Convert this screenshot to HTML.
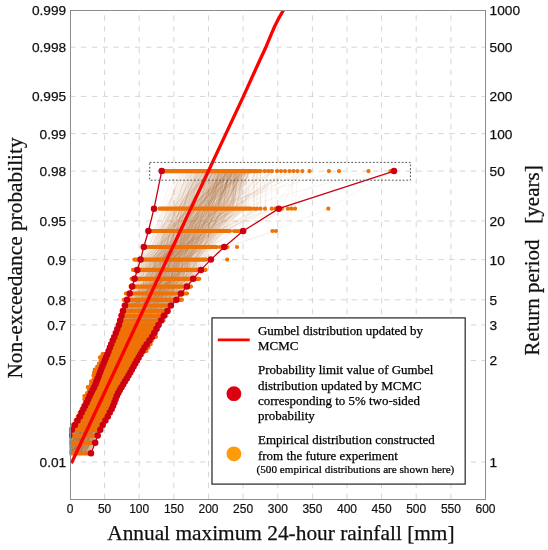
<!DOCTYPE html>
<html><head><meta charset="utf-8"><title>Gumbel plot</title>
<style>html,body{margin:0;padding:0;background:#fff;}svg{display:block;}</style>
</head><body>
<svg width="548" height="550" viewBox="0 0 548 550"><defs><clipPath id="c"><rect x="69.5" y="10.0" width="416.0" height="489.0"/></clipPath></defs><path d="M104.6 499V10M139.2 499V10M173.9 499V10M208.5 499V10M243.1 499V10M277.8 499V10M312.4 499V10M347 499V10M381.6 499V10M416.2 499V10M450.9 499V10" stroke="#d6d6d6" stroke-width="1" stroke-dasharray="5.45 5.42" fill="none"/><path d="M70 47.2H485.5M70 96.4H485.5M70 133.6H485.5M70 171.1H485.5M70 221H485.5M70 259.6H485.5M70 299.8H485.5M70 324.9H485.5M70 360.5H485.5M70 462H485.5" stroke="#d6d6d6" stroke-width="1" stroke-dasharray="5.5 5.33" fill="none"/><g clip-path="url(#c)"><path d="M75.8 453.3 84.1 442.8 84.1 435.6 84.1 429.8 84.6 424.9 88.6 420.4 95.3 416.4 95.7 412.6 97.5 409.1 103.5 405.7 106 402.4 108.7 399.2 113.4 396.1 116.4 393.1 117.2 390.1 118 387.2 118.8 384.2 122 381.3 123.2 378.4 123.2 375.5 124 372.5 124 369.6 124.2 366.6 128 363.6 132.6 360.5 133 357.4 134.8 354.2 142.2 351 144.1 347.6 144.2 344.2 145.9 340.6 148 336.9 153.4 333.1 155.8 329.1 156.8 324.9 159.8 320.5 161.2 315.8 162.1 310.9 164.8 305.5 167.1 299.8 169.9 293.5 172.4 286.6 177.8 278.8 182.5 269.9 193.4 259.6 208.4 247 222.9 231 239.7 208.7 309.5 171.1M74.1 453.3 84.2 442.8 91.3 435.6 91.9 429.8 93.3 424.9 96.1 420.4 98.2 416.4 99.5 412.6 101.4 409.1 102.9 405.7 103.5 402.4 103.9 399.2 103.9 396.1 103.9 393.1 103.9 390.1 103.9 387.2 103.9 384.2 103.9 381.3 106.7 378.4 106.7 375.5 106.7 372.5 106.7 369.6 109.3 366.6 109.3 363.6 109.3 360.5 109.3 357.4 109.3 354.2 113 351 125.3 347.6 126.4 344.2 130.1 340.6 132.5 336.9 132.5 333.1 132.5 329.1 137.8 324.9 138.9 320.5 140.4 315.8 148.2 310.9 160.4 305.5 161.5 299.8 162.7 293.5 163.5 286.6 165.6 278.8 169.9 269.9 174.4 259.6 181.6 247 188.2 231 203.1 208.7 214.1 171.1M78.1 453.3 88.9 442.8 91.5 435.6 91.6 429.8 92.5 424.9 95.1 420.4 95.8 416.4 104.3 412.6 105.6 409.1 105.6 405.7 105.6 402.4 110 399.2 110 396.1 111.8 393.1 111.8 390.1 111.8 387.2 113.4 384.2 113.4 381.3 116.6 378.4 116.6 375.5 116.6 372.5 116.6 369.6 116.6 366.6 119.5 363.6 119.5 360.5 123.4 357.4 133 354.2 139.2 351 144.6 347.6 147 344.2 147 340.6 149.7 336.9 149.7 333.1 149.7 329.1 149.7 324.9 149.7 320.5 152.1 315.8 152.6 310.9 152.6 305.5 156.6 299.8 166.1 293.5 169.5 286.6 170 278.8 174.8 269.9 174.9 259.6 182.5 247 194.5 231 199.1 208.7 238.8 171.1M62.5 453.3 73.8 442.8 76 435.6 77.5 429.8 80.7 424.9 82.5 420.4 87.9 416.4 92.5 412.6 92.5 409.1 95.1 405.7 96.8 402.4 97.4 399.2 97.4 396.1 98.1 393.1 98.2 390.1 98.2 387.2 98.2 384.2 99.6 381.3 102.5 378.4 102.5 375.5 102.8 372.5 104.3 369.6 106.8 366.6 113.9 363.6 114.1 360.5 117.3 357.4 120.3 354.2 125.1 351 128.7 347.6 128.7 344.2 128.7 340.6 129.6 336.9 129.6 333.1 131.9 329.1 131.9 324.9 140.6 320.5 141 315.8 141.2 310.9 147.2 305.5 151 299.8 151 293.5 158.8 286.6 160.3 278.8 164.9 269.9 179.1 259.6 185.8 247 196.7 231 206.1 208.7 230.2 171.1M82.6 453.3 84.5 442.8 85.6 435.6 88.8 429.8 91.7 424.9 96.3 420.4 101.9 416.4 105.7 412.6 108.9 409.1 110.6 405.7 111.5 402.4 114.9 399.2 115.7 396.1 118 393.1 118.5 390.1 120.9 387.2 122.2 384.2 123.4 381.3 124.8 378.4 127 375.5 127.8 372.5 128.1 369.6 132.1 366.6 133 363.6 133.8 360.5 133.8 357.4 134.9 354.2 139.9 351 140.4 347.6 142.3 344.2 149.3 340.6 151.7 336.9 151.7 333.1 151.7 329.1 152.2 324.9 156.7 320.5 157.6 315.8 157.6 310.9 157.9 305.5 158.7 299.8 159.9 293.5 163.4 286.6 167.2 278.8 169 269.9 175.3 259.6 183.7 247 192.5 231 198.5 208.7 228 171.1M69.4 453.3 72.3 442.8 77.5 435.6 78.4 429.8 81.3 424.9 82.7 420.4 82.9 416.4 84.1 412.6 88.5 409.1 90.8 405.7 91.3 402.4 91.3 399.2 91.3 396.1 91.3 393.1 91.3 390.1 91.3 387.2 94.6 384.2 94.6 381.3 96.7 378.4 96.7 375.5 96.7 372.5 99.9 369.6 108.1 366.6 108.6 363.6 108.6 360.5 108.6 357.4 108.6 354.2 112.7 351 112.7 347.6 113.9 344.2 115.5 340.6 115.8 336.9 118 333.1 120 329.1 124.4 324.9 125.4 320.5 126.7 315.8 128.6 310.9 128.9 305.5 135.6 299.8 138.5 293.5 147.3 286.6 148.3 278.8 150 269.9 150 259.6 158.6 247 166.2 231 182 208.7 201.6 171.1M70.7 453.3 83.8 442.8 89.3 435.6 91.5 429.8 94.1 424.9 95.6 420.4 97.1 416.4 101.4 412.6 102.4 409.1 105.8 405.7 106 402.4 108.3 399.2 108.3 396.1 110.1 393.1 114.2 390.1 117.3 387.2 119 384.2 121 381.3 126.2 378.4 127.1 375.5 129 372.5 129.4 369.6 130.8 366.6 131.6 363.6 133.1 360.5 133.1 357.4 134 354.2 141.8 351 142.9 347.6 144.4 344.2 144.7 340.6 146.9 336.9 146.9 333.1 149.9 329.1 149.9 324.9 150.2 320.5 152.3 315.8 152.3 310.9 153.7 305.5 155.1 299.8 158.8 293.5 163.8 286.6 172.5 278.8 172.5 269.9 178.4 259.6 184.6 247 199.4 231 213.9 208.7 218.5 171.1M71.3 453.3 77.8 442.8 83.2 435.6 83.2 429.8 86.1 424.9 86.3 420.4 86.5 416.4 87.8 412.6 88.3 409.1 89.3 405.7 93.8 402.4 94.8 399.2 94.8 396.1 97.9 393.1 98.7 390.1 106.5 387.2 113.5 384.2 116.6 381.3 118.9 378.4 119.3 375.5 119.7 372.5 119.7 369.6 122.8 366.6 130.2 363.6 130.8 360.5 130.8 357.4 130.8 354.2 145.1 351 146.6 347.6 148.2 344.2 149.3 340.6 151.9 336.9 151.9 333.1 151.9 329.1 151.9 324.9 152.5 320.5 154.6 315.8 157.9 310.9 164.2 305.5 164.2 299.8 166.6 293.5 176 286.6 185.2 278.8 188.7 269.9 191.3 259.6 204.9 247 212.9 231 221.6 208.7 239 171.1M66.4 453.3 75.5 442.8 76.4 435.6 79.1 429.8 80.6 424.9 82.2 420.4 82.8 416.4 84.6 412.6 86.1 409.1 87.2 405.7 89.3 402.4 89.3 399.2 89.3 396.1 89.4 393.1 90.5 390.1 90.5 387.2 92.3 384.2 92.3 381.3 95.1 378.4 95.1 375.5 95.1 372.5 95.3 369.6 97.8 366.6 99.5 363.6 100.7 360.5 100.7 357.4 102.6 354.2 109.4 351 110.5 347.6 112.3 344.2 113.6 340.6 114 336.9 116.5 333.1 119.7 329.1 122.6 324.9 125.1 320.5 142.8 315.8 142.8 310.9 142.8 305.5 144.6 299.8 155.4 293.5 161.5 286.6 166.9 278.8 169.3 269.9 169.3 259.6 177.5 247 187.6 231 194.5 208.7 234.1 171.1M76.9 453.3 84.6 442.8 87.1 435.6 90.8 429.8 92.8 424.9 94.4 420.4 96.2 416.4 97.9 412.6 97.9 409.1 99.6 405.7 99.6 402.4 99.6 399.2 107.1 396.1 112.5 393.1 112.5 390.1 112.5 387.2 112.5 384.2 112.8 381.3 114.8 378.4 114.8 375.5 115.4 372.5 115.4 369.6 115.4 366.6 115.4 363.6 115.4 360.5 115.4 357.4 116.9 354.2 121.6 351 123.3 347.6 124.9 344.2 124.9 340.6 129.8 336.9 129.8 333.1 129.8 329.1 129.8 324.9 129.8 320.5 129.8 315.8 130.3 310.9 130.3 305.5 137.4 299.8 142.2 293.5 144.5 286.6 147.5 278.8 163.5 269.9 163.5 259.6 176.8 247 196 231 211.7 208.7 247 171.1M72.6 453.3 80.6 442.8 80.6 435.6 82 429.8 82.7 424.9 93 420.4 93.5 416.4 93.5 412.6 93.5 409.1 93.8 405.7 97.6 402.4 106.7 399.2 106.7 396.1 109.5 393.1 109.6 390.1 109.6 387.2 109.6 384.2 110.2 381.3 118.6 378.4 118.6 375.5 118.6 372.5 119.1 369.6 126.5 366.6 126.9 363.6 129 360.5 129 357.4 129 354.2 132.1 351 132.1 347.6 132.1 344.2 132.1 340.6 132.1 336.9 138.8 333.1 141 329.1 143.9 324.9 153.2 320.5 153.5 315.8 156.8 310.9 160.2 305.5 166 299.8 168.1 293.5 171.2 286.6 175.8 278.8 178.4 269.9 180.6 259.6 187.8 247 194.9 231 224.9 208.7 272 171.1M83 453.3 86.4 442.8 90.7 435.6 91.1 429.8 91.7 424.9 97.3 420.4 98 416.4 100.6 412.6 103.9 409.1 106.5 405.7 109.5 402.4 112.8 399.2 112.8 396.1 113.3 393.1 113.3 390.1 113.3 387.2 113.9 384.2 114.3 381.3 119.7 378.4 119.7 375.5 120.1 372.5 121.2 369.6 122.2 366.6 122.2 363.6 124.6 360.5 124.6 357.4 125 354.2 127.6 351 127.6 347.6 127.6 344.2 129.2 340.6 129.2 336.9 129.2 333.1 129.2 329.1 129.2 324.9 131.5 320.5 136.3 315.8 136.3 310.9 139.2 305.5 145.3 299.8 147.3 293.5 148.9 286.6 150 278.8 150 269.9 159.7 259.6 167.2 247 169 231 177.6 208.7 202.4 171.1M68.2 453.3 73.7 442.8 74.7 435.6 93 429.8 95.1 424.9 95.4 420.4 96.3 416.4 97.5 412.6 97.7 409.1 97.7 405.7 98.1 402.4 98.1 399.2 98.1 396.1 99.6 393.1 99.6 390.1 100.1 387.2 101.9 384.2 102.7 381.3 104.2 378.4 109.6 375.5 109.6 372.5 110.8 369.6 112 366.6 112 363.6 113.7 360.5 113.7 357.4 113.7 354.2 120.4 351 126.7 347.6 126.8 344.2 126.8 340.6 126.8 336.9 126.8 333.1 126.8 329.1 126.8 324.9 126.8 320.5 127.7 315.8 128.9 310.9 129.1 305.5 138.6 299.8 140.4 293.5 154 286.6 154.4 278.8 169.6 269.9 169.6 259.6 174.3 247 179.6 231 207.5 208.7 220.8 171.1M72.2 453.3 72.8 442.8 74 435.6 82.2 429.8 85 424.9 85.7 420.4 86 416.4 87.2 412.6 87.5 409.1 88.3 405.7 89.2 402.4 89.2 399.2 89.2 396.1 89.2 393.1 90.8 390.1 90.8 387.2 93.4 384.2 94.4 381.3 96.5 378.4 97.3 375.5 97.3 372.5 98.3 369.6 104.2 366.6 105.4 363.6 109.3 360.5 113.7 357.4 119.4 354.2 123.7 351 124.1 347.6 125.8 344.2 143.4 340.6 144.4 336.9 144.9 333.1 150.9 329.1 151.3 324.9 153.9 320.5 154.7 315.8 154.7 310.9 155.9 305.5 158.2 299.8 160.5 293.5 168.4 286.6 176.5 278.8 183 269.9 187.6 259.6 197.4 247 213.6 231 222.6 208.7 227.1 171.1M83.9 453.3 87.9 442.8 90 435.6 93.6 429.8 96.7 424.9 97.7 420.4 99.3 416.4 100.2 412.6 101.2 409.1 101.2 405.7 101.3 402.4 108.2 399.2 108.5 396.1 112.2 393.1 114.1 390.1 115.1 387.2 116.6 384.2 117.7 381.3 119.3 378.4 119.3 375.5 120.4 372.5 120.4 369.6 120.4 366.6 120.6 363.6 122 360.5 122 357.4 122 354.2 123.2 351 123.2 347.6 123.2 344.2 123.2 340.6 123.2 336.9 123.2 333.1 123.2 329.1 124 324.9 126 320.5 127.3 315.8 130.6 310.9 130.6 305.5 137.5 299.8 139.2 293.5 145.2 286.6 148.1 278.8 148.5 269.9 148.5 259.6 163.8 247 176.7 231 209.2 208.7 217 171.1M73.1 453.3 81.9 442.8 83.9 435.6 89.4 429.8 92.6 424.9 94.6 420.4 95.9 416.4 96.6 412.6 96.7 409.1 96.7 405.7 96.7 402.4 96.7 399.2 96.7 396.1 96.7 393.1 96.9 390.1 97.7 387.2 98.9 384.2 99.1 381.3 102.5 378.4 103 375.5 103 372.5 103 369.6 103 366.6 103.7 363.6 104.9 360.5 105.4 357.4 107.2 354.2 112.3 351 112.4 347.6 114.5 344.2 115.6 340.6 115.6 336.9 118.8 333.1 119.9 329.1 120.9 324.9 121.4 320.5 123.5 315.8 125.1 310.9 125.1 305.5 131.3 299.8 139.8 293.5 142.5 286.6 144 278.8 145.3 269.9 145.9 259.6 157 247 161.4 231 170.4 208.7 183.8 171.1M87.6 453.3 92.1 442.8 93.9 435.6 97.4 429.8 99.9 424.9 103.6 420.4 105.7 416.4 107.9 412.6 109.4 409.1 110.2 405.7 111 402.4 115.1 399.2 115.3 396.1 117.6 393.1 117.6 390.1 118.9 387.2 119.3 384.2 119.4 381.3 120.4 378.4 122.2 375.5 122.2 372.5 122.2 369.6 123 366.6 126.1 363.6 131.7 360.5 131.7 357.4 131.7 354.2 135.5 351 135.6 347.6 138 344.2 140.4 340.6 144.1 336.9 144.1 333.1 144.1 329.1 145.3 324.9 145.3 320.5 145.3 315.8 145.3 310.9 145.3 305.5 150.6 299.8 152.9 293.5 156.2 286.6 158.9 278.8 161.3 269.9 165.7 259.6 172.4 247 181.6 231 189.2 208.7 210 171.1M78.7 453.3 78.7 442.8 82.1 435.6 86.7 429.8 89.3 424.9 89.9 420.4 90.4 416.4 97.3 412.6 99.4 409.1 99.4 405.7 100 402.4 100.7 399.2 100.7 396.1 100.7 393.1 105.3 390.1 105.3 387.2 105.3 384.2 105.3 381.3 105.3 378.4 105.3 375.5 105.3 372.5 105.3 369.6 105.3 366.6 105.3 363.6 107.6 360.5 107.6 357.4 114.4 354.2 119.6 351 122.2 347.6 123.8 344.2 130.5 340.6 134.1 336.9 135.7 333.1 136.6 329.1 136.6 324.9 136.6 320.5 136.6 315.8 137.1 310.9 137.1 305.5 145.7 299.8 154.2 293.5 158.2 286.6 162.4 278.8 164.4 269.9 164.4 259.6 169.6 247 195 231 201.9 208.7 216.7 171.1M81.9 453.3 82.5 442.8 90.1 435.6 91.7 429.8 92.8 424.9 101.4 420.4 103 416.4 103.7 412.6 104 409.1 105.5 405.7 105.7 402.4 107.1 399.2 107.1 396.1 110.5 393.1 110.5 390.1 110.6 387.2 113 384.2 113 381.3 118.2 378.4 118.8 375.5 118.8 372.5 121.1 369.6 122.6 366.6 125.4 363.6 125.4 360.5 126.2 357.4 126.3 354.2 129.4 351 129.4 347.6 136.9 344.2 137.4 340.6 137.4 336.9 139.3 333.1 142.9 329.1 149.9 324.9 152.4 320.5 158.1 315.8 158.1 310.9 160.7 305.5 165.3 299.8 168.7 293.5 171.1 286.6 174.7 278.8 174.7 269.9 174.7 259.6 184.4 247 185.6 231 208.7 208.7 214.8 171.1M80.9 453.3 81.1 442.8 89 435.6 95.4 429.8 96.9 424.9 98.7 420.4 99.3 416.4 100.1 412.6 101.1 409.1 102.9 405.7 102.9 402.4 105.5 399.2 105.5 396.1 107.2 393.1 108 390.1 108 387.2 108.4 384.2 114.2 381.3 114.4 378.4 114.5 375.5 114.8 372.5 114.8 369.6 115.6 366.6 121.2 363.6 129.8 360.5 129.8 357.4 129.8 354.2 131.5 351 131.5 347.6 135.9 344.2 135.9 340.6 135.9 336.9 135.9 333.1 137.4 329.1 139.1 324.9 139.1 320.5 139.1 315.8 139.1 310.9 139.1 305.5 152.5 299.8 157.2 293.5 169.8 286.6 174.6 278.8 178.2 269.9 178.2 259.6 186.5 247 193.4 231 204.3 208.7 215.7 171.1M76.4 453.3 92.3 442.8 96.1 435.6 98.2 429.8 101.5 424.9 104.1 420.4 106.2 416.4 108.6 412.6 110 409.1 111.2 405.7 112.1 402.4 115.7 399.2 116.5 396.1 119.1 393.1 119.3 390.1 121.1 387.2 122.9 384.2 124.1 381.3 126 378.4 127.2 375.5 129.9 372.5 131 369.6 133 366.6 134.3 363.6 135.3 360.5 135.3 357.4 137.4 354.2 141.5 351 141.5 347.6 145 344.2 145.8 340.6 147.2 336.9 148.7 333.1 149.3 329.1 154.2 324.9 157.2 320.5 162.3 315.8 164 310.9 164.9 305.5 167.2 299.8 170.4 293.5 171.8 286.6 175.7 278.8 178.3 269.9 178.9 259.6 188.8 247 194.1 231 210.1 208.7 242.5 171.1M63.1 453.3 65.9 442.8 68.8 435.6 70.9 429.8 76.2 424.9 78.1 420.4 81.7 416.4 83.3 412.6 85.5 409.1 87 405.7 92.7 402.4 92.7 399.2 92.7 396.1 94.2 393.1 96 390.1 97.2 387.2 101.5 384.2 101.5 381.3 103.4 378.4 104.3 375.5 104.3 372.5 109.6 369.6 120.1 366.6 122.4 363.6 122.4 360.5 124.1 357.4 124.1 354.2 136.1 351 136.1 347.6 141.9 344.2 144.8 340.6 145.6 336.9 147 333.1 148.3 329.1 149 324.9 151.7 320.5 154.5 315.8 161.3 310.9 164.1 305.5 166.3 299.8 169.5 293.5 175.7 286.6 179.7 278.8 182.7 269.9 182.7 259.6 186.9 247 188.4 231 197.8 208.7 221.1 171.1M78.1 453.3 83 442.8 83.3 435.6 83.9 429.8 86.8 424.9 88.3 420.4 88.9 416.4 89.1 412.6 91 409.1 92.9 405.7 93.2 402.4 93.2 399.2 93.2 396.1 94.8 393.1 102.4 390.1 104.7 387.2 109 384.2 110.9 381.3 111.1 378.4 111.1 375.5 112.8 372.5 113.8 369.6 121.7 366.6 121.7 363.6 121.7 360.5 121.7 357.4 121.7 354.2 123.5 351 123.9 347.6 123.9 344.2 125.4 340.6 125.6 336.9 125.7 333.1 128.2 329.1 128.6 324.9 128.6 320.5 128.6 315.8 129.4 310.9 129.4 305.5 136.7 299.8 137.2 293.5 140.7 286.6 150.8 278.8 151.2 269.9 167.5 259.6 184.1 247 207.3 231 215.5 208.7 231.5 171.1M59 453.3 66.3 442.8 73.9 435.6 74.5 429.8 76.5 424.9 80.1 420.4 83.5 416.4 84.2 412.6 89.8 409.1 98.4 405.7 100.2 402.4 101.2 399.2 101.2 396.1 102.2 393.1 107.7 390.1 109.8 387.2 112.4 384.2 112.4 381.3 113.8 378.4 114.8 375.5 115.4 372.5 118 369.6 120.5 366.6 120.5 363.6 121 360.5 121 357.4 121 354.2 122.7 351 123.2 347.6 129.5 344.2 133.7 340.6 134.3 336.9 134.7 333.1 135.9 329.1 135.9 324.9 143.8 320.5 143.8 315.8 145.1 310.9 149 305.5 153.8 299.8 154.5 293.5 156.4 286.6 156.7 278.8 157.9 269.9 159.4 259.6 171.7 247 182 231 190.5 208.7 213.9 171.1M65.5 453.3 76.5 442.8 79.7 435.6 82.4 429.8 83.4 424.9 86.2 420.4 91.1 416.4 91.3 412.6 100.7 409.1 103.2 405.7 103.2 402.4 104.3 399.2 104.5 396.1 104.8 393.1 104.8 390.1 104.8 387.2 104.8 384.2 104.8 381.3 104.8 378.4 110.4 375.5 110.4 372.5 110.4 369.6 119.5 366.6 124.5 363.6 126.2 360.5 127.1 357.4 133.3 354.2 136.8 351 137 347.6 137 344.2 137.7 340.6 140 336.9 140.9 333.1 141.5 329.1 149.1 324.9 150.8 320.5 150.8 315.8 150.8 310.9 161.5 305.5 164.1 299.8 170.6 293.5 174.5 286.6 181 278.8 186.6 269.9 186.6 259.6 190.6 247 200.6 231 214.3 208.7 226.6 171.1M88.7 453.3 93.3 442.8 95.2 435.6 98.8 429.8 101.1 424.9 103.3 420.4 106.4 416.4 108.2 412.6 109.8 409.1 110.9 405.7 111.8 402.4 114.8 399.2 114.8 396.1 117 393.1 117 390.1 117.7 387.2 120.3 384.2 120.7 381.3 122.5 378.4 125.3 375.5 126.9 372.5 127.9 369.6 129 366.6 129.8 363.6 131.1 360.5 131.1 357.4 131.1 354.2 133.5 351 134.6 347.6 135 344.2 139.1 340.6 144.2 336.9 144.8 333.1 145.1 329.1 150.9 324.9 153.4 320.5 153.9 315.8 153.9 310.9 157.6 305.5 158.8 299.8 162.2 293.5 165.8 286.6 167.7 278.8 169.3 269.9 169.3 259.6 175.4 247 177.2 231 184.7 208.7 237.3 171.1M72.5 453.3 73 442.8 74.2 435.6 74.5 429.8 76.3 424.9 77.7 420.4 79.6 416.4 83 412.6 83.9 409.1 86.4 405.7 88.4 402.4 88.4 399.2 88.4 396.1 91.1 393.1 92.6 390.1 92.6 387.2 94.5 384.2 94.5 381.3 98 378.4 98 375.5 98 372.5 98 369.6 98.8 366.6 100.2 363.6 101.5 360.5 101.5 357.4 103.3 354.2 110.8 351 111.1 347.6 112.6 344.2 114.5 340.6 115.2 336.9 118.4 333.1 120.9 329.1 123.5 324.9 125.3 320.5 126.3 315.8 129 310.9 129 305.5 135.5 299.8 136.6 293.5 143.5 286.6 145.8 278.8 146.4 269.9 146.5 259.6 158.9 247 164.6 231 176.5 208.7 189.4 171.1M83.2 453.3 91.3 442.8 95.8 435.6 98.5 429.8 100.1 424.9 101.4 420.4 103.1 416.4 104.5 412.6 105.6 409.1 106.7 405.7 107.3 402.4 111 399.2 111 396.1 113.8 393.1 113.8 390.1 116.7 387.2 117.6 384.2 117.6 381.3 122 378.4 122 375.5 122.5 372.5 122.5 369.6 122.5 366.6 123.6 363.6 124.7 360.5 124.7 357.4 129.8 354.2 133 351 133 347.6 133 344.2 135 340.6 135 336.9 142.2 333.1 142.2 329.1 145 324.9 147.9 320.5 150.7 315.8 150.7 310.9 150.7 305.5 152.2 299.8 153.5 293.5 157.9 286.6 159.8 278.8 161.4 269.9 161.4 259.6 180 247 182.6 231 190.7 208.7 197.1 171.1M85.6 453.3 86.9 442.8 87.6 435.6 88 429.8 93.1 424.9 93.5 420.4 97.5 416.4 98.4 412.6 100.2 409.1 104.7 405.7 105.4 402.4 107.3 399.2 107.5 396.1 111.3 393.1 111.9 390.1 114.6 387.2 115 384.2 117.2 381.3 118.1 378.4 118.1 375.5 121.8 372.5 123.6 369.6 128.4 366.6 128.6 363.6 128.9 360.5 128.9 357.4 131.2 354.2 135.6 351 140.2 347.6 141.3 344.2 141.3 340.6 146.6 336.9 146.6 333.1 154.5 329.1 155.8 324.9 159.5 320.5 160.7 315.8 161.8 310.9 163.2 305.5 170.5 299.8 178 293.5 182.7 286.6 187.4 278.8 192.4 269.9 194.1 259.6 201.9 247 218.1 231 235.7 208.7 244 171.1M81.1 453.3 86.6 442.8 92.8 435.6 94.7 429.8 98.2 424.9 99.8 420.4 101.2 416.4 102.2 412.6 102.5 409.1 103.8 405.7 104.4 402.4 105.9 399.2 105.9 396.1 107.5 393.1 107.5 390.1 111.5 387.2 111.5 384.2 111.7 381.3 113.5 378.4 113.5 375.5 118.2 372.5 120.1 369.6 127.9 366.6 129.3 363.6 129.3 360.5 129.3 357.4 129.3 354.2 134.8 351 135.5 347.6 138.6 344.2 138.6 340.6 138.6 336.9 138.6 333.1 138.6 329.1 138.6 324.9 138.6 320.5 138.6 315.8 148.6 310.9 151.8 305.5 153.4 299.8 156.4 293.5 162.1 286.6 163.3 278.8 168.4 269.9 168.4 259.6 175 247 178.6 231 185.3 208.7 206.7 171.1M63.7 453.3 66.9 442.8 72.4 435.6 77 429.8 78.4 424.9 83.3 420.4 84 416.4 84.7 412.6 85.3 409.1 88.2 405.7 91.6 402.4 96.7 399.2 96.7 396.1 98.4 393.1 98.4 390.1 98.4 387.2 101 384.2 101 381.3 107 378.4 107 375.5 107.3 372.5 113.9 369.6 113.9 366.6 113.9 363.6 113.9 360.5 113.9 357.4 116.3 354.2 122.4 351 122.8 347.6 130.5 344.2 130.5 340.6 130.5 336.9 132.6 333.1 133.5 329.1 142.4 324.9 142.4 320.5 151.5 315.8 156.6 310.9 156.6 305.5 159.8 299.8 162.2 293.5 163.3 286.6 172 278.8 176.4 269.9 176.4 259.6 194.6 247 197.8 231 206 208.7 224.5 171.1M81.4 453.3 84.5 442.8 84.7 435.6 87.2 429.8 88.9 424.9 93.7 420.4 94.5 416.4 96.8 412.6 101 409.1 101.4 405.7 101.8 402.4 104.5 399.2 104.5 396.1 104.5 393.1 104.5 390.1 104.5 387.2 112.3 384.2 112.3 381.3 113 378.4 113.5 375.5 113.5 372.5 113.5 369.6 113.5 366.6 117.2 363.6 117.2 360.5 117.2 357.4 126.2 354.2 137.7 351 140.5 347.6 148.1 344.2 148.1 340.6 151.4 336.9 151.4 333.1 151.4 329.1 152.1 324.9 156.3 320.5 158.3 315.8 159.2 310.9 168.1 305.5 173.2 299.8 175.2 293.5 178.2 286.6 185.8 278.8 194.5 269.9 194.5 259.6 201.1 247 212.3 231 232.5 208.7 234.9 171.1M78.4 453.3 86.5 442.8 87.2 435.6 88.3 429.8 89.8 424.9 92 420.4 93.1 416.4 94.3 412.6 95.1 409.1 95.1 405.7 96.3 402.4 96.3 399.2 96.3 396.1 96.3 393.1 96.3 390.1 96.3 387.2 97.8 384.2 97.8 381.3 101 378.4 101 375.5 101 372.5 101 369.6 101 366.6 101.7 363.6 102.9 360.5 102.9 357.4 105 354.2 110.1 351 110.6 347.6 111.9 344.2 114 340.6 114.2 336.9 116.9 333.1 117.6 329.1 118.8 324.9 119.3 320.5 121.9 315.8 124.1 310.9 124.8 305.5 129.2 299.8 131 293.5 137.7 286.6 139.4 278.8 140.8 269.9 141.1 259.6 152.7 247 157.6 231 169.2 208.7 181.3 171.1M65 453.3 76.7 442.8 77.3 435.6 80.7 429.8 82.3 424.9 86.1 420.4 89.1 416.4 91.6 412.6 97 409.1 102.8 405.7 103 402.4 105.3 399.2 108.5 396.1 111.7 393.1 111.7 390.1 112.6 387.2 116.6 384.2 119.3 381.3 121.8 378.4 125.8 375.5 127 372.5 127.8 369.6 129.1 366.6 132.8 363.6 134.1 360.5 136.1 357.4 137.7 354.2 141.9 351 142.1 347.6 142.1 344.2 142.7 340.6 145.5 336.9 147.9 333.1 147.9 329.1 148.1 324.9 155.4 320.5 158.2 315.8 158.2 310.9 164.5 305.5 164.9 299.8 167.6 293.5 175.2 286.6 180.8 278.8 191.2 269.9 191.4 259.6 199.7 247 206.6 231 224.5 208.7 241.1 171.1M75.4 453.3 79 442.8 83.8 435.6 83.8 429.8 83.8 424.9 85.8 420.4 90.3 416.4 90.3 412.6 90.6 409.1 90.9 405.7 91.4 402.4 96.6 399.2 98.5 396.1 101.7 393.1 112 390.1 115.7 387.2 115.7 384.2 123 381.3 125.2 378.4 125.5 375.5 127.5 372.5 129 369.6 131.8 366.6 132.7 363.6 135.9 360.5 136.5 357.4 138 354.2 143 351 144.7 347.6 147.2 344.2 149.2 340.6 153.2 336.9 153.2 333.1 153.5 329.1 157 324.9 160.7 320.5 163.4 315.8 165.3 310.9 167.9 305.5 172.5 299.8 175.3 293.5 179 286.6 187.7 278.8 190.4 269.9 190.4 259.6 202.8 247 209.7 231 222.1 208.7 244.2 171.1M74.3 453.3 76.1 442.8 84.1 435.6 84.1 429.8 84.7 424.9 87.2 420.4 87.2 416.4 87.9 412.6 90 409.1 90.6 405.7 90.7 402.4 90.7 399.2 90.7 396.1 90.7 393.1 90.7 390.1 90.7 387.2 93.2 384.2 93.2 381.3 95.6 378.4 95.6 375.5 95.6 372.5 95.6 369.6 97.9 366.6 99.7 363.6 101 360.5 101 357.4 102.8 354.2 108.8 351 109.6 347.6 111.4 344.2 112.8 340.6 113.3 336.9 116.1 333.1 117.9 329.1 119.2 324.9 120.7 320.5 122.5 315.8 124.6 310.9 125.4 305.5 130.9 299.8 133.2 293.5 145.8 286.6 145.8 278.8 152 269.9 153.8 259.6 175.3 247 183.3 231 202.7 208.7 247.8 171.1M70.2 453.3 71.5 442.8 76.5 435.6 76.7 429.8 83.1 424.9 84 420.4 84.2 416.4 86 412.6 86.3 409.1 88.9 405.7 91.4 402.4 91.4 399.2 91.4 396.1 94.4 393.1 96.9 390.1 96.9 387.2 99.2 384.2 101.5 381.3 106.6 378.4 107.9 375.5 107.9 372.5 108 369.6 122.4 366.6 123.1 363.6 126 360.5 126 357.4 128.2 354.2 133 351 140.1 347.6 143.3 344.2 144.8 340.6 149.8 336.9 152.8 333.1 154.2 329.1 157.5 324.9 160.9 320.5 162.5 315.8 162.5 310.9 169.4 305.5 174.3 299.8 177.5 293.5 179.2 286.6 186.4 278.8 192.8 269.9 192.8 259.6 205.3 247 216.4 231 240.5 208.7 248.3 171.1M81.4 453.3 81.4 442.8 81.4 435.6 81.4 429.8 81.4 424.9 87 420.4 89.5 416.4 89.9 412.6 91.7 409.1 92.3 405.7 94.7 402.4 94.7 399.2 94.7 396.1 98.5 393.1 98.5 390.1 98.5 387.2 98.7 384.2 98.7 381.3 98.7 378.4 98.7 375.5 98.7 372.5 98.7 369.6 99.9 366.6 101 363.6 102.3 360.5 102.3 357.4 103.6 354.2 109.5 351 110 347.6 111.5 344.2 112.9 340.6 113.5 336.9 116.1 333.1 117.7 329.1 118.9 324.9 119.4 320.5 121.6 315.8 123.4 310.9 124 305.5 127.4 299.8 130.2 293.5 134.8 286.6 134.8 278.8 138.1 269.9 138.2 259.6 149.5 247 154.4 231 163.9 208.7 194.2 171.1M71.1 453.3 73.6 442.8 79.1 435.6 80 429.8 82.6 424.9 84.4 420.4 92 416.4 94.6 412.6 96.2 409.1 98.9 405.7 99.4 402.4 99.4 399.2 99.4 396.1 99.4 393.1 99.4 390.1 99.4 387.2 101.7 384.2 101.7 381.3 104.5 378.4 113.7 375.5 114 372.5 114 369.6 114 366.6 114 363.6 114 360.5 114 357.4 114 354.2 119.1 351 119.8 347.6 119.8 344.2 131.9 340.6 131.9 336.9 131.9 333.1 132.2 329.1 132.2 324.9 132.2 320.5 133.4 315.8 135.5 310.9 137.5 305.5 155.3 299.8 161 293.5 168.2 286.6 172.3 278.8 174.2 269.9 178.6 259.6 188 247 192.4 231 208.9 208.7 220.5 171.1M89.8 453.3 93.9 442.8 96.5 435.6 98.1 429.8 99.8 424.9 101.7 420.4 104.5 416.4 107.6 412.6 108.3 409.1 109.1 405.7 109.8 402.4 114.2 399.2 114.2 396.1 117.9 393.1 117.9 390.1 119.5 387.2 121.1 384.2 121.6 381.3 123 378.4 123.5 375.5 123.7 372.5 125.2 369.6 125.3 366.6 125.3 363.6 128.6 360.5 128.6 357.4 131.1 354.2 138.1 351 138.9 347.6 139.5 344.2 141.8 340.6 148.3 336.9 148.8 333.1 149.2 329.1 149.2 324.9 153.6 320.5 155.7 315.8 155.7 310.9 156.1 305.5 158 299.8 158.9 293.5 160.4 286.6 162.2 278.8 166.4 269.9 167.3 259.6 177.4 247 189.4 231 197.7 208.7 212.7 171.1M80.7 453.3 85.7 442.8 86.7 435.6 90.6 429.8 94.6 424.9 95.8 420.4 99.5 416.4 99.8 412.6 102.8 409.1 103.5 405.7 110.1 402.4 113.2 399.2 113.2 396.1 115.4 393.1 115.4 390.1 120.4 387.2 121.5 384.2 122.1 381.3 123.6 378.4 125.7 375.5 129.1 372.5 130.4 369.6 132 366.6 134.6 363.6 136.9 360.5 137.9 357.4 139.7 354.2 144.9 351 146.4 347.6 147.4 344.2 147.5 340.6 150 336.9 153.3 333.1 155.7 329.1 155.7 324.9 160.4 320.5 161.5 315.8 165.6 310.9 167.4 305.5 170.4 299.8 172.9 293.5 174 286.6 189.9 278.8 193.5 269.9 193.5 259.6 206.5 247 217 231 232.9 208.7 233.7 171.1M74.5 453.3 80.5 442.8 80.5 435.6 83.6 429.8 84.3 424.9 85.8 420.4 85.8 416.4 87.3 412.6 88 409.1 88.4 405.7 89 402.4 89 399.2 89 396.1 89 393.1 90.2 390.1 90.2 387.2 91.9 384.2 93 381.3 96 378.4 96 375.5 96 372.5 96.2 369.6 98.4 366.6 99.9 363.6 101.3 360.5 101.3 357.4 103.4 354.2 109.2 351 110 347.6 111.5 344.2 112.8 340.6 113.4 336.9 116 333.1 117.4 329.1 118.6 324.9 119.3 320.5 121.4 315.8 123.3 310.9 123.9 305.5 126.9 299.8 129.8 293.5 134.3 286.6 136.3 278.8 136.3 269.9 139.4 259.6 151.5 247 156.6 231 164.9 208.7 175.6 171.1M85.9 453.3 89.7 442.8 93.4 435.6 96.8 429.8 98.6 424.9 101 420.4 102.3 416.4 103.5 412.6 103.8 409.1 104.9 405.7 105.9 402.4 107.8 399.2 107.8 396.1 107.8 393.1 107.8 390.1 107.8 387.2 107.8 384.2 107.8 381.3 107.8 378.4 107.8 375.5 107.9 372.5 108.3 369.6 109.9 366.6 109.9 363.6 115 360.5 115 357.4 115 354.2 117.3 351 117.8 347.6 119.2 344.2 120 340.6 120 336.9 120.2 333.1 121.5 329.1 121.7 324.9 122.8 320.5 124.4 315.8 125.7 310.9 125.7 305.5 134.1 299.8 136.1 293.5 140.1 286.6 141.2 278.8 143 269.9 158.3 259.6 167.1 247 173.1 231 183.5 208.7 192.2 171.1M74.2 453.3 81.3 442.8 86.1 435.6 87.8 429.8 95.9 424.9 98.5 420.4 99.2 416.4 99.2 412.6 101 409.1 103.1 405.7 103.1 402.4 106.6 399.2 109.5 396.1 111.1 393.1 111.1 390.1 111.1 387.2 121.3 384.2 122.9 381.3 124.6 378.4 127.4 375.5 127.8 372.5 128.7 369.6 130 366.6 131.3 363.6 133.9 360.5 133.9 357.4 134.3 354.2 137.6 351 140.7 347.6 140.7 344.2 141.9 340.6 145.1 336.9 145.1 333.1 145.1 329.1 145.1 324.9 146.3 320.5 153.8 315.8 154.3 310.9 154.6 305.5 161.7 299.8 163.5 293.5 165.2 286.6 171.6 278.8 171.6 269.9 171.6 259.6 186.2 247 201.7 231 215.7 208.7 225.6 171.1M71 453.3 73.5 442.8 74.4 435.6 81.7 429.8 84.8 424.9 85.6 420.4 90 416.4 90.7 412.6 95.1 409.1 97.2 405.7 97.6 402.4 97.6 399.2 97.6 396.1 107.2 393.1 114.4 390.1 116.8 387.2 120.4 384.2 121.1 381.3 126.3 378.4 129 375.5 130.8 372.5 132.1 369.6 134.2 366.6 136 363.6 137.9 360.5 138.6 357.4 140.8 354.2 146.3 351 147.9 347.6 150.2 344.2 151.7 340.6 155.7 336.9 155.7 333.1 157.8 329.1 159.3 324.9 163.4 320.5 166.1 315.8 168.2 310.9 171.1 305.5 178.2 299.8 181.9 293.5 187.7 286.6 194.4 278.8 200 269.9 201.9 259.6 210.7 247 221.1 231 271.7 208.7 271.7 171.1M79.1 453.3 79.7 442.8 81.9 435.6 84.8 429.8 91.5 424.9 95.8 420.4 99.7 416.4 102.8 412.6 103 409.1 104.4 405.7 108.6 402.4 111.8 399.2 111.8 396.1 114.5 393.1 116 390.1 119.6 387.2 121.4 384.2 122.3 381.3 123.7 378.4 124.7 375.5 125.7 372.5 125.7 369.6 126.2 366.6 126.2 363.6 126.2 360.5 126.2 357.4 126.2 354.2 126.2 351 129.3 347.6 129.3 344.2 129.3 340.6 129.3 336.9 129.3 333.1 131.3 329.1 131.3 324.9 133.5 320.5 143.1 315.8 153.5 310.9 153.5 305.5 153.6 299.8 155.8 293.5 161.5 286.6 164.9 278.8 168 269.9 168 259.6 176.5 247 184.8 231 192.4 208.7 208 171.1M66.4 453.3 67.9 442.8 73.3 435.6 75.1 429.8 81.2 424.9 82.9 420.4 83.4 416.4 84.1 412.6 86.6 409.1 88.5 405.7 91 402.4 91 399.2 91 396.1 91.2 393.1 91.7 390.1 91.7 387.2 95.4 384.2 95.7 381.3 99.5 378.4 99.5 375.5 99.5 372.5 99.5 369.6 106 366.6 106.5 363.6 106.5 360.5 109.4 357.4 119.2 354.2 122.8 351 125.7 347.6 125.9 344.2 132 340.6 135.5 336.9 135.5 333.1 140.4 329.1 140.5 324.9 148.7 320.5 148.7 315.8 148.7 310.9 151.2 305.5 154.9 299.8 160.4 293.5 164.8 286.6 167.5 278.8 168.4 269.9 168.4 259.6 176.4 247 201.4 231 207.6 208.7 226.5 171.1M71.8 453.3 78.9 442.8 82.3 435.6 84 429.8 85.4 424.9 85.9 420.4 91.2 416.4 96.8 412.6 97.1 409.1 100.5 405.7 102.7 402.4 104.7 399.2 104.7 396.1 105.6 393.1 107.1 390.1 107.1 387.2 107.1 384.2 107.1 381.3 107.1 378.4 109.1 375.5 109.1 372.5 112.5 369.6 112.8 366.6 112.8 363.6 115.1 360.5 115.1 357.4 115.1 354.2 120.1 351 122.8 347.6 127.7 344.2 127.7 340.6 127.9 336.9 128.2 333.1 128.3 329.1 129.3 324.9 133 320.5 133.8 315.8 145.5 310.9 145.5 305.5 148.8 299.8 153.1 293.5 164.7 286.6 170.9 278.8 175 269.9 177.9 259.6 185.1 247 206.5 231 214.4 208.7 236.7 171.1M75.7 453.3 83.5 442.8 83.5 435.6 83.5 429.8 83.5 424.9 88.1 420.4 88.1 416.4 90.1 412.6 90.4 409.1 95.9 405.7 95.9 402.4 102.5 399.2 102.5 396.1 107.4 393.1 107.4 390.1 107.4 387.2 107.4 384.2 107.4 381.3 109 378.4 109 375.5 109 372.5 109 369.6 109 366.6 111.1 363.6 116.3 360.5 116.3 357.4 116.3 354.2 126.6 351 129.4 347.6 131.5 344.2 139.5 340.6 141.7 336.9 141.7 333.1 141.7 329.1 141.7 324.9 141.7 320.5 141.7 315.8 143.7 310.9 143.7 305.5 148.9 299.8 151.5 293.5 155.1 286.6 155.1 278.8 160.3 269.9 168.3 259.6 174.6 247 210.9 231 219.4 208.7 224.1 171.1M68.1 453.3 70.8 442.8 73.5 435.6 77.8 429.8 83.1 424.9 84.9 420.4 88.2 416.4 88.9 412.6 91.6 409.1 92.1 405.7 94.3 402.4 94.3 399.2 96.7 396.1 103.6 393.1 104.4 390.1 107.8 387.2 109.5 384.2 113.7 381.3 114.8 378.4 114.8 375.5 114.8 372.5 114.8 369.6 117.9 366.6 119.3 363.6 122.5 360.5 122.5 357.4 122.5 354.2 124.1 351 125.2 347.6 125.3 344.2 125.6 340.6 129.5 336.9 136.1 333.1 137.9 329.1 140.1 324.9 140.1 320.5 141.2 315.8 143.2 310.9 155.4 305.5 158.5 299.8 162.1 293.5 164.2 286.6 175.9 278.8 176.1 269.9 176.1 259.6 182.2 247 188.9 231 209.8 208.7 229.8 171.1M63 453.3 69.1 442.8 73.6 435.6 79.3 429.8 80.8 424.9 81.7 420.4 83.6 416.4 86.5 412.6 87.4 409.1 91.6 405.7 92.2 402.4 92.2 399.2 92.2 396.1 93 393.1 93.1 390.1 93.1 387.2 93.8 384.2 93.8 381.3 95.4 378.4 95.4 375.5 96.4 372.5 97.4 369.6 99.3 366.6 100.8 363.6 102 360.5 102 357.4 103.7 354.2 109.8 351 110.3 347.6 111.7 344.2 113.2 340.6 113.8 336.9 117.4 333.1 119.2 329.1 120.2 324.9 124.3 320.5 126.9 315.8 128.3 310.9 134.2 305.5 139.8 299.8 142 293.5 145.9 286.6 145.9 278.8 147.8 269.9 149.5 259.6 159.9 247 165.8 231 176.7 208.7 192.9 171.1M86.8 453.3 87.6 442.8 91.8 435.6 92.4 429.8 96.2 424.9 100.6 420.4 102.6 416.4 105.9 412.6 107.8 409.1 108.5 405.7 108.5 402.4 111.4 399.2 111.4 396.1 112.8 393.1 114.1 390.1 114.1 387.2 117.1 384.2 117.1 381.3 118.8 378.4 118.8 375.5 120.2 372.5 122.9 369.6 123.4 366.6 125.3 363.6 125.9 360.5 125.9 357.4 125.9 354.2 129.8 351 129.8 347.6 129.8 344.2 132.8 340.6 135.1 336.9 135.1 333.1 136.2 329.1 136.7 324.9 144.9 320.5 149.7 315.8 149.7 310.9 149.7 305.5 151.7 299.8 154.4 293.5 156.7 286.6 159.6 278.8 164.7 269.9 164.7 259.6 168 247 176.8 231 181.8 208.7 208.6 171.1M70.3 453.3 81 442.8 84.2 435.6 84.2 429.8 88.1 424.9 94.8 420.4 95.6 416.4 101.9 412.6 103.2 409.1 105.1 405.7 108.2 402.4 111.3 399.2 111.3 396.1 112.6 393.1 112.6 390.1 113.4 387.2 117.3 384.2 119.2 381.3 120.8 378.4 121.3 375.5 123.9 372.5 123.9 369.6 124.1 366.6 124.8 363.6 124.8 360.5 124.8 357.4 126 354.2 132.8 351 134.1 347.6 134.1 344.2 136 340.6 142 336.9 142 333.1 142.1 329.1 147.1 324.9 154.1 320.5 160.6 315.8 161 310.9 162.8 305.5 164.2 299.8 165.9 293.5 170.3 286.6 179 278.8 181.8 269.9 181.8 259.6 183.1 247 192.1 231 214.6 208.7 238.5 171.1M62.4 453.3 75.8 442.8 77 435.6 81.9 429.8 85 424.9 86.4 420.4 89.1 416.4 90 412.6 94.3 409.1 95.9 405.7 96.9 402.4 96.9 399.2 107.7 396.1 109.8 393.1 109.8 390.1 111.4 387.2 114.1 384.2 114.1 381.3 121.4 378.4 121.6 375.5 121.6 372.5 124.2 369.6 125.3 366.6 129.6 363.6 129.6 360.5 131.3 357.4 132.4 354.2 136.5 351 139.3 347.6 140.7 344.2 143.6 340.6 144.9 336.9 144.9 333.1 144.9 329.1 144.9 324.9 154.4 320.5 154.4 315.8 154.8 310.9 157.1 305.5 160.1 299.8 162.5 293.5 168.5 286.6 171.4 278.8 172 269.9 172 259.6 180.2 247 182.5 231 208.1 208.7 240 171.1M83.1 453.3 88 442.8 88.7 435.6 90.4 429.8 94.2 424.9 95.7 420.4 97 416.4 97.5 412.6 97.8 409.1 99.7 405.7 101 402.4 101 399.2 101 396.1 103.4 393.1 103.9 390.1 103.9 387.2 103.9 384.2 103.9 381.3 108.4 378.4 108.4 375.5 108.4 372.5 108.4 369.6 108.4 366.6 108.4 363.6 108.4 360.5 108.4 357.4 108.4 354.2 114.9 351 114.9 347.6 115.9 344.2 117.5 340.6 117.5 336.9 119.3 333.1 119.7 329.1 120.5 324.9 120.9 320.5 123.2 315.8 125.3 310.9 126 305.5 131.9 299.8 134.1 293.5 137.3 286.6 138.8 278.8 141.4 269.9 141.4 259.6 153.1 247 158.5 231 168.2 208.7 177.5 171.1M58.1 453.3 69.4 442.8 70.9 435.6 72.1 429.8 74.5 424.9 78.8 420.4 82.2 416.4 83.3 412.6 84.6 409.1 85.4 405.7 86.6 402.4 86.6 399.2 86.6 396.1 87.7 393.1 89.2 390.1 89.2 387.2 92.6 384.2 92.6 381.3 96.1 378.4 96.1 375.5 96.1 372.5 96.2 369.6 98.2 366.6 100.5 363.6 102.1 360.5 102.9 357.4 119.5 354.2 126 351 126 347.6 134 344.2 134 340.6 134.5 336.9 142.7 333.1 146.5 329.1 148.4 324.9 152.2 320.5 155.7 315.8 160.9 310.9 161.2 305.5 162.2 299.8 174.1 293.5 176.5 286.6 179.8 278.8 187.4 269.9 187.4 259.6 193 247 198.4 231 215.6 208.7 234.2 171.1M69.8 453.3 72.1 442.8 75.1 435.6 78.8 429.8 85.7 424.9 92.6 420.4 96.1 416.4 98 412.6 98.5 409.1 98.7 405.7 99.7 402.4 99.7 399.2 99.7 396.1 101.5 393.1 101.7 390.1 105.1 387.2 106.2 384.2 108.9 381.3 115.1 378.4 117.1 375.5 117.1 372.5 117.1 369.6 118.4 366.6 127.1 363.6 135.5 360.5 135.5 357.4 135.7 354.2 140.3 351 141.9 347.6 145.4 344.2 146.1 340.6 149.8 336.9 150.9 333.1 153 329.1 153 324.9 157.5 320.5 160.2 315.8 161.6 310.9 164 305.5 165 299.8 172 293.5 177.3 286.6 188.5 278.8 197.5 269.9 200.5 259.6 220 247 241.5 231 287.8 208.7 328.9 171.1M81 453.3 82.9 442.8 93.1 435.6 95.2 429.8 96.3 424.9 99.7 420.4 100.9 416.4 102.4 412.6 104.6 409.1 106.3 405.7 108.7 402.4 112.9 399.2 112.9 396.1 114.6 393.1 115 390.1 115.7 387.2 116.8 384.2 116.9 381.3 118.2 378.4 118.2 375.5 120.6 372.5 120.9 369.6 123.9 366.6 124.5 363.6 124.5 360.5 124.5 357.4 124.5 354.2 126.1 351 128.6 347.6 130.8 344.2 131.7 340.6 132.4 336.9 132.4 333.1 132.4 329.1 139.2 324.9 139.8 320.5 142.5 315.8 142.5 310.9 142.5 305.5 152.4 299.8 152.8 293.5 167.3 286.6 168.5 278.8 178.5 269.9 189.7 259.6 197.1 247 202.5 231 218.1 208.7 235.4 171.1M57.9 453.3 67.4 442.8 73.5 435.6 74.7 429.8 77.6 424.9 81.2 420.4 82.4 416.4 86.8 412.6 89.6 409.1 98.6 405.7 103.3 402.4 105.9 399.2 105.9 396.1 106.8 393.1 109.2 390.1 111.3 387.2 111.3 384.2 111.8 381.3 112.3 378.4 113.9 375.5 118.4 372.5 121.6 369.6 121.9 366.6 121.9 363.6 128.7 360.5 129.3 357.4 130.5 354.2 137.3 351 141.6 347.6 142.4 344.2 142.4 340.6 143.6 336.9 143.6 333.1 144.7 329.1 148.3 324.9 149.2 320.5 149.5 315.8 152.7 310.9 154 305.5 164.8 299.8 167.2 293.5 170.7 286.6 172.6 278.8 172.6 269.9 180.9 259.6 191.1 247 193.9 231 204.8 208.7 220.2 171.1M67.1 453.3 69.1 442.8 70.8 435.6 72.3 429.8 77.1 424.9 79 420.4 80.8 416.4 82 412.6 83.5 409.1 84.6 405.7 85.9 402.4 85.9 399.2 85.9 396.1 87.5 393.1 90.3 390.1 90.3 387.2 93.1 384.2 95.1 381.3 97.8 378.4 102.4 375.5 103.3 372.5 103.3 369.6 105 366.6 105.3 363.6 109 360.5 109 357.4 109.4 354.2 113.8 351 113.8 347.6 115.6 344.2 117 340.6 120.1 336.9 120.7 333.1 120.8 329.1 122.3 324.9 122.7 320.5 124 315.8 125.5 310.9 126.1 305.5 133.1 299.8 138.4 293.5 142.1 286.6 165.9 278.8 167.2 269.9 168 259.6 180.1 247 194.3 231 198.8 208.7 229.9 171.1M75.1 453.3 81.8 442.8 84.8 435.6 88.2 429.8 89.9 424.9 90.6 420.4 91.8 416.4 92.1 412.6 93.2 409.1 95.8 405.7 95.8 402.4 95.8 399.2 95.8 396.1 95.8 393.1 105.7 390.1 105.7 387.2 107.8 384.2 107.8 381.3 109.8 378.4 109.8 375.5 109.8 372.5 114.5 369.6 115 366.6 115 363.6 115.3 360.5 133.7 357.4 137.4 354.2 141.4 351 141.7 347.6 142.7 344.2 142.7 340.6 142.7 336.9 143 333.1 143.5 329.1 147.4 324.9 148.3 320.5 149.1 315.8 149.1 310.9 149.1 305.5 149.6 299.8 149.6 293.5 152.4 286.6 155.3 278.8 155.3 269.9 155.3 259.6 166.5 247 175.9 231 181.7 208.7 207.7 171.1M75.9 453.3 76.3 442.8 76.3 435.6 77.3 429.8 78.7 424.9 82.3 420.4 83.9 416.4 86.1 412.6 90.3 409.1 91.3 405.7 92.3 402.4 92.3 399.2 92.3 396.1 92.3 393.1 108.2 390.1 110.2 387.2 112.7 384.2 112.7 381.3 117.1 378.4 117.1 375.5 119.4 372.5 119.4 369.6 119.8 366.6 120.7 363.6 123.6 360.5 123.6 357.4 124 354.2 127.8 351 127.8 347.6 127.8 344.2 127.8 340.6 127.8 336.9 127.8 333.1 129.6 329.1 130.8 324.9 144.2 320.5 147.2 315.8 159.1 310.9 161.3 305.5 163.6 299.8 168.6 293.5 171 286.6 175.1 278.8 177.4 269.9 180.4 259.6 186.8 247 189.7 231 201.5 208.7 227.5 171.1M87.7 453.3 89.3 442.8 89.4 435.6 89.9 429.8 100.6 424.9 102.4 420.4 105.3 416.4 106.7 412.6 107.1 409.1 108 405.7 108 402.4 110.3 399.2 110.3 396.1 114.4 393.1 115.2 390.1 119.3 387.2 120.5 384.2 122.6 381.3 125.4 378.4 125.6 375.5 128.9 372.5 129.3 369.6 130.5 366.6 131.7 363.6 132.3 360.5 136.8 357.4 138.4 354.2 144.4 351 145.8 347.6 148.5 344.2 150.3 340.6 154.3 336.9 154.3 333.1 155.6 329.1 156 324.9 158.5 320.5 159.8 315.8 160.8 310.9 162.4 305.5 162.4 299.8 164.8 293.5 165.5 286.6 173.1 278.8 179.4 269.9 189.5 259.6 198.9 247 211 231 222.4 208.7 243.2 171.1M66.1 453.3 72.4 442.8 77.2 435.6 85.3 429.8 87 424.9 87.8 420.4 87.8 416.4 88.4 412.6 89.9 409.1 91.5 405.7 92.1 402.4 92.9 399.2 94.5 396.1 95.6 393.1 98.6 390.1 98.6 387.2 99.3 384.2 99.3 381.3 101.3 378.4 101.4 375.5 107.1 372.5 107.1 369.6 107.3 366.6 107.3 363.6 107.3 360.5 107.3 357.4 107.3 354.2 111.4 351 112.2 347.6 115.5 344.2 116.2 340.6 116.8 336.9 118.9 333.1 119.8 329.1 121 324.9 122.2 320.5 128.2 315.8 128.5 310.9 133.4 305.5 138.5 299.8 139.9 293.5 144.4 286.6 149.5 278.8 149.5 269.9 149.5 259.6 164.7 247 170.8 231 178 208.7 200.9 171.1M59.6 453.3 64.3 442.8 68.6 435.6 73.1 429.8 75.9 424.9 77.5 420.4 79.5 416.4 80.8 412.6 82.4 409.1 83.9 405.7 86 402.4 86 399.2 86.2 396.1 88.5 393.1 89.8 390.1 92.7 387.2 95.6 384.2 95.6 381.3 97.3 378.4 97.3 375.5 99.3 372.5 99.3 369.6 100 366.6 102.2 363.6 104.7 360.5 106.9 357.4 124.1 354.2 131.1 351 131.5 347.6 138.2 344.2 144.1 340.6 146.4 336.9 147.2 333.1 151.4 329.1 151.4 324.9 152 320.5 155.8 315.8 155.8 310.9 165 305.5 168 299.8 171.6 293.5 173.8 286.6 182.4 278.8 187.1 269.9 188 259.6 195.8 247 212.1 231 240.1 208.7 241.8 171.1M65.6 453.3 76.1 442.8 76.1 435.6 77.2 429.8 78.9 424.9 81.8 420.4 83.7 416.4 88.6 412.6 91.8 409.1 92.4 405.7 94.2 402.4 94.2 399.2 94.2 396.1 94.8 393.1 98.9 390.1 98.9 387.2 99.1 384.2 102.3 381.3 112.9 378.4 112.9 375.5 113.1 372.5 116.3 369.6 117.5 366.6 117.7 363.6 120.2 360.5 120.2 357.4 120.2 354.2 123.8 351 124.6 347.6 124.7 344.2 124.9 340.6 137 336.9 137.6 333.1 140.9 329.1 145.4 324.9 145.7 320.5 146.6 315.8 147.1 310.9 152.4 305.5 153.3 299.8 160 293.5 162.7 286.6 165.2 278.8 167.7 269.9 170.9 259.6 177.3 247 217.9 231 235.5 208.7 236.3 171.1M77.1 453.3 81.4 442.8 82.5 435.6 85.9 429.8 94.4 424.9 99.9 420.4 106.1 416.4 108.3 412.6 109.5 409.1 111.3 405.7 113.1 402.4 116.2 399.2 116.5 396.1 119.4 393.1 119.9 390.1 122.3 387.2 123.8 384.2 125.2 381.3 127.6 378.4 128.5 375.5 130.6 372.5 131.6 369.6 133.4 366.6 135 363.6 136.7 360.5 136.7 357.4 137.9 354.2 142.9 351 142.9 347.6 142.9 344.2 142.9 340.6 145.9 336.9 145.9 333.1 149.2 329.1 149.2 324.9 153.4 320.5 155 315.8 156.9 310.9 163.6 305.5 164.8 299.8 175.5 293.5 180 286.6 185.5 278.8 189.3 269.9 189.3 259.6 196.7 247 213.7 231 237.4 208.7 272 171.1M90 453.3 94.1 442.8 96.6 435.6 99.3 429.8 101.8 424.9 104.4 420.4 106.8 416.4 108.7 412.6 110.5 409.1 112 405.7 113.3 402.4 116 399.2 116.1 396.1 118.8 393.1 119.1 390.1 120.7 387.2 122.3 384.2 123.6 381.3 125.7 378.4 126.3 375.5 126.9 372.5 126.9 369.6 128.1 366.6 128.8 363.6 129.5 360.5 132.4 357.4 133.4 354.2 137.1 351 137.9 347.6 139.2 344.2 139.2 340.6 139.2 336.9 139.2 333.1 139.3 329.1 139.3 324.9 139.4 320.5 139.4 315.8 141.8 310.9 141.8 305.5 146.5 299.8 148.2 293.5 150.4 286.6 154.1 278.8 155 269.9 156.8 259.6 172.5 247 174.3 231 214.2 208.7 223.2 171.1M67.5 453.3 80.4 442.8 92.1 435.6 93.6 429.8 94.8 424.9 95.5 420.4 96.4 416.4 96.9 412.6 97.6 409.1 97.6 405.7 97.6 402.4 97.6 399.2 97.6 396.1 97.6 393.1 97.6 390.1 97.6 387.2 99.9 384.2 99.9 381.3 100.1 378.4 100.1 375.5 100.1 372.5 100.1 369.6 101.4 366.6 103.2 363.6 104.2 360.5 104.2 357.4 106.8 354.2 112.2 351 113.6 347.6 117.5 344.2 121.5 340.6 122.2 336.9 123.1 333.1 123.1 329.1 124.9 324.9 125.2 320.5 126.1 315.8 126.9 310.9 126.9 305.5 134.7 299.8 135.9 293.5 139.2 286.6 155.4 278.8 156.1 269.9 156.1 259.6 164.3 247 165.2 231 197.9 208.7 211.6 171.1M61.6 453.3 79.7 442.8 81.2 435.6 82.7 429.8 84.7 424.9 85.5 420.4 87.7 416.4 89.3 412.6 91.4 409.1 92.7 405.7 99.8 402.4 99.8 399.2 99.8 396.1 101.3 393.1 104.5 390.1 104.5 387.2 107.2 384.2 109.4 381.3 109.5 378.4 110.9 375.5 112.4 372.5 116.4 369.6 120.7 366.6 120.7 363.6 120.7 360.5 120.7 357.4 124.9 354.2 129.5 351 129.5 347.6 130 344.2 130 340.6 144 336.9 144 333.1 145.4 329.1 147.5 324.9 149.9 320.5 150.2 315.8 152.5 310.9 158.2 305.5 163.7 299.8 170 293.5 175.3 286.6 178.7 278.8 181.6 269.9 181.6 259.6 185 247 191.5 231 206.8 208.7 221.6 171.1M78.2 453.3 87.5 442.8 88.5 435.6 90.5 429.8 92.2 424.9 93.4 420.4 98.1 416.4 101.2 412.6 101.3 409.1 101.6 405.7 101.8 402.4 101.8 399.2 101.8 396.1 102.3 393.1 102.3 390.1 102.3 387.2 109.2 384.2 111 381.3 112 378.4 112.4 375.5 112.7 372.5 114 369.6 120.2 366.6 120.2 363.6 120.8 360.5 120.8 357.4 120.8 354.2 122.5 351 122.5 347.6 122.8 344.2 122.8 340.6 122.8 336.9 127.9 333.1 128.5 329.1 128.5 324.9 128.5 320.5 129 315.8 131.1 310.9 131.2 305.5 145.9 299.8 148.7 293.5 150.9 286.6 157 278.8 161.8 269.9 162.7 259.6 181.4 247 190.2 231 195.3 208.7 216.9 171.1M72.1 453.3 74.4 442.8 77.7 435.6 84.5 429.8 85.5 424.9 86 420.4 88.8 416.4 92.7 412.6 94.7 409.1 96.3 405.7 97.1 402.4 97.1 399.2 97.1 396.1 97.1 393.1 97.1 390.1 97.1 387.2 98.3 384.2 100.6 381.3 101.9 378.4 101.9 375.5 101.9 372.5 101.9 369.6 104.2 366.6 106.9 363.6 108 360.5 108.2 357.4 108.7 354.2 113.9 351 113.9 347.6 118.3 344.2 118.5 340.6 123.4 336.9 124.7 333.1 125.5 329.1 132.1 324.9 132.1 320.5 133.9 315.8 140.9 310.9 140.9 305.5 147.8 299.8 153.3 293.5 155.6 286.6 164.4 278.8 178 269.9 178 259.6 180.7 247 183.1 231 194.8 208.7 217.8 171.1M77.5 453.3 82.2 442.8 84.3 435.6 84.6 429.8 88 424.9 89.6 420.4 92.4 416.4 92.9 412.6 93.9 409.1 95.4 405.7 95.4 402.4 95.4 399.2 103.6 396.1 105 393.1 105.8 390.1 105.8 387.2 105.8 384.2 105.8 381.3 105.8 378.4 105.8 375.5 112.6 372.5 112.8 369.6 113.7 366.6 113.7 363.6 117.6 360.5 117.6 357.4 118.1 354.2 124.3 351 127.3 347.6 135.2 344.2 135.2 340.6 136.2 336.9 136.2 333.1 136.2 329.1 136.2 324.9 140.9 320.5 142.4 315.8 142.4 310.9 144.4 305.5 148.6 299.8 151.3 293.5 157.7 286.6 164.5 278.8 165 269.9 169.2 259.6 178.6 247 189.8 231 198.7 208.7 218.7 171.1M78.8 453.3 78.8 442.8 78.8 435.6 79 429.8 81.7 424.9 84.8 420.4 85.5 416.4 86.3 412.6 88.7 409.1 90.5 405.7 93.1 402.4 93.1 399.2 93.1 396.1 94.2 393.1 94.7 390.1 94.7 387.2 95.1 384.2 96 381.3 97.4 378.4 97.4 375.5 97.4 372.5 98.3 369.6 100.3 366.6 101.9 363.6 105.4 360.5 105.8 357.4 107 354.2 112.4 351 113.3 347.6 114.6 344.2 116.8 340.6 117.4 336.9 119.7 333.1 125.8 329.1 125.8 324.9 125.9 320.5 126.8 315.8 127.9 310.9 127.9 305.5 136.6 299.8 143.1 293.5 145 286.6 148.9 278.8 148.9 269.9 161.7 259.6 168.3 247 180.9 231 187.2 208.7 277 171.1M80.6 453.3 83.3 442.8 84.6 435.6 90.9 429.8 94.7 424.9 97.4 420.4 98.4 416.4 103.7 412.6 104.1 409.1 105.8 405.7 106.9 402.4 109.3 399.2 109.3 396.1 110.6 393.1 110.6 390.1 110.6 387.2 110.6 384.2 110.6 381.3 114.3 378.4 115.3 375.5 115.3 372.5 115.3 369.6 115.5 366.6 115.5 363.6 115.5 360.5 115.5 357.4 115.5 354.2 116.2 351 116.6 347.6 118.6 344.2 120.5 340.6 121 336.9 123.7 333.1 129.7 329.1 129.7 324.9 129.7 320.5 129.7 315.8 129.7 310.9 129.7 305.5 135.1 299.8 136.2 293.5 147.6 286.6 148.6 278.8 153.3 269.9 162.3 259.6 183.8 247 185.2 231 207.1 208.7 216.5 171.1M61.8 453.3 67.5 442.8 74 435.6 74.7 429.8 83.3 424.9 85.1 420.4 95.2 416.4 98.3 412.6 100.2 409.1 101.3 405.7 101.4 402.4 101.4 399.2 102.9 396.1 104.4 393.1 104.4 390.1 104.4 387.2 108.8 384.2 108.8 381.3 114.3 378.4 116.3 375.5 116.3 372.5 116.3 369.6 116.3 366.6 119 363.6 120.7 360.5 123.9 357.4 133.9 354.2 137.1 351 139.4 347.6 139.4 344.2 140.5 340.6 143 336.9 146 333.1 152.7 329.1 154.2 324.9 158.4 320.5 161 315.8 162.9 310.9 167.8 305.5 170 299.8 173 293.5 174.3 286.6 180.3 278.8 186.8 269.9 186.8 259.6 199.6 247 212.7 231 238.3 208.7 368.5 171.1M77.9 453.3 83.6 442.8 86.5 435.6 86.8 429.8 87.6 424.9 94.3 420.4 95.9 416.4 96.4 412.6 98.9 409.1 102.8 405.7 104.3 402.4 106.1 399.2 106.1 396.1 110.7 393.1 112.9 390.1 115.8 387.2 116.9 384.2 120.3 381.3 121.6 378.4 121.6 375.5 121.6 372.5 121.6 369.6 121.6 366.6 121.6 363.6 121.6 360.5 122 357.4 123 354.2 125.9 351 125.9 347.6 125.9 344.2 127.9 340.6 128.6 336.9 128.6 333.1 129.5 329.1 135 324.9 135 320.5 136.1 315.8 136.6 310.9 136.6 305.5 142 299.8 142.9 293.5 148.1 286.6 150.1 278.8 153.5 269.9 155 259.6 167.4 247 178 231 191.6 208.7 198.6 171.1M83.6 453.3 84.6 442.8 86.6 435.6 88.6 429.8 89.8 424.9 90.8 420.4 90.9 416.4 99 412.6 107.6 409.1 108.2 405.7 108.2 402.4 110.5 399.2 111.7 396.1 114.1 393.1 114.4 390.1 115.9 387.2 117.2 384.2 117.2 381.3 118.6 378.4 124.2 375.5 126.4 372.5 126.4 369.6 127.3 366.6 127.9 363.6 128 360.5 128 357.4 128 354.2 138.3 351 138.3 347.6 138.3 344.2 138.3 340.6 138.3 336.9 139.9 333.1 143 329.1 143 324.9 143 320.5 143 315.8 143.3 310.9 144.6 305.5 147.9 299.8 150.8 293.5 154.3 286.6 160.8 278.8 164.8 269.9 164.8 259.6 174.2 247 176.5 231 182.7 208.7 197.6 171.1M70.6 453.3 74.8 442.8 75.8 435.6 77.7 429.8 81.7 424.9 88 420.4 88.4 416.4 91.7 412.6 92 409.1 95 405.7 95 402.4 95 399.2 95 396.1 95.2 393.1 95.2 390.1 95.2 387.2 95.7 384.2 95.7 381.3 96.9 378.4 96.9 375.5 103.6 372.5 103.6 369.6 106.2 366.6 109.2 363.6 112.7 360.5 112.7 357.4 112.7 354.2 118.5 351 119.5 347.6 126.1 344.2 128.3 340.6 128.3 336.9 137.4 333.1 139.8 329.1 139.8 324.9 142.3 320.5 142.3 315.8 144.6 310.9 144.6 305.5 147.1 299.8 147.1 293.5 149.3 286.6 149.3 278.8 154.8 269.9 154.8 259.6 173.8 247 178.1 231 198.4 208.7 208.1 171.1M76.3 453.3 76.3 442.8 80.8 435.6 85.4 429.8 86 424.9 86.5 420.4 86.9 416.4 87.6 412.6 88.3 409.1 88.8 405.7 89.7 402.4 89.7 399.2 92 396.1 94.6 393.1 95.6 390.1 97.4 387.2 103.8 384.2 103.8 381.3 103.8 378.4 106.3 375.5 110.2 372.5 115.8 369.6 117.6 366.6 121.8 363.6 127.3 360.5 127.3 357.4 127.3 354.2 131.6 351 131.9 347.6 140.8 344.2 140.8 340.6 141.9 336.9 141.9 333.1 141.9 329.1 141.9 324.9 141.9 320.5 141.9 315.8 147.2 310.9 147.2 305.5 150.5 299.8 155.1 293.5 166.6 286.6 168.9 278.8 175.5 269.9 175.5 259.6 180.9 247 185 231 206.7 208.7 243.7 171.1M78 453.3 78.3 442.8 80.2 435.6 80.7 429.8 86.7 424.9 87.1 420.4 90.1 416.4 90.9 412.6 94.4 409.1 94.9 405.7 96.4 402.4 96.4 399.2 96.4 396.1 96.4 393.1 96.8 390.1 96.8 387.2 96.9 384.2 96.9 381.3 100.1 378.4 100.1 375.5 100.1 372.5 100.1 369.6 100.9 366.6 102.1 363.6 103.2 360.5 103.2 357.4 104.3 354.2 110.4 351 111 347.6 112.5 344.2 113.8 340.6 114.1 336.9 117.3 333.1 118.7 329.1 119.7 324.9 119.8 320.5 122.1 315.8 123.5 310.9 124.1 305.5 129.5 299.8 131.9 293.5 135.2 286.6 137.9 278.8 144.3 269.9 146.9 259.6 157.6 247 172.5 231 186.9 208.7 201.2 171.1M62.6 453.3 66.1 442.8 69.4 435.6 73 429.8 76.6 424.9 79.5 420.4 81 416.4 83.5 412.6 84.5 409.1 85.6 405.7 87.1 402.4 87.1 399.2 87.6 396.1 89.6 393.1 90.6 390.1 91.3 387.2 93.6 384.2 93.7 381.3 95.8 378.4 97.4 375.5 99 372.5 99 369.6 100.8 366.6 102.2 363.6 105.2 360.5 105.2 357.4 106.5 354.2 111.5 351 112.2 347.6 113.3 344.2 114.4 340.6 114.8 336.9 119.1 333.1 120.4 329.1 123 324.9 123.6 320.5 128.4 315.8 133.3 310.9 133.3 305.5 138.2 299.8 139.7 293.5 141.5 286.6 141.6 278.8 144.5 269.9 146.3 259.6 159.1 247 170 231 181.5 208.7 198.1 171.1M81.6 453.3 81.6 442.8 81.6 435.6 87.1 429.8 90.6 424.9 91.9 420.4 94.9 416.4 96.3 412.6 98.5 409.1 98.7 405.7 101.1 402.4 101.1 399.2 101.1 396.1 102.8 393.1 108.4 390.1 108.5 387.2 109.7 384.2 109.7 381.3 109.7 378.4 109.7 375.5 110.9 372.5 110.9 369.6 119.2 366.6 119.2 363.6 119.2 360.5 119.2 357.4 119.2 354.2 121.1 351 121.1 347.6 126.9 344.2 126.9 340.6 128.3 336.9 132.2 333.1 132.2 329.1 134.1 324.9 142.3 320.5 142.9 315.8 144.4 310.9 145.3 305.5 149.4 299.8 166 293.5 168.1 286.6 172.9 278.8 173 269.9 173.7 259.6 180.3 247 182.1 231 188.5 208.7 213.8 171.1M74.7 453.3 76.4 442.8 77.5 435.6 78.3 429.8 80.4 424.9 85.4 420.4 87.8 416.4 98 412.6 99.8 409.1 100.4 405.7 104.1 402.4 106.4 399.2 106.4 396.1 106.9 393.1 106.9 390.1 106.9 387.2 106.9 384.2 106.9 381.3 113.5 378.4 113.5 375.5 113.5 372.5 118.2 369.6 118.2 366.6 120.5 363.6 131.5 360.5 131.5 357.4 134.5 354.2 138.8 351 139 347.6 140.6 344.2 141.1 340.6 142.1 336.9 142.1 333.1 145.3 329.1 145.3 324.9 149.6 320.5 149.6 315.8 165.9 310.9 168.2 305.5 171.5 299.8 174.6 293.5 180.9 286.6 188.1 278.8 192.6 269.9 192.6 259.6 200.4 247 205 231 214.8 208.7 222.2 171.1M61.4 453.3 67.1 442.8 72.6 435.6 73.4 429.8 76.2 424.9 79.1 420.4 82.2 416.4 89.7 412.6 89.7 409.1 90 405.7 90.9 402.4 90.9 399.2 99.7 396.1 102.7 393.1 102.7 390.1 102.7 387.2 109.9 384.2 109.9 381.3 109.9 378.4 109.9 375.5 109.9 372.5 114.6 369.6 114.7 366.6 114.7 363.6 121.5 360.5 132.1 357.4 133 354.2 137.4 351 139.8 347.6 139.8 344.2 139.8 340.6 139.8 336.9 139.8 333.1 139.8 329.1 144 324.9 146.5 320.5 150.6 315.8 154.7 310.9 164.3 305.5 165.6 299.8 173.1 293.5 175.5 286.6 182.8 278.8 195.6 269.9 195.6 259.6 205.9 247 215.4 231 227 208.7 239.4 171.1M79.3 453.3 84 442.8 90.2 435.6 94.2 429.8 95.3 424.9 99 420.4 99.7 416.4 100.2 412.6 100.9 409.1 101.4 405.7 105.6 402.4 107.6 399.2 107.6 396.1 107.6 393.1 107.6 390.1 107.6 387.2 108.6 384.2 109 381.3 109.9 378.4 109.9 375.5 109.9 372.5 109.9 369.6 109.9 366.6 109.9 363.6 111.3 360.5 114.4 357.4 115.8 354.2 119.3 351 120.3 347.6 124.2 344.2 136.1 340.6 138 336.9 138 333.1 138 329.1 138 324.9 141.5 320.5 141.5 315.8 143.4 310.9 148.6 305.5 151.3 299.8 152.2 293.5 157.6 286.6 160.1 278.8 160.1 269.9 161.1 259.6 175.5 247 178.4 231 191.2 208.7 209.7 171.1M69.7 453.3 78.2 442.8 84 435.6 87.7 429.8 89.2 424.9 90.6 420.4 92.7 416.4 94.2 412.6 95.9 409.1 100 405.7 100.3 402.4 102.1 399.2 102.1 396.1 102.6 393.1 102.9 390.1 110.5 387.2 110.5 384.2 111.1 381.3 111.3 378.4 124.6 375.5 125.5 372.5 125.7 369.6 127 366.6 130 363.6 131.4 360.5 131.4 357.4 131.4 354.2 134.2 351 136.6 347.6 136.8 344.2 140.3 340.6 141.6 336.9 141.6 333.1 142.5 329.1 143.6 324.9 147.1 320.5 151.7 315.8 153 310.9 154.8 305.5 158.6 299.8 160.4 293.5 161.8 286.6 166.3 278.8 167.6 269.9 167.6 259.6 173.4 247 192.6 231 198.1 208.7 223 171.1M77.2 453.3 80.1 442.8 86.2 435.6 95.7 429.8 99.5 424.9 103.2 420.4 105.2 416.4 106.8 412.6 109.3 409.1 110.5 405.7 112.4 402.4 115.5 399.2 116 396.1 118.7 393.1 118.8 390.1 120.5 387.2 121.7 384.2 123.1 381.3 125.5 378.4 126 375.5 127.9 372.5 130.3 369.6 131.9 366.6 133.8 363.6 134.6 360.5 134.6 357.4 135.4 354.2 140.3 351 145.9 347.6 149 344.2 149.7 340.6 154.1 336.9 154.1 333.1 155.2 329.1 156.5 324.9 160.2 320.5 162.2 315.8 163.4 310.9 163.7 305.5 163.7 299.8 164.6 293.5 167.1 286.6 168.6 278.8 169.7 269.9 170.1 259.6 185.4 247 191.3 231 197.5 208.7 227.3 171.1M73.5 453.3 85.5 442.8 86.3 435.6 90.6 429.8 91.9 424.9 94.8 420.4 97.7 416.4 98.9 412.6 99.8 409.1 99.8 405.7 103.3 402.4 106.2 399.2 106.2 396.1 107 393.1 108.3 390.1 108.3 387.2 115.9 384.2 116 381.3 123.4 378.4 126.7 375.5 129.7 372.5 130.9 369.6 132.2 366.6 134.5 363.6 136.2 360.5 136.2 357.4 138.4 354.2 142.8 351 143.1 347.6 144.6 344.2 144.6 340.6 144.6 336.9 146.7 333.1 146.7 329.1 147.6 324.9 151.6 320.5 155.6 315.8 157 310.9 157.2 305.5 158.4 299.8 164.7 293.5 168 286.6 177.2 278.8 179.3 269.9 179.7 259.6 192.2 247 209.1 231 237.1 208.7 248.8 171.1M66.8 453.3 87.5 442.8 90.1 435.6 90.2 429.8 91.1 424.9 91.6 420.4 92.5 416.4 94.1 412.6 95.8 409.1 98.3 405.7 99.8 402.4 100 399.2 100 396.1 100 393.1 100 390.1 104 387.2 110.1 384.2 110.1 381.3 110.1 378.4 110.1 375.5 114.6 372.5 114.6 369.6 114.6 366.6 114.6 363.6 114.7 360.5 114.7 357.4 114.9 354.2 120.5 351 121.5 347.6 129.2 344.2 130.7 340.6 133.3 336.9 139.1 333.1 139.1 329.1 139.1 324.9 140.8 320.5 144.2 315.8 147.8 310.9 159.4 305.5 162.7 299.8 165.8 293.5 176.3 286.6 180.2 278.8 183.8 269.9 187.1 259.6 201.8 247 220.8 231 234.5 208.7 249.4 171.1M71.1 453.3 78.8 442.8 79.1 435.6 79.4 429.8 84.4 424.9 85 420.4 87.3 416.4 90.6 412.6 94.2 409.1 94.2 405.7 95.8 402.4 95.8 399.2 95.8 396.1 95.8 393.1 95.9 390.1 95.9 387.2 97 384.2 97 381.3 97.5 378.4 97.5 375.5 97.5 372.5 97.5 369.6 98.7 366.6 100.7 363.6 102.6 360.5 102.6 357.4 104.1 354.2 112.1 351 113 347.6 114.6 344.2 115.4 340.6 115.9 336.9 118.1 333.1 120.1 329.1 121.2 324.9 121.8 320.5 123.9 315.8 126.8 310.9 128.1 305.5 134.6 299.8 139.3 293.5 145.5 286.6 149 278.8 149.8 269.9 152.7 259.6 165.9 247 168.3 231 174.5 208.7 198.9 171.1M78.5 453.3 78.9 442.8 80.1 435.6 81.6 429.8 85.1 424.9 88.1 420.4 88.1 416.4 89.2 412.6 90.1 409.1 95.7 405.7 95.8 402.4 95.8 399.2 97.8 396.1 100.7 393.1 105.2 390.1 105.2 387.2 105.2 384.2 105.2 381.3 105.2 378.4 105.2 375.5 105.2 372.5 105.2 369.6 105.4 366.6 105.4 363.6 107.3 360.5 107.3 357.4 108.3 354.2 113.2 351 113.4 347.6 114.7 344.2 123.8 340.6 127.1 336.9 131.6 333.1 134.9 329.1 144.5 324.9 145.1 320.5 151.9 315.8 152.4 310.9 154.2 305.5 155.4 299.8 157.2 293.5 158.3 286.6 173.4 278.8 177 269.9 177 259.6 182.9 247 191.8 231 205.5 208.7 241.2 171.1M69.9 453.3 80 442.8 82.6 435.6 83.1 429.8 87.2 424.9 88.3 420.4 93.8 416.4 95.5 412.6 98.2 409.1 100.8 405.7 100.8 402.4 101.3 399.2 107 396.1 110.8 393.1 110.8 390.1 110.8 387.2 112.2 384.2 112.2 381.3 112.2 378.4 112.2 375.5 112.2 372.5 112.2 369.6 114.8 366.6 114.8 363.6 115 360.5 115.4 357.4 115.4 354.2 136.4 351 136.4 347.6 141.1 344.2 141.1 340.6 146.5 336.9 146.5 333.1 147 329.1 147.8 324.9 148.5 320.5 156.5 315.8 156.5 310.9 167.2 305.5 168.9 299.8 172.7 293.5 174.8 286.6 178.8 278.8 180.4 269.9 186.7 259.6 195.6 247 204.4 231 244.7 208.7 247.6 171.1M59.2 453.3 64.6 442.8 68 435.6 70.4 429.8 75.6 424.9 78.4 420.4 80.6 416.4 81.8 412.6 83.4 409.1 87.7 405.7 94 402.4 94 399.2 94 396.1 94 393.1 97.4 390.1 101.5 387.2 104.6 384.2 104.8 381.3 107.2 378.4 111.3 375.5 113.6 372.5 117.6 369.6 122.5 366.6 125.6 363.6 134.4 360.5 135 357.4 136.9 354.2 140.6 351 142.6 347.6 147.4 344.2 148.6 340.6 152.2 336.9 152.2 333.1 152.5 329.1 157.1 324.9 161.9 320.5 163.8 315.8 164.7 310.9 165.8 305.5 169 299.8 170.1 293.5 173.2 286.6 181.5 278.8 183.4 269.9 191.7 259.6 200.6 247 220.2 231 236 208.7 240.3 171.1M81.5 453.3 85.5 442.8 87.4 435.6 88.9 429.8 90.5 424.9 94 420.4 96.5 416.4 100.7 412.6 101.2 409.1 101.2 405.7 101.9 402.4 103.2 399.2 103.2 396.1 104.5 393.1 109 390.1 110.5 387.2 110.8 384.2 110.8 381.3 116 378.4 116 375.5 116 372.5 121.8 369.6 126.2 366.6 128.1 363.6 128.1 360.5 128.1 357.4 128.1 354.2 131.3 351 131.3 347.6 131.3 344.2 131.3 340.6 131.3 336.9 134.2 333.1 136 329.1 142.8 324.9 143.2 320.5 145.5 315.8 146.6 310.9 146.6 305.5 153.2 299.8 157.3 293.5 160.6 286.6 171.3 278.8 171.3 269.9 171.3 259.6 173.5 247 190.5 231 211.3 208.7 225 171.1M68.4 453.3 79.2 442.8 84.3 435.6 87.3 429.8 88.4 424.9 92.4 420.4 95.3 416.4 97.8 412.6 100.6 409.1 101.8 405.7 104.8 402.4 108.9 399.2 108.9 396.1 108.9 393.1 108.9 390.1 109.4 387.2 109.4 384.2 109.4 381.3 111.1 378.4 111.1 375.5 111.1 372.5 111.1 369.6 112.6 366.6 128.7 363.6 132 360.5 132 357.4 132 354.2 138 351 138 347.6 138 344.2 142.4 340.6 150.1 336.9 150.1 333.1 151.2 329.1 151.2 324.9 152.7 320.5 157.3 315.8 165 310.9 169.5 305.5 171.9 299.8 177.7 293.5 181.4 286.6 186.1 278.8 192.9 269.9 194.7 259.6 203.3 247 215.8 231 230.3 208.7 234 171.1M72.7 453.3 74.7 442.8 78.8 435.6 81.3 429.8 84.5 424.9 89.7 420.4 92.9 416.4 98.4 412.6 99 409.1 107.5 405.7 111.3 402.4 114.1 399.2 114.3 396.1 117.3 393.1 117.3 390.1 119.2 387.2 120 384.2 122 381.3 127.4 378.4 128.6 375.5 130.4 372.5 131.7 369.6 133.6 366.6 135.1 363.6 136.8 360.5 136.9 357.4 138.5 354.2 143.1 351 146.2 347.6 147.6 344.2 148.6 340.6 153.1 336.9 153.1 333.1 155 329.1 155.6 324.9 160.2 320.5 162.4 315.8 162.7 310.9 166.2 305.5 169.9 299.8 171.1 293.5 172.8 286.6 180.1 278.8 182.9 269.9 182.9 259.6 189 247 195.6 231 204.5 208.7 246.5 171.1M82.6 453.3 84.2 442.8 84.4 435.6 85.3 429.8 86.1 424.9 88.2 420.4 91.5 416.4 95.2 412.6 96 409.1 96.4 405.7 96.4 402.4 96.4 399.2 96.4 396.1 97.4 393.1 97.4 390.1 97.4 387.2 97.6 384.2 97.6 381.3 99.2 378.4 99.2 375.5 99.2 372.5 99.2 369.6 101.6 366.6 102.5 363.6 103.8 360.5 103.8 357.4 104.5 354.2 110 351 112.1 347.6 113.5 344.2 114.6 340.6 114.6 336.9 117.6 333.1 118.6 329.1 120.1 324.9 120.6 320.5 122.4 315.8 124.9 310.9 125.5 305.5 131.5 299.8 133.4 293.5 138.2 286.6 140.3 278.8 145.5 269.9 148.8 259.6 157.8 247 173.4 231 179.2 208.7 191.8 171.1M69.1 453.3 73.7 442.8 75.9 435.6 78.9 429.8 79.8 424.9 84.2 420.4 85 416.4 85.6 412.6 86 409.1 87.1 405.7 87.9 402.4 87.9 399.2 87.9 396.1 87.9 393.1 89.4 390.1 89.4 387.2 91.2 384.2 91.5 381.3 94.1 378.4 94.1 375.5 94.3 372.5 94.8 369.6 97.5 366.6 100.1 363.6 103.3 360.5 103.3 357.4 103.9 354.2 109.6 351 110.2 347.6 111.9 344.2 113.5 340.6 114.9 336.9 117.2 333.1 118.5 329.1 119.7 324.9 120 320.5 121.9 315.8 123.9 310.9 124.5 305.5 128.9 299.8 131.6 293.5 135.9 286.6 135.9 278.8 139.8 269.9 150.1 259.6 163.4 247 169.2 231 175.3 208.7 187 171.1M83.6 453.3 83.9 442.8 83.9 435.6 87.6 429.8 91.2 424.9 94.7 420.4 97.2 416.4 97.6 412.6 100.6 409.1 100.9 405.7 107.6 402.4 110.1 399.2 110.1 396.1 110.1 393.1 111.3 390.1 112.5 387.2 112.9 384.2 114.7 381.3 114.7 378.4 115 375.5 116.6 372.5 116.6 369.6 116.6 366.6 116.6 363.6 116.6 360.5 116.6 357.4 116.6 354.2 119.2 351 119.2 347.6 119.2 344.2 123 340.6 123 336.9 124.1 333.1 124.3 329.1 124.3 324.9 124.5 320.5 130.2 315.8 130.2 310.9 130.2 305.5 136.8 299.8 141 293.5 143.1 286.6 143.3 278.8 143.4 269.9 143.7 259.6 155.2 247 167.3 231 178.2 208.7 189.8 171.1M73.9 453.3 82.1 442.8 82.1 435.6 83.4 429.8 84.1 424.9 84.9 420.4 89.5 416.4 91 412.6 93 409.1 93 405.7 95 402.4 96.4 399.2 98.6 396.1 100.1 393.1 100.7 390.1 100.7 387.2 101.2 384.2 101.2 381.3 103.8 378.4 104.9 375.5 106.1 372.5 106.1 369.6 109.4 366.6 109.4 363.6 109.4 360.5 109.4 357.4 109.4 354.2 113.5 351 115.1 347.6 116.6 344.2 116.6 340.6 122.3 336.9 123.3 333.1 123.7 329.1 126.8 324.9 137.7 320.5 142.2 315.8 142.9 310.9 145 305.5 149.7 299.8 166.2 293.5 171.3 286.6 174.8 278.8 181 269.9 185.3 259.6 191.8 247 200.4 231 216.4 208.7 227.7 171.1M58.6 453.3 71.2 442.8 75.1 435.6 79.1 429.8 81.2 424.9 82.6 420.4 94.8 416.4 97.4 412.6 98.3 409.1 100.7 405.7 102.8 402.4 110.7 399.2 110.7 396.1 112.4 393.1 115.7 390.1 116.4 387.2 117.4 384.2 118.3 381.3 119.7 378.4 122.2 375.5 123.1 372.5 128.7 369.6 131.2 366.6 133.9 363.6 136.5 360.5 138.2 357.4 140.1 354.2 145.7 351 147.4 347.6 150.5 344.2 151.8 340.6 156 336.9 156 333.1 157.6 329.1 159 324.9 162.7 320.5 165.4 315.8 167.5 310.9 169.6 305.5 173 299.8 176.7 293.5 183.5 286.6 188.7 278.8 193.3 269.9 193.3 259.6 201.6 247 213.1 231 231.1 208.7 246.3 171.1M84.8 453.3 85.9 442.8 90.5 435.6 93.1 429.8 96.4 424.9 98.1 420.4 102.4 416.4 104.8 412.6 105.4 409.1 106.6 405.7 107.6 402.4 109.8 399.2 109.8 396.1 112.9 393.1 114.9 390.1 119.1 387.2 120.4 384.2 122.9 381.3 124.4 378.4 125.4 375.5 126.7 372.5 126.7 369.6 127.1 366.6 129.2 363.6 131.2 360.5 133.4 357.4 134 354.2 138.2 351 140.7 347.6 140.7 344.2 140.9 340.6 141.5 336.9 141.5 333.1 141.5 329.1 141.5 324.9 141.5 320.5 141.5 315.8 141.5 310.9 141.5 305.5 148.3 299.8 152 293.5 154.1 286.6 161.3 278.8 162.2 269.9 162.2 259.6 167 247 175.4 231 194.9 208.7 235.9 171.1M66 453.3 68.6 442.8 71.2 435.6 72.6 429.8 77.5 424.9 80.3 420.4 83 416.4 85 412.6 87.4 409.1 88.3 405.7 88.8 402.4 88.8 399.2 88.8 396.1 88.9 393.1 90.9 390.1 90.9 387.2 93.8 384.2 95.5 381.3 99.7 378.4 99.7 375.5 100.2 372.5 101.8 369.6 103 366.6 105.1 363.6 106.7 360.5 106.7 357.4 107.8 354.2 114.1 351 114.1 347.6 116 344.2 117.6 340.6 118.8 336.9 123.2 333.1 125.4 329.1 125.4 324.9 125.4 320.5 128.9 315.8 132 310.9 132 305.5 139.1 299.8 141.4 293.5 144.2 286.6 144.2 278.8 146.7 269.9 146.7 259.6 164.2 247 172.9 231 191.1 208.7 227.8 171.1M76.2 453.3 77.3 442.8 79 435.6 81.7 429.8 83.6 424.9 84.6 420.4 89 416.4 89.5 412.6 90.2 409.1 90.9 405.7 92.5 402.4 92.7 399.2 92.9 396.1 97.6 393.1 98.6 390.1 99.2 387.2 100.5 384.2 103.4 381.3 106.2 378.4 106.2 375.5 107.4 372.5 107.4 369.6 110 366.6 110 363.6 110 360.5 110 357.4 110.2 354.2 114.7 351 114.7 347.6 115.8 344.2 116.9 340.6 117.5 336.9 119.2 333.1 122.6 329.1 122.6 324.9 125.6 320.5 127.6 315.8 133 310.9 133 305.5 146.8 299.8 147 293.5 149.8 286.6 150.5 278.8 151 269.9 162.9 259.6 173.6 247 183 231 189.3 208.7 207.3 171.1M90.2 453.3 94.2 442.8 96.8 435.6 99.1 429.8 101.6 424.9 104.3 420.4 106.7 416.4 108.9 412.6 110.7 409.1 112.2 405.7 113.4 402.4 116.2 399.2 116.4 396.1 119 393.1 119.4 390.1 121.4 387.2 122.8 384.2 124.6 381.3 126.8 378.4 127.7 375.5 130.1 372.5 131.1 369.6 133.7 366.6 135.3 363.6 137.1 360.5 137.1 357.4 138.3 354.2 142.5 351 144.5 347.6 146.5 344.2 148.1 340.6 151.7 336.9 151.7 333.1 155.4 329.1 155.4 324.9 158 320.5 158.9 315.8 159.3 310.9 161.4 305.5 163.4 299.8 166.4 293.5 168.8 286.6 170.5 278.8 172.5 269.9 172.5 259.6 175.7 247 177.4 231 187.5 208.7 195.1 171.1M89.2 453.3 92.6 442.8 94.5 435.6 95.3 429.8 98.7 424.9 102.2 420.4 103.6 416.4 104.7 412.6 104.9 409.1 104.9 405.7 104.9 402.4 106.8 399.2 106.8 396.1 109.6 393.1 109.6 390.1 109.6 387.2 113.2 384.2 114.2 381.3 118 378.4 118 375.5 118 372.5 118 369.6 118 366.6 118.3 363.6 122.4 360.5 122.4 357.4 122.4 354.2 128.4 351 133.7 347.6 134.3 344.2 135.4 340.6 138.5 336.9 138.5 333.1 138.5 329.1 138.5 324.9 138.5 320.5 138.5 315.8 138.8 310.9 138.8 305.5 143.1 299.8 145.6 293.5 152.2 286.6 152.2 278.8 155.3 269.9 160.2 259.6 172.1 247 179.4 231 185.9 208.7 223.5 171.1M62 453.3 68.9 442.8 85.5 435.6 86.1 429.8 89.2 424.9 94.2 420.4 101.5 416.4 101.7 412.6 102.6 409.1 106.2 405.7 109.2 402.4 112.3 399.2 112.4 396.1 115.7 393.1 115.9 390.1 120.2 387.2 122.1 384.2 123.3 381.3 125.6 378.4 126.3 375.5 128.1 372.5 128.6 369.6 132.8 366.6 134.2 363.6 135.6 360.5 135.6 357.4 136 354.2 140.7 351 141 347.6 144.5 344.2 144.5 340.6 151 336.9 151.4 333.1 152.1 329.1 153.7 324.9 161.7 320.5 165.1 315.8 167.4 310.9 169.9 305.5 172.7 299.8 174.5 293.5 176.6 286.6 181.7 278.8 184.1 269.9 194.3 259.6 202.1 247 216 231 229.6 208.7 237 171.1M81.2 453.3 83.7 442.8 87 435.6 91.6 429.8 98.3 424.9 100.3 420.4 102.4 416.4 103.6 412.6 104.2 409.1 104.5 405.7 107 402.4 111.2 399.2 111.2 396.1 113.9 393.1 114 390.1 117.4 387.2 118.3 384.2 118.8 381.3 122.9 378.4 122.9 375.5 123.4 372.5 126.1 369.6 126.1 366.6 129.1 363.6 130.4 360.5 133.6 357.4 137.1 354.2 141.6 351 142.7 347.6 142.7 344.2 145.3 340.6 150.4 336.9 150.4 333.1 151.9 329.1 151.9 324.9 152.3 320.5 154.3 315.8 155.3 310.9 155.3 305.5 155.3 299.8 156.3 293.5 158.4 286.6 160.8 278.8 168.6 269.9 168.6 259.6 190 247 211.2 231 233.8 208.7 237.6 171.1M76.6 453.3 79.8 442.8 82.8 435.6 83.3 429.8 88.3 424.9 91.1 420.4 93.3 416.4 93.9 412.6 93.9 409.1 95.8 405.7 97.1 402.4 99.1 399.2 99.6 396.1 100.8 393.1 100.8 390.1 100.8 387.2 105.5 384.2 105.5 381.3 105.5 378.4 105.5 375.5 105.5 372.5 105.5 369.6 105.5 366.6 106.4 363.6 107.4 360.5 107.4 357.4 107.4 354.2 112.9 351 112.9 347.6 113.8 344.2 114.8 340.6 115.3 336.9 117.5 333.1 118.8 329.1 120.6 324.9 121.1 320.5 122.7 315.8 124.8 310.9 125 305.5 130.2 299.8 133 293.5 140.2 286.6 141.4 278.8 142.7 269.9 142.7 259.6 154.1 247 159.2 231 173.7 208.7 188 171.1M65.1 453.3 70.5 442.8 71.5 435.6 78.5 429.8 84.2 424.9 85.2 420.4 86.3 416.4 89.7 412.6 91 409.1 94.5 405.7 94.5 402.4 97.7 399.2 97.7 396.1 97.7 393.1 99.1 390.1 102.4 387.2 102.6 384.2 103.1 381.3 106.5 378.4 108.1 375.5 111.2 372.5 111.6 369.6 111.7 366.6 112.7 363.6 112.7 360.5 120.8 357.4 125.7 354.2 132.6 351 132.6 347.6 132.7 344.2 134.9 340.6 136.8 336.9 136.8 333.1 154.4 329.1 154.4 324.9 155.9 320.5 156.6 315.8 158 310.9 158 305.5 158 299.8 158.8 293.5 160 286.6 172.7 278.8 175.9 269.9 175.9 259.6 181.9 247 189.9 231 230.1 208.7 243.4 171.1M87.3 453.3 88.8 442.8 91 435.6 91.4 429.8 94.9 424.9 97.8 420.4 100.2 416.4 103.1 412.6 105.7 409.1 106 405.7 106.8 402.4 109.8 399.2 109.8 396.1 112.6 393.1 113.3 390.1 114.5 387.2 115.8 384.2 116.7 381.3 120.8 378.4 120.8 375.5 121.2 372.5 121.2 369.6 122.1 366.6 122.1 363.6 122.1 360.5 122.1 357.4 122.1 354.2 123.8 351 127.1 347.6 129.1 344.2 132.1 340.6 133.1 336.9 133.1 333.1 133.1 329.1 134.4 324.9 136.7 320.5 139.3 315.8 142.6 310.9 142.6 305.5 148.4 299.8 150.5 293.5 152.8 286.6 153.4 278.8 168.1 269.9 168.1 259.6 172.2 247 178.3 231 193.6 208.7 228.6 171.1M68.8 453.3 76.2 442.8 77.1 435.6 81.8 429.8 89.7 424.9 90.8 420.4 95 416.4 95.5 412.6 97.4 409.1 97.4 405.7 97.9 402.4 97.9 399.2 101.5 396.1 101.9 393.1 101.9 390.1 101.9 387.2 102.5 384.2 102.5 381.3 107 378.4 116 375.5 117.6 372.5 117.6 369.6 118.7 366.6 118.7 363.6 120.3 360.5 120.4 357.4 123.7 354.2 130.3 351 136.7 347.6 138.5 344.2 138.5 340.6 138.9 336.9 138.9 333.1 138.9 329.1 138.9 324.9 154.5 320.5 154.5 315.8 155.9 310.9 156.5 305.5 158.2 299.8 160.3 293.5 161.6 286.6 164.8 278.8 187.5 269.9 187.5 259.6 196.4 247 200.3 231 210.8 208.7 225.5 171.1M74.8 453.3 77 442.8 81.6 435.6 85.8 429.8 88.9 424.9 91.5 420.4 92.4 416.4 92.6 412.6 96 409.1 96.2 405.7 97.5 402.4 103.2 399.2 103.2 396.1 108.3 393.1 108.3 390.1 109.8 387.2 114.4 384.2 119.6 381.3 126.4 378.4 126.9 375.5 128.7 372.5 131.5 369.6 133.1 366.6 134.7 363.6 136.8 360.5 137.5 357.4 139.1 354.2 144.7 351 147.2 347.6 148.9 344.2 149.9 340.6 152.7 336.9 152.7 333.1 152.7 329.1 152.7 324.9 159.4 320.5 162 315.8 162.8 310.9 170.5 305.5 175.4 299.8 181.6 293.5 185 286.6 190.6 278.8 195.4 269.9 195.4 259.6 204.3 247 210.7 231 227.3 208.7 232.9 171.1M71.9 453.3 79.6 442.8 83.7 435.6 87.6 429.8 90.9 424.9 98.2 420.4 98.7 416.4 102 412.6 105.1 409.1 106.6 405.7 107 402.4 110.1 399.2 110.1 396.1 110.5 393.1 111.8 390.1 113.6 387.2 118.6 384.2 118.6 381.3 124.3 378.4 124.5 375.5 125.3 372.5 125.3 369.6 126.4 366.6 130.8 363.6 131.9 360.5 131.9 357.4 132 354.2 137.2 351 137.4 347.6 137.4 344.2 137.4 340.6 137.4 336.9 138.2 333.1 139 329.1 140.7 324.9 140.7 320.5 141.2 315.8 141.2 310.9 141.2 305.5 145.8 299.8 145.8 293.5 147.4 286.6 152.2 278.8 152.7 269.9 156.9 259.6 175.8 247 184.1 231 194.6 208.7 204.5 171.1M86.7 453.3 88.1 442.8 88.5 435.6 94.7 429.8 97.5 424.9 100.5 420.4 102.9 416.4 103.4 412.6 107.5 409.1 108.3 405.7 109.9 402.4 113.5 399.2 113.7 396.1 115 393.1 116.7 390.1 118 387.2 119 384.2 120.9 381.3 124.4 378.4 125.2 375.5 127.4 372.5 127.5 369.6 129.1 366.6 130 363.6 130.5 360.5 130.5 357.4 130.5 354.2 134 351 134 347.6 134 344.2 134.6 340.6 136.7 336.9 139.2 333.1 139.7 329.1 139.8 324.9 142.6 320.5 143.3 315.8 150.1 310.9 152.5 305.5 155.4 299.8 158.6 293.5 161 286.6 163.7 278.8 164.3 269.9 164.3 259.6 171.4 247 173.9 231 180 208.7 193.9 171.1M68.9 453.3 71.9 442.8 74.6 435.6 74.9 429.8 76.9 424.9 81.8 420.4 84.1 416.4 85 412.6 87.2 409.1 87.9 405.7 89 402.4 89 399.2 89 396.1 90.1 393.1 92 390.1 92 387.2 93 384.2 93 381.3 95.5 378.4 95.5 375.5 95.9 372.5 96.9 369.6 99 366.6 100.3 363.6 102 360.5 102 357.4 106.3 354.2 112.6 351 115.8 347.6 118.4 344.2 118.8 340.6 123.9 336.9 124.8 333.1 126.8 329.1 136.4 324.9 143.9 320.5 155.5 315.8 162.2 310.9 163.3 305.5 168.3 299.8 170.5 293.5 179.7 286.6 183.7 278.8 185.9 269.9 187.3 259.6 196.2 247 202.4 231 225.8 208.7 228.9 171.1M77.7 453.3 89.3 442.8 89.7 435.6 90.1 429.8 91.3 424.9 93.3 420.4 94.6 416.4 94.6 412.6 98.4 409.1 100.6 405.7 100.6 402.4 100.6 399.2 100.6 396.1 100.6 393.1 100.6 390.1 100.6 387.2 100.6 384.2 100.6 381.3 102.7 378.4 103.3 375.5 103.3 372.5 103.5 369.6 103.7 366.6 108 363.6 108 360.5 113.3 357.4 113.3 354.2 116.3 351 116.3 347.6 119.2 344.2 119.2 340.6 120.3 336.9 121 333.1 123.3 329.1 124.5 324.9 124.7 320.5 126 315.8 127.3 310.9 127.3 305.5 135.9 299.8 136.9 293.5 141.6 286.6 145.5 278.8 146.9 269.9 153.6 259.6 169.4 247 173.8 231 180.2 208.7 240.1 171.1M63.4 453.3 71.8 442.8 73.3 435.6 74.2 429.8 79.4 424.9 80.2 420.4 87.2 416.4 88.5 412.6 96.9 409.1 97.9 405.7 98.6 402.4 98.7 399.2 98.7 396.1 99.7 393.1 99.7 390.1 99.7 387.2 102.7 384.2 103 381.3 112.8 378.4 112.8 375.5 112.8 372.5 112.8 369.6 112.8 366.6 112.8 363.6 112.8 360.5 112.8 357.4 127 354.2 129.9 351 129.9 347.6 133.7 344.2 134.5 340.6 134.5 336.9 134.5 333.1 140.2 329.1 151.4 324.9 153.1 320.5 153.1 315.8 164.1 310.9 165.3 305.5 166.9 299.8 168.9 293.5 171.4 286.6 176.8 278.8 183.9 269.9 183.9 259.6 190.3 247 201.8 231 208.4 208.7 223.1 171.1M87.2 453.3 91.9 442.8 94 435.6 95.6 429.8 97.5 424.9 99.3 420.4 100.5 416.4 101.7 412.6 102.6 409.1 103 405.7 104.7 402.4 108.1 399.2 108.3 396.1 109.4 393.1 110.8 390.1 110.8 387.2 112.1 384.2 112.6 381.3 115.3 378.4 115.3 375.5 115.3 372.5 118.5 369.6 118.6 366.6 118.6 363.6 121.1 360.5 121.1 357.4 121.1 354.2 127.9 351 127.9 347.6 127.9 344.2 127.9 340.6 132.2 336.9 134.6 333.1 134.6 329.1 134.7 324.9 134.7 320.5 134.7 315.8 135.2 310.9 135.4 305.5 141.9 299.8 151.1 293.5 157.5 286.6 159.2 278.8 162.2 269.9 162.2 259.6 166.1 247 186.8 231 193.1 208.7 204.7 171.1M68.6 453.3 70.4 442.8 75.7 435.6 84.2 429.8 88.2 424.9 90.3 420.4 91.2 416.4 95 412.6 95.5 409.1 95.5 405.7 95.5 402.4 95.5 399.2 95.5 396.1 95.5 393.1 95.5 390.1 95.5 387.2 96 384.2 101.7 381.3 104.9 378.4 113.5 375.5 113.5 372.5 113.5 369.6 114.9 366.6 116.2 363.6 116.6 360.5 116.9 357.4 116.9 354.2 120 351 120 347.6 120 344.2 120.1 340.6 120.6 336.9 121.3 333.1 121.3 329.1 128.1 324.9 128.1 320.5 128.6 315.8 135.8 310.9 135.8 305.5 145 299.8 146 293.5 155.4 286.6 157.7 278.8 160.1 269.9 184.8 259.6 192.4 247 198.8 231 203.7 208.7 235 171.1M80.1 453.3 86 442.8 92.4 435.6 92.7 429.8 95.2 424.9 100 420.4 102.2 416.4 104 412.6 107.4 409.1 108.6 405.7 109 402.4 113.8 399.2 114.8 396.1 118.3 393.1 118.4 390.1 120.5 387.2 121.6 384.2 122.5 381.3 124.7 378.4 125 375.5 128.6 372.5 129.4 369.6 133.1 366.6 134.9 363.6 136.6 360.5 137.7 357.4 140.3 354.2 145.9 351 147.7 347.6 150.4 344.2 151.2 340.6 155.1 336.9 155.1 333.1 156.8 329.1 158.3 324.9 162.1 320.5 164.2 315.8 166.6 310.9 168.5 305.5 171 299.8 173.2 293.5 174.7 286.6 177.7 278.8 178.7 269.9 178.7 259.6 181.7 247 207.7 231 220.5 208.7 229.5 171.1M72.5 453.3 78.7 442.8 91 435.6 94 429.8 97.2 424.9 98.9 420.4 100.8 416.4 102.9 412.6 104.5 409.1 105.5 405.7 107.3 402.4 111.6 399.2 111.6 396.1 115.5 393.1 116.5 390.1 118.3 387.2 120 384.2 120.3 381.3 122.1 378.4 126 375.5 128.5 372.5 129.5 369.6 131.4 366.6 133.4 363.6 134.8 360.5 137 357.4 139.6 354.2 144.8 351 146.9 347.6 148.5 344.2 149.5 340.6 152.8 336.9 152.8 333.1 152.8 329.1 154.6 324.9 157.3 320.5 157.4 315.8 157.4 310.9 163 305.5 167.4 299.8 169.1 293.5 172.3 286.6 177.6 278.8 179.9 269.9 179.9 259.6 198.8 247 203.4 231 213.6 208.7 242.9 171.1M79.2 453.3 82.1 442.8 84 435.6 89.2 429.8 92.7 424.9 98 420.4 99.9 416.4 102.6 412.6 104.8 409.1 106.1 405.7 110.5 402.4 114.6 399.2 115.1 396.1 117.4 393.1 117.5 390.1 119.1 387.2 120.2 384.2 120.5 381.3 121.9 378.4 124.5 375.5 125.1 372.5 125.1 369.6 125.1 366.6 125.1 363.6 125.1 360.5 125.1 357.4 125.3 354.2 142.3 351 142.6 347.6 142.6 344.2 142.6 340.6 142.8 336.9 142.8 333.1 142.8 329.1 145.1 324.9 145.1 320.5 145.3 315.8 145.3 310.9 153.8 305.5 155.1 299.8 156.9 293.5 161.1 286.6 162.9 278.8 173.5 269.9 173.5 259.6 179.1 247 189.5 231 194.4 208.7 202.8 171.1M71.7 453.3 74 442.8 86 435.6 89.3 429.8 91 424.9 93.3 420.4 96 416.4 96.7 412.6 96.7 409.1 97.1 405.7 98.1 402.4 98.1 399.2 98.1 396.1 101.2 393.1 101.2 390.1 101.2 387.2 101.7 384.2 102.5 381.3 105.5 378.4 106.9 375.5 110.3 372.5 110.4 369.6 112.2 366.6 113.7 363.6 114.4 360.5 114.4 357.4 114.4 354.2 122.8 351 122.8 347.6 122.8 344.2 138.1 340.6 138.6 336.9 138.6 333.1 138.6 329.1 138.9 324.9 145.3 320.5 148 315.8 150.7 310.9 152.1 305.5 154.9 299.8 157.1 293.5 166.5 286.6 169.3 278.8 174.7 269.9 176.3 259.6 183.6 247 205.1 231 224.2 208.7 255.5 171.1M88.2 453.3 89.8 442.8 91.4 435.6 92.2 429.8 92.9 424.9 93.7 420.4 94.4 416.4 94.4 412.6 94.8 409.1 96.8 405.7 97.7 402.4 99.8 399.2 101.2 396.1 102.1 393.1 102.1 390.1 102.1 387.2 104.6 384.2 105.5 381.3 105.5 378.4 105.5 375.5 105.5 372.5 105.5 369.6 105.5 366.6 106.7 363.6 106.7 360.5 107.3 357.4 107.9 354.2 113.7 351 114.7 347.6 115.4 344.2 117.7 340.6 119 336.9 120.8 333.1 122.4 329.1 122.4 324.9 123.4 320.5 125.1 315.8 126.2 310.9 126.7 305.5 133.8 299.8 135.1 293.5 138.6 286.6 140.1 278.8 142.5 269.9 144.9 259.6 155.7 247 160.2 231 174.2 208.7 211.3 171.1M83.4 453.3 90.5 442.8 91.4 435.6 92.8 429.8 94.3 424.9 96.9 420.4 97.8 416.4 98.2 412.6 98.6 409.1 98.6 405.7 100 402.4 105 399.2 105 396.1 107.3 393.1 107.3 390.1 107.3 387.2 107.3 384.2 107.3 381.3 107.3 378.4 107.3 375.5 107.3 372.5 109.3 369.6 111.4 366.6 111.4 363.6 118.6 360.5 121 357.4 123.3 354.2 129 351 129 347.6 132.3 344.2 135.1 340.6 135.1 336.9 135.1 333.1 148.2 329.1 148.5 324.9 149.1 320.5 149.1 315.8 151 310.9 152.7 305.5 156.7 299.8 163.4 293.5 165.2 286.6 166.6 278.8 172.6 269.9 174.6 259.6 183.2 247 200.7 231 215 208.7 221.4 171.1M66.7 453.3 71.7 442.8 72.5 435.6 73.3 429.8 78.2 424.9 81 420.4 85.3 416.4 86.4 412.6 86.8 409.1 87.3 405.7 91.2 402.4 91.2 399.2 91.2 396.1 92 393.1 97.8 390.1 97.8 387.2 97.8 384.2 97.8 381.3 103.7 378.4 103.7 375.5 103.7 372.5 103.7 369.6 103.7 366.6 103.7 363.6 104.6 360.5 104.6 357.4 108.1 354.2 117.1 351 117.1 347.6 117.1 344.2 120.2 340.6 120.2 336.9 121.8 333.1 122.5 329.1 123.8 324.9 124.2 320.5 126.4 315.8 128 310.9 130.5 305.5 141.2 299.8 143.8 293.5 146.5 286.6 151.8 278.8 160.7 269.9 186.2 259.6 195 247 204.5 231 211.9 208.7 234.6 171.1M68.1 453.3 79.2 442.8 80.4 435.6 80.5 429.8 84.1 424.9 87.7 420.4 90.8 416.4 92.5 412.6 92.6 409.1 93.6 405.7 99 402.4 101.2 399.2 101.2 396.1 105.2 393.1 105.2 390.1 106.9 387.2 109.8 384.2 109.8 381.3 109.8 378.4 109.8 375.5 112.2 372.5 112.6 369.6 112.6 366.6 115.8 363.6 115.8 360.5 115.8 357.4 117.6 354.2 124 351 129.9 347.6 135.1 344.2 135.1 340.6 140.7 336.9 141.6 333.1 142.5 329.1 151.3 324.9 153.8 320.5 153.8 315.8 155.7 310.9 159.8 305.5 160.9 299.8 168.8 293.5 177.6 286.6 184.8 278.8 187.2 269.9 187.2 259.6 194 247 197.4 231 202 208.7 243 171.1M86.2 453.3 90.6 442.8 91.7 435.6 91.7 429.8 94 424.9 94.5 420.4 95.6 416.4 96.1 412.6 96.5 409.1 99.3 405.7 99.3 402.4 107.4 399.2 107.4 396.1 111.8 393.1 111.8 390.1 111.8 387.2 112 384.2 112 381.3 112 378.4 114.3 375.5 114.3 372.5 115.5 369.6 118.8 366.6 118.8 363.6 120.5 360.5 120.5 357.4 120.5 354.2 121.5 351 133.4 347.6 133.4 344.2 133.4 340.6 133.4 336.9 133.5 333.1 133.5 329.1 134.3 324.9 137.2 320.5 137.2 315.8 137.2 310.9 137.2 305.5 142.3 299.8 144.8 293.5 150.7 286.6 151.4 278.8 151.4 269.9 158.2 259.6 174.7 247 177.3 231 203.5 208.7 217.9 171.1M65.2 453.3 67.9 442.8 71.3 435.6 73.2 429.8 77.6 424.9 84.3 420.4 88.3 416.4 90.5 412.6 96.2 409.1 100.5 405.7 102.8 402.4 105.8 399.2 112 396.1 114.8 393.1 115.1 390.1 117.8 387.2 119.4 384.2 119.6 381.3 122.5 378.4 122.5 375.5 122.5 372.5 127.4 369.6 129.3 366.6 130.3 363.6 132.9 360.5 133.5 357.4 138.7 354.2 143.4 351 144.4 347.6 147.8 344.2 148.9 340.6 154.5 336.9 154.5 333.1 156.1 329.1 157.6 324.9 160.3 320.5 163.1 315.8 164.9 310.9 165.6 305.5 167.8 299.8 173.9 293.5 175.9 286.6 188.9 278.8 190.8 269.9 193.5 259.6 205.1 247 216.8 231 228.8 208.7 243.1 171.1M79.6 453.3 81.2 442.8 87.5 435.6 94.1 429.8 95.4 424.9 99.4 420.4 104.2 416.4 106.3 412.6 106.3 409.1 106.5 405.7 106.5 402.4 108.5 399.2 108.5 396.1 108.5 393.1 112.2 390.1 112.3 387.2 114 384.2 114 381.3 115.8 378.4 115.8 375.5 115.8 372.5 115.8 369.6 115.8 366.6 118.5 363.6 118.5 360.5 118.5 357.4 119.3 354.2 125.4 351 125.4 347.6 126.9 344.2 129.5 340.6 133 336.9 135 333.1 135 329.1 135.2 324.9 136.2 320.5 136.2 315.8 138.4 310.9 142.7 305.5 150.3 299.8 151.6 293.5 153.5 286.6 154.8 278.8 159.4 269.9 159.4 259.6 170.2 247 173.3 231 208.2 208.7 222.1 171.1M69.5 453.3 72.3 442.8 75.2 435.6 76.6 429.8 77.8 424.9 81.5 420.4 82.5 416.4 85.1 412.6 89.4 409.1 90 405.7 91.3 402.4 91.3 399.2 91.3 396.1 91.3 393.1 91.6 390.1 91.6 387.2 94.3 384.2 94.3 381.3 96.6 378.4 96.6 375.5 98.1 372.5 98.1 369.6 99.3 366.6 100.9 363.6 102.4 360.5 102.5 357.4 104.4 354.2 111 351 111.1 347.6 113 344.2 113.9 340.6 114.5 336.9 117.1 333.1 118.2 329.1 119.3 324.9 119.6 320.5 121.8 315.8 123.7 310.9 124.3 305.5 128.2 299.8 131.3 293.5 136.8 286.6 138.2 278.8 139.4 269.9 140.7 259.6 152.4 247 157.1 231 168.7 208.7 179 171.1M58.9 453.3 65.1 442.8 73.4 435.6 81.4 429.8 88.3 424.9 91 420.4 94.6 416.4 95.1 412.6 95.5 409.1 97.5 405.7 100.6 402.4 100.6 399.2 100.6 396.1 103.3 393.1 104.3 390.1 104.6 387.2 111.4 384.2 118.7 381.3 121 378.4 121 375.5 126.2 372.5 129.9 369.6 132.3 366.6 133.2 363.6 134.7 360.5 137.3 357.4 139 354.2 144.3 351 147.1 347.6 148.7 344.2 150.8 340.6 154.6 336.9 154.6 333.1 157.4 329.1 159.2 324.9 163.2 320.5 165.8 315.8 167.9 310.9 170.8 305.5 176.1 299.8 179.9 293.5 184 286.6 192.2 278.8 196.6 269.9 196.6 259.6 202.7 247 213.9 231 227.8 208.7 230.9 171.1M59.9 453.3 64.2 442.8 67.8 435.6 70.2 429.8 74.6 424.9 76.8 420.4 78.9 416.4 80.6 412.6 83.2 409.1 84.5 405.7 86.2 402.4 86.2 399.2 86.2 396.1 87.6 393.1 89.5 390.1 89.5 387.2 92.1 384.2 93.8 381.3 99.9 378.4 99.9 375.5 100.9 372.5 104.2 369.6 112.9 366.6 119.6 363.6 127.2 360.5 132.2 357.4 134.1 354.2 139.5 351 139.6 347.6 144.3 344.2 145.1 340.6 149.2 336.9 149.2 333.1 149.2 329.1 149.2 324.9 149.2 320.5 153.8 315.8 160.5 310.9 162.2 305.5 162.2 299.8 162.6 293.5 172.9 286.6 180.4 278.8 195.9 269.9 197.8 259.6 207.7 247 217.4 231 239.3 208.7 239.3 171.1M60.3 453.3 72.5 442.8 73.7 435.6 75.4 429.8 78.1 424.9 79.9 420.4 81.8 416.4 83.2 412.6 84.5 409.1 86.4 405.7 88.9 402.4 88.9 399.2 88.9 396.1 90.1 393.1 91.8 390.1 91.8 387.2 98.7 384.2 98.7 381.3 99.1 378.4 99.1 375.5 100.3 372.5 100.7 369.6 102.2 366.6 103.9 363.6 106 360.5 106 357.4 106 354.2 111.2 351 111.8 347.6 114 344.2 115.7 340.6 117 336.9 125.6 333.1 126.6 329.1 126.8 324.9 128 320.5 129.7 315.8 129.9 310.9 130 305.5 138.4 299.8 139.4 293.5 147.7 286.6 151.6 278.8 155.2 269.9 155.2 259.6 184.7 247 194.8 231 200.6 208.7 209.4 171.1M65.4 453.3 78.3 442.8 82.2 435.6 86.2 429.8 87.4 424.9 91.7 420.4 92.2 416.4 93.8 412.6 93.8 409.1 93.8 405.7 94.3 402.4 94.3 399.2 94.5 396.1 96 393.1 96.4 390.1 96.4 387.2 97.3 384.2 97.4 381.3 98.2 378.4 102.2 375.5 102.2 372.5 102.2 369.6 107.2 366.6 107.2 363.6 109.3 360.5 109.3 357.4 117.3 354.2 119.7 351 119.7 347.6 123 344.2 123.6 340.6 124.2 336.9 125.6 333.1 126.5 329.1 126.5 324.9 129.7 320.5 131 315.8 133.9 310.9 138.6 305.5 147.4 299.8 150 293.5 151.5 286.6 155.9 278.8 158.9 269.9 158.9 259.6 165.2 247 177.5 231 189.7 208.7 203.6 171.1M74.6 453.3 74.9 442.8 76.8 435.6 77.3 429.8 81.5 424.9 87.6 420.4 87.6 416.4 89.6 412.6 90.8 409.1 100.5 405.7 100.5 402.4 100.5 399.2 100.5 396.1 100.5 393.1 100.5 390.1 106.4 387.2 106.4 384.2 106.4 381.3 109.7 378.4 109.8 375.5 109.8 372.5 109.8 369.6 109.8 366.6 110.9 363.6 112.2 360.5 112.2 357.4 112.9 354.2 118 351 119.1 347.6 119.9 344.2 121.8 340.6 122.5 336.9 123.3 333.1 128 329.1 132.7 324.9 138.5 320.5 138.5 315.8 138.5 310.9 140.2 305.5 148 299.8 153.2 293.5 158.6 286.6 161.5 278.8 162.1 269.9 162.1 259.6 181.8 247 185.1 231 212.1 208.7 226.3 171.1M85.1 453.3 85.4 442.8 87.7 435.6 88.3 429.8 93.6 424.9 96.4 420.4 97.4 416.4 98.5 412.6 103.2 409.1 105.1 405.7 106.4 402.4 112.4 399.2 112.4 396.1 115.9 393.1 115.9 390.1 116.5 387.2 119.6 384.2 123.1 381.3 125.3 378.4 127.5 375.5 128.9 372.5 129.1 369.6 130.2 366.6 132.6 363.6 135.6 360.5 135.8 357.4 137.2 354.2 141.3 351 142.9 347.6 145.8 344.2 146.3 340.6 150.2 336.9 151.3 333.1 154.6 329.1 156.6 324.9 160.6 320.5 163.9 315.8 164.8 310.9 167 305.5 167.7 299.8 170.9 293.5 176.2 286.6 180.7 278.8 184.9 269.9 184.9 259.6 187.4 247 206 231 224 208.7 242.4 171.1M80.7 453.3 82.5 442.8 82.6 435.6 85.6 429.8 87.3 424.9 92.3 420.4 93.2 416.4 94.8 412.6 97.2 409.1 97.2 405.7 97.7 402.4 98.4 399.2 98.4 396.1 100.3 393.1 100.3 390.1 100.3 387.2 101.9 384.2 102.1 381.3 103.5 378.4 111.1 375.5 115.1 372.5 115.1 369.6 120.4 366.6 120.4 363.6 120.4 360.5 120.4 357.4 120.4 354.2 123.6 351 126.2 347.6 126.5 344.2 127.9 340.6 139.1 336.9 139.1 333.1 139.1 329.1 143.2 324.9 146.6 320.5 148 315.8 148 310.9 148 305.5 148.6 299.8 148.6 293.5 149.5 286.6 157.2 278.8 157.2 269.9 157.2 259.6 176 247 178.5 231 189.9 208.7 211.5 171.1M58.5 453.3 68.2 442.8 74.4 435.6 75 429.8 79.2 424.9 80.5 420.4 81.3 416.4 83.9 412.6 85.3 409.1 86.6 405.7 87.5 402.4 87.5 399.2 88 396.1 97 393.1 100.6 390.1 104.2 387.2 104.2 384.2 104.3 381.3 105.4 378.4 106.3 375.5 118.1 372.5 118.1 369.6 118.1 366.6 118.1 363.6 119.3 360.5 120.9 357.4 125.8 354.2 131.1 351 131.1 347.6 133.9 344.2 133.9 340.6 133.9 336.9 133.9 333.1 133.9 329.1 133.9 324.9 135.5 320.5 136 315.8 137.8 310.9 143 305.5 148.2 299.8 149.1 293.5 152.7 286.6 155.2 278.8 157.1 269.9 157.1 259.6 194.5 247 199.5 231 207.3 208.7 229.2 171.1M74.5 453.3 85.6 442.8 90 435.6 90 429.8 92.6 424.9 93.4 420.4 94.5 416.4 94.6 412.6 94.6 409.1 94.6 405.7 95.9 402.4 95.9 399.2 95.9 396.1 95.9 393.1 95.9 390.1 95.9 387.2 96.4 384.2 96.4 381.3 101.1 378.4 104 375.5 104 372.5 104 369.6 104 366.6 104.8 363.6 107.7 360.5 107.7 357.4 108.9 354.2 115.2 351 115.2 347.6 119.3 344.2 119.3 340.6 121.4 336.9 123.4 333.1 123.4 329.1 128.7 324.9 135.3 320.5 137.8 315.8 145.4 310.9 155.6 305.5 157.5 299.8 159.3 293.5 161.2 286.6 165.8 278.8 170.2 269.9 170.2 259.6 176.3 247 186 231 210.7 208.7 219.9 171.1M82.9 453.3 86.3 442.8 88.7 435.6 92.2 429.8 93.1 424.9 97.3 420.4 97.6 416.4 100 412.6 101.9 409.1 102.2 405.7 103.4 402.4 103.6 399.2 103.6 396.1 104.8 393.1 107.8 390.1 107.8 387.2 117 384.2 118.1 381.3 124.9 378.4 124.9 375.5 126.1 372.5 126.1 369.6 126.6 366.6 131.5 363.6 132.8 360.5 134.5 357.4 139.9 354.2 145.3 351 146.8 347.6 148.3 344.2 148.3 340.6 152.9 336.9 152.9 333.1 154.1 329.1 154.3 324.9 158.9 320.5 160.5 315.8 160.5 310.9 161.7 305.5 163.9 299.8 165.3 293.5 168.1 286.6 168.1 278.8 182.8 269.9 183.3 259.6 190.5 247 195.7 231 205.4 208.7 234.8 171.1M77.3 453.3 83.4 442.8 84.5 435.6 84.9 429.8 88.6 424.9 91.8 420.4 92.3 416.4 95.1 412.6 97.1 409.1 99.9 405.7 103.5 402.4 103.7 399.2 103.7 396.1 103.9 393.1 103.9 390.1 103.9 387.2 103.9 384.2 103.9 381.3 103.9 378.4 103.9 375.5 105.9 372.5 105.9 369.6 107.4 366.6 108.6 363.6 108.9 360.5 112.8 357.4 123.1 354.2 128.7 351 128.7 347.6 128.9 344.2 131.4 340.6 141.2 336.9 141.2 333.1 141.2 329.1 141.2 324.9 142.1 320.5 147 315.8 158.6 310.9 158.6 305.5 160.2 299.8 161.1 293.5 167.7 286.6 168.7 278.8 174.9 269.9 174.9 259.6 188.5 247 200.2 231 213.4 208.7 233 171.1M67.9 453.3 75.3 442.8 78.3 435.6 79.9 429.8 81.6 424.9 82.6 420.4 84 416.4 85.9 412.6 88.1 409.1 88.6 405.7 90.2 402.4 90.2 399.2 90.2 396.1 90.7 393.1 92.8 390.1 93.5 387.2 95.3 384.2 96.1 381.3 97.7 378.4 97.7 375.5 98.8 372.5 100.8 369.6 102 366.6 102.5 363.6 103.2 360.5 103.2 357.4 105.3 354.2 110.9 351 111.4 347.6 113.1 344.2 115.1 340.6 122.1 336.9 123.5 333.1 123.7 329.1 128.9 324.9 129.4 320.5 130.5 315.8 132.6 310.9 132.6 305.5 141.7 299.8 144.3 293.5 151.1 286.6 151.1 278.8 151.1 269.9 162.6 259.6 172.9 247 177.7 231 186 208.7 217.2 171.1M65.7 453.3 68.2 442.8 71.5 435.6 75.4 429.8 78.6 424.9 82.2 420.4 82.8 416.4 84 412.6 85.8 409.1 86.7 405.7 89.9 402.4 89.9 399.2 89.9 396.1 92.1 393.1 94.8 390.1 94.8 387.2 98.5 384.2 100.9 381.3 102.1 378.4 103.6 375.5 109.8 372.5 124.7 369.6 129.6 366.6 131.1 363.6 132.2 360.5 134.6 357.4 136.4 354.2 142.6 351 143 347.6 146.2 344.2 146.2 340.6 148.8 336.9 150.2 333.1 155.8 329.1 157.7 324.9 160.8 320.5 161.7 315.8 163 310.9 168 305.5 169.4 299.8 172.8 293.5 173.8 286.6 181.6 278.8 189.7 269.9 189.7 259.6 200.2 247 210 231 241.8 208.7 241.8 171.1M65.5 453.3 66.9 442.8 69.7 435.6 73.5 429.8 75.4 424.9 79 420.4 80.1 416.4 82.4 412.6 83.6 409.1 86.6 405.7 87.4 402.4 87.4 399.2 87.4 396.1 88.7 393.1 90 390.1 90 387.2 91.6 384.2 91.8 381.3 94.5 378.4 94.5 375.5 94.7 372.5 95.2 369.6 98.5 366.6 100 363.6 101.2 360.5 101.2 357.4 102.9 354.2 108.7 351 109.3 347.6 111.1 344.2 112.6 340.6 113.1 336.9 116.3 333.1 118.1 329.1 119.9 324.9 121.1 320.5 122.9 315.8 124.2 310.9 126.3 305.5 132.2 299.8 143.7 293.5 150 286.6 154.6 278.8 157.5 269.9 162.2 259.6 170.9 247 179.5 231 197.2 208.7 238.9 171.1M79.5 453.3 80.9 442.8 86.9 435.6 92.8 429.8 96.6 424.9 99.6 420.4 102 416.4 104.1 412.6 108.2 409.1 110.4 405.7 112 402.4 115.6 399.2 116.3 396.1 118.9 393.1 119.2 390.1 120.8 387.2 122.5 384.2 123.8 381.3 125.7 378.4 126.4 375.5 127.1 372.5 127.5 369.6 129.6 366.6 131 363.6 133.5 360.5 133.5 357.4 133.8 354.2 139.7 351 140 347.6 142.2 344.2 142.2 340.6 142.6 336.9 142.6 333.1 151.7 329.1 153.2 324.9 156.5 320.5 157.8 315.8 158.2 310.9 158.6 305.5 166.4 299.8 171.2 293.5 173.5 286.6 182.6 278.8 184 269.9 184 259.6 188.5 247 194.7 231 215.1 208.7 230.6 171.1M68.5 453.3 69.5 442.8 71.3 435.6 72.9 429.8 76.8 424.9 78.7 420.4 81 416.4 82.2 412.6 84.2 409.1 85.1 405.7 86.4 402.4 86.4 399.2 86.4 396.1 87.4 393.1 89.2 390.1 89.2 387.2 91.3 384.2 91.4 381.3 94.3 378.4 94.3 375.5 95.1 372.5 95.7 369.6 98.1 366.6 99.6 363.6 101.4 360.5 101.4 357.4 103 354.2 108.9 351 109.7 347.6 111.6 344.2 113.2 340.6 115.1 336.9 117.7 333.1 118.8 329.1 119.6 324.9 120.2 320.5 122.3 315.8 126 310.9 128.6 305.5 138.1 299.8 140.2 293.5 144.6 286.6 146.9 278.8 149.6 269.9 149.6 259.6 158.2 247 162.9 231 172.5 208.7 189 171.1M63.8 453.3 67.5 442.8 80.3 435.6 84.5 429.8 85.6 424.9 86.6 420.4 94.3 416.4 97.7 412.6 97.8 409.1 100.3 405.7 102.2 402.4 103.4 399.2 103.4 396.1 104.3 393.1 105 390.1 110.4 387.2 110.4 384.2 110.4 381.3 114.6 378.4 123.2 375.5 125.9 372.5 126.5 369.6 127.2 366.6 127.2 363.6 133.8 360.5 134.3 357.4 136.4 354.2 144.1 351 145.9 347.6 146.9 344.2 150 340.6 154.4 336.9 154.7 333.1 157.7 329.1 159.4 324.9 163.6 320.5 166.3 315.8 168.4 310.9 171.3 305.5 179.4 299.8 183.7 293.5 187.2 286.6 195.5 278.8 201.7 269.9 203.4 259.6 212.2 247 223.9 231 281.9 208.7 297.5 171.1M69.1 453.3 79 442.8 79.8 435.6 81.2 429.8 82 424.9 86.7 420.4 87 416.4 88.1 412.6 93.7 409.1 94.7 405.7 94.7 402.4 94.7 399.2 94.7 396.1 95 393.1 95.3 390.1 95.3 387.2 98.1 384.2 101.4 381.3 103.1 378.4 103.7 375.5 104.9 372.5 106.1 369.6 106.4 366.6 110.2 363.6 110.2 360.5 127.8 357.4 136.3 354.2 140.9 351 144.4 347.6 145.2 344.2 145.2 340.6 146.7 336.9 149.6 333.1 153.6 329.1 156.9 324.9 159.9 320.5 161.3 315.8 163.8 310.9 166.8 305.5 167.9 299.8 171 293.5 175.8 286.6 183.1 278.8 188.4 269.9 189.3 259.6 195.9 247 201.1 231 217.9 208.7 222.9 171.1M72.9 453.3 75.6 442.8 78.1 435.6 80.3 429.8 81.9 424.9 83.8 420.4 86.5 416.4 87.7 412.6 87.8 409.1 92.1 405.7 94.4 402.4 94.4 399.2 94.4 396.1 94.4 393.1 98.9 390.1 98.9 387.2 99 384.2 102.6 381.3 106.8 378.4 110.2 375.5 110.4 372.5 111.6 369.6 113.2 366.6 114.1 363.6 118.9 360.5 120.2 357.4 130.7 354.2 133.6 351 134.8 347.6 134.8 344.2 134.8 340.6 139.2 336.9 139.2 333.1 139.2 329.1 139.2 324.9 140.6 320.5 140.6 315.8 140.6 310.9 142.6 305.5 147 299.8 156.9 293.5 162.3 286.6 167.6 278.8 168.7 269.9 170.4 259.6 176.9 247 178.9 231 220.9 208.7 247.2 171.1M63.6 453.3 67.7 442.8 71.1 435.6 78.7 429.8 81.1 424.9 82.8 420.4 84.6 416.4 87.3 412.6 88.1 409.1 89.8 405.7 90.5 402.4 90.5 399.2 90.5 396.1 90.5 393.1 92.1 390.1 92.1 387.2 93.5 384.2 93.5 381.3 96.8 378.4 96.8 375.5 96.8 372.5 96.8 369.6 100.2 366.6 102 363.6 105.3 360.5 105.3 357.4 106.3 354.2 111.7 351 117.7 347.6 119.8 344.2 119.8 340.6 120.5 336.9 122.6 333.1 132.7 329.1 132.7 324.9 145.7 320.5 149.9 315.8 149.9 310.9 151.4 305.5 167 299.8 176.2 293.5 178.8 286.6 182.3 278.8 191.1 269.9 191.1 259.6 199.3 247 208.9 231 218.4 208.7 222.7 171.1M80.8 453.3 83.7 442.8 90.4 435.6 91.8 429.8 94.2 424.9 95.6 420.4 96.5 416.4 98.7 412.6 99.4 409.1 100 405.7 102.1 402.4 102.1 399.2 102.5 396.1 104.6 393.1 106.3 390.1 106.3 387.2 106.3 384.2 108.8 381.3 110.5 378.4 110.5 375.5 110.5 372.5 110.5 369.6 110.5 366.6 111 363.6 111 360.5 111 357.4 111 354.2 140 351 140.9 347.6 143 344.2 146 340.6 146.3 336.9 146.3 333.1 146.3 329.1 146.3 324.9 146.3 320.5 146.3 315.8 146.3 310.9 148 305.5 155.5 299.8 159.1 293.5 162.4 286.6 173.6 278.8 174.3 269.9 174.3 259.6 180.9 247 186.6 231 198.3 208.7 207.5 171.1M84.2 453.3 86.8 442.8 90.6 435.6 90.6 429.8 91.6 424.9 93.6 420.4 95.8 416.4 99.3 412.6 101.7 409.1 107.6 405.7 107.7 402.4 109.7 399.2 109.7 396.1 112.9 393.1 112.9 390.1 112.9 387.2 114.8 384.2 117 381.3 118 378.4 118.7 375.5 118.8 372.5 118.8 369.6 126 366.6 126 363.6 127.5 360.5 127.5 357.4 127.5 354.2 130.7 351 130.7 347.6 132.7 344.2 132.7 340.6 139.9 336.9 139.9 333.1 139.9 329.1 139.9 324.9 151.8 320.5 152.4 315.8 154.2 310.9 154.7 305.5 155.6 299.8 156 293.5 166.8 286.6 171.8 278.8 176.4 269.9 176.5 259.6 191.6 247 197.2 231 217.1 208.7 225.7 171.1M73.1 453.3 77.6 442.8 78.7 435.6 80.8 429.8 82.5 424.9 85.4 420.4 86.2 416.4 86.5 412.6 87.1 409.1 90.2 405.7 92.4 402.4 92.4 399.2 94.3 396.1 95.7 393.1 95.7 390.1 95.7 387.2 96.5 384.2 97 381.3 98.7 378.4 102.5 375.5 102.5 372.5 103.1 369.6 103.4 366.6 108.3 363.6 108.8 360.5 108.8 357.4 108.9 354.2 121.9 351 122.4 347.6 124.3 344.2 125.5 340.6 125.5 336.9 125.5 333.1 125.7 329.1 129.1 324.9 129.2 320.5 131.4 315.8 132.1 310.9 133.6 305.5 138.9 299.8 151.5 293.5 161.3 286.6 165.6 278.8 168.8 269.9 168.8 259.6 191.3 247 204.1 231 212.2 208.7 220 171.1M79.7 453.3 91.3 442.8 93.2 435.6 94.3 429.8 96 424.9 96.9 420.4 99.9 416.4 101 412.6 104.1 409.1 105.9 405.7 107.8 402.4 109.3 399.2 109.3 396.1 109.6 393.1 113.1 390.1 115 387.2 115.8 384.2 115.8 381.3 116.3 378.4 116.3 375.5 119.5 372.5 120.6 369.6 126.5 366.6 127.4 363.6 129.6 360.5 129.6 357.4 129.6 354.2 133.3 351 133.3 347.6 133.3 344.2 134.8 340.6 134.8 336.9 134.8 333.1 134.8 329.1 134.8 324.9 134.8 320.5 135.2 315.8 135.7 310.9 136.7 305.5 149.7 299.8 151.2 293.5 156.8 286.6 164.3 278.8 167.8 269.9 168.4 259.6 179.2 247 187.3 231 196.1 208.7 207.2 171.1M78.3 453.3 81.3 442.8 84.9 435.6 85.2 429.8 86.3 424.9 91.3 420.4 91.8 416.4 92.3 412.6 92.4 409.1 93.3 405.7 98.3 402.4 98.3 399.2 98.3 396.1 100.2 393.1 101.9 390.1 101.9 387.2 101.9 384.2 101.9 381.3 111.5 378.4 111.5 375.5 122 372.5 122 369.6 123.6 366.6 125.7 363.6 125.7 360.5 125.7 357.4 126.7 354.2 132.9 351 134.5 347.6 137.1 344.2 137.3 340.6 139.5 336.9 141.1 333.1 141.7 329.1 141.7 324.9 143 320.5 143.8 315.8 144.3 310.9 144.3 305.5 146 299.8 147.9 293.5 149.7 286.6 153.7 278.8 156.9 269.9 157.4 259.6 164 247 181.9 231 194.3 208.7 207 171.1M69.9 453.3 71.7 442.8 88 435.6 88.9 429.8 89.9 424.9 90.1 420.4 90.9 416.4 91.8 412.6 94.7 409.1 95.6 405.7 95.6 402.4 98.9 399.2 99 396.1 101.5 393.1 101.5 390.1 101.5 387.2 101.5 384.2 101.5 381.3 104 378.4 104 375.5 109.6 372.5 109.6 369.6 113.3 366.6 122 363.6 125.5 360.5 126 357.4 129.7 354.2 134.2 351 138.8 347.6 139.9 344.2 139.9 340.6 143.9 336.9 143.9 333.1 143.9 329.1 145.2 324.9 145.2 320.5 146 315.8 146.2 310.9 156 305.5 157 299.8 171.3 293.5 172.6 286.6 177.3 278.8 179.1 269.9 182.9 259.6 192.7 247 201.5 231 217.2 208.7 239.9 171.1M70.3 453.3 75.6 442.8 79.3 435.6 93.9 429.8 98.9 424.9 102 420.4 104.9 416.4 106.4 412.6 106.4 409.1 107.2 405.7 107.2 402.4 111.2 399.2 111.4 396.1 114.2 393.1 116.7 390.1 118.6 387.2 118.9 384.2 119.5 381.3 123.5 378.4 123.5 375.5 123.8 372.5 125.4 369.6 125.9 366.6 125.9 363.6 127 360.5 128.6 357.4 130 354.2 137.5 351 138.2 347.6 138.2 344.2 138.9 340.6 140.8 336.9 140.8 333.1 140.8 329.1 140.8 324.9 140.8 320.5 142.1 315.8 142.1 310.9 155.1 305.5 156.1 299.8 158.5 293.5 178 286.6 183.6 278.8 185.4 269.9 195.7 259.6 205.7 247 216.2 231 231.9 208.7 239.6 171.1M70.4 453.3 85.3 442.8 85.3 435.6 87.1 429.8 88.5 424.9 91.4 420.4 92.5 416.4 95.8 412.6 102 409.1 102 405.7 102 402.4 104.4 399.2 105.6 396.1 111.4 393.1 111.4 390.1 111.4 387.2 111.4 384.2 115.5 381.3 116.5 378.4 117.9 375.5 120.9 372.5 120.9 369.6 123.3 366.6 123.3 363.6 123.3 360.5 123.3 357.4 123.3 354.2 126.4 351 126.4 347.6 126.4 344.2 126.4 340.6 131.7 336.9 131.7 333.1 131.7 329.1 131.7 324.9 131.8 320.5 140.7 315.8 143.8 310.9 145.5 305.5 155.8 299.8 156.1 293.5 163.3 286.6 165.3 278.8 166.8 269.9 166.8 259.6 173.2 247 178.2 231 197.1 208.7 209.1 171.1M70 453.3 75.4 442.8 76 435.6 76.3 429.8 78.7 424.9 82.4 420.4 85.2 416.4 88.3 412.6 88.9 409.1 93.1 405.7 96.2 402.4 96.2 399.2 96.6 396.1 105.4 393.1 105.4 390.1 105.4 387.2 106.6 384.2 106.6 381.3 106.6 378.4 106.6 375.5 106.6 372.5 106.6 369.6 107 366.6 107.3 363.6 109.2 360.5 109.2 357.4 110 354.2 115 351 116.7 347.6 118.7 344.2 118.7 340.6 118.9 336.9 120.5 333.1 123.2 329.1 123.3 324.9 127.4 320.5 129.1 315.8 129.7 310.9 131.4 305.5 137.3 299.8 140 293.5 143.4 286.6 144.3 278.8 146.2 269.9 146.7 259.6 162.6 247 172.8 231 179.6 208.7 214.2 171.1M79.2 453.3 87.7 442.8 89.4 435.6 91.8 429.8 95.2 424.9 97.7 420.4 103.1 416.4 104.4 412.6 104.4 409.1 107.7 405.7 109.6 402.4 111.9 399.2 111.9 396.1 113.1 393.1 114.6 390.1 119.9 387.2 121.9 384.2 122.7 381.3 125.9 378.4 127.9 375.5 128.8 372.5 129.7 369.6 131.6 366.6 133.3 363.6 134.1 360.5 134.3 357.4 135.4 354.2 139.8 351 146.2 347.6 149.2 344.2 149.8 340.6 152.9 336.9 152.9 333.1 152.9 329.1 152.9 324.9 155.5 320.5 161.4 315.8 161.4 310.9 163.8 305.5 164.6 299.8 167.8 293.5 172.2 286.6 177 278.8 187.6 269.9 187.6 259.6 194.3 247 202.8 231 218.6 208.7 242.3 171.1M67.2 453.3 70.9 442.8 75 435.6 76.1 429.8 80.5 424.9 84.7 420.4 85.3 416.4 86.4 412.6 90.2 409.1 91.5 405.7 92.7 402.4 92.7 399.2 92.7 396.1 92.7 393.1 92.7 390.1 92.7 387.2 95.8 384.2 97.3 381.3 98.6 378.4 98.9 375.5 102.5 372.5 108 369.6 115.3 366.6 121.1 363.6 124.7 360.5 124.7 357.4 126.4 354.2 144.1 351 145.3 347.6 145.8 344.2 145.8 340.6 147.4 336.9 150.7 333.1 152.3 329.1 157.2 324.9 161.8 320.5 163.5 315.8 167 310.9 169.5 305.5 174.7 299.8 178.8 293.5 181.3 286.6 187.6 278.8 193.1 269.9 196.6 259.6 207.9 247 225.7 231 265 208.7 265 171.1M70.1 453.3 82.7 442.8 83.3 435.6 84.8 429.8 85.3 424.9 86.8 420.4 86.8 416.4 90.1 412.6 93.8 409.1 94.7 405.7 98 402.4 98 399.2 98 396.1 98.6 393.1 98.8 390.1 98.8 387.2 103.4 384.2 103.4 381.3 107.7 378.4 107.7 375.5 108 372.5 108.9 369.6 109.6 366.6 109.6 363.6 109.6 360.5 109.6 357.4 113 354.2 121.4 351 121.4 347.6 121.6 344.2 121.6 340.6 121.6 336.9 121.6 333.1 125.2 329.1 126.1 324.9 126.1 320.5 130.8 315.8 130.8 310.9 135.3 305.5 140.9 299.8 144.8 293.5 146.7 286.6 147.1 278.8 147.1 269.9 147.8 259.6 159.8 247 164.4 231 177.8 208.7 206.8 171.1M81.7 453.3 85.2 442.8 85.4 435.6 88.1 429.8 90.6 424.9 92.6 420.4 93.7 416.4 95.5 412.6 97.3 409.1 99.8 405.7 99.8 402.4 106.8 399.2 106.8 396.1 107.7 393.1 108.5 390.1 108.5 387.2 108.5 384.2 109.2 381.3 113.3 378.4 113.3 375.5 113.8 372.5 113.8 369.6 117.5 366.6 118.7 363.6 124.5 360.5 125.1 357.4 125.2 354.2 130.7 351 133.8 347.6 134.2 344.2 134.2 340.6 134.9 336.9 134.9 333.1 137.2 329.1 139.7 324.9 139.7 320.5 141.4 315.8 141.4 310.9 141.4 305.5 145.1 299.8 145.9 293.5 153.9 286.6 159.6 278.8 165.5 269.9 165.5 259.6 176.7 247 197.1 231 216.2 208.7 231.6 171.1M80.4 453.3 83 442.8 85.3 435.6 85.3 429.8 93.4 424.9 99.4 420.4 100.5 416.4 101.8 412.6 107.9 409.1 108.9 405.7 108.9 402.4 110.9 399.2 110.9 396.1 116.5 393.1 117.4 390.1 118.2 387.2 120.2 384.2 122.8 381.3 126.9 378.4 128.3 375.5 129.3 372.5 130 369.6 131.7 366.6 134.1 363.6 136.5 360.5 136.7 357.4 139.1 354.2 145 351 147 347.6 149.1 344.2 149.6 340.6 152.3 336.9 153.6 333.1 156 329.1 156 324.9 159 320.5 163.3 315.8 165.9 310.9 169 305.5 174.9 299.8 179.5 293.5 184.5 286.6 191.6 278.8 197.8 269.9 197.8 259.6 206.1 247 214.3 231 228.7 208.7 239.7 171.1M86.3 453.3 87.1 442.8 87.1 435.6 96.2 429.8 98.5 424.9 102.6 420.4 104.8 416.4 106.2 412.6 106.9 409.1 107.1 405.7 108.1 402.4 111.5 399.2 113.8 396.1 116.2 393.1 116.2 390.1 116.6 387.2 118.6 384.2 118.7 381.3 119.8 378.4 119.8 375.5 122.3 372.5 124.5 369.6 125.4 366.6 125.4 363.6 126.8 360.5 128.3 357.4 129.4 354.2 133.4 351 133.4 347.6 133.5 344.2 133.5 340.6 133.5 336.9 135.8 333.1 138.5 329.1 140.2 324.9 146.8 320.5 154 315.8 155.2 310.9 155.6 305.5 157.3 299.8 159.2 293.5 163 286.6 169.1 278.8 171 269.9 171 259.6 189.8 247 195.1 231 218.8 208.7 229.6 171.1M66 453.3 68.8 442.8 71 435.6 72.7 429.8 77.3 424.9 82.4 420.4 83.3 416.4 86.6 412.6 87.7 409.1 88.2 405.7 89.2 402.4 89.2 399.2 89.2 396.1 91.4 393.1 92.2 390.1 92.2 387.2 93.9 384.2 96.4 381.3 99.7 378.4 99.7 375.5 99.7 372.5 99.7 369.6 106.8 366.6 112.5 363.6 121.3 360.5 121.3 357.4 122 354.2 125.8 351 127.9 347.6 133.8 344.2 134.7 340.6 141.1 336.9 143.6 333.1 148.4 329.1 151.9 324.9 155.1 320.5 162.5 315.8 163.7 310.9 166.1 305.5 169.7 299.8 177 293.5 178.5 286.6 183.4 278.8 185 269.9 185 259.6 191.7 247 203.5 231 234.3 208.7 236.5 171.1M72.4 453.3 78 442.8 78.2 435.6 84.4 429.8 89.1 424.9 91.4 420.4 95 416.4 100.7 412.6 103.3 409.1 103.3 405.7 104.3 402.4 105.4 399.2 109.6 396.1 111.2 393.1 112.8 390.1 114 387.2 120.1 384.2 120.1 381.3 125 378.4 127.3 375.5 128.2 372.5 130.2 369.6 132.4 366.6 134 363.6 135 360.5 136.3 357.4 136.8 354.2 143.8 351 145.1 347.6 146.7 344.2 150.7 340.6 154.2 336.9 154.2 333.1 156.7 329.1 157.9 324.9 162 320.5 164.5 315.8 166.1 310.9 169.7 305.5 174.1 299.8 180.2 293.5 182.9 286.6 189.5 278.8 191.6 269.9 196.3 259.6 207.2 247 215.6 231 239 208.7 264.5 171.1M68.8 453.3 79.8 442.8 85.5 435.6 90.1 429.8 92 424.9 92.8 420.4 93.6 416.4 94.4 412.6 96.3 409.1 96.5 405.7 98.8 402.4 103.7 399.2 103.7 396.1 105.2 393.1 105.2 390.1 106.2 387.2 106.7 384.2 108.2 381.3 115.6 378.4 115.6 375.5 116.3 372.5 116.3 369.6 117 366.6 123.7 363.6 124.1 360.5 124.1 357.4 124.1 354.2 131.8 351 135 347.6 137.5 344.2 137.5 340.6 139.6 336.9 139.6 333.1 139.6 329.1 139.6 324.9 139.6 320.5 144.1 315.8 144.2 310.9 144.2 305.5 154.1 299.8 156.3 293.5 162.7 286.6 163.8 278.8 165.3 269.9 174 259.6 185.5 247 198 231 211.8 208.7 237.1 171.1M85.4 453.3 85.9 442.8 92.2 435.6 95 429.8 96.6 424.9 97.8 420.4 98.2 416.4 99 412.6 100.8 409.1 102.7 405.7 102.7 402.4 104.3 399.2 104.4 396.1 105.5 393.1 105.5 390.1 105.5 387.2 109.9 384.2 109.9 381.3 109.9 378.4 109.9 375.5 109.9 372.5 109.9 369.6 114.1 366.6 118 363.6 121.8 360.5 124.9 357.4 124.9 354.2 130.1 351 130.1 347.6 130.1 344.2 130.1 340.6 130.1 336.9 130.1 333.1 132.2 329.1 132.2 324.9 134.6 320.5 136.5 315.8 137.6 310.9 137.6 305.5 141.5 299.8 142.1 293.5 145.6 286.6 151.2 278.8 151.5 269.9 155.1 259.6 163.5 247 166.4 231 191.9 208.7 205.8 171.1M74.9 453.3 80 442.8 84.8 435.6 85.7 429.8 87.1 424.9 88.4 420.4 89.9 416.4 93.6 412.6 93.6 409.1 95.4 405.7 96.4 402.4 96.4 399.2 96.4 396.1 97.4 393.1 97.7 390.1 97.7 387.2 97.7 384.2 97.7 381.3 98.3 378.4 99.1 375.5 99.1 372.5 104.3 369.6 104.3 366.6 117.6 363.6 117.6 360.5 117.6 357.4 117.6 354.2 125 351 125.4 347.6 127.2 344.2 127.2 340.6 129.9 336.9 129.9 333.1 130.7 329.1 130.7 324.9 130.7 320.5 132.5 315.8 136.7 310.9 141.8 305.5 146.8 299.8 146.9 293.5 149.1 286.6 168.8 278.8 171.1 269.9 171.1 259.6 177.6 247 183.8 231 221 208.7 230.5 171.1M59.8 453.3 66 442.8 68.4 435.6 70.8 429.8 73.3 424.9 75.7 420.4 78.4 416.4 80.4 412.6 82.1 409.1 83.8 405.7 85.2 402.4 85.2 399.2 85.2 396.1 87.4 393.1 89.1 390.1 89.1 387.2 91.3 384.2 91.9 381.3 94.7 378.4 94.7 375.5 94.7 372.5 95.8 369.6 98.6 366.6 100.6 363.6 102.2 360.5 102.8 357.4 104.7 354.2 112 351 113.5 347.6 114.2 344.2 115.3 340.6 116.4 336.9 121.4 333.1 127.4 329.1 129.8 324.9 134.1 320.5 135.8 315.8 135.9 310.9 135.9 305.5 142.5 299.8 142.6 293.5 154.5 286.6 155.1 278.8 158.1 269.9 163.8 259.6 186.7 247 189.6 231 204.6 208.7 220.9 171.1M67.5 453.3 80.7 442.8 80.7 435.6 82.1 429.8 92.1 424.9 93.1 420.4 93.4 416.4 93.4 412.6 95.2 409.1 98.2 405.7 102.3 402.4 103.9 399.2 106.5 396.1 110.9 393.1 110.9 390.1 110.9 387.2 111.6 384.2 114.6 381.3 115 378.4 115 375.5 124.3 372.5 128.9 369.6 130.7 366.6 132.3 363.6 136.4 360.5 137.4 357.4 139.2 354.2 144.5 351 145.6 347.6 146.3 344.2 146.9 340.6 149.5 336.9 149.5 333.1 152 329.1 155.9 324.9 159.3 320.5 163.4 315.8 163.4 310.9 163.9 305.5 165.9 299.8 170.7 293.5 172 286.6 174.1 278.8 176.8 269.9 176.8 259.6 186 247 199.1 231 213 208.7 243.6 171.1M78.4 453.3 78.5 442.8 85.9 435.6 86.4 429.8 89 424.9 92.9 420.4 95.7 416.4 102.3 412.6 102.3 409.1 102.3 405.7 103 402.4 107.1 399.2 107.1 396.1 107.9 393.1 107.9 390.1 107.9 387.2 109.5 384.2 109.5 381.3 109.5 378.4 109.5 375.5 109.5 372.5 109.5 369.6 110.3 366.6 112.4 363.6 112.6 360.5 112.6 357.4 112.6 354.2 119 351 119 347.6 121.3 344.2 121.3 340.6 123.3 336.9 125 333.1 125 329.1 135.4 324.9 135.4 320.5 139.3 315.8 139.8 310.9 155.8 305.5 157.1 299.8 160.2 293.5 162.2 286.6 163.6 278.8 164.5 269.9 164.5 259.6 184 247 202.2 231 226.6 208.7 236 171.1M60 453.3 66.4 442.8 81 435.6 82.7 429.8 83.7 424.9 90.4 420.4 101.8 416.4 102.2 412.6 103.4 409.1 105.6 405.7 108.3 402.4 114.4 399.2 114.4 396.1 116.7 393.1 119.3 390.1 121.2 387.2 122.4 384.2 123.5 381.3 125.8 378.4 126.5 375.5 127.6 372.5 128.4 369.6 131.1 366.6 132.3 363.6 136.1 360.5 137.2 357.4 139.5 354.2 144.6 351 146 347.6 149.3 344.2 150.6 340.6 154.2 336.9 154.2 333.1 155.9 329.1 157.5 324.9 161 320.5 165 315.8 167.2 310.9 170.1 305.5 175.9 299.8 179.2 293.5 181.9 286.6 187.1 278.8 190.3 269.9 199.7 259.6 211.2 247 221.4 231 275.4 208.7 277 171.1M57.3 453.3 63.3 442.8 68.1 435.6 70.5 429.8 73.1 424.9 75.9 420.4 78 416.4 79.9 412.6 81.7 409.1 83.3 405.7 85 402.4 85 399.2 85 396.1 87.2 393.1 88.9 390.1 88.9 387.2 91 384.2 91.2 381.3 93.9 378.4 93.9 375.5 94.1 372.5 94.9 369.6 97.4 366.6 99.3 363.6 100.6 360.5 100.6 357.4 102.9 354.2 111.1 351 115.6 347.6 116.5 344.2 118.3 340.6 120 336.9 123.8 333.1 123.8 329.1 126.3 324.9 137.5 320.5 137.5 315.8 137.5 310.9 137.5 305.5 149.2 299.8 157.8 293.5 165.7 286.6 169.9 278.8 172.1 269.9 173 259.6 183.4 247 205.5 231 216.9 208.7 230.8 171.1M68.4 453.3 74 442.8 76.7 435.6 83.2 429.8 83.6 424.9 85.2 420.4 86.9 416.4 87.1 412.6 87.8 409.1 90.1 405.7 93.9 402.4 93.9 399.2 93.9 396.1 93.9 393.1 93.9 390.1 93.9 387.2 93.9 384.2 93.9 381.3 103.2 378.4 103.2 375.5 103.2 372.5 103.4 369.6 106.1 366.6 106.1 363.6 106.1 360.5 106.1 357.4 108.3 354.2 113.4 351 116.6 347.6 117.9 344.2 118.8 340.6 119.4 336.9 124.5 333.1 125.3 329.1 128.3 324.9 128.4 320.5 132.7 315.8 132.7 310.9 135.1 305.5 142.7 299.8 147.1 293.5 149 286.6 150.3 278.8 150.6 269.9 152.1 259.6 161.6 247 164 231 173.1 208.7 198.4 171.1M61.5 453.3 65 442.8 70.6 435.6 72 429.8 75 424.9 78 420.4 80.3 416.4 82.5 412.6 85 409.1 86.9 405.7 88.1 402.4 88.1 399.2 90.9 396.1 92.7 393.1 93.4 390.1 93.4 387.2 94 384.2 94 381.3 96.2 378.4 96.2 375.5 96.2 372.5 97.1 369.6 99.2 366.6 109.5 363.6 110.5 360.5 112.9 357.4 114.8 354.2 119.4 351 131.6 347.6 131.6 344.2 131.6 340.6 140.4 336.9 140.4 333.1 144.4 329.1 144.8 324.9 146.7 320.5 150.8 315.8 150.8 310.9 150.8 305.5 159.5 299.8 164.4 293.5 165.8 286.6 178 278.8 179.2 269.9 179.8 259.6 187.9 247 195.2 231 236.3 208.7 246 171.1M70.8 453.3 71.3 442.8 72 435.6 82.1 429.8 85.8 424.9 90.9 420.4 91.5 416.4 93.7 412.6 93.7 409.1 93.7 405.7 93.9 402.4 97.2 399.2 101.8 396.1 108.2 393.1 108.8 390.1 113.2 387.2 114.5 384.2 115.6 381.3 116.4 378.4 117.8 375.5 118 372.5 118 369.6 118 366.6 118 363.6 118.7 360.5 122 357.4 125.5 354.2 132.7 351 133.3 347.6 133.3 344.2 133.3 340.6 140.2 336.9 142.4 333.1 149.6 329.1 153 324.9 157.4 320.5 160.5 315.8 160.8 310.9 163.5 305.5 165.8 299.8 168.1 293.5 169.6 286.6 172.5 278.8 180 269.9 184.3 259.6 195.1 247 208.6 231 229.4 208.7 240.4 171.1M87.8 453.3 89.5 442.8 92.3 435.6 95.9 429.8 97.9 424.9 99.9 420.4 101.4 416.4 102 412.6 102.8 409.1 102.8 405.7 107.2 402.4 110.5 399.2 111.8 396.1 113.7 393.1 113.7 390.1 113.7 387.2 118.5 384.2 119 381.3 121.2 378.4 121.2 375.5 121.2 372.5 121.2 369.6 125.1 366.6 127.5 363.6 127.5 360.5 127.5 357.4 129 354.2 134.7 351 134.7 347.6 137.2 344.2 137.3 340.6 138.2 336.9 148.2 333.1 150.6 329.1 150.6 324.9 152.5 320.5 152.7 315.8 156.7 310.9 157.8 305.5 161.2 299.8 164.9 293.5 171.6 286.6 176.9 278.8 176.9 269.9 176.9 259.6 190.8 247 193 231 207.4 208.7 215.5 171.1M72.7 453.3 77.4 442.8 77.4 435.6 78.9 429.8 81.8 424.9 90.7 420.4 92.1 416.4 93.4 412.6 95.7 409.1 96.1 405.7 96.1 402.4 96.1 399.2 97.1 396.1 98.3 393.1 98.3 390.1 99 387.2 100.1 384.2 102.8 381.3 103.9 378.4 103.9 375.5 103.9 372.5 103.9 369.6 109.7 366.6 110 363.6 110 360.5 110 357.4 113.4 354.2 118.4 351 118.4 347.6 122.3 344.2 135.5 340.6 143.3 336.9 143.3 333.1 146 329.1 150.5 324.9 154 320.5 154 315.8 154 310.9 154 305.5 154.5 299.8 156.5 293.5 165.9 286.6 169 278.8 170.3 269.9 172.5 259.6 200 247 209.5 231 223.1 208.7 241.4 171.1M61.8 453.3 77.5 442.8 80.9 435.6 83.6 429.8 84.6 424.9 88.5 420.4 90.5 416.4 90.6 412.6 90.9 409.1 95.3 405.7 97.5 402.4 97.5 399.2 97.5 396.1 97.5 393.1 100 390.1 101.7 387.2 115 384.2 115.2 381.3 119 378.4 119 375.5 121.1 372.5 122.2 369.6 130.8 366.6 132.4 363.6 134.3 360.5 136.2 357.4 138.6 354.2 143.9 351 145.1 347.6 148.9 344.2 150.2 340.6 153.8 336.9 153.8 333.1 154.9 329.1 156.5 324.9 160 320.5 160.8 315.8 164.6 310.9 166.7 305.5 167.6 299.8 177.3 293.5 181.1 286.6 190.4 278.8 196.1 269.9 196.1 259.6 203.2 247 212 231 220 208.7 235.6 171.1M75.7 453.3 75.9 442.8 76.7 435.6 76.9 429.8 82.7 424.9 84.7 420.4 88.5 416.4 89.9 412.6 91.5 409.1 91.7 405.7 92.6 402.4 92.6 399.2 92.6 396.1 92.6 393.1 93.6 390.1 93.6 387.2 99.4 384.2 99.4 381.3 100.6 378.4 101.5 375.5 101.7 372.5 102.2 369.6 102.8 366.6 103.8 363.6 106.2 360.5 106.2 357.4 114.2 354.2 125.5 351 141.2 347.6 145.7 344.2 148.2 340.6 153.6 336.9 153.6 333.1 153.8 329.1 154.5 324.9 157.1 320.5 157.7 315.8 157.7 310.9 160.5 305.5 160.5 299.8 176.8 293.5 181.6 286.6 185.9 278.8 192.2 269.9 192.2 259.6 199.1 247 207 231 220.1 208.7 244.6 171.1M76 453.3 76.2 442.8 81.4 435.6 81.4 429.8 86.4 424.9 86.7 420.4 87.1 416.4 87.4 412.6 91.1 409.1 91.1 405.7 91.9 402.4 91.9 399.2 91.9 396.1 91.9 393.1 91.9 390.1 91.9 387.2 93.2 384.2 93.2 381.3 95.6 378.4 95.6 375.5 95.6 372.5 96 369.6 98.2 366.6 100.5 363.6 101.7 360.5 101.7 357.4 103.5 354.2 109 351 109.5 347.6 111.1 344.2 112.7 340.6 113.2 336.9 115.9 333.1 117.1 329.1 118.3 324.9 118.9 320.5 121 315.8 123.1 310.9 123.6 305.5 130.4 299.8 132.2 293.5 136.2 286.6 137.5 278.8 138.6 269.9 139.9 259.6 153.8 247 177.6 231 196.5 208.7 219.7 171.1M70.6 453.3 73 442.8 75.6 435.6 83.8 429.8 85.5 424.9 89 420.4 91.6 416.4 97.2 412.6 97.5 409.1 98.4 405.7 100.7 402.4 100.7 399.2 103.1 396.1 104.2 393.1 105.2 390.1 116.2 387.2 116.7 384.2 117.3 381.3 118.8 378.4 119.8 375.5 122.1 372.5 124.1 369.6 129.9 366.6 130.3 363.6 130.7 360.5 130.7 357.4 130.7 354.2 137.8 351 137.8 347.6 138.4 344.2 142.9 340.6 144.2 336.9 144.2 333.1 144.2 329.1 144.2 324.9 144.5 320.5 144.5 315.8 144.5 310.9 144.5 305.5 146.2 299.8 147.4 293.5 149.4 286.6 156.2 278.8 158.8 269.9 172.3 259.6 192.9 247 199.6 231 208.6 208.7 223.9 171.1M79 453.3 79 442.8 81.1 435.6 82.7 429.8 84.5 424.9 87.2 420.4 90.4 416.4 96.3 412.6 98.2 409.1 101.3 405.7 101.3 402.4 101.3 399.2 101.3 396.1 103.3 393.1 103.5 390.1 106 387.2 109.1 384.2 109.1 381.3 114 378.4 114 375.5 116.7 372.5 116.7 369.6 116.7 366.6 116.9 363.6 116.9 360.5 117.4 357.4 122.5 354.2 131.7 351 131.7 347.6 131.7 344.2 133.6 340.6 133.9 336.9 133.9 333.1 138.8 329.1 138.8 324.9 140.3 320.5 143.5 315.8 144.1 310.9 144.1 305.5 147.4 299.8 150.6 293.5 154.2 286.6 155 278.8 158.6 269.9 164.3 259.6 170.6 247 176.1 231 196 208.7 205.3 171.1M69.6 453.3 77.9 442.8 77.9 435.6 79.8 429.8 80.9 424.9 89.4 420.4 89.8 416.4 93.2 412.6 94.3 409.1 94.9 405.7 94.9 402.4 95.3 399.2 96.4 396.1 100.9 393.1 103.5 390.1 103.5 387.2 114.7 384.2 114.7 381.3 115.8 378.4 115.8 375.5 115.9 372.5 115.9 369.6 116.8 366.6 117 363.6 122.9 360.5 128.4 357.4 128.4 354.2 131.2 351 131.2 347.6 131.2 344.2 131.2 340.6 131.2 336.9 131.2 333.1 131.2 329.1 131.2 324.9 131.2 320.5 131.2 315.8 131.7 310.9 131.7 305.5 140.7 299.8 142.4 293.5 153.3 286.6 155.8 278.8 158 269.9 158 259.6 187.5 247 191.7 231 199.9 208.7 215.9 171.1M72.6 453.3 79.9 442.8 83.1 435.6 84.3 429.8 87.3 424.9 95.1 420.4 99.6 416.4 100 412.6 101.1 409.1 101.7 405.7 102.5 402.4 104.1 399.2 104.1 396.1 104.1 393.1 104.1 390.1 104.1 387.2 104.4 384.2 112.3 381.3 112.3 378.4 112.3 375.5 112.3 372.5 112.3 369.6 112.3 366.6 112.3 363.6 112.9 360.5 112.9 357.4 112.9 354.2 118.2 351 118.2 347.6 121.5 344.2 124.6 340.6 124.6 336.9 125.8 333.1 129.2 329.1 131.1 324.9 131.1 320.5 131.2 315.8 133.3 310.9 133.3 305.5 140.5 299.8 143.2 293.5 150.6 286.6 157.8 278.8 158.5 269.9 159.5 259.6 166.2 247 181.8 231 205.7 208.7 213.5 171.1M87.4 453.3 89.1 442.8 94.8 435.6 96.3 429.8 97.6 424.9 101.7 420.4 102.9 416.4 103.8 412.6 107.3 409.1 108.5 405.7 108.5 402.4 110.8 399.2 110.8 396.1 111.9 393.1 111.9 390.1 114.4 387.2 115.2 384.2 115.2 381.3 117.9 378.4 117.9 375.5 118.6 372.5 118.6 369.6 118.6 366.6 118.6 363.6 118.6 360.5 118.6 357.4 118.6 354.2 120.9 351 132.1 347.6 132.1 344.2 132.1 340.6 132.1 336.9 132.1 333.1 132.1 329.1 132.1 324.9 132.1 320.5 132.1 315.8 132.9 310.9 133.7 305.5 139.9 299.8 142.8 293.5 153 286.6 156.9 278.8 156.9 269.9 156.9 259.6 173 247 190.7 231 210 208.7 219.4 171.1M65.8 453.3 68.6 442.8 72.9 435.6 75.9 429.8 79.5 424.9 80.3 420.4 86.4 416.4 88.8 412.6 88.8 409.1 89.2 405.7 90.3 402.4 90.3 399.2 90.3 396.1 90.3 393.1 91 390.1 91 387.2 92.4 384.2 92.4 381.3 94.8 378.4 97.2 375.5 104.1 372.5 107.8 369.6 116.7 366.6 125.1 363.6 125.1 360.5 128 357.4 129 354.2 135.8 351 135.8 347.6 135.8 344.2 138.8 340.6 143.4 336.9 145.6 333.1 149.1 329.1 158.4 324.9 162.6 320.5 165.2 315.8 167.1 310.9 168.9 305.5 171.3 299.8 175 293.5 177.9 286.6 181.2 278.8 183.1 269.9 183.1 259.6 188.7 247 202.7 231 211.5 208.7 233.2 171.1M73.6 453.3 78.6 442.8 79.7 435.6 81.3 429.8 82.1 424.9 83.2 420.4 84.7 416.4 85.3 412.6 86.8 409.1 89.7 405.7 90.1 402.4 90.1 399.2 90.1 396.1 90.1 393.1 90.1 390.1 90.1 387.2 92.8 384.2 92.8 381.3 95 378.4 95 375.5 95 372.5 95.9 369.6 98 366.6 100.4 363.6 101.6 360.5 102.5 357.4 105.7 354.2 113 351 113.2 347.6 115 344.2 116.2 340.6 116.2 336.9 118.7 333.1 119.1 329.1 120.2 324.9 121.6 320.5 123.3 315.8 125.2 310.9 125.3 305.5 131.7 299.8 133.9 293.5 138.4 286.6 139.9 278.8 142.2 269.9 142.2 259.6 155.4 247 162.2 231 170.8 208.7 212.3 171.1M70.4 453.3 79.3 442.8 79.3 435.6 79.3 429.8 82.1 424.9 83.6 420.4 86.2 416.4 91.2 412.6 95.4 409.1 95.4 405.7 95.9 402.4 95.9 399.2 95.9 396.1 102.6 393.1 102.6 390.1 102.6 387.2 104.3 384.2 104.3 381.3 109.3 378.4 109.3 375.5 115 372.5 115 369.6 115 366.6 115 363.6 115 360.5 115 357.4 115.6 354.2 120.3 351 120.3 347.6 122.6 344.2 124 340.6 126 336.9 127.3 333.1 127.5 329.1 128.2 324.9 128.2 320.5 133.7 315.8 138.3 310.9 138.3 305.5 142.2 299.8 147.2 293.5 148.4 286.6 149.3 278.8 156.6 269.9 158.6 259.6 165.5 247 171.4 231 179.4 208.7 190.7 171.1M70.5 453.3 77.5 442.8 80.7 435.6 82.6 429.8 88 424.9 88.7 420.4 89.3 416.4 90.8 412.6 90.8 409.1 92 405.7 93.5 402.4 93.8 399.2 95.1 396.1 106.3 393.1 106.3 390.1 110.1 387.2 114.3 384.2 115.7 381.3 116.9 378.4 116.9 375.5 116.9 372.5 116.9 369.6 116.9 366.6 116.9 363.6 119.6 360.5 119.6 357.4 119.9 354.2 127.6 351 127.6 347.6 131.9 344.2 131.9 340.6 131.9 336.9 131.9 333.1 133.1 329.1 133.2 324.9 133.3 320.5 134.1 315.8 134.5 310.9 134.5 305.5 141 299.8 143.4 293.5 145.4 286.6 145.4 278.8 152.9 269.9 154.1 259.6 161.9 247 169.7 231 177.4 208.7 211.2 171.1M73.7 453.3 76.8 442.8 87.8 435.6 91.1 429.8 93 424.9 94 420.4 97.8 416.4 99.8 412.6 100.7 409.1 102.4 405.7 102.4 402.4 102.4 399.2 103.3 396.1 104.7 393.1 104.7 390.1 107.4 387.2 107.4 384.2 107.4 381.3 109.2 378.4 109.2 375.5 109.7 372.5 109.7 369.6 109.7 366.6 110.9 363.6 111.1 360.5 111.1 357.4 123.5 354.2 131.4 351 132.7 347.6 132.7 344.2 133.1 340.6 133.1 336.9 133.7 333.1 137.1 329.1 137.1 324.9 139.2 320.5 139.4 315.8 140.7 310.9 141.2 305.5 145.5 299.8 148.4 293.5 152 286.6 152 278.8 152 269.9 155.8 259.6 164.5 247 166.9 231 175.5 208.7 233.8 171.1M67.3 453.3 73.2 442.8 74.9 435.6 77 429.8 79.8 424.9 90.3 420.4 90.6 416.4 92 412.6 95.6 409.1 99.3 405.7 102.5 402.4 104.4 399.2 109.2 396.1 110.4 393.1 110.4 390.1 110.4 387.2 110.4 384.2 110.4 381.3 110.8 378.4 113.2 375.5 113.2 372.5 122.1 369.6 122.3 366.6 126.5 363.6 127.7 360.5 127.7 357.4 130.9 354.2 141 351 141 347.6 143.9 344.2 144.2 340.6 147.6 336.9 148.1 333.1 150 329.1 150 324.9 151.7 320.5 153.4 315.8 153.4 310.9 153.4 305.5 154.1 299.8 161.6 293.5 167.4 286.6 174.4 278.8 175.1 269.9 177.7 259.6 185.9 247 209.2 231 228.1 208.7 236.4 171.1M85.7 453.3 89.7 442.8 92 435.6 95.8 429.8 97 424.9 100.7 420.4 102.1 416.4 102.5 412.6 103.6 409.1 104.3 405.7 104.5 402.4 107.6 399.2 107.6 396.1 107.6 393.1 110.9 390.1 110.9 387.2 111.1 384.2 112.2 381.3 122.6 378.4 124 375.5 125.2 372.5 126.6 369.6 127.3 366.6 127.3 363.6 128.2 360.5 132.9 357.4 134.6 354.2 138.4 351 138.5 347.6 143.8 344.2 145.9 340.6 146.2 336.9 149.9 333.1 154.7 329.1 157.3 324.9 160.5 320.5 162.6 315.8 164.3 310.9 165.5 305.5 166.7 299.8 168.4 293.5 174.6 286.6 179.9 278.8 181.3 269.9 181.3 259.6 187 247 193.1 231 209.3 208.7 217.7 171.1M75.6 453.3 75.7 442.8 77.3 435.6 81.4 429.8 91.4 424.9 92.2 420.4 94.1 416.4 95.4 412.6 96.1 409.1 96.6 405.7 97 402.4 97 399.2 97 396.1 97 393.1 98.4 390.1 99.7 387.2 103.6 384.2 105.6 381.3 111.7 378.4 111.9 375.5 111.9 372.5 111.9 369.6 111.9 366.6 111.9 363.6 116.8 360.5 116.8 357.4 118 354.2 122.6 351 122.6 347.6 123.1 344.2 123.5 340.6 124.8 336.9 135.3 333.1 135.3 329.1 139 324.9 142.9 320.5 143.6 315.8 143.6 310.9 144.3 305.5 157.7 299.8 164.5 293.5 170.2 286.6 174.2 278.8 174.2 269.9 174.2 259.6 177.3 247 181.7 231 193.4 208.7 206.3 171.1M80.9 453.3 85.2 442.8 86.9 435.6 89.3 429.8 91.1 424.9 93.2 420.4 94.2 416.4 97.1 412.6 97.5 409.1 100.7 405.7 100.7 402.4 100.7 399.2 101.6 396.1 108.5 393.1 108.5 390.1 108.5 387.2 109 384.2 109 381.3 109 378.4 109 375.5 109 372.5 109 369.6 109 366.6 109 363.6 109 360.5 109 357.4 109 354.2 113.6 351 113.6 347.6 114.9 344.2 115.9 340.6 116.1 336.9 118.3 333.1 120.3 329.1 121.1 324.9 121.9 320.5 123.6 315.8 125 310.9 127.4 305.5 135.2 299.8 138.3 293.5 141 286.6 147 278.8 155.4 269.9 155.4 259.6 159.3 247 175 231 186.3 208.7 220.6 171.1M85.5 453.3 88.2 442.8 88.2 435.6 92.6 429.8 93.4 424.9 96.5 420.4 97.9 416.4 98.6 412.6 99.2 409.1 100.3 405.7 100.5 402.4 104.1 399.2 104.1 396.1 104.1 393.1 104.7 390.1 104.7 387.2 104.7 384.2 113.5 381.3 115.7 378.4 125.1 375.5 126.5 372.5 128.3 369.6 129.7 366.6 132.9 363.6 135.2 360.5 136.1 357.4 136.6 354.2 140.4 351 142.2 347.6 143.4 344.2 143.8 340.6 148 336.9 148 333.1 148 329.1 150 324.9 153.5 320.5 157.6 315.8 159.9 310.9 160.9 305.5 167.5 299.8 175.6 293.5 178.4 286.6 182.7 278.8 185.7 269.9 185.7 259.6 195.4 247 198.6 231 217.4 208.7 230 171.1M66.9 453.3 67.7 442.8 72.7 435.6 74.9 429.8 76.7 424.9 80.7 420.4 81.5 416.4 88.9 412.6 90.5 409.1 91 405.7 91.5 402.4 91.5 399.2 91.5 396.1 92.2 393.1 94.3 390.1 94.3 387.2 95.9 384.2 97.8 381.3 104.8 378.4 112.9 375.5 112.9 372.5 112.9 369.6 114.3 366.6 122.1 363.6 122.9 360.5 122.9 357.4 122.9 354.2 127.5 351 130.4 347.6 136.3 344.2 136.3 340.6 136.3 336.9 141.8 333.1 141.8 329.1 141.8 324.9 144.1 320.5 148.3 315.8 148.3 310.9 151.9 305.5 156.7 299.8 161.4 293.5 164.5 286.6 167.3 278.8 184.2 269.9 184.2 259.6 187.3 247 190.9 231 210.5 208.7 226.1 171.1M76.4 453.3 80.2 442.8 87.6 435.6 91.3 429.8 93.9 424.9 95.9 420.4 97.4 416.4 98.1 412.6 99.7 409.1 102.6 405.7 105.1 402.4 107.5 399.2 109.4 396.1 110.4 393.1 110.9 390.1 112.5 387.2 114.5 384.2 114.5 381.3 116.7 378.4 117.4 375.5 117.8 372.5 118.3 369.6 118.3 366.6 118.3 363.6 121.4 360.5 127.3 357.4 130.4 354.2 133.7 351 133.7 347.6 136.6 344.2 136.9 340.6 137.9 336.9 137.9 333.1 143.4 329.1 143.4 324.9 143.4 320.5 143.4 315.8 147.9 310.9 147.9 305.5 149.1 299.8 149.4 293.5 167.9 286.6 171 278.8 172.8 269.9 172.8 259.6 178.1 247 194.2 231 220.2 208.7 240.2 171.1M70.9 453.3 78.4 442.8 80.5 435.6 85.7 429.8 88.2 424.9 89.8 420.4 90.6 416.4 91.4 412.6 94.5 409.1 94.5 405.7 96.1 402.4 96.1 399.2 96.1 396.1 96.1 393.1 96.1 390.1 96.1 387.2 96.1 384.2 96.1 381.3 96.3 378.4 96.3 375.5 96.3 372.5 96.3 369.6 98.3 366.6 99.8 363.6 101.8 360.5 101.8 357.4 108.5 354.2 115.6 351 119.5 347.6 120.1 344.2 126.1 340.6 126.3 336.9 129.7 333.1 130 329.1 130 324.9 134.7 320.5 134.7 315.8 134.7 310.9 136.8 305.5 141.8 299.8 145.8 293.5 153.6 286.6 168.4 278.8 171.7 269.9 173.3 259.6 179.6 247 198.3 231 233.1 208.7 289.5 171.1M83.3 453.3 87 442.8 88.6 435.6 92.7 429.8 94.4 424.9 99.1 420.4 101.7 416.4 104.2 412.6 105.1 409.1 105.2 405.7 109.1 402.4 112.1 399.2 112.9 396.1 116.3 393.1 116.3 390.1 118.2 387.2 121.7 384.2 123.3 381.3 125.1 378.4 126.8 375.5 127.2 372.5 128 369.6 130.6 366.6 133.5 363.6 134.7 360.5 135.7 357.4 138.1 354.2 142 351 142 347.6 142.9 344.2 142.9 340.6 144.6 336.9 145.3 333.1 146.8 329.1 146.8 324.9 147.4 320.5 147.4 315.8 147.4 310.9 147.7 305.5 151.5 299.8 151.5 293.5 153.7 286.6 153.7 278.8 153.7 269.9 156.7 259.6 171 247 173.5 231 205.2 208.7 212.6 171.1M84.9 453.3 90.1 442.8 91.1 435.6 91.3 429.8 98.1 424.9 100.1 420.4 101.9 416.4 107.2 412.6 108.5 409.1 111.7 405.7 112.8 402.4 115.9 399.2 116.2 396.1 119.1 393.1 119.7 390.1 122 387.2 123.3 384.2 124.6 381.3 127.2 378.4 128.2 375.5 129.8 372.5 130.5 369.6 132.5 366.6 132.6 363.6 133.6 360.5 133.6 357.4 135.6 354.2 139.6 351 140.8 347.6 141.4 344.2 143.1 340.6 144.5 336.9 144.5 333.1 144.5 329.1 144.5 324.9 144.5 320.5 147.6 315.8 147.6 310.9 149.1 305.5 152 299.8 158 293.5 160.2 286.6 161 278.8 163.1 269.9 163.1 259.6 166.4 247 190.3 231 205.9 208.7 224 171.1M71.2 453.3 76.9 442.8 79.4 435.6 79.8 429.8 83.2 424.9 87.5 420.4 88.7 416.4 95.4 412.6 99.2 409.1 99.2 405.7 105.5 402.4 108.7 399.2 108.7 396.1 111.6 393.1 111.6 390.1 111.6 387.2 111.7 384.2 118.3 381.3 119.4 378.4 119.4 375.5 119.4 372.5 119.4 369.6 119.4 366.6 121.7 363.6 123.5 360.5 123.5 357.4 123.5 354.2 127.2 351 127.2 347.6 127.2 344.2 130.9 340.6 146.1 336.9 146.1 333.1 148.7 329.1 153.5 324.9 156.1 320.5 156.2 315.8 156.3 310.9 156.3 305.5 157.3 299.8 160.8 293.5 162 286.6 164.6 278.8 171.9 269.9 173.8 259.6 183.3 247 184.4 231 202.4 208.7 228.2 171.1M84.3 453.3 88.3 442.8 88.4 435.6 92.3 429.8 93.5 424.9 94.5 420.4 95.4 416.4 99.6 412.6 100.8 409.1 102.5 405.7 102.5 402.4 102.8 399.2 102.8 396.1 102.8 393.1 102.8 390.1 102.8 387.2 102.8 384.2 102.8 381.3 102.8 378.4 102.8 375.5 102.8 372.5 102.8 369.6 107.4 366.6 107.4 363.6 107.4 360.5 108 357.4 108 354.2 113.9 351 115.4 347.6 117.7 344.2 118.1 340.6 118.4 336.9 119.9 333.1 121.1 329.1 122.2 324.9 123.1 320.5 127.4 315.8 128.1 310.9 130.3 305.5 142.6 299.8 142.7 293.5 145.7 286.6 146.5 278.8 148 269.9 148 259.6 159.4 247 162.4 231 174.8 208.7 191.5 171.1M79.9 453.3 80.3 442.8 82.9 435.6 86 429.8 86.6 424.9 89.5 420.4 89.5 416.4 90.2 412.6 91.2 409.1 91.9 405.7 98.2 402.4 99.3 399.2 100.8 396.1 108.7 393.1 109.1 390.1 117.3 387.2 119.4 384.2 121.4 381.3 123.4 378.4 124.4 375.5 125.5 372.5 126 369.6 128.3 366.6 132.1 363.6 133.4 360.5 133.9 357.4 135 354.2 141.1 351 145.5 347.6 147 344.2 148.9 340.6 152 336.9 152 333.1 152 329.1 152.4 324.9 155 320.5 156.9 315.8 158.3 310.9 163.1 305.5 165.5 299.8 178.4 293.5 182.1 286.6 191.9 278.8 196.9 269.9 196.9 259.6 206.7 247 220.5 231 242.3 208.7 255.5 171.1M83.7 453.3 90.8 442.8 94.3 435.6 97.9 429.8 101 424.9 102.8 420.4 104.4 416.4 105.5 412.6 106.8 409.1 109 405.7 109.7 402.4 114.6 399.2 115.4 396.1 117.4 393.1 118.1 390.1 119.8 387.2 120.9 384.2 120.9 381.3 124 378.4 124.9 375.5 128.1 372.5 130.7 369.6 132.2 366.6 133.5 363.6 134.2 360.5 136 357.4 137.3 354.2 143.3 351 143.5 347.6 144.1 344.2 148.5 340.6 152.3 336.9 152.3 333.1 152.3 329.1 152.3 324.9 152.8 320.5 153.7 315.8 153.7 310.9 153.7 305.5 154.6 299.8 161.7 293.5 163.9 286.6 166.4 278.8 167.6 269.9 168.8 259.6 188.3 247 213.4 231 225.5 208.7 289.5 171.1M80 453.3 81.4 442.8 81.4 435.6 81.4 429.8 81.4 424.9 83 420.4 91.4 416.4 92.9 412.6 93.7 409.1 95.1 405.7 95.1 402.4 95.1 399.2 95.6 396.1 96.4 393.1 98.4 390.1 100.6 387.2 103.3 384.2 103.3 381.3 108.5 378.4 108.5 375.5 108.5 372.5 108.5 369.6 108.5 366.6 109.9 363.6 110.8 360.5 110.8 357.4 110.8 354.2 115.5 351 118.9 347.6 120.4 344.2 121.1 340.6 123.7 336.9 124.2 333.1 125 329.1 132.9 324.9 134.4 320.5 145.9 315.8 151.5 310.9 151.5 305.5 155.9 299.8 158.4 293.5 162.8 286.6 164.7 278.8 165.8 269.9 168.5 259.6 175.1 247 180 231 185.4 208.7 246.7 171.1M62.9 453.3 67 442.8 69.7 435.6 71.2 429.8 77.2 424.9 81 420.4 84.1 416.4 86.7 412.6 93.9 409.1 97.2 405.7 97.2 402.4 98.8 399.2 98.8 396.1 99.5 393.1 100.1 390.1 103.8 387.2 112.9 384.2 116.1 381.3 121.2 378.4 123.4 375.5 126.1 372.5 127.8 369.6 129.9 366.6 131.5 363.6 134 360.5 134 357.4 135 354.2 144 351 146.6 347.6 148.8 344.2 149.1 340.6 151.8 336.9 152 333.1 154.3 329.1 155.3 324.9 159.4 320.5 160.4 315.8 161.9 310.9 166.3 305.5 166.8 299.8 172.3 293.5 174.2 286.6 178.3 278.8 182.4 269.9 182.4 259.6 187.5 247 193.2 231 200.1 208.7 221.3 171.1M82.5 453.3 87.2 442.8 89.1 435.6 94.8 429.8 97.4 424.9 100 420.4 101.4 416.4 101.6 412.6 105.9 409.1 109.4 405.7 109.7 402.4 112.5 399.2 114.5 396.1 116.9 393.1 116.9 390.1 117.6 387.2 118.7 384.2 119 381.3 121.1 378.4 123 375.5 123.8 372.5 127.2 369.6 128.6 366.6 129.5 363.6 131.3 360.5 131.3 357.4 131.3 354.2 136.8 351 138.9 347.6 140.4 344.2 140.4 340.6 141.8 336.9 141.8 333.1 144.7 329.1 144.7 324.9 144.7 320.5 150 315.8 150 310.9 150 305.5 158.5 299.8 160.6 293.5 163.9 286.6 172.2 278.8 173.1 269.9 182.1 259.6 189.7 247 217.2 231 233.3 208.7 234.7 171.1M71.4 453.3 73.4 442.8 74.5 435.6 80.3 429.8 82.9 424.9 83.7 420.4 84.2 416.4 85.4 412.6 85.9 409.1 90.3 405.7 91.2 402.4 91.6 399.2 91.6 396.1 96.5 393.1 99.1 390.1 101.5 387.2 110.3 384.2 110.3 381.3 112 378.4 112 375.5 112 372.5 112 369.6 112 366.6 112 363.6 112 360.5 112 357.4 112 354.2 117.4 351 125 347.6 125.2 344.2 127.5 340.6 127.5 336.9 127.5 333.1 127.5 329.1 127.5 324.9 127.5 320.5 127.5 315.8 128.8 310.9 134.3 305.5 140.1 299.8 145.2 293.5 146.9 286.6 148.8 278.8 150.5 269.9 150.5 259.6 161.8 247 164.8 231 178.4 208.7 199.6 171.1M80.4 453.3 81.8 442.8 81.8 435.6 81.8 429.8 87.4 424.9 90.1 420.4 93.7 416.4 95.7 412.6 100 409.1 100.1 405.7 100.1 402.4 100.4 399.2 100.4 396.1 101.1 393.1 101.2 390.1 101.2 387.2 101.2 384.2 102.9 381.3 106.8 378.4 107 375.5 110.8 372.5 112.2 369.6 117.4 366.6 118.4 363.6 118.4 360.5 118.4 357.4 118.4 354.2 130.9 351 130.9 347.6 130.9 344.2 130.9 340.6 135.6 336.9 138.4 333.1 142.3 329.1 142.3 324.9 142.3 320.5 142.3 315.8 142.3 310.9 142.3 305.5 148.7 299.8 150.4 293.5 154.7 286.6 156.4 278.8 164.2 269.9 164.2 259.6 171.6 247 186.2 231 206.6 208.7 218.9 171.1M80.2 453.3 87.2 442.8 87.2 435.6 87.4 429.8 90.2 424.9 91.9 420.4 93 416.4 93.6 412.6 94.1 409.1 94.6 405.7 95.5 402.4 95.5 399.2 95.5 396.1 96.1 393.1 100.5 390.1 100.5 387.2 103 384.2 114.4 381.3 114.9 378.4 114.9 375.5 117.2 372.5 117.2 369.6 117.2 366.6 117.2 363.6 118.2 360.5 118.2 357.4 118.2 354.2 123.1 351 131.9 347.6 131.9 344.2 131.9 340.6 131.9 336.9 134.3 333.1 134.3 329.1 134.3 324.9 134.3 320.5 135.1 315.8 136.1 310.9 142.1 305.5 147.6 299.8 152.5 293.5 158.9 286.6 159.1 278.8 160.2 269.9 160.2 259.6 168.4 247 185.7 231 192.6 208.7 200.3 171.1M70.7 453.3 73.1 442.8 78.5 435.6 78.7 429.8 80 424.9 81.1 420.4 86 416.4 87.5 412.6 89.8 409.1 92 405.7 92.8 402.4 92.8 399.2 92.8 396.1 96.6 393.1 96.6 390.1 96.6 387.2 100.7 384.2 100.7 381.3 105.1 378.4 105.1 375.5 105.1 372.5 105.1 369.6 105.1 366.6 109.6 363.6 110.9 360.5 110.9 357.4 111.2 354.2 116.1 351 121 347.6 135.8 344.2 136.5 340.6 136.5 336.9 138.5 333.1 138.7 329.1 138.7 324.9 138.7 320.5 140.2 315.8 140.2 310.9 140.2 305.5 145.2 299.8 149.6 293.5 153.1 286.6 169.8 278.8 170.9 269.9 170.9 259.6 174.1 247 177.1 231 182.2 208.7 216.2 171.1M71.6 453.3 72.2 442.8 75.4 435.6 75.9 429.8 77.8 424.9 80.9 420.4 82.3 416.4 83.8 412.6 85.7 409.1 87.8 405.7 88.3 402.4 88.3 399.2 95.5 396.1 97.8 393.1 99.9 390.1 107 387.2 114.7 384.2 123.5 381.3 127.5 378.4 128.7 375.5 131 372.5 131.9 369.6 134 366.6 135.7 363.6 137.8 360.5 138.5 357.4 140.5 354.2 146 351 148.3 347.6 150 344.2 151.2 340.6 155 336.9 155 333.1 156.3 329.1 158 324.9 162.3 320.5 164.8 315.8 166.9 310.9 169.2 305.5 171.6 299.8 173.7 293.5 177 286.6 184.5 278.8 188 269.9 188 259.6 200.9 247 207.9 231 218.3 208.7 231.2 171.1M77.4 453.3 79.6 442.8 84.4 435.6 93.1 429.8 93.9 424.9 95.9 420.4 99.1 416.4 99.4 412.6 101.6 409.1 103.1 405.7 103.7 402.4 103.7 399.2 104.5 396.1 105.8 393.1 105.9 390.1 106.3 387.2 106.3 384.2 108.7 381.3 108.7 378.4 108.7 375.5 108.7 372.5 108.7 369.6 108.7 366.6 108.7 363.6 108.7 360.5 108.7 357.4 112.8 354.2 117.1 351 117.1 347.6 125.6 344.2 126.9 340.6 126.9 336.9 127.5 333.1 130.9 329.1 130.9 324.9 132.3 320.5 132.4 315.8 133.5 310.9 141.6 305.5 148 299.8 150.3 293.5 152.5 286.6 152.7 278.8 162 269.9 166.1 259.6 177.8 247 186.7 231 193 208.7 226 171.1M62.6 453.3 66.8 442.8 69.3 435.6 73.5 429.8 76.4 424.9 81.4 420.4 84.3 416.4 84.8 412.6 87 409.1 87.5 405.7 88.8 402.4 88.8 399.2 88.8 396.1 91 393.1 91.5 390.1 92.3 387.2 96.4 384.2 96.4 381.3 100.9 378.4 100.9 375.5 100.9 372.5 100.9 369.6 100.9 366.6 109.8 363.6 111.4 360.5 111.4 357.4 118.7 354.2 132.4 351 132.4 347.6 134.7 344.2 134.7 340.6 141.4 336.9 143.3 333.1 143.7 329.1 143.7 324.9 152.6 320.5 158.8 315.8 160.3 310.9 161.6 305.5 170.8 299.8 180.7 293.5 183.3 286.6 187.9 278.8 199.6 269.9 199.6 259.6 227.5 247 276 231 295.1 208.7 297.5 171.1M74.4 453.3 86.7 442.8 89.2 435.6 90.8 429.8 92.1 424.9 93.4 420.4 97.3 416.4 102.7 412.6 103.3 409.1 103.6 405.7 104.6 402.4 106.6 399.2 106.6 396.1 106.6 393.1 107 390.1 107 387.2 107 384.2 108.6 381.3 113.7 378.4 113.7 375.5 113.7 372.5 114.9 369.6 119.9 366.6 119.9 363.6 119.9 360.5 119.9 357.4 119.9 354.2 130.6 351 130.6 347.6 130.6 344.2 130.6 340.6 130.6 336.9 131.5 333.1 138 329.1 138 324.9 138 320.5 142.7 315.8 142.7 310.9 147.6 305.5 154.6 299.8 161.3 293.5 164 286.6 169.3 278.8 175 269.9 175.1 259.6 182.4 247 190.6 231 199.5 208.7 214.3 171.1M71.6 453.3 77.8 442.8 79.9 435.6 80 429.8 84.3 424.9 89.8 420.4 91.1 416.4 94.7 412.6 99.9 409.1 103 405.7 105.2 402.4 107.9 399.2 107.9 396.1 108.6 393.1 108.6 390.1 108.6 387.2 108.6 384.2 108.6 381.3 108.6 378.4 108.6 375.5 108.6 372.5 108.6 369.6 110.5 366.6 110.5 363.6 113.9 360.5 113.9 357.4 113.9 354.2 122.2 351 122.2 347.6 122.3 344.2 122.3 340.6 123.1 336.9 126.3 333.1 126.3 329.1 130.6 324.9 130.6 320.5 138.3 315.8 138.3 310.9 138.3 305.5 143.4 299.8 144.7 293.5 150.1 286.6 151.7 278.8 153.8 269.9 154 259.6 161.5 247 191.1 231 197.4 208.7 206.5 171.1M64.7 453.3 66.7 442.8 69.9 435.6 71.4 429.8 74.9 424.9 76.7 420.4 79.3 416.4 81.4 412.6 82.6 409.1 84.4 405.7 85.6 402.4 85.6 399.2 85.6 396.1 88.1 393.1 89.7 390.1 89.7 387.2 91.5 384.2 91.6 381.3 94.4 378.4 94.6 375.5 95.2 372.5 95.6 369.6 97.9 366.6 99.6 363.6 101.9 360.5 101.9 357.4 105.2 354.2 110.5 351 111.5 347.6 115.1 344.2 116.4 340.6 117.7 336.9 122.9 333.1 122.9 329.1 123.9 324.9 123.9 320.5 125.8 315.8 127 310.9 128 305.5 135 299.8 137.4 293.5 139.6 286.6 144.8 278.8 152.1 269.9 152.1 259.6 169.7 247 171.7 231 188.6 208.7 231.3 171.1M65.8 453.3 67.6 442.8 82.8 435.6 82.9 429.8 86.7 424.9 88.8 420.4 88.8 416.4 95.3 412.6 95.4 409.1 95.4 405.7 99.9 402.4 99.9 399.2 99.9 396.1 99.9 393.1 103.7 390.1 103.7 387.2 112.3 384.2 112.3 381.3 115.6 378.4 115.6 375.5 115.6 372.5 115.6 369.6 115.6 366.6 115.6 363.6 115.6 360.5 119.4 357.4 119.4 354.2 127 351 127 347.6 147.3 344.2 150.4 340.6 153.4 336.9 153.4 333.1 154.8 329.1 154.8 324.9 157.8 320.5 160 315.8 161.5 310.9 162.5 305.5 162.9 299.8 165.6 293.5 167.6 286.6 170.6 278.8 178.8 269.9 178.8 259.6 185.7 247 188.8 231 231.3 208.7 285 171.1M63.6 453.3 74.6 442.8 84.2 435.6 84.2 429.8 86.9 424.9 94.6 420.4 98.4 416.4 98.8 412.6 102.7 409.1 106.9 405.7 107.9 402.4 113 399.2 113 396.1 115.6 393.1 116.4 390.1 117.5 387.2 119.2 384.2 119.4 381.3 120.7 378.4 120.7 375.5 120.7 372.5 120.7 369.6 120.7 366.6 123.2 363.6 123.2 360.5 134 357.4 136 354.2 140.5 351 142.2 347.6 144.9 344.2 145.6 340.6 146.8 336.9 146.8 333.1 147.1 329.1 149.4 324.9 152.1 320.5 159.9 315.8 162.5 310.9 163.4 305.5 166.2 299.8 174.9 293.5 180.3 286.6 192.5 278.8 198.1 269.9 198.1 259.6 207.4 247 218.6 231 260.5 208.7 260.5 171.1M82.1 453.3 90.7 442.8 92.5 435.6 93.2 429.8 96.1 424.9 97.5 420.4 102.5 416.4 103.3 412.6 104.6 409.1 105 405.7 105 402.4 106.4 399.2 106.4 396.1 107.9 393.1 108.6 390.1 109.6 387.2 109.6 384.2 109.6 381.3 109.6 378.4 109.6 375.5 109.6 372.5 109.6 369.6 109.6 366.6 109.6 363.6 117.2 360.5 117.2 357.4 119.3 354.2 123.5 351 133.9 347.6 133.9 344.2 133.9 340.6 133.9 336.9 133.9 333.1 133.9 329.1 133.9 324.9 133.9 320.5 133.9 315.8 133.9 310.9 137.8 305.5 143 299.8 148.8 293.5 152.5 286.6 164.6 278.8 166.5 269.9 166.5 259.6 178.8 247 183.4 231 199.8 208.7 218.3 171.1M73.3 453.3 85.4 442.8 91.1 435.6 93.9 429.8 96.5 424.9 99.6 420.4 101.2 416.4 103 412.6 103.5 409.1 103.6 405.7 104.2 402.4 104.8 399.2 107.2 396.1 109.1 393.1 109.1 390.1 109.1 387.2 109.1 384.2 109.1 381.3 113.1 378.4 114.1 375.5 114.1 372.5 114.1 369.6 116.1 366.6 116.4 363.6 120.4 360.5 120.4 357.4 120.4 354.2 123.3 351 130 347.6 130.4 344.2 130.4 340.6 135 336.9 135 333.1 137 329.1 137 324.9 138.6 320.5 138.6 315.8 140.4 310.9 140.4 305.5 145.6 299.8 148.6 293.5 152 286.6 153.9 278.8 154.7 269.9 155.3 259.6 162.3 247 168.7 231 188.2 208.7 202 171.1M87 453.3 91.8 442.8 94.6 435.6 95.8 429.8 97 424.9 99.3 420.4 101.8 416.4 102.7 412.6 103 409.1 103 405.7 103.1 402.4 104.8 399.2 109 396.1 110.3 393.1 110.3 390.1 113.3 387.2 113.6 384.2 114 381.3 114 378.4 114 375.5 114.6 372.5 114.6 369.6 114.6 366.6 114.6 363.6 114.6 360.5 114.6 357.4 114.6 354.2 115.8 351 120.8 347.6 120.8 344.2 120.8 340.6 125 336.9 125 333.1 128.2 329.1 131.5 324.9 131.5 320.5 131.5 315.8 131.8 310.9 131.8 305.5 139.7 299.8 144.5 293.5 147.1 286.6 148.5 278.8 154.3 269.9 157.2 259.6 163.9 247 167.6 231 176.2 208.7 193.6 171.1M85.8 453.3 90.3 442.8 93.8 435.6 96.1 429.8 97.7 424.9 101.9 420.4 103.4 416.4 107.1 412.6 108.5 409.1 109.2 405.7 109.5 402.4 111.6 399.2 111.6 396.1 112.4 393.1 113.6 390.1 113.6 387.2 116.4 384.2 116.4 381.3 117.4 378.4 120.4 375.5 120.4 372.5 121.9 369.6 122.9 366.6 122.9 363.6 123.1 360.5 124.7 357.4 127.5 354.2 130.8 351 130.8 347.6 131.7 344.2 131.7 340.6 131.7 336.9 131.7 333.1 132 329.1 132 324.9 133.1 320.5 133.6 315.8 136.4 310.9 136.4 305.5 143.5 299.8 145 293.5 146.8 286.6 153.3 278.8 153.3 269.9 153.3 259.6 158.8 247 161.9 231 171.5 208.7 186.4 171.1M82.3 453.3 82.3 442.8 83.4 435.6 87.9 429.8 94.1 424.9 94.9 420.4 98 416.4 100.4 412.6 102.9 409.1 104.2 405.7 104.6 402.4 106.5 399.2 106.5 396.1 110.2 393.1 111.4 390.1 111.9 387.2 112.1 384.2 112.1 381.3 112.1 378.4 112.1 375.5 112.1 372.5 112.1 369.6 112.1 366.6 112.1 363.6 112.1 360.5 112.1 357.4 112.1 354.2 114.2 351 114.7 347.6 117.1 344.2 118.9 340.6 118.9 336.9 120.6 333.1 122.2 329.1 122.5 324.9 123.9 320.5 124.8 315.8 138 310.9 139.4 305.5 145.8 299.8 152.2 293.5 156.1 286.6 156.5 278.8 156.8 269.9 163.3 259.6 170.8 247 184.5 231 195.7 208.7 231 171.1M83.4 453.3 88.1 442.8 88.2 435.6 89.2 429.8 90.1 424.9 94.9 420.4 96.9 416.4 103.2 412.6 107.3 409.1 108.8 405.7 109.4 402.4 111.4 399.2 112.7 396.1 114.2 393.1 114.2 390.1 114.8 387.2 117.2 384.2 117.2 381.3 117.8 378.4 117.8 375.5 117.8 372.5 117.8 369.6 120.4 366.6 120.4 363.6 120.4 360.5 120.4 357.4 120.7 354.2 128.5 351 128.5 347.6 128.5 344.2 128.5 340.6 130.5 336.9 130.5 333.1 134.7 329.1 137.3 324.9 137.3 320.5 137.3 315.8 144 310.9 148.4 305.5 151.8 299.8 155.9 293.5 165.4 286.6 168.1 278.8 170.6 269.9 177.1 259.6 183.9 247 185.8 231 194.1 208.7 213.3 171.1M77.1 453.3 81.6 442.8 81.8 435.6 82 429.8 83.2 424.9 85.9 420.4 92 416.4 93.2 412.6 94.8 409.1 94.8 405.7 97.4 402.4 97.4 399.2 100.3 396.1 103.9 393.1 104.1 390.1 104.1 387.2 107 384.2 107 381.3 114.1 378.4 119.1 375.5 120 372.5 122.7 369.6 123.6 366.6 125.7 363.6 125.7 360.5 125.7 357.4 127.6 354.2 132.2 351 132.2 347.6 132.2 344.2 138.8 340.6 138.8 336.9 138.8 333.1 139.3 329.1 141.5 324.9 144.4 320.5 156.3 315.8 158.1 310.9 160 305.5 162 299.8 164 293.5 164.3 286.6 169.9 278.8 173.7 269.9 173.7 259.6 178.9 247 184 231 202.1 208.7 214.6 171.1M84.7 453.3 86.1 442.8 86.2 435.6 86.6 429.8 89.4 424.9 90.5 420.4 93 416.4 93.7 412.6 95 409.1 95 405.7 96.3 402.4 96.6 399.2 96.6 396.1 98.1 393.1 99.4 390.1 99.4 387.2 102.3 384.2 102.3 381.3 103.6 378.4 103.6 375.5 103.6 372.5 103.7 369.6 104.8 366.6 114.3 363.6 115.3 360.5 116.4 357.4 116.6 354.2 123.9 351 126.3 347.6 130.2 344.2 130.8 340.6 132.1 336.9 133.4 333.1 138.4 329.1 138.4 324.9 138.4 320.5 138.7 315.8 141.3 310.9 142.3 305.5 146.2 299.8 148.1 293.5 153.4 286.6 158.1 278.8 164.7 269.9 164.7 259.6 172.7 247 180.4 231 188.4 208.7 199.1 171.1M86.9 453.3 91.5 442.8 93.6 435.6 97.7 429.8 100.3 424.9 102.5 420.4 104.3 416.4 105.9 412.6 106.6 409.1 107 405.7 109.1 402.4 111.7 399.2 114.2 396.1 116.1 393.1 116.1 390.1 116.3 387.2 117.4 384.2 117.4 381.3 120.3 378.4 120.3 375.5 120.3 372.5 120.3 369.6 120.3 366.6 120.8 363.6 120.8 360.5 121.9 357.4 122.1 354.2 126 351 128.7 347.6 129.6 344.2 129.6 340.6 139.7 336.9 139.7 333.1 140.7 329.1 141.1 324.9 141.1 320.5 141.1 315.8 141.1 310.9 143.6 305.5 153.9 299.8 155.4 293.5 157.3 286.6 158.5 278.8 166 269.9 166.7 259.6 182 247 184.7 231 207 208.7 218.1 171.1M59.4 453.3 63.9 442.8 67.6 435.6 71.3 429.8 73.8 424.9 76.4 420.4 78.5 416.4 80.1 412.6 82.5 409.1 84 405.7 86.3 402.4 86.3 399.2 86.3 396.1 87.8 393.1 89.5 390.1 89.5 387.2 91.4 384.2 92.3 381.3 95.4 378.4 96.2 375.5 98.9 372.5 104.4 369.6 106.6 366.6 106.6 363.6 107.7 360.5 113.2 357.4 117.9 354.2 135.5 351 136.2 347.6 137.6 344.2 138.4 340.6 143.5 336.9 143.8 333.1 147.7 329.1 150.8 324.9 154.2 320.5 155.2 315.8 158.4 310.9 158.4 305.5 159.1 299.8 164.2 293.5 164.9 286.6 166.7 278.8 177.2 269.9 181.7 259.6 188.1 247 191.4 231 229.7 208.7 302.4 171.1M78.3 453.3 80.8 442.8 83.4 435.6 90.7 429.8 95.3 424.9 96.2 420.4 98.3 416.4 99.1 412.6 100.1 409.1 100.2 405.7 101.3 402.4 101.6 399.2 101.6 396.1 101.6 393.1 101.6 390.1 101.6 387.2 101.6 384.2 101.6 381.3 102.9 378.4 103.4 375.5 103.4 372.5 104.9 369.6 105.5 366.6 106 363.6 109.1 360.5 109.1 357.4 109.3 354.2 115.3 351 115.5 347.6 116.7 344.2 116.9 340.6 118.1 336.9 119.5 333.1 120.2 329.1 120.7 324.9 121.7 320.5 124.2 315.8 125.2 310.9 127.6 305.5 133.7 299.8 136.4 293.5 144 286.6 147.4 278.8 150.9 269.9 153.3 259.6 164.4 247 171.1 231 185.1 208.7 216 171.1M84.2 453.3 90.4 442.8 91.9 435.6 94.5 429.8 97.3 424.9 99.1 420.4 103.6 416.4 105.4 412.6 105.4 409.1 107 405.7 108.1 402.4 113 399.2 113.9 396.1 117.2 393.1 117.2 390.1 118.7 387.2 119.7 384.2 119.9 381.3 121.3 378.4 121.5 375.5 124.3 372.5 124.3 369.6 124.3 366.6 124.3 363.6 124.3 360.5 126.4 357.4 126.5 354.2 131.7 351 137.1 347.6 137.1 344.2 137.1 340.6 137.1 336.9 137.8 333.1 138.6 329.1 138.6 324.9 138.6 320.5 139.7 315.8 141.4 310.9 141.4 305.5 147.7 299.8 152.7 293.5 156.3 286.6 158.6 278.8 161.5 269.9 161.5 259.6 170.5 247 176.2 231 184 208.7 215.6 171.1M64.2 453.3 67.2 442.8 70.2 435.6 73.8 429.8 76.1 424.9 77.8 420.4 79.7 416.4 81.5 412.6 83.3 409.1 85.7 405.7 88.1 402.4 88.1 399.2 90.2 396.1 92.9 393.1 93 390.1 95.2 387.2 97.4 384.2 98.9 381.3 101.5 378.4 101.5 375.5 109.3 372.5 109.3 369.6 112.7 366.6 121.9 363.6 126.2 360.5 126.2 357.4 126.2 354.2 130.4 351 130.4 347.6 130.8 344.2 133.9 340.6 133.9 336.9 133.9 333.1 141.3 329.1 142.5 324.9 147.2 320.5 152.8 315.8 152.8 310.9 155.3 305.5 162.6 299.8 167.1 293.5 170.6 286.6 173.7 278.8 183.6 269.9 183.6 259.6 197.8 247 208.1 231 225.7 208.7 239.3 171.1M66.5 453.3 70.1 442.8 71.6 435.6 74.8 429.8 77 424.9 78.5 420.4 80 416.4 81.6 412.6 84.1 409.1 85.5 405.7 89.6 402.4 89.8 399.2 89.8 396.1 91.3 393.1 93.8 390.1 97.6 387.2 98.9 384.2 98.9 381.3 99.3 378.4 99.3 375.5 101.9 372.5 103 369.6 105.7 366.6 110.4 363.6 112 360.5 112 357.4 112 354.2 117.4 351 121.8 347.6 123.5 344.2 124.5 340.6 125.3 336.9 140.5 333.1 145.5 329.1 146.1 324.9 147.3 320.5 147.3 315.8 147.3 310.9 147.3 305.5 149.5 299.8 157.5 293.5 158.5 286.6 180.6 278.8 184.7 269.9 184.7 259.6 204 247 209.9 231 226 208.7 236.6 171.1M80.1 453.3 82 442.8 87.5 435.6 87.5 429.8 88.7 424.9 92.1 420.4 92.9 416.4 95.6 412.6 99.5 409.1 99.5 405.7 101.7 402.4 101.7 399.2 102.1 396.1 102.9 393.1 102.9 390.1 102.9 387.2 104.1 384.2 104.4 381.3 110.5 378.4 110.5 375.5 110.5 372.5 110.9 369.6 113.9 366.6 113.9 363.6 115.2 360.5 115.2 357.4 115.2 354.2 120.8 351 123.1 347.6 130 344.2 134.1 340.6 134.7 336.9 134.7 333.1 134.9 329.1 134.9 324.9 138 320.5 138 315.8 139 310.9 139 305.5 152.3 299.8 153.8 293.5 156.7 286.6 161.8 278.8 175.2 269.9 175.2 259.6 181 247 186.9 231 196.3 208.7 229.7 171.1M82.9 453.3 87.3 442.8 89.6 435.6 92.1 429.8 94 424.9 96.4 420.4 97.2 416.4 97.7 412.6 99.1 409.1 99.1 405.7 99.3 402.4 100.2 399.2 100.2 396.1 100.6 393.1 101.6 390.1 101.6 387.2 103.1 384.2 105.4 381.3 105.4 378.4 105.4 375.5 105.4 372.5 105.4 369.6 105.6 366.6 107 363.6 107.2 360.5 109.1 357.4 110.9 354.2 115.5 351 116 347.6 116.8 344.2 116.8 340.6 119.4 336.9 122.5 333.1 122.5 329.1 122.7 324.9 122.8 320.5 129.5 315.8 129.6 310.9 129.6 305.5 135.4 299.8 137 293.5 140.6 286.6 143.8 278.8 149.3 269.9 152.3 259.6 160.7 247 164.2 231 192.9 208.7 202.6 171.1M81.1 453.3 83.6 442.8 83.6 435.6 85.2 429.8 91.8 424.9 92.3 420.4 96.4 416.4 96.6 412.6 97 409.1 99.2 405.7 99.6 402.4 101.1 399.2 106.2 396.1 108.1 393.1 108.1 390.1 109.4 387.2 112.5 384.2 112.5 381.3 112.8 378.4 112.8 375.5 115.1 372.5 115.6 369.6 120.7 366.6 120.7 363.6 124 360.5 124 357.4 124 354.2 127.7 351 127.7 347.6 133.6 344.2 134.2 340.6 134.2 336.9 134.2 333.1 134.2 329.1 138.6 324.9 138.6 320.5 140.5 315.8 140.5 310.9 144.5 305.5 153.1 299.8 155.7 293.5 157.3 286.6 161.6 278.8 165.2 269.9 168.2 259.6 180.4 247 185.4 231 192.1 208.7 233.5 171.1M66.9 453.3 71.4 442.8 73.2 435.6 86.5 429.8 87.5 424.9 88.8 420.4 92.2 416.4 93.9 412.6 95.8 409.1 99.4 405.7 99.4 402.4 108.6 399.2 109.7 396.1 114.1 393.1 114.1 390.1 114.1 387.2 114.2 384.2 115.3 381.3 117 378.4 120.5 375.5 121.9 372.5 121.9 369.6 121.9 366.6 121.9 363.6 121.9 360.5 121.9 357.4 121.9 354.2 129.7 351 129.7 347.6 135.4 344.2 137.5 340.6 143.7 336.9 143.7 333.1 143.7 329.1 143.7 324.9 143.7 320.5 144.8 315.8 145.3 310.9 145.3 305.5 150.2 299.8 153.9 293.5 160.8 286.6 163.2 278.8 168.3 269.9 186.6 259.6 193.4 247 203.6 231 219.8 208.7 238.2 171.1M76.2 453.3 78.4 442.8 78.7 435.6 79.6 429.8 82.5 424.9 87.1 420.4 88 416.4 93.5 412.6 94.4 409.1 94.5 405.7 96.8 402.4 96.8 399.2 96.8 396.1 97.5 393.1 98.1 390.1 98.1 387.2 99.7 384.2 110.1 381.3 110.3 378.4 110.3 375.5 110.3 372.5 110.3 369.6 110.3 366.6 110.3 363.6 111.7 360.5 111.7 357.4 112.3 354.2 117.7 351 124.6 347.6 124.6 344.2 124.7 340.6 124.7 336.9 126.1 333.1 127.9 329.1 127.9 324.9 127.9 320.5 128.3 315.8 132.2 310.9 132.3 305.5 140.3 299.8 142.5 293.5 144.7 286.6 155.5 278.8 157.2 269.9 162.9 259.6 174.8 247 176.4 231 200.4 208.7 219.6 171.1M75.6 453.3 75.6 442.8 79.1 435.6 79.5 429.8 83.7 424.9 87.4 420.4 88.4 416.4 90.7 412.6 92.1 409.1 93.2 405.7 93.4 402.4 93.4 399.2 93.4 396.1 93.4 393.1 93.4 390.1 93.4 387.2 94.4 384.2 96.2 381.3 97.9 378.4 97.9 375.5 101.2 372.5 101.2 369.6 102.4 366.6 103.4 363.6 104.1 360.5 104.1 357.4 104.9 354.2 110.1 351 110.8 347.6 112.4 344.2 117.1 340.6 117.9 336.9 120.7 333.1 123.9 329.1 125.5 324.9 127.7 320.5 132.8 315.8 134.3 310.9 148.8 305.5 156.8 299.8 157.5 293.5 162.9 286.6 171.7 278.8 171.7 269.9 171.7 259.6 174.9 247 185.5 231 222.9 208.7 293.5 171.1M79.8 453.3 89.4 442.8 94.3 435.6 97.3 429.8 99.2 424.9 103.1 420.4 105.1 416.4 107 412.6 107.2 409.1 107.3 405.7 107.3 402.4 113.9 399.2 115.2 396.1 117.2 393.1 117.2 390.1 118.9 387.2 120.7 384.2 120.7 381.3 125.5 378.4 126.2 375.5 127.2 372.5 129 369.6 130.5 366.6 131.9 363.6 132.7 360.5 134.1 357.4 135.8 354.2 140.6 351 142.3 347.6 142.3 344.2 142.3 340.6 145.8 336.9 145.8 333.1 151.1 329.1 151.1 324.9 153 320.5 155.9 315.8 157.4 310.9 157.4 305.5 160.7 299.8 167.9 293.5 170.6 286.6 171.8 278.8 172.4 269.9 172.4 259.6 182.2 247 191 231 197.3 208.7 230.7 171.1M61 453.3 66.6 442.8 70.4 435.6 73.9 429.8 76 424.9 78.9 420.4 80.5 416.4 81.7 412.6 84.4 409.1 86.3 405.7 88.5 402.4 88.5 399.2 88.5 396.1 89.5 393.1 91.3 390.1 93.8 387.2 95.2 384.2 98.1 381.3 100.7 378.4 100.7 375.5 101.4 372.5 104.5 369.6 104.6 366.6 111.5 363.6 114 360.5 114.3 357.4 115.2 354.2 118.7 351 121.3 347.6 126.2 344.2 127.8 340.6 127.8 336.9 127.8 333.1 127.8 329.1 127.8 324.9 132.1 320.5 141.7 315.8 142.4 310.9 142.4 305.5 156 299.8 167.5 293.5 169.4 286.6 169.7 278.8 175.6 269.9 181.3 259.6 189.3 247 210.6 231 221.9 208.7 249.8 171.1M69.3 453.3 72.4 442.8 76.3 435.6 76.7 429.8 80.3 424.9 83.1 420.4 83.9 416.4 86.1 412.6 88.2 409.1 89.2 405.7 89.5 402.4 89.5 399.2 89.5 396.1 89.5 393.1 90.2 390.1 90.2 387.2 94.2 384.2 94.9 381.3 96.7 378.4 96.7 375.5 96.7 372.5 97.8 369.6 100.1 366.6 101.9 363.6 103.5 360.5 104.6 357.4 105.9 354.2 112 351 112.9 347.6 116.9 344.2 119.6 340.6 120.4 336.9 121.4 333.1 123.4 329.1 124.1 324.9 124.1 320.5 125.4 315.8 128.4 310.9 129.7 305.5 136 299.8 138.7 293.5 149.9 286.6 150.4 278.8 153 269.9 153 259.6 165.3 247 175.8 231 182.5 208.7 196.6 171.1M72 453.3 76.7 442.8 84.1 435.6 84.1 429.8 84.4 424.9 87.6 420.4 88.1 416.4 89 412.6 94.5 409.1 94.8 405.7 97 402.4 97 399.2 97 396.1 97.2 393.1 97.2 390.1 97.2 387.2 98.1 384.2 98.1 381.3 98.9 378.4 98.9 375.5 98.9 372.5 98.9 369.6 99.1 366.6 101.3 363.6 102.6 360.5 102.6 357.4 105.6 354.2 112.5 351 112.5 347.6 114.8 344.2 117.3 340.6 128.2 336.9 131.1 333.1 133 329.1 133.9 324.9 133.9 320.5 133.9 315.8 133.9 310.9 140.6 305.5 149.1 299.8 154.9 293.5 157 286.6 157.9 278.8 162.4 269.9 163.4 259.6 171.2 247 174.4 231 186.5 208.7 214.7 171.1M81.5 453.3 87.4 442.8 88.9 435.6 89 429.8 91.6 424.9 92.5 420.4 92.5 416.4 92.5 412.6 92.7 409.1 96.3 405.7 96.6 402.4 100.3 399.2 100.3 396.1 100.3 393.1 100.3 390.1 101.6 387.2 101.8 384.2 104.6 381.3 106.1 378.4 106.1 375.5 106.1 372.5 106.1 369.6 106.1 366.6 106.1 363.6 106.1 360.5 110 357.4 112.3 354.2 118.8 351 118.8 347.6 119.6 344.2 119.6 340.6 120.6 336.9 124.3 333.1 124.3 329.1 126.2 324.9 126.4 320.5 127.2 315.8 130.9 310.9 131 305.5 145.5 299.8 152.4 293.5 154.9 286.6 158.3 278.8 162.9 269.9 162.9 259.6 169.8 247 173 231 185.7 208.7 251.6 171.1M61.9 453.3 65.6 442.8 69.5 435.6 76.8 429.8 79.1 424.9 79.8 420.4 84.4 416.4 86.6 412.6 91.7 409.1 91.7 405.7 92.9 402.4 97 399.2 97 396.1 97.3 393.1 97.3 390.1 98.1 387.2 102.1 384.2 110 381.3 113 378.4 113 375.5 122.2 372.5 128.2 369.6 131.5 366.6 134.4 363.6 135.3 360.5 135.5 357.4 136.2 354.2 143.1 351 145.4 347.6 146.6 344.2 146.7 340.6 155.2 336.9 155.2 333.1 156.4 329.1 157.9 324.9 161.5 320.5 164.6 315.8 166 310.9 168.3 305.5 173.9 299.8 176.5 293.5 182.3 286.6 191.1 278.8 197.2 269.9 197.2 259.6 206.3 247 219.1 231 257 208.7 268.5 171.1M63.3 453.3 71.3 442.8 71.9 435.6 75.8 429.8 78.5 424.9 79.7 420.4 82 416.4 84.3 412.6 85.8 409.1 88.6 405.7 92.3 402.4 92.3 399.2 92.3 396.1 92.3 393.1 93.2 390.1 93.2 387.2 96.6 384.2 98 381.3 98.8 378.4 98.8 375.5 98.8 372.5 103.8 369.6 104.8 366.6 115.5 363.6 115.5 360.5 120 357.4 121.2 354.2 126.9 351 126.9 347.6 126.9 344.2 126.9 340.6 127.4 336.9 127.7 333.1 130 329.1 130.2 324.9 130.2 320.5 131.7 315.8 134.9 310.9 134.9 305.5 145.1 299.8 150.4 293.5 154.4 286.6 154.4 278.8 161.9 269.9 174.3 259.6 192 247 195.4 231 211.2 208.7 216.4 171.1M62.2 453.3 66.5 442.8 86 435.6 86.1 429.8 90 424.9 90.7 420.4 94.2 416.4 96.5 412.6 97.4 409.1 98.1 405.7 100.7 402.4 103.5 399.2 103.9 396.1 104.6 393.1 106.5 390.1 110 387.2 112.8 384.2 112.8 381.3 112.8 378.4 118.6 375.5 119.8 372.5 119.8 369.6 119.8 366.6 119.8 363.6 120.9 360.5 120.9 357.4 123.8 354.2 128.8 351 131.1 347.6 131.1 344.2 132.3 340.6 136.8 336.9 136.8 333.1 137.6 329.1 141.9 324.9 141.9 320.5 141.9 315.8 155.4 310.9 159.6 305.5 162.2 299.8 175.9 293.5 178.1 286.6 186.7 278.8 195.2 269.9 195.2 259.6 201.3 247 210.5 231 221.3 208.7 244.9 171.1M88.5 453.3 94.5 442.8 97 435.6 99.6 429.8 102 424.9 104.7 420.4 107.1 416.4 109.1 412.6 110.9 409.1 112.4 405.7 113.7 402.4 116.3 399.2 116.8 396.1 119.6 393.1 120 390.1 122.4 387.2 123.9 384.2 125.3 381.3 127.9 378.4 129.2 375.5 131 372.5 132 369.6 134 366.6 135.6 363.6 137.5 360.5 138.4 357.4 140.1 354.2 145.5 351 147.7 347.6 149.8 344.2 151.1 340.6 154.7 336.9 154.7 333.1 156.7 329.1 158.2 324.9 162.2 320.5 164.4 315.8 166.4 310.9 168.6 305.5 174.5 299.8 178.2 293.5 181.8 286.6 186.3 278.8 189.4 269.9 193.2 259.6 204.2 247 214.8 231 227.5 208.7 250.5 171.1M59.5 453.3 67.3 442.8 72.6 435.6 76.9 429.8 79.9 424.9 80.8 420.4 82 416.4 86.9 412.6 87.9 409.1 90.4 405.7 90.6 402.4 90.6 399.2 91.5 396.1 93.5 393.1 93.9 390.1 93.9 387.2 95 384.2 95 381.3 95.7 378.4 95.7 375.5 95.7 372.5 96.4 369.6 100.5 366.6 101.6 363.6 104.1 360.5 104.1 357.4 109.7 354.2 114.3 351 114.4 347.6 115.2 344.2 128.5 340.6 130.1 336.9 131.9 333.1 131.9 329.1 134.8 324.9 137.9 320.5 148.1 315.8 149.3 310.9 153.9 305.5 160.5 299.8 162.9 293.5 164.2 286.6 172.1 278.8 176 269.9 176 259.6 187.2 247 190 231 202.6 208.7 231.1 171.1M86.3 453.3 91 442.8 92.2 435.6 94.9 429.8 99.3 424.9 101.2 420.4 103.5 416.4 103.9 412.6 106.7 409.1 107.5 405.7 107.8 402.4 110.2 399.2 111.2 396.1 113.3 393.1 113.4 390.1 113.4 387.2 116.1 384.2 116.1 381.3 117.7 378.4 117.7 375.5 117.7 372.5 117.7 369.6 117.7 366.6 117.7 363.6 117.7 360.5 117.7 357.4 117.7 354.2 117.9 351 119 347.6 120.8 344.2 120.8 340.6 120.8 336.9 124.4 333.1 126.2 329.1 126.2 324.9 129.9 320.5 133.3 315.8 135 310.9 135.5 305.5 143.8 299.8 144.1 293.5 148.5 286.6 152.4 278.8 152.4 269.9 157.8 259.6 165.7 247 171.9 231 184.3 208.7 214.5 171.1M75.4 453.3 75.4 442.8 78.1 435.6 83 429.8 86.2 424.9 89.1 420.4 90.2 416.4 94.1 412.6 94.1 409.1 96 405.7 96.5 402.4 96.5 399.2 96.5 396.1 96.9 393.1 98.5 390.1 98.5 387.2 99.1 384.2 99.1 381.3 101.4 378.4 102.8 375.5 103.1 372.5 103.1 369.6 103.3 366.6 104.1 363.6 106.5 360.5 106.5 357.4 109 354.2 115.2 351 118.8 347.6 119.5 344.2 122.8 340.6 126.7 336.9 126.7 333.1 126.8 329.1 126.8 324.9 128.9 320.5 138.8 315.8 149 310.9 157.9 305.5 160.4 299.8 160.9 293.5 165.6 286.6 171.9 278.8 178.6 269.9 179.2 259.6 184.9 247 197 231 206.3 208.7 234.3 171.1M85.1 453.3 91.8 442.8 92.8 435.6 93.8 429.8 95 424.9 96 420.4 100.3 416.4 103 412.6 103.7 409.1 103.9 405.7 104 402.4 106.2 399.2 106.2 396.1 108 393.1 108.1 390.1 108.8 387.2 108.9 384.2 109.6 381.3 113.9 378.4 113.9 375.5 114.4 372.5 114.4 369.6 115.5 366.6 115.5 363.6 116.2 360.5 116.2 357.4 116.7 354.2 119.5 351 120 347.6 121.7 344.2 121.7 340.6 122.9 336.9 122.9 333.1 122.9 329.1 124 324.9 128.1 320.5 131.8 315.8 135.3 310.9 139 305.5 146.9 299.8 148 293.5 150.5 286.6 154.9 278.8 156.5 269.9 156.5 259.6 162.5 247 166 231 172.8 208.7 188.5 171.1M66.6 453.3 83.5 442.8 84.9 435.6 85.1 429.8 86.9 424.9 89.5 420.4 90.3 416.4 91.2 412.6 93.1 409.1 93.1 405.7 93.6 402.4 93.6 399.2 93.6 396.1 94 393.1 97.2 390.1 97.2 387.2 97.4 384.2 97.4 381.3 97.4 378.4 97.8 375.5 97.9 372.5 97.9 369.6 99 366.6 101.1 363.6 102.8 360.5 103 357.4 104.8 354.2 110.7 351 111.3 347.6 112.7 344.2 113.9 340.6 114.3 336.9 116.6 333.1 117.5 329.1 118.8 324.9 119.7 320.5 121.7 315.8 123.6 310.9 124.2 305.5 132.4 299.8 134.7 293.5 138.8 286.6 139.6 278.8 142 269.9 144 259.6 154.4 247 159.6 231 176.9 208.7 224.7 171.1M65.4 453.3 71.9 442.8 78.3 435.6 80.4 429.8 86.2 424.9 86.9 420.4 88.3 416.4 90.8 412.6 95.6 409.1 95.6 405.7 96.6 402.4 96.6 399.2 96.6 396.1 96.6 393.1 96.6 390.1 96.6 387.2 98.3 384.2 98.3 381.3 99.1 378.4 99.3 375.5 99.4 372.5 99.4 369.6 101.9 366.6 103.3 363.6 104.5 360.5 104.5 357.4 105.5 354.2 110.6 351 112.5 347.6 114.1 344.2 115.4 340.6 116.3 336.9 118.4 333.1 119.4 329.1 120.7 324.9 121.3 320.5 125.3 315.8 127.6 310.9 127.6 305.5 137 299.8 137.7 293.5 143 286.6 148 278.8 157.6 269.9 160.6 259.6 173.1 247 187.9 231 204 208.7 212.2 171.1M76.7 453.3 89.1 442.8 94.7 435.6 95.4 429.8 96.8 424.9 99.2 420.4 100.7 416.4 105.1 412.6 106.5 409.1 106.5 405.7 108.4 402.4 113.1 399.2 113.1 396.1 114 393.1 114 390.1 114.3 387.2 117.8 384.2 119.1 381.3 120.1 378.4 120.1 375.5 120.1 372.5 120.1 369.6 121 366.6 124.2 363.6 124.2 360.5 124.2 357.4 124.8 354.2 130.5 351 135.6 347.6 140.8 344.2 140.8 340.6 140.8 336.9 143.4 333.1 144.9 329.1 145.9 324.9 145.9 320.5 147.7 315.8 153.3 310.9 159.7 305.5 160.1 299.8 165.7 293.5 166.3 286.6 179.5 278.8 188.1 269.9 188.1 259.6 196.3 247 202.1 231 212 208.7 222.3 171.1M64 453.3 67.8 442.8 76.3 435.6 79.4 429.8 80.2 424.9 81.5 420.4 82.6 416.4 84.3 412.6 85.4 409.1 87.8 405.7 88.6 402.4 88.6 399.2 88.6 396.1 91.1 393.1 95.6 390.1 104.3 387.2 108.6 384.2 108.6 381.3 110.2 378.4 110.2 375.5 110.2 372.5 115.8 369.6 124 366.6 124 363.6 124 360.5 124 357.4 124.3 354.2 126.8 351 126.8 347.6 126.8 344.2 126.8 340.6 126.8 336.9 126.9 333.1 127.6 329.1 132.5 324.9 138.4 320.5 138.4 315.8 138.4 310.9 143.4 305.5 151.5 299.8 159 293.5 174.1 286.6 177.4 278.8 177.7 269.9 177.7 259.6 186.6 247 188.7 231 213.3 208.7 218.4 171.1M73 453.3 87.6 442.8 88.4 435.6 89.9 429.8 93.8 424.9 94.7 420.4 95.7 416.4 96.2 412.6 102.4 409.1 102.4 405.7 105.8 402.4 113.3 399.2 113.7 396.1 117.5 393.1 117.9 390.1 120.9 387.2 122.3 384.2 123.8 381.3 126.1 378.4 127.6 375.5 129.8 372.5 130.6 369.6 131.9 366.6 132.5 363.6 135.1 360.5 135.1 357.4 138.1 354.2 142.2 351 144.8 347.6 145.1 344.2 145.6 340.6 147.3 336.9 150.1 333.1 155.1 329.1 155.1 324.9 159.1 320.5 163 315.8 163.2 310.9 164.6 305.5 164.6 299.8 166.7 293.5 168.3 286.6 173.3 278.8 180.7 269.9 180.7 259.6 185.2 247 187.2 231 195.5 208.7 206.1 171.1M80.3 453.3 81.6 442.8 82.7 435.6 85.5 429.8 86.5 424.9 87.5 420.4 91.7 416.4 92.7 412.6 93.5 409.1 97.3 405.7 97.3 402.4 98.6 399.2 98.6 396.1 100.4 393.1 100.8 390.1 104.9 387.2 105.2 384.2 105.2 381.3 108.3 378.4 110.8 375.5 116.3 372.5 116.3 369.6 116.3 366.6 116.3 363.6 116.3 360.5 116.7 357.4 116.7 354.2 118.9 351 119.1 347.6 120.9 344.2 120.9 340.6 121.8 336.9 122.7 333.1 123.8 329.1 132.2 324.9 132.2 320.5 132.2 315.8 134.8 310.9 137.2 305.5 144.3 299.8 154.1 293.5 156.3 286.6 158.9 278.8 163.4 269.9 163.4 259.6 167.9 247 175.6 231 183.7 208.7 193.2 171.1M76.8 453.3 86.4 442.8 90.9 435.6 95.1 429.8 97.1 424.9 98.7 420.4 101.3 416.4 105.4 412.6 105.4 409.1 105.4 405.7 105.4 402.4 109.2 399.2 109.2 396.1 109.2 393.1 110.8 390.1 112.1 387.2 115.4 384.2 118.4 381.3 120.6 378.4 121.2 375.5 121.2 372.5 121.2 369.6 121.2 366.6 122.9 363.6 122.9 360.5 122.9 357.4 122.9 354.2 124.6 351 124.6 347.6 124.6 344.2 124.6 340.6 124.6 336.9 126.5 333.1 126.5 329.1 126.5 324.9 126.5 320.5 128.6 315.8 131.2 310.9 131.2 305.5 140.8 299.8 142.3 293.5 149.3 286.6 149.9 278.8 151.9 269.9 151.9 259.6 160.9 247 163.4 231 172.2 208.7 211.9 171.1M68 453.3 87 442.8 95.1 435.6 97.5 429.8 99.1 424.9 101 420.4 102.8 416.4 105.8 412.6 109 409.1 111.8 405.7 113 402.4 116 399.2 116.6 396.1 119.4 393.1 119.8 390.1 122 387.2 123.2 384.2 124.2 381.3 126.8 378.4 128.1 375.5 129.5 372.5 130.1 369.6 132.5 366.6 133.2 363.6 135.7 360.5 135.9 357.4 137 354.2 143.7 351 145 347.6 147.8 344.2 149.7 340.6 152.4 336.9 152.4 333.1 152.4 329.1 153.1 324.9 158.2 320.5 159.5 315.8 162.6 310.9 164.8 305.5 165.2 299.8 169.4 293.5 172.2 286.6 176.7 278.8 180.3 269.9 180.3 259.6 186.4 247 188.1 231 196.6 208.7 230.3 171.1M71.9 453.3 74.2 442.8 78.4 435.6 79.5 429.8 82.8 424.9 83.9 420.4 84.9 416.4 87 412.6 88.4 409.1 88.9 405.7 89.7 402.4 92 399.2 92 396.1 92.2 393.1 93.7 390.1 93.7 387.2 95.4 384.2 99.1 381.3 100.8 378.4 101.2 375.5 102.2 372.5 102.2 369.6 104.4 366.6 104.7 363.6 105.8 360.5 108.2 357.4 109.1 354.2 114.5 351 115.3 347.6 121.1 344.2 121.1 340.6 121.2 336.9 122 333.1 123.6 329.1 123.6 324.9 123.6 320.5 124.6 315.8 127.2 310.9 127.9 305.5 137.7 299.8 139 293.5 140.9 286.6 143.1 278.8 143.7 269.9 145.5 259.6 156.8 247 161.1 231 167.7 208.7 201.4 171.1M62.7 453.3 71.4 442.8 72.4 435.6 74.3 429.8 75.9 424.9 79.4 420.4 81.9 416.4 83.6 412.6 84.8 409.1 88.1 405.7 89.1 402.4 89.1 399.2 89.1 396.1 90.9 393.1 91.7 390.1 92.2 387.2 96.8 384.2 97.7 381.3 98.4 378.4 99.6 375.5 99.6 372.5 100.7 369.6 101.5 366.6 106 363.6 115.6 360.5 123.4 357.4 128 354.2 135.1 351 137.4 347.6 144.7 344.2 144.7 340.6 150.7 336.9 152.9 333.1 155.5 329.1 158.9 324.9 162.8 320.5 165.3 315.8 167.8 310.9 170.7 305.5 177.4 299.8 182.7 293.5 186 286.6 194 278.8 201 269.9 204.6 259.6 213.6 247 227.9 231 257 208.7 257 171.1M67.6 453.3 83.2 442.8 87.4 435.6 88 429.8 89.5 424.9 90 420.4 90.7 416.4 91.1 412.6 91.2 409.1 94.1 405.7 102 402.4 104.6 399.2 104.6 396.1 106.6 393.1 106.6 390.1 108.1 387.2 108.2 384.2 108.2 381.3 108.2 378.4 108.2 375.5 108.2 372.5 108.2 369.6 108.2 366.6 108.2 363.6 108.2 360.5 108.2 357.4 108.2 354.2 112.7 351 115.7 347.6 117.6 344.2 118.4 340.6 118.4 336.9 119.8 333.1 120.6 329.1 121.2 324.9 122.6 320.5 124.7 315.8 126.7 310.9 127.8 305.5 138 299.8 140.6 293.5 143.8 286.6 143.8 278.8 144.1 269.9 144.7 259.6 155.9 247 161.6 231 170 208.7 184.5 171.1M86 453.3 87.9 442.8 89.5 435.6 90 429.8 93.8 424.9 97.2 420.4 100.4 416.4 100.9 412.6 101.5 409.1 102.3 405.7 102.6 402.4 102.6 399.2 102.6 396.1 103.1 393.1 103.1 390.1 103.1 387.2 103.1 384.2 103.1 381.3 103.1 378.4 103.1 375.5 103.1 372.5 103.1 369.6 103.1 366.6 104 363.6 105.7 360.5 105.7 357.4 108.6 354.2 115.4 351 116.2 347.6 118.1 344.2 118.1 340.6 118.5 336.9 119.5 333.1 121.4 329.1 122.1 324.9 122.4 320.5 123.8 315.8 126.1 310.9 126.1 305.5 132.1 299.8 133.7 293.5 137.5 286.6 139.1 278.8 140.5 269.9 143 259.6 154.9 247 159.9 231 167.1 208.7 182.2 171.1M74.2 453.3 75.9 442.8 78.4 435.6 84 429.8 87.5 424.9 97.1 420.4 100.3 416.4 100.8 412.6 103.9 409.1 104.5 405.7 105.8 402.4 110.4 399.2 114 396.1 115.7 393.1 115.7 390.1 117 387.2 118.2 384.2 118.2 381.3 120.2 378.4 120.2 375.5 120.2 372.5 120.2 369.6 121.8 366.6 128.5 363.6 129.3 360.5 129.3 357.4 132.7 354.2 135.8 351 136.9 347.6 137.9 344.2 138.4 340.6 142.2 336.9 142.2 333.1 142.2 329.1 142.2 324.9 142.2 320.5 147.5 315.8 150.3 310.9 161.9 305.5 161.9 299.8 163 293.5 167.3 286.6 172.8 278.8 182.2 269.9 182.2 259.6 197.6 247 204.9 231 217.7 208.7 229.4 171.1M61.1 453.3 67.2 442.8 70.3 435.6 72.8 429.8 74.7 424.9 77.3 420.4 81.5 416.4 83.5 412.6 85.1 409.1 86.2 405.7 87.2 402.4 87.2 399.2 87.2 396.1 92.6 393.1 95.4 390.1 102 387.2 107.8 384.2 117.4 381.3 118.3 378.4 118.3 375.5 118.3 372.5 127.6 369.6 129.5 366.6 130.4 363.6 131.6 360.5 131.6 357.4 132.8 354.2 136 351 138.3 347.6 147.5 344.2 147.7 340.6 150.5 336.9 150.5 333.1 153.9 329.1 154.7 324.9 158.8 320.5 160.1 315.8 161.1 310.9 162.6 305.5 162.7 299.8 168.2 293.5 170.4 286.6 185.6 278.8 190 269.9 190 259.6 194.2 247 203.7 231 236.8 208.7 242.1 171.1M75.5 453.3 79.1 442.8 79.1 435.6 81.6 429.8 81.9 424.9 86 420.4 87.4 416.4 89.5 412.6 89.5 409.1 93.7 405.7 95.3 402.4 95.3 399.2 95.3 396.1 95.9 393.1 97.6 390.1 97.6 387.2 98 384.2 102.2 381.3 103.3 378.4 103.3 375.5 103.3 372.5 103.3 369.6 103.3 366.6 103.3 363.6 109.7 360.5 109.7 357.4 110.6 354.2 120.9 351 120.9 347.6 121.4 344.2 128.7 340.6 130.9 336.9 132.8 333.1 143.1 329.1 146.2 324.9 149.8 320.5 151.1 315.8 152.3 310.9 152.3 305.5 154.2 299.8 157.9 293.5 161.8 286.6 166.1 278.8 166.9 269.9 166.9 259.6 171.3 247 182.7 231 190.4 208.7 227.6 171.1M72.3 453.3 75.7 442.8 76.2 435.6 83.1 429.8 90.7 424.9 91.7 420.4 97.9 416.4 98.3 412.6 99.1 409.1 101.7 405.7 103.4 402.4 105.1 399.2 105.1 396.1 105.7 393.1 105.7 390.1 105.7 387.2 105.7 384.2 105.7 381.3 112.4 378.4 112.4 375.5 112.4 372.5 112.4 369.6 112.4 366.6 112.4 363.6 118 360.5 123.8 357.4 125.9 354.2 129.2 351 129.2 347.6 129.2 344.2 129.2 340.6 129.2 336.9 132.7 333.1 132.7 329.1 136.3 324.9 136.3 320.5 136.3 315.8 141.1 310.9 143.8 305.5 147.7 299.8 155.1 293.5 157.4 286.6 158.7 278.8 159.2 269.9 167.9 259.6 178.4 247 180.2 231 191.3 208.7 208.3 171.1M68.2 453.3 76.6 442.8 85.4 435.6 91 429.8 92 424.9 95.4 420.4 97 416.4 102.6 412.6 105.5 409.1 105.7 405.7 106.3 402.4 109.6 399.2 113.5 396.1 117.8 393.1 117.8 390.1 119.8 387.2 123.3 384.2 124.7 381.3 127 378.4 128.8 375.5 130.4 372.5 131.8 369.6 133.7 366.6 135.8 363.6 137.7 360.5 138.6 357.4 140.6 354.2 146 351 148.1 347.6 150.1 344.2 151.3 340.6 155.3 336.9 155.3 333.1 156.6 329.1 158.1 324.9 161.9 320.5 163.6 315.8 166.5 310.9 168.4 305.5 171.8 299.8 177.8 293.5 180.8 286.6 189.1 278.8 194.7 269.9 194.9 259.6 203.8 247 212.4 231 230.7 208.7 251.1 171.1M64.4 453.3 73.6 442.8 77.8 435.6 80.5 429.8 82.9 424.9 88.1 420.4 93.9 416.4 97.9 412.6 98.8 409.1 101 405.7 101.6 402.4 105.7 399.2 105.7 396.1 110.7 393.1 110.7 390.1 111.2 387.2 111.5 384.2 112.4 381.3 117.6 378.4 117.6 375.5 117.6 372.5 117.6 369.6 117.6 366.6 122.5 363.6 123.7 360.5 124 357.4 126.1 354.2 130 351 130 347.6 131.4 344.2 131.4 340.6 133 336.9 133 333.1 133.3 329.1 133.3 324.9 134.7 320.5 141.3 315.8 142.5 310.9 150.9 305.5 162.4 299.8 167.7 293.5 170 286.6 173.4 278.8 187 269.9 187 259.6 200.1 247 205.6 231 224.6 208.7 228.4 171.1M58.4 453.3 65.5 442.8 71.7 435.6 76.2 429.8 77.7 424.9 79.4 420.4 81.1 416.4 82.6 412.6 86.9 409.1 89.4 405.7 89.8 402.4 89.8 399.2 89.8 396.1 89.8 393.1 90.7 390.1 90.7 387.2 92.2 384.2 92.5 381.3 95 378.4 96.4 375.5 97.2 372.5 98 369.6 101.3 366.6 102.3 363.6 103.4 360.5 105 357.4 112.2 354.2 124.7 351 133.8 347.6 136.5 344.2 136.5 340.6 139.9 336.9 139.9 333.1 140.2 329.1 144.3 324.9 149 320.5 149 315.8 149 310.9 149 305.5 160.6 299.8 164.2 293.5 165 286.6 173.5 278.8 182.1 269.9 182.1 259.6 187.1 247 195.5 231 223.4 208.7 227.2 171.1M75.5 453.3 75.5 442.8 84.7 435.6 85.9 429.8 88.8 424.9 89.2 420.4 89.7 416.4 92.1 412.6 92.9 409.1 93.7 405.7 94 402.4 94 399.2 94.1 396.1 95.5 393.1 95.8 390.1 95.8 387.2 97.9 384.2 97.9 381.3 99.8 378.4 99.8 375.5 99.8 372.5 99.8 369.6 102.5 366.6 105.2 363.6 108.2 360.5 108.2 357.4 109.3 354.2 116.6 351 120.2 347.6 120.5 344.2 125.2 340.6 125.2 336.9 125.2 333.1 125.6 329.1 125.6 324.9 125.6 320.5 126.6 315.8 131 310.9 140.5 305.5 144.7 299.8 151.7 293.5 154.2 286.6 157.6 278.8 160.4 269.9 160.4 259.6 174.6 247 197.7 231 203 208.7 245.4 171.1M71.5 453.3 86.2 442.8 88.3 435.6 89.1 429.8 92.2 424.9 98.3 420.4 101.5 416.4 103.3 412.6 104.4 409.1 105.6 405.7 105.6 402.4 106.9 399.2 106.9 396.1 106.9 393.1 106.9 390.1 109.3 387.2 112.6 384.2 113.9 381.3 116.1 378.4 116.1 375.5 116.1 372.5 116.1 369.6 116.1 366.6 116.1 363.6 121.6 360.5 122.1 357.4 122.1 354.2 126.7 351 134.3 347.6 134.6 344.2 135.6 340.6 135.6 336.9 135.6 333.1 140 329.1 140 324.9 154.6 320.5 154.6 315.8 155.1 310.9 155.1 305.5 161.6 299.8 162.9 293.5 168.5 286.6 171.1 278.8 176.6 269.9 179.4 259.6 193.8 247 201.9 231 222 208.7 232.2 171.1M69.8 453.3 81.9 442.8 81.9 435.6 81.9 429.8 83 424.9 89.7 420.4 90.7 416.4 91.5 412.6 94 409.1 98 405.7 99.5 402.4 102.8 399.2 102.8 396.1 102.8 393.1 103.8 390.1 103.8 387.2 103.8 384.2 106.3 381.3 111.4 378.4 111.4 375.5 111.4 372.5 111.4 369.6 111.4 366.6 113.8 363.6 114.2 360.5 114.5 357.4 126.6 354.2 135 351 135 347.6 135.3 344.2 136.8 340.6 141.3 336.9 143.9 333.1 147.5 329.1 147.5 324.9 148.2 320.5 148.2 315.8 153.7 310.9 156.9 305.5 158.3 299.8 159.4 293.5 162.4 286.6 165 278.8 170.1 269.9 170.1 259.6 173.3 247 176 231 192 208.7 229.3 171.1M81.2 453.3 81.2 442.8 81.2 435.6 87.8 429.8 92.7 424.9 95.2 420.4 96.7 416.4 97 412.6 98.4 409.1 98.4 405.7 99.9 402.4 99.9 399.2 99.9 396.1 99.9 393.1 99.9 390.1 99.9 387.2 100.4 384.2 101.9 381.3 109 378.4 109 375.5 109 372.5 111 369.6 111.8 366.6 112.1 363.6 112.1 360.5 112.1 357.4 112.1 354.2 116.8 351 116.8 347.6 118.1 344.2 118.1 340.6 118.1 336.9 121.9 333.1 121.9 329.1 123.1 324.9 123.2 320.5 124.5 315.8 125.6 310.9 127.7 305.5 132.8 299.8 135.4 293.5 139.9 286.6 142.8 278.8 154.5 269.9 154.9 259.6 169.1 247 174.7 231 192.8 208.7 209.2 171.1M84 453.3 92.5 442.8 93.7 435.6 96.7 429.8 99.4 424.9 102.4 420.4 104.1 416.4 105.2 412.6 105.8 409.1 107.6 405.7 107.6 402.4 111.7 399.2 112.8 396.1 115.3 393.1 116.2 390.1 118.4 387.2 119.6 384.2 121.6 381.3 124.9 378.4 126.5 375.5 129.4 372.5 129.8 369.6 131.3 366.6 132 363.6 134.9 360.5 135.3 357.4 136.7 354.2 141.5 351 144.8 347.6 145.5 344.2 145.5 340.6 147.3 336.9 147.3 333.1 147.3 329.1 147.3 324.9 149.5 320.5 150.1 315.8 150.1 310.9 150.1 305.5 150.7 299.8 153.7 293.5 159.7 286.6 159.7 278.8 159.8 269.9 159.8 259.6 165.4 247 170.3 231 203.9 208.7 212 171.1M88.3 453.3 92.4 442.8 96.2 435.6 97.7 429.8 99.6 424.9 100.7 420.4 103.3 416.4 103.8 412.6 108.8 409.1 109.8 405.7 111.2 402.4 114.7 399.2 115.8 396.1 119.2 393.1 119.5 390.1 121.6 387.2 123.5 384.2 124.5 381.3 126.6 378.4 128 375.5 129.2 372.5 129.6 369.6 131.1 366.6 132 363.6 136.3 360.5 137.2 357.4 139.4 354.2 144.7 351 145.7 347.6 146.8 344.2 147.1 340.6 149.1 336.9 149.1 333.1 149.1 329.1 152 324.9 155.7 320.5 157 315.8 158.9 310.9 158.9 305.5 159.4 299.8 163.6 293.5 170 286.6 178.6 278.8 186.1 269.9 187.7 259.6 194.1 247 206.3 231 217.6 208.7 246.9 171.1M67.2 453.3 74.3 442.8 77.9 435.6 83.9 429.8 91.3 424.9 92.1 420.4 93.8 416.4 94.8 412.6 95.4 409.1 98 405.7 98.4 402.4 98.4 399.2 99.3 396.1 103.1 393.1 109.9 390.1 110.7 387.2 111.2 384.2 115.7 381.3 117.2 378.4 122.9 375.5 124.8 372.5 124.8 369.6 124.8 366.6 133.8 363.6 134.4 360.5 135.1 357.4 136.1 354.2 142.1 351 146.3 347.6 148.6 344.2 150.1 340.6 153.5 336.9 153.5 333.1 155.4 329.1 155.5 324.9 158.7 320.5 161.1 315.8 164.5 310.9 165.4 305.5 166.5 299.8 168.5 293.5 170.9 286.6 175.8 278.8 181.5 269.9 183.7 259.6 193.2 247 211.6 231 221.7 208.7 249 171.1M67.4 453.3 68.7 442.8 73.6 435.6 78.3 429.8 80.3 424.9 82.7 420.4 87.2 416.4 88.1 412.6 88.1 409.1 89.1 405.7 90 402.4 90 399.2 90 396.1 93.9 393.1 95.3 390.1 95.3 387.2 97.5 384.2 97.5 381.3 99 378.4 99 375.5 100.6 372.5 101.9 369.6 102.7 366.6 103.1 363.6 104.3 360.5 104.3 357.4 105.6 354.2 111.1 351 122.9 347.6 131.2 344.2 139 340.6 146.7 336.9 146.7 333.1 146.7 329.1 156.3 324.9 160.1 320.5 161.5 315.8 164.2 310.9 167.7 305.5 169.6 299.8 172.5 293.5 175.4 286.6 178.5 278.8 184.4 269.9 184.4 259.6 199.8 247 208.4 231 227.6 208.7 264.5 171.1M81.9 453.3 83.8 442.8 85.2 435.6 85.2 429.8 87.8 424.9 89.3 420.4 90.5 416.4 91.1 412.6 91.1 409.1 91.1 405.7 91.1 402.4 91.1 399.2 96.3 396.1 97.1 393.1 102.5 390.1 105.8 387.2 117.5 384.2 118.2 381.3 121.7 378.4 121.7 375.5 125.8 372.5 125.8 369.6 128.7 366.6 130.7 363.6 132.4 360.5 132.4 357.4 132.4 354.2 135.7 351 136.7 347.6 137.7 344.2 139.5 340.6 149 336.9 149 333.1 153.2 329.1 153.2 324.9 155.6 320.5 158 315.8 159.8 310.9 162.5 305.5 163.3 299.8 165.8 293.5 167.2 286.6 169.4 278.8 189.1 269.9 189.1 259.6 198.2 247 208.2 231 226.2 208.7 232 171.1M76.1 453.3 79.1 442.8 85.2 435.6 86.9 429.8 88.4 424.9 88.7 420.4 101.6 416.4 104.5 412.6 107.1 409.1 107.8 405.7 109.9 402.4 112.5 399.2 112.5 396.1 113.5 393.1 113.5 390.1 113.5 387.2 113.5 384.2 113.5 381.3 115.9 378.4 115.9 375.5 115.9 372.5 123 369.6 123.2 366.6 126.8 363.6 128.6 360.5 131.8 357.4 137.5 354.2 142.4 351 143.3 347.6 143.6 344.2 144.3 340.6 145.2 336.9 148.2 333.1 149.8 329.1 149.8 324.9 155.2 320.5 159.1 315.8 159.8 310.9 160.3 305.5 161.1 299.8 163.8 293.5 171.7 286.6 174.5 278.8 177.5 269.9 179.6 259.6 203.7 247 210.2 231 226.3 208.7 249.2 171.1M63.5 453.3 69.3 442.8 72.9 435.6 86.3 429.8 87.7 424.9 97.6 420.4 101 416.4 103.4 412.6 103.6 409.1 109.3 405.7 112.7 402.4 115.8 399.2 116.6 396.1 119.5 393.1 119.8 390.1 122.3 387.2 124 384.2 125.4 381.3 127.9 378.4 129.3 375.5 131.1 372.5 132.2 369.6 134.2 366.6 136.1 363.6 138 360.5 138.9 357.4 141 354.2 146.5 351 148.4 347.6 150.5 344.2 151.6 340.6 155.4 336.9 155.4 333.1 157 329.1 158.9 324.9 163.1 320.5 165.7 315.8 168 310.9 171 305.5 178.7 299.8 182.3 293.5 186.7 286.6 193.6 278.8 199.2 269.9 202.6 259.6 212.8 247 225 231 257 208.7 257 171.1M77.2 453.3 82.3 442.8 86.3 435.6 86.6 429.8 91.2 424.9 94.5 420.4 96.6 416.4 101.3 412.6 104.7 409.1 107.3 405.7 107.3 402.4 111.9 399.2 113 396.1 116.7 393.1 117.8 390.1 119 387.2 119.8 384.2 122.4 381.3 124.7 378.4 125.2 375.5 126.8 372.5 127.1 369.6 128.8 366.6 129.1 363.6 130.5 360.5 130.5 357.4 133.7 354.2 137 351 137 347.6 143.1 344.2 145.2 340.6 148.6 336.9 148.6 333.1 148.6 329.1 153.8 324.9 155.9 320.5 156.7 315.8 161.4 310.9 162 305.5 162 299.8 162.8 293.5 167.8 286.6 172.4 278.8 177.3 269.9 177.3 259.6 189.5 247 198.2 231 212.4 208.7 218.8 171.1M61 453.3 70.5 442.8 78.2 435.6 79.7 429.8 81.5 424.9 83.6 420.4 85.2 416.4 86.2 412.6 87.6 409.1 89 405.7 90.9 402.4 91.1 399.2 92.6 396.1 93.8 393.1 94.9 390.1 94.9 387.2 96.1 384.2 97.8 381.3 104.2 378.4 104.2 375.5 104.2 372.5 121.8 369.6 125.2 366.6 126.7 363.6 129.6 360.5 130.4 357.4 133.6 354.2 136.5 351 143.3 347.6 145.6 344.2 149.4 340.6 152.1 336.9 152.1 333.1 152.1 329.1 153.3 324.9 157 320.5 159.3 315.8 159.4 310.9 159.4 305.5 161.9 299.8 164.7 293.5 169.2 286.6 170.3 278.8 175.3 269.9 183.2 259.6 194.8 247 207.6 231 230.9 208.7 250 171.1M78.5 453.3 80.2 442.8 80.2 435.6 82.3 429.8 87.8 424.9 95.5 420.4 99.5 416.4 100.4 412.6 105 409.1 109.6 405.7 110.8 402.4 114 399.2 114 396.1 118.9 393.1 119.5 390.1 121.6 387.2 123.7 384.2 125 381.3 127.1 378.4 129.1 375.5 130.9 372.5 132.1 369.6 134.1 366.6 135.8 363.6 137.7 360.5 138.2 357.4 140 354.2 145.4 351 147.5 347.6 149.5 344.2 150.5 340.6 154.8 336.9 154.8 333.1 156.5 329.1 157.8 324.9 161.4 320.5 163.2 315.8 166.3 310.9 170.6 305.5 175.6 299.8 178.6 293.5 180.6 286.6 185.4 278.8 188.3 269.9 188.3 259.6 193.7 247 200.5 231 216.7 208.7 237.7 171.1M73.3 453.3 73.5 442.8 75.8 435.6 79.3 429.8 85.7 424.9 86.5 420.4 90 416.4 90.4 412.6 95.3 409.1 102 405.7 102 402.4 102.5 399.2 106 396.1 108.3 393.1 108.5 390.1 108.7 387.2 108.7 384.2 111.1 381.3 111.7 378.4 111.7 375.5 111.7 372.5 111.7 369.6 111.7 366.6 117.5 363.6 117.7 360.5 118.9 357.4 119.7 354.2 125.4 351 125.4 347.6 128.5 344.2 128.5 340.6 134.4 336.9 134.4 333.1 134.4 329.1 134.4 324.9 138.7 320.5 139.8 315.8 139.8 310.9 147.5 305.5 150.7 299.8 153 293.5 159 286.6 163 278.8 165.9 269.9 172.6 259.6 180.5 247 189.1 231 209.7 208.7 232.1 171.1M78.9 453.3 82.2 442.8 86.1 435.6 86.2 429.8 89.1 424.9 92.2 420.4 92.2 416.4 94.9 412.6 96.6 409.1 99.8 405.7 100.1 402.4 100.9 399.2 108.2 396.1 111.1 393.1 111.1 390.1 111.1 387.2 111.1 384.2 111.1 381.3 115.4 378.4 117.1 375.5 117.1 372.5 117.1 369.6 121.5 366.6 124.1 363.6 124.1 360.5 124.1 357.4 124.4 354.2 130.4 351 135.1 347.6 142 344.2 144.4 340.6 148.2 336.9 148.2 333.1 148.2 329.1 153.2 324.9 161.1 320.5 162.9 315.8 165.4 310.9 167.3 305.5 170.2 299.8 174.2 293.5 183.8 286.6 190.1 278.8 193.9 269.9 195.9 259.6 204.5 247 215.2 231 246.6 208.7 246.6 171.1M63.8 453.3 70.7 442.8 76.4 435.6 78.1 429.8 85.4 424.9 85.7 420.4 87.6 416.4 88.4 412.6 88.9 409.1 90.2 405.7 93.3 402.4 93.3 399.2 93.3 396.1 93.3 393.1 94.5 390.1 94.5 387.2 99.5 384.2 107.1 381.3 108.7 378.4 108.7 375.5 108.7 372.5 108.7 369.6 117.2 366.6 119.1 363.6 119.1 360.5 119.1 357.4 119.1 354.2 121 351 121 347.6 121 344.2 121 340.6 121 336.9 121.8 333.1 126.9 329.1 140.6 324.9 144.9 320.5 146.8 315.8 155.6 310.9 155.6 305.5 156.3 299.8 159.7 293.5 161.2 286.6 166.1 278.8 174.4 269.9 175.4 259.6 181.1 247 182.4 231 192.5 208.7 225.9 171.1M60.5 453.3 66.2 442.8 68.9 435.6 71.5 429.8 74 424.9 77 420.4 79.7 416.4 82.1 412.6 84 409.1 84.9 405.7 86.7 402.4 86.7 399.2 86.7 396.1 88.3 393.1 90.3 390.1 90.3 387.2 91.8 384.2 91.8 381.3 94.3 378.4 94.3 375.5 94.8 372.5 95.9 369.6 98.5 366.6 99.9 363.6 101.4 360.5 101.4 357.4 103.8 354.2 109.8 351 111.2 347.6 112.8 344.2 126.8 340.6 136.3 336.9 136.3 333.1 138.3 329.1 138.3 324.9 142.4 320.5 146.5 315.8 151.2 310.9 154.9 305.5 155.2 299.8 159.8 293.5 162.6 286.6 171.1 278.8 178.9 269.9 178.9 259.6 182.3 247 189 231 202.8 208.7 236.8 171.1M71.2 453.3 72.9 442.8 81.1 435.6 85 429.8 86.4 424.9 87.4 420.4 87.5 416.4 89.4 412.6 94.9 409.1 96 405.7 97.3 402.4 97.3 399.2 97.3 396.1 100.9 393.1 101.3 390.1 101.3 387.2 101.3 384.2 101.3 381.3 102 378.4 102 375.5 102 372.5 102 369.6 102.5 366.6 105 363.6 105.3 360.5 116 357.4 116 354.2 124.9 351 124.9 347.6 124.9 344.2 124.9 340.6 125.6 336.9 129.5 333.1 131.1 329.1 133.6 324.9 133.6 320.5 133.6 315.8 134.4 310.9 134.4 305.5 141.6 299.8 143.9 293.5 150.2 286.6 151 278.8 154.4 269.9 154.4 259.6 163.3 247 168.6 231 187.9 208.7 230.4 171.1M60.7 453.3 65.8 442.8 69 435.6 71 429.8 73.9 424.9 76.2 420.4 78.8 416.4 81.3 412.6 82.9 409.1 84.8 405.7 86.1 402.4 86.1 399.2 86.1 396.1 87.9 393.1 89.6 390.1 89.6 387.2 91.7 384.2 91.9 381.3 94.6 378.4 94.6 375.5 95 372.5 95.4 369.6 97.7 366.6 99.4 363.6 100.8 360.5 100.8 357.4 103.2 354.2 109.3 351 111.4 347.6 113.7 344.2 115.8 340.6 116.2 336.9 119.6 333.1 121 329.1 121.6 324.9 126.8 320.5 128.5 315.8 129.3 310.9 133.2 305.5 139.2 299.8 145.4 293.5 154.9 286.6 156.3 278.8 159.5 269.9 160.4 259.6 170.4 247 176.6 231 190 208.7 248.4 171.1M76.7 453.3 77.7 442.8 80.7 435.6 80.7 429.8 83.4 424.9 84.6 420.4 88.8 416.4 95.6 412.6 96.3 409.1 100.2 405.7 100.2 402.4 100.2 399.2 100.2 396.1 101.8 393.1 102.6 390.1 102.6 387.2 103.5 384.2 103.5 381.3 104.4 378.4 105.8 375.5 106.6 372.5 106.6 369.6 112.3 366.6 121.5 363.6 121.7 360.5 122.3 357.4 122.3 354.2 132.5 351 133.1 347.6 134.1 344.2 143.7 340.6 148.7 336.9 152 333.1 152.7 329.1 152.7 324.9 153.3 320.5 161.6 315.8 163.9 310.9 170 305.5 173.5 299.8 176 293.5 177.5 286.6 180.9 278.8 185.3 269.9 185.3 259.6 194.4 247 199.7 231 209.4 208.7 223.8 171.1M82.8 453.3 88.4 442.8 90.8 435.6 92.5 429.8 96.7 424.9 98.6 420.4 100 416.4 101.8 412.6 102.5 409.1 105.4 405.7 106.3 402.4 109.1 399.2 110.3 396.1 113.1 393.1 113.1 390.1 114.2 387.2 114.2 384.2 114.2 381.3 117.8 378.4 117.8 375.5 117.8 372.5 119.4 369.6 119.4 366.6 119.4 363.6 119.4 360.5 119.4 357.4 119.4 354.2 119.9 351 119.9 347.6 120.4 344.2 122.5 340.6 123 336.9 123.9 333.1 124.7 329.1 127.8 324.9 129 320.5 130.1 315.8 133.8 310.9 137.1 305.5 143.3 299.8 149.9 293.5 156 286.6 157.1 278.8 171.4 269.9 171.4 259.6 184.3 247 188.3 231 223 208.7 229 171.1M61.4 453.3 70.2 442.8 78.5 435.6 87 429.8 88.7 424.9 95.3 420.4 97.5 416.4 102.1 412.6 104.9 409.1 106.9 405.7 107.5 402.4 110.3 399.2 110.3 396.1 110.9 393.1 110.9 390.1 114.7 387.2 116.2 384.2 117.4 381.3 119.9 378.4 121.7 375.5 122.3 372.5 125.6 369.6 128.5 366.6 129.7 363.6 129.7 360.5 134 357.4 135.1 354.2 139.1 351 141.5 347.6 143.1 344.2 146.6 340.6 148.6 336.9 148.6 333.1 155.3 329.1 156.1 324.9 159.6 320.5 164.3 315.8 165.8 310.9 166.9 305.5 168.1 299.8 170.2 293.5 172.1 286.6 174.4 278.8 176.5 269.9 176.5 259.6 182.9 247 190.8 231 200.8 208.7 219.8 171.1M73.8 453.3 85.8 442.8 91.6 435.6 93.3 429.8 94.5 424.9 98.3 420.4 100.6 416.4 101.9 412.6 102.3 409.1 104.2 405.7 107.7 402.4 109.4 399.2 109.8 396.1 111.5 393.1 111.8 390.1 112.8 387.2 116.8 384.2 117.6 381.3 118.4 378.4 118.4 375.5 118.4 372.5 120.8 369.6 123.5 366.6 124.6 363.6 135 360.5 135.2 357.4 137.6 354.2 142.5 351 143.7 347.6 143.7 344.2 146.8 340.6 148.4 336.9 148.4 333.1 148.4 329.1 148.4 324.9 151.3 320.5 152.9 315.8 154.4 310.9 154.4 305.5 157.6 299.8 163.9 293.5 175.1 286.6 182.1 278.8 193.7 269.9 193.7 259.6 203.5 247 211.8 231 227.1 208.7 236.9 171.1M88 453.3 93.6 442.8 95.7 435.6 96.9 429.8 99.7 424.9 102 420.4 103.3 416.4 103.6 412.6 103.7 409.1 103.7 405.7 104.2 402.4 106.9 399.2 106.9 396.1 109.9 393.1 109.9 390.1 111 387.2 111.3 384.2 111.3 381.3 112.4 378.4 112.4 375.5 117.1 372.5 119.2 369.6 121.1 366.6 121.9 363.6 121.9 360.5 121.9 357.4 121.9 354.2 121.9 351 122.5 347.6 125.1 344.2 125.1 340.6 125.1 336.9 125.5 333.1 126.4 329.1 141.3 324.9 143.2 320.5 148.4 315.8 152.8 310.9 152.8 305.5 155.6 299.8 156.8 293.5 162.5 286.6 170.1 278.8 173.3 269.9 174.5 259.6 181.6 247 193.6 231 205.8 208.7 215.2 171.1M76.6 453.3 79.9 442.8 81.1 435.6 82.9 429.8 85.1 424.9 87.8 420.4 91.8 416.4 93.4 412.6 93.6 409.1 94.2 405.7 97.8 402.4 97.8 399.2 97.8 396.1 99 393.1 99.7 390.1 99.7 387.2 103.6 384.2 103.6 381.3 103.6 378.4 103.6 375.5 105.4 372.5 105.4 369.6 108.6 366.6 117.1 363.6 117.1 360.5 117.1 357.4 117.1 354.2 122 351 122 347.6 124.5 344.2 124.5 340.6 124.7 336.9 126.6 333.1 127.3 329.1 128.7 324.9 132.5 320.5 135.9 315.8 135.9 310.9 136 305.5 147.3 299.8 158.2 293.5 159.5 286.6 163.4 278.8 163.8 269.9 164.9 259.6 172.3 247 180.8 231 190.1 208.7 203.2 171.1M73.7 453.3 73.9 442.8 74.5 435.6 76.5 429.8 77.9 424.9 79.6 420.4 82.7 416.4 84.5 412.6 85.6 409.1 86.9 405.7 88.2 402.4 88.2 399.2 88.2 396.1 88.2 393.1 89.7 390.1 89.7 387.2 91.5 384.2 91.6 381.3 94.2 378.4 94.2 375.5 94.6 372.5 95.1 369.6 97.3 366.6 99 363.6 100.5 360.5 100.5 357.4 102.6 354.2 108.5 351 109.2 347.6 111 344.2 112.4 340.6 113 336.9 115.8 333.1 117 329.1 118.4 324.9 119 320.5 121.2 315.8 123.1 310.9 123.7 305.5 127.8 299.8 128.5 293.5 133.1 286.6 135.2 278.8 136.9 269.9 138.9 259.6 150.3 247 153.1 231 165.8 208.7 183 171.1M87.9 453.3 91.4 442.8 92.9 435.6 96.3 429.8 98.8 424.9 100.2 420.4 102.7 416.4 107.5 412.6 108.1 409.1 108.7 405.7 110 402.4 112.6 399.2 112.6 396.1 114.3 393.1 115.9 390.1 116.4 387.2 118.1 384.2 120.2 381.3 121.4 378.4 122 375.5 122.9 372.5 122.9 369.6 124.7 366.6 124.7 363.6 124.7 360.5 127.3 357.4 127.3 354.2 131 351 131.2 347.6 131.2 344.2 131.2 340.6 131.2 336.9 131.2 333.1 131.2 329.1 131.2 324.9 131.2 320.5 139.1 315.8 142.2 310.9 143.7 305.5 149.9 299.8 151.1 293.5 153.4 286.6 154.9 278.8 155.7 269.9 160.1 259.6 173.7 247 196.8 231 207.8 208.7 219.2 171.1M74.6 453.3 89.2 442.8 92.6 435.6 93.3 429.8 98.1 424.9 101.8 420.4 104.6 416.4 106.5 412.6 106.5 409.1 106.5 405.7 106.8 402.4 109 399.2 109 396.1 109.8 393.1 110.6 390.1 117.1 387.2 118.4 384.2 121.3 381.3 122.8 378.4 122.8 375.5 124.5 372.5 124.5 369.6 128.2 366.6 129.4 363.6 130.6 360.5 130.6 357.4 132.2 354.2 138 351 139.5 347.6 139.5 344.2 139.8 340.6 140.1 336.9 140.1 333.1 146.4 329.1 146.4 324.9 150 320.5 152 315.8 152 310.9 152 305.5 158.1 299.8 165.2 293.5 169.5 286.6 171.2 278.8 171.9 269.9 177.6 259.6 187.7 247 198.5 231 214.5 208.7 232.7 171.1M87.5 453.3 93 442.8 96.3 435.6 98 429.8 100.3 424.9 102.1 420.4 104.1 416.4 106.2 412.6 106.7 409.1 108.4 405.7 109.3 402.4 112.3 399.2 112.3 396.1 118.6 393.1 118.9 390.1 121.3 387.2 122.7 384.2 124.2 381.3 126.4 378.4 127.8 375.5 128.4 372.5 129.2 369.6 130.3 366.6 134.1 363.6 136 360.5 136.4 357.4 138.2 354.2 143.2 351 144 347.6 144.3 344.2 144.3 340.6 145.7 336.9 145.7 333.1 145.7 329.1 145.7 324.9 145.7 320.5 145.7 315.8 145.7 310.9 148.1 305.5 152.3 299.8 155.6 293.5 158.2 286.6 163 278.8 164 269.9 164.5 259.6 170.7 247 172.6 231 184.2 208.7 204 171.1M71.3 453.3 83.3 442.8 85 435.6 89.5 429.8 90 424.9 94.1 420.4 96.1 416.4 99.9 412.6 105.4 409.1 107.8 405.7 108 402.4 115 399.2 115.6 396.1 118.3 393.1 118.7 390.1 120.7 387.2 123.1 384.2 124 381.3 126 378.4 126.6 375.5 128.3 372.5 128.8 369.6 131 366.6 134.6 363.6 135.8 360.5 137.8 357.4 139.4 354.2 145 351 146.5 347.6 148.4 344.2 148.4 340.6 150.8 336.9 150.8 333.1 150.8 329.1 150.8 324.9 150.8 320.5 156.1 315.8 158.8 310.9 165.9 305.5 169.3 299.8 174.4 293.5 178.6 286.6 183.3 278.8 185.5 269.9 185.5 259.6 197 247 210.3 231 235 208.7 248.1 171.1M84.6 453.3 88.9 442.8 88.9 435.6 92.1 429.8 95.5 424.9 96.8 420.4 97.7 416.4 99.2 412.6 101.3 409.1 104.1 405.7 104.9 402.4 108.5 399.2 112.7 396.1 114.7 393.1 114.9 390.1 115.3 387.2 115.6 384.2 119.2 381.3 120.4 378.4 120.4 375.5 120.4 372.5 121.3 369.6 121.5 366.6 121.6 363.6 127.9 360.5 127.9 357.4 127.9 354.2 129.5 351 130.5 347.6 130.5 344.2 130.5 340.6 132.3 336.9 141.9 333.1 141.9 329.1 143 324.9 147.4 320.5 147.4 315.8 147.4 310.9 147.4 305.5 148.9 299.8 148.9 293.5 156.6 286.6 163.9 278.8 165.7 269.9 172.4 259.6 182.1 247 188.6 231 193.9 208.7 204.9 171.1M67.7 453.3 69.7 442.8 70.8 435.6 73.7 429.8 75.7 424.9 78 420.4 79.9 416.4 82.8 412.6 86.5 409.1 89.1 405.7 90.1 402.4 91.3 399.2 92.8 396.1 102.5 393.1 102.5 390.1 102.5 387.2 102.5 384.2 102.5 381.3 103.8 378.4 103.8 375.5 103.8 372.5 103.8 369.6 103.8 366.6 104.5 363.6 105.1 360.5 105.1 357.4 106.6 354.2 111.7 351 112.7 347.6 117.3 344.2 119.3 340.6 122 336.9 122.4 333.1 124.5 329.1 124.5 324.9 124.5 320.5 127.1 315.8 128.2 310.9 134.7 305.5 140.6 299.8 141.8 293.5 155.5 286.6 159.3 278.8 168.5 269.9 169.7 259.6 177 247 186.1 231 205.1 208.7 215.4 171.1M57.8 453.3 64.7 442.8 68.5 435.6 71.8 429.8 74.1 424.9 76.5 420.4 78.7 416.4 80.3 412.6 81.9 409.1 83.6 405.7 85.4 402.4 85.4 399.2 85.4 396.1 87.3 393.1 89 390.1 89 387.2 91.1 384.2 91.3 381.3 93.9 378.4 93.9 375.5 94.2 372.5 95 369.6 97.6 366.6 99.1 363.6 100.9 360.5 100.9 357.4 103.3 354.2 108.9 351 109.4 347.6 112 344.2 114.3 340.6 114.4 336.9 116.9 333.1 117.9 329.1 119.1 324.9 121.5 320.5 123.4 315.8 128.7 310.9 128.7 305.5 137.1 299.8 139.5 293.5 153 286.6 154.5 278.8 154.5 269.9 155.5 259.6 168.9 247 180.5 231 202.3 208.7 225.1 171.1M77.6 453.3 79.4 442.8 79.4 435.6 80.6 429.8 85.9 424.9 86.6 420.4 86.8 416.4 88 412.6 89.2 409.1 89.9 405.7 90.8 402.4 90.8 399.2 90.8 396.1 90.9 393.1 91.3 390.1 91.6 387.2 94.1 384.2 94.1 381.3 95.8 378.4 95.8 375.5 97.6 372.5 100.1 369.6 102.1 366.6 102.9 363.6 108.6 360.5 111.3 357.4 114.3 354.2 125.7 351 125.7 347.6 125.7 344.2 125.7 340.6 126.2 336.9 132.3 333.1 132.3 329.1 135.3 324.9 135.3 320.5 135.6 315.8 144.8 310.9 160.1 305.5 164.3 299.8 169.6 293.5 171.3 286.6 176.4 278.8 186.7 269.9 186.7 259.6 195.2 247 203 231 220.6 208.7 231.4 171.1M75.2 453.3 80.4 442.8 85 435.6 85.8 429.8 87.9 424.9 88.9 420.4 88.9 416.4 93.8 412.6 94 409.1 98.1 405.7 98.7 402.4 100.1 399.2 100.1 396.1 100.5 393.1 100.5 390.1 105.7 387.2 110.1 384.2 110.1 381.3 110.1 378.4 110.1 375.5 110.1 372.5 117 369.6 120.8 366.6 123.9 363.6 130.2 360.5 130.2 357.4 130.2 354.2 132.7 351 132.7 347.6 132.7 344.2 135.8 340.6 137.3 336.9 138.1 333.1 148.6 329.1 149 324.9 151.1 320.5 155.1 315.8 157.1 310.9 157.1 305.5 157.4 299.8 159.7 293.5 160.9 286.6 165.5 278.8 167.3 269.9 177.2 259.6 183 247 190.5 231 200.2 208.7 217.5 171.1M82.1 453.3 82.8 442.8 83.6 435.6 88.4 429.8 92.4 424.9 93.1 420.4 93.7 416.4 99.6 412.6 101.7 409.1 101.9 405.7 103.6 402.4 104.6 399.2 107 396.1 111.3 393.1 112.1 390.1 112.1 387.2 113.7 384.2 113.7 381.3 118.5 378.4 123.1 375.5 123.5 372.5 123.5 369.6 127.8 366.6 128.3 363.6 128.3 360.5 128.3 357.4 132.4 354.2 134.9 351 134.9 347.6 135.6 344.2 135.6 340.6 139.2 336.9 139.9 333.1 142 329.1 143.8 324.9 145.6 320.5 148.2 315.8 148.8 310.9 148.8 305.5 152.9 299.8 155.2 293.5 158.8 286.6 160.7 278.8 160.9 269.9 160.9 259.6 175.2 247 180.6 231 201.3 208.7 339 171.1M75.8 453.3 76.4 442.8 77 435.6 89 429.8 90.3 424.9 90.5 420.4 96.3 416.4 99.4 412.6 99.7 409.1 100.8 405.7 101.9 402.4 102.4 399.2 102.4 396.1 102.4 393.1 102.4 390.1 102.4 387.2 102.4 384.2 109.3 381.3 109.3 378.4 115.7 375.5 117.9 372.5 117.9 369.6 118.5 366.6 120.7 363.6 122.3 360.5 122.3 357.4 122.7 354.2 128.6 351 128.6 347.6 128.6 344.2 128.6 340.6 136 336.9 136 333.1 136 329.1 136 324.9 136 320.5 137.2 315.8 137.2 310.9 137.2 305.5 144.3 299.8 150.7 293.5 157.6 286.6 160.2 278.8 163.3 269.9 170.3 259.6 180.6 247 185.3 231 196.8 208.7 228.3 171.1M83.5 453.3 84.7 442.8 85.7 435.6 88.7 429.8 90.2 424.9 91.3 420.4 92.6 416.4 92.8 412.6 92.8 409.1 94.2 405.7 96.7 402.4 96.7 399.2 96.7 396.1 96.7 393.1 96.7 390.1 96.7 387.2 96.7 384.2 96.7 381.3 99.3 378.4 100.1 375.5 102.8 372.5 106.5 369.6 109.1 366.6 109.7 363.6 116.5 360.5 122.5 357.4 122.5 354.2 126.3 351 132.3 347.6 133.3 344.2 133.3 340.6 133.7 336.9 133.7 333.1 135.3 329.1 135.3 324.9 137 320.5 144.6 315.8 150.4 310.9 150.4 305.5 151.4 299.8 153.2 293.5 160.5 286.6 163.1 278.8 163.6 269.9 176 259.6 190.4 247 197.9 231 214.9 208.7 224.8 171.1M67.3 453.3 72.7 442.8 74.6 435.6 75.2 429.8 77.4 424.9 79.3 420.4 81.2 416.4 83.7 412.6 84.7 409.1 85.8 405.7 87.1 402.4 87.1 399.2 87.1 396.1 88.1 393.1 95.2 390.1 97.1 387.2 98.6 384.2 98.9 381.3 100.8 378.4 100.8 375.5 100.8 372.5 109.2 369.6 111.5 366.6 114.9 363.6 121.2 360.5 122.4 357.4 128.7 354.2 131.9 351 136.4 347.6 136.4 344.2 137.2 340.6 137.2 336.9 139.4 333.1 144.2 329.1 144.2 324.9 147.7 320.5 151.2 315.8 151.2 310.9 153.5 305.5 155.9 299.8 161.4 293.5 163.6 286.6 167.1 278.8 169.4 269.9 169.4 259.6 175.6 247 180.7 231 195 208.7 232.8 171.1M85.3 453.3 89.9 442.8 93.7 435.6 96 429.8 97.8 424.9 100.2 420.4 104.4 416.4 106.1 412.6 106.2 409.1 107.9 405.7 109 402.4 112.6 399.2 112.6 396.1 115.8 393.1 116.1 390.1 119.4 387.2 121 384.2 121.1 381.3 122.9 378.4 122.9 375.5 126.3 372.5 126.3 369.6 126.3 366.6 127.4 363.6 127.4 360.5 127.6 357.4 129.4 354.2 134.3 351 136.3 347.6 141 344.2 141 340.6 141 336.9 141 333.1 141 329.1 141 324.9 141.4 320.5 143 315.8 143 310.9 149.6 305.5 163.1 299.8 165 293.5 166.2 286.6 167.4 278.8 168.2 269.9 169.1 259.6 186.3 247 216.6 231 229 208.7 246.2 171.1M74.7 453.3 78.1 442.8 78.1 435.6 78.1 429.8 79.2 424.9 83.4 420.4 89.6 416.4 91 412.6 97.6 409.1 97.6 405.7 97.6 402.4 97.6 399.2 97.6 396.1 102.4 393.1 103 390.1 103 387.2 106.8 384.2 107.6 381.3 110 378.4 113.1 375.5 114.9 372.5 120.4 369.6 122 366.6 122.3 363.6 129.9 360.5 133.3 357.4 135.5 354.2 140.1 351 141.8 347.6 142 344.2 143.5 340.6 144.8 336.9 149.7 333.1 152.2 329.1 153.4 324.9 155.3 320.5 157.1 315.8 159.7 310.9 159.7 305.5 160.3 299.8 161.5 293.5 163.6 286.6 173 278.8 174.1 269.9 174.1 259.6 182.6 247 183.9 231 193.5 208.7 217.1 171.1M84.5 453.3 85 442.8 89 435.6 89.1 429.8 90.4 424.9 92.9 420.4 96.2 416.4 96.7 412.6 97.7 409.1 99.7 405.7 100.9 402.4 102.7 399.2 102.7 396.1 103.8 393.1 103.8 390.1 103.8 387.2 104 384.2 112.7 381.3 116.8 378.4 116.8 375.5 116.8 372.5 117.3 369.6 117.3 366.6 117.3 363.6 117.3 360.5 117.8 357.4 123.9 354.2 129.3 351 133 347.6 133 344.2 133 340.6 133 336.9 133.2 333.1 137.6 329.1 137.9 324.9 137.9 320.5 137.9 315.8 137.9 310.9 137.9 305.5 142.8 299.8 143.5 293.5 148 286.6 148.4 278.8 148.6 269.9 152.5 259.6 160.1 247 172.1 231 180.6 208.7 204.4 171.1M67.8 453.3 71.2 442.8 73 435.6 75.8 429.8 78.4 424.9 79.8 420.4 87 416.4 87.2 412.6 89 409.1 91.2 405.7 91.6 402.4 92.1 399.2 96 396.1 105.7 393.1 109 390.1 115.2 387.2 115.3 384.2 115.3 381.3 116.2 378.4 116.2 375.5 116.2 372.5 118.5 369.6 118.9 366.6 121.4 363.6 122.7 360.5 126.3 357.4 127.2 354.2 133.9 351 133.9 347.6 133.9 344.2 133.9 340.6 133.9 336.9 133.9 333.1 134 329.1 134.9 324.9 135.4 320.5 144.7 315.8 148.4 310.9 148.4 305.5 150.2 299.8 153.6 293.5 157 286.6 159.5 278.8 164.1 269.9 170 259.6 176.2 247 181.2 231 187.6 208.7 215.1 171.1M73.5 453.3 74.4 442.8 83.9 435.6 85.5 429.8 92.4 424.9 93 420.4 94.1 416.4 103.1 412.6 104 409.1 104 405.7 104 402.4 106 399.2 106 396.1 106 393.1 106 390.1 106.9 387.2 111.9 384.2 111.9 381.3 112.6 378.4 118.6 375.5 123.5 372.5 124.6 369.6 126.7 366.6 127.7 363.6 131 360.5 131 357.4 131.7 354.2 135.3 351 135.3 347.6 136.2 344.2 136.2 340.6 140.5 336.9 142.9 333.1 144.6 329.1 144.6 324.9 147.5 320.5 147.5 315.8 147.5 310.9 147.5 305.5 148.3 299.8 150.1 293.5 152.1 286.6 153.2 278.8 156.2 269.9 156.2 259.6 168.8 247 171.3 231 180.8 208.7 199.4 171.1M63.2 453.3 70.6 442.8 80 435.6 81.2 429.8 85.2 424.9 86.4 420.4 86.7 416.4 95 412.6 100.5 409.1 104.3 405.7 110.8 402.4 114.9 399.2 115.5 396.1 118.1 393.1 118.1 390.1 119.3 387.2 121.3 384.2 121.9 381.3 124.1 378.4 124.7 375.5 130.2 372.5 131.2 369.6 132.8 366.6 134.9 363.6 137.1 360.5 137.9 357.4 140.4 354.2 145.8 351 147.6 347.6 149.6 344.2 150.8 340.6 155.5 336.9 155.5 333.1 157.3 329.1 159.1 324.9 163.5 320.5 166.2 315.8 168.3 310.9 171.4 305.5 180.3 299.8 184.4 293.5 189.4 286.6 197.4 278.8 203.7 269.9 227.2 259.6 227.2 247 272.4 231 328.3 208.7 390.4 171.1M80.8 453.3 85.3 442.8 85.8 435.6 87.2 429.8 88.5 424.9 90.9 420.4 92.3 416.4 93.4 412.6 93.5 409.1 93.5 405.7 93.7 402.4 93.7 399.2 93.7 396.1 94.9 393.1 94.9 390.1 94.9 387.2 96.7 384.2 96.9 381.3 100.3 378.4 100.3 375.5 100.3 372.5 101.2 369.6 103.5 366.6 104.6 363.6 106.9 360.5 108.5 357.4 111.9 354.2 116.7 351 120.6 347.6 123.3 344.2 126.5 340.6 128.5 336.9 131.8 333.1 133.7 329.1 133.7 324.9 134.9 320.5 137.1 315.8 147.4 310.9 147.4 305.5 150.5 299.8 154.3 293.5 160.3 286.6 162.5 278.8 163.2 269.9 163.2 259.6 168.7 247 186.4 231 201.1 208.7 221.9 171.1M79.4 453.3 84.7 442.8 84.7 435.6 84.7 429.8 85.5 424.9 87.3 420.4 90.2 416.4 92.4 412.6 92.5 409.1 97.3 405.7 98.6 402.4 98.6 399.2 105.8 396.1 109.1 393.1 113.6 390.1 113.6 387.2 114.6 384.2 114.8 381.3 115.2 378.4 115.3 375.5 119.1 372.5 120.2 369.6 120.2 366.6 120.2 363.6 120.2 360.5 120.2 357.4 124.5 354.2 127.3 351 134.2 347.6 134.6 344.2 137.8 340.6 137.8 336.9 140.6 333.1 140.6 329.1 140.6 324.9 140.6 320.5 143.9 315.8 149.4 310.9 149.9 305.5 160.8 299.8 169.8 293.5 176.9 286.6 181.4 278.8 184.6 269.9 184.6 259.6 204.7 247 213.2 231 244 208.7 281 171.1M70 453.3 76 442.8 77.1 435.6 77.6 429.8 82 424.9 93.9 420.4 95.2 416.4 100.5 412.6 102.2 409.1 104 405.7 104 402.4 112.7 399.2 113.1 396.1 115.5 393.1 115.5 390.1 115.5 387.2 115.5 384.2 115.5 381.3 120.5 378.4 120.6 375.5 120.6 372.5 122.1 369.6 122.7 366.6 123.5 363.6 123.8 360.5 124.5 357.4 124.5 354.2 127.4 351 131.4 347.6 131.4 344.2 133.5 340.6 134.6 336.9 138.7 333.1 142.2 329.1 142.2 324.9 142.2 320.5 145.2 315.8 146.9 310.9 151 305.5 157 299.8 161.9 293.5 166 286.6 170.2 278.8 174 269.9 174 259.6 177.7 247 179.1 231 187.4 208.7 235.2 171.1M69.7 453.3 82.4 442.8 82.4 435.6 82.5 429.8 86.7 424.9 88.4 420.4 88.6 416.4 91.8 412.6 92.8 409.1 92.8 405.7 93.1 402.4 93.1 399.2 93.1 396.1 93.1 393.1 94.1 390.1 95.4 387.2 102.4 384.2 103 381.3 104.7 378.4 105.2 375.5 106.3 372.5 106.3 369.6 107.9 366.6 107.9 363.6 110.4 360.5 110.7 357.4 111.3 354.2 115.7 351 115.7 347.6 125 344.2 126.6 340.6 133.7 336.9 136 333.1 136.3 329.1 138.3 324.9 138.3 320.5 138.3 315.8 138.3 310.9 141.4 305.5 147.5 299.8 154.4 293.5 164.6 286.6 168.2 278.8 171 269.9 171 259.6 178.7 247 182.8 231 194 208.7 238.7 171.1M63.4 453.3 68.8 442.8 72.1 435.6 73.2 429.8 83.9 424.9 84.8 420.4 85.7 416.4 88.6 412.6 95.9 409.1 97.7 405.7 98 402.4 98 399.2 98 396.1 99.4 393.1 101.8 390.1 101.8 387.2 102.7 384.2 106.9 381.3 107.5 378.4 107.5 375.5 108.4 372.5 108.4 369.6 109.4 366.6 109.4 363.6 115.4 360.5 122.7 357.4 122.7 354.2 124.2 351 126.9 347.6 128 344.2 136.3 340.6 142.4 336.9 142.4 333.1 142.4 329.1 142.4 324.9 145 320.5 145 315.8 147.6 310.9 149.5 305.5 153.5 299.8 163.8 293.5 166.6 286.6 175 278.8 175 269.9 189.9 259.6 198.7 247 205.4 231 231.7 208.7 241.3 171.1M68 453.3 73.4 442.8 75.5 435.6 76.6 429.8 87.9 424.9 89 420.4 94.7 416.4 96 412.6 96.8 409.1 97.6 405.7 103.8 402.4 111.1 399.2 111.1 396.1 113.7 393.1 113.7 390.1 116.8 387.2 118.8 384.2 120.1 381.3 122.3 378.4 122.3 375.5 122.3 372.5 125.3 369.6 126.7 366.6 126.7 363.6 127.8 360.5 130.1 357.4 133.7 354.2 139.3 351 139.6 347.6 139.6 344.2 143.2 340.6 145 336.9 147.7 333.1 152.8 329.1 152.8 324.9 154.8 320.5 156.7 315.8 164.4 310.9 165.2 305.5 165.4 299.8 168 293.5 177.4 286.6 184.6 278.8 189 269.9 189.8 259.6 196.8 247 204.8 231 228.3 208.7 240.6 171.1M64.7 453.3 71.6 442.8 80.8 435.6 81.5 429.8 82.2 424.9 83.5 420.4 84.5 416.4 85.7 412.6 90.7 409.1 93.3 405.7 94.6 402.4 94.6 399.2 94.6 396.1 94.6 393.1 94.6 390.1 94.6 387.2 94.8 384.2 94.8 381.3 99.5 378.4 99.5 375.5 101.1 372.5 102.5 369.6 104.5 366.6 109.5 363.6 110.2 360.5 112.4 357.4 119.7 354.2 122.9 351 124.3 347.6 124.3 344.2 125.6 340.6 126.8 336.9 127.6 333.1 130.6 329.1 131.2 324.9 132.8 320.5 138.1 315.8 139.6 310.9 139.6 305.5 151.3 299.8 159.1 293.5 168.9 286.6 184.2 278.8 192.1 269.9 194.5 259.6 202.5 247 219.6 231 242.8 208.7 272 171.1M88.8 453.3 91.2 442.8 93 435.6 97 429.8 98.5 424.9 103.8 420.4 106 416.4 107.7 412.6 110.1 409.1 111.1 405.7 111.7 402.4 114.5 399.2 114.5 396.1 116.8 393.1 118.4 390.1 120.2 387.2 121.9 384.2 122.7 381.3 124.2 378.4 124.3 375.5 125.8 372.5 125.8 369.6 128 366.6 129 363.6 129.1 360.5 129.1 357.4 129.1 354.2 136.2 351 136.2 347.6 145.3 344.2 146.3 340.6 150.4 336.9 150.4 333.1 150.4 329.1 150.4 324.9 150.8 320.5 150.9 315.8 151.1 310.9 151.6 305.5 154.3 299.8 155.7 293.5 159.2 286.6 161.4 278.8 162.5 269.9 162.5 259.6 179.8 247 187 231 209 208.7 224.2 171.1M83.8 453.3 86 442.8 89.5 435.6 91.4 429.8 92.3 424.9 95.3 420.4 97.1 416.4 98.6 412.6 100.3 409.1 103.3 405.7 104.1 402.4 105.6 399.2 107.9 396.1 109.7 393.1 113.8 390.1 113.9 387.2 115.4 384.2 115.4 381.3 116.3 378.4 116.3 375.5 116.3 372.5 119.7 369.6 121.2 366.6 127.6 363.6 130.1 360.5 130.1 357.4 130.1 354.2 133.1 351 133.1 347.6 137.3 344.2 138.2 340.6 142.5 336.9 147.1 333.1 147.8 329.1 147.8 324.9 148.3 320.5 154.8 315.8 156.2 310.9 156.2 305.5 156.2 299.8 157.7 293.5 160.6 286.6 166.2 278.8 169.2 269.9 169.9 259.6 178.5 247 182.9 231 189.5 208.7 201.8 171.1M69.6 453.3 71.8 442.8 75.4 435.6 88.4 429.8 89.7 424.9 90.2 420.4 91.3 416.4 91.5 412.6 92.3 409.1 96.1 405.7 96.1 402.4 96.1 399.2 97.3 396.1 97.6 393.1 97.6 390.1 97.6 387.2 101.4 384.2 101.4 381.3 101.8 378.4 101.8 375.5 101.8 372.5 102 369.6 108 366.6 108.5 363.6 112.3 360.5 117.2 357.4 118.3 354.2 123.1 351 123.1 347.6 123.2 344.2 123.2 340.6 123.2 336.9 124 333.1 124 329.1 124 324.9 124 320.5 124.8 315.8 126.2 310.9 126.2 305.5 144.5 299.8 152.8 293.5 155.7 286.6 160 278.8 161.2 269.9 161.2 259.6 166.9 247 169.4 231 182.9 208.7 211.7 171.1M67.7 453.3 69.6 442.8 75.3 435.6 75.7 429.8 79.3 424.9 80 420.4 82.3 416.4 83.8 412.6 86 409.1 87.1 405.7 87.7 402.4 87.7 399.2 89.5 396.1 91.7 393.1 92.3 390.1 92.3 387.2 94.2 384.2 94.2 381.3 96 378.4 96 375.5 96 372.5 97.2 369.6 99.6 366.6 101.2 363.6 102.7 360.5 102.7 357.4 104.6 354.2 116.2 351 116.2 347.6 118 344.2 118 340.6 120.2 336.9 122.2 333.1 125.1 329.1 125.1 324.9 125.1 320.5 126.2 315.8 127.1 310.9 127.5 305.5 134.4 299.8 134.9 293.5 141.2 286.6 142.2 278.8 144.9 269.9 144.9 259.6 158.4 247 167.8 231 177.2 208.7 210.7 171.1M82.7 453.3 87.8 442.8 89.9 435.6 91.9 429.8 93.3 424.9 96.7 420.4 99.8 416.4 100.3 412.6 102.3 409.1 102.3 405.7 102.3 402.4 105.7 399.2 105.7 396.1 106.3 393.1 112.1 390.1 114.1 387.2 118 384.2 118.5 381.3 120.6 378.4 120.6 375.5 120.6 372.5 120.6 369.6 126.3 366.6 126.3 363.6 126.3 360.5 126.3 357.4 126.3 354.2 129.2 351 132.4 347.6 134.9 344.2 135 340.6 138.8 336.9 140 333.1 142.4 329.1 144.2 324.9 145.5 320.5 149 315.8 149 310.9 149 305.5 149.4 299.8 149.8 293.5 151.6 286.6 154.2 278.8 155.1 269.9 155.1 259.6 166.8 247 170.1 231 181.1 208.7 200.1 171.1M84 453.3 84.4 442.8 84.6 435.6 88.5 429.8 89.8 424.9 91.6 420.4 91.7 416.4 92.3 412.6 95.3 409.1 95.7 405.7 95.7 402.4 97.9 399.2 98.6 396.1 100.2 393.1 101.4 390.1 101.7 387.2 105.8 384.2 107.8 381.3 108.7 378.4 109.1 375.5 113.7 372.5 113.7 369.6 119.7 366.6 121 363.6 121 360.5 121 357.4 122.4 354.2 128.5 351 128.5 347.6 128.5 344.2 128.5 340.6 128.5 336.9 128.5 333.1 128.5 329.1 134.6 324.9 141.6 320.5 144.3 315.8 146.3 310.9 146.3 305.5 150 299.8 150.7 293.5 153.8 286.6 157.5 278.8 167.1 269.9 167.8 259.6 179.5 247 208.8 231 223.7 208.7 233.9 171.1M77.8 453.3 81.7 442.8 85.9 435.6 86.7 429.8 87.7 424.9 89.1 420.4 95.1 416.4 97.3 412.6 98.1 409.1 101.8 405.7 106.1 402.4 110.7 399.2 110.7 396.1 111.5 393.1 112.7 390.1 113.7 387.2 113.7 384.2 113.7 381.3 116.7 378.4 121.4 375.5 122.9 372.5 124 369.6 126.1 366.6 127 363.6 128.4 360.5 131 357.4 131.6 354.2 139.4 351 140 347.6 140 344.2 140 340.6 150.9 336.9 150.9 333.1 154.5 329.1 154.5 324.9 156.2 320.5 156.8 315.8 159 310.9 161.8 305.5 163.5 299.8 166.3 293.5 167 286.6 167.7 278.8 173.9 269.9 174.3 259.6 179.9 247 188.5 231 203.4 208.7 220.4 171.1M69 453.3 73.3 442.8 75.7 435.6 76.4 429.8 81.6 424.9 83.3 420.4 83.7 416.4 84.9 412.6 86.3 409.1 87.5 405.7 89.3 402.4 89.3 399.2 89.3 396.1 90.2 393.1 96.3 390.1 96.3 387.2 96.3 384.2 98 381.3 100.6 378.4 100.6 375.5 102.3 372.5 102.4 369.6 104.1 366.6 106.3 363.6 126.1 360.5 130.8 357.4 131.4 354.2 135.9 351 137.5 347.6 138.8 344.2 140.8 340.6 144.8 336.9 147.9 333.1 149.7 329.1 152.8 324.9 156 320.5 162.1 315.8 163.9 310.9 166 305.5 168.8 299.8 170.3 293.5 172.5 286.6 177.1 278.8 181.2 269.9 184.4 259.6 197.2 247 207.1 231 214 208.7 226.7 171.1M70.5 453.3 74.7 442.8 75.9 435.6 78 429.8 80.1 424.9 83.8 420.4 85.4 416.4 86.2 412.6 86.9 409.1 88 405.7 90.4 402.4 90.4 399.2 90.4 396.1 90.4 393.1 91.5 390.1 91.5 387.2 93.3 384.2 94.1 381.3 99.6 378.4 99.6 375.5 99.6 372.5 99.6 369.6 100.6 366.6 102.8 363.6 103.9 360.5 106.1 357.4 109.9 354.2 114.4 351 114.8 347.6 116.3 344.2 118.7 340.6 118.7 336.9 121.7 333.1 121.7 329.1 122 324.9 123.3 320.5 127 315.8 131.3 310.9 134.1 305.5 144.4 299.8 144.6 293.5 146.3 286.6 146.7 278.8 156.3 269.9 156.3 259.6 175.6 247 181.4 231 186.8 208.7 235.8 171.1M72.3 453.3 74.2 442.8 82.3 435.6 83.7 429.8 85.9 424.9 88.2 420.4 88.2 416.4 89.2 412.6 90 409.1 91.7 405.7 93.3 402.4 93.3 399.2 93.3 396.1 98.9 393.1 107 390.1 111.4 387.2 111.9 384.2 114.4 381.3 115.2 378.4 116.3 375.5 117.4 372.5 117.4 369.6 117.4 366.6 117.4 363.6 117.4 360.5 117.4 357.4 118.3 354.2 133.8 351 135.3 347.6 139.3 344.2 139.3 340.6 139.3 336.9 139.3 333.1 145.1 329.1 145.5 324.9 148.1 320.5 148.7 315.8 148.7 310.9 149.2 305.5 156.2 299.8 157 293.5 163 286.6 168.7 278.8 176.7 269.9 176.7 259.6 181.3 247 204.2 231 213.1 208.7 242 171.1M64.5 453.3 77.1 442.8 87.2 435.6 88.5 429.8 89.3 424.9 92.6 420.4 94.3 416.4 96.4 412.6 110.2 409.1 111 405.7 112.3 402.4 115.5 399.2 115.7 396.1 118.1 393.1 118.7 390.1 121.7 387.2 123 384.2 124.4 381.3 127.7 378.4 128.6 375.5 130.3 372.5 131.5 369.6 133.8 366.6 135.9 363.6 138 360.5 138.7 357.4 140.7 354.2 146.1 351 147.8 347.6 149.7 344.2 151 340.6 154.9 336.9 154.9 333.1 156.3 329.1 157.4 324.9 161.6 320.5 164 315.8 166.9 310.9 169.1 305.5 172.2 299.8 174.8 293.5 176.1 286.6 188.3 278.8 196.4 269.9 196.8 259.6 209.7 247 217.6 231 229.9 208.7 246.6 171.1M72 453.3 72.6 442.8 75.2 435.6 75.5 429.8 78.5 424.9 80.5 420.4 81.4 416.4 82.9 412.6 84.3 409.1 86 405.7 87 402.4 87 399.2 87 396.1 88.4 393.1 90.1 390.1 90.1 387.2 91.9 384.2 92 381.3 94.5 378.4 94.5 375.5 94.5 372.5 95 369.6 97.3 366.6 99 363.6 101.1 360.5 101.1 357.4 102.7 354.2 108.6 351 109.6 347.6 111.2 344.2 112.5 340.6 113.1 336.9 115.8 333.1 117.2 329.1 118.3 324.9 119.1 320.5 121.1 315.8 123 310.9 123.5 305.5 125.3 299.8 127.5 293.5 132.1 286.6 133.3 278.8 134.9 269.9 136.2 259.6 148.4 247 156 231 166.5 208.7 185.2 171.1M88.1 453.3 93.7 442.8 95.4 435.6 96.6 429.8 99.3 424.9 100.9 420.4 102.8 416.4 105.6 412.6 105.7 409.1 106 405.7 106.6 402.4 108.4 399.2 110.6 396.1 114.4 393.1 115.1 390.1 115.5 387.2 116 384.2 117.6 381.3 119.9 378.4 119.9 375.5 119.9 372.5 119.9 369.6 119.9 366.6 119.9 363.6 119.9 360.5 119.9 357.4 119.9 354.2 119.9 351 119.9 347.6 119.9 344.2 119.9 340.6 119.9 336.9 120 333.1 120.5 329.1 121.5 324.9 122.5 320.5 124.3 315.8 125.4 310.9 125.4 305.5 131.1 299.8 132.7 293.5 137 286.6 138.5 278.8 140.2 269.9 143.2 259.6 157.4 247 163.8 231 183.4 208.7 203.4 171.1M89.6 453.3 92.9 442.8 94 435.6 95 429.8 96.3 424.9 97.5 420.4 98.1 416.4 98.9 412.6 101.6 409.1 101.6 405.7 102.4 402.4 103.4 399.2 103.4 396.1 106.1 393.1 106.1 390.1 107.2 387.2 107.2 384.2 107.2 381.3 108.9 378.4 111.7 375.5 113.4 372.5 113.4 369.6 113.4 366.6 113.4 363.6 113.4 360.5 113.4 357.4 113.4 354.2 119.3 351 122.1 347.6 123.6 344.2 124.8 340.6 124.8 336.9 128.4 333.1 128.9 329.1 128.9 324.9 128.9 320.5 128.9 315.8 129.1 310.9 130.1 305.5 142.4 299.8 147.8 293.5 149.2 286.6 154 278.8 157.7 269.9 162.5 259.6 171.3 247 192.3 231 216.5 208.7 259.5 171.1M79.6 453.3 81.1 442.8 83.1 435.6 94.2 429.8 95.8 424.9 97 420.4 101.1 416.4 105.2 412.6 105.3 409.1 106.1 405.7 106.1 402.4 109.9 399.2 110.7 396.1 113.9 393.1 113.9 390.1 113.9 387.2 114.3 384.2 115.9 381.3 117.6 378.4 117.6 375.5 117.6 372.5 117.6 369.6 117.6 366.6 117.6 363.6 118.5 360.5 118.5 357.4 118.5 354.2 119.8 351 119.8 347.6 122.1 344.2 122.2 340.6 122.2 336.9 123.7 333.1 124.2 329.1 127.4 324.9 129.6 320.5 130.3 315.8 134.6 310.9 136.3 305.5 142.4 299.8 143.3 293.5 146.4 286.6 152.6 278.8 159.5 269.9 159.5 259.6 189.7 247 196.9 231 206.2 208.7 241.9 171.1M63.2 453.3 70.6 442.8 71.8 435.6 74.1 429.8 85.6 424.9 86.5 420.4 91.6 416.4 92.2 412.6 94.7 409.1 95.2 405.7 96.2 402.4 96.5 399.2 96.5 396.1 99.8 393.1 99.8 390.1 100.9 387.2 104.7 384.2 105 381.3 110.2 378.4 111.7 375.5 113.4 372.5 115.4 369.6 116.6 366.6 119.3 363.6 125.8 360.5 125.8 357.4 127.9 354.2 133.9 351 134.1 347.6 135 344.2 135 340.6 135 336.9 135.8 333.1 135.8 329.1 138.2 324.9 142.5 320.5 144.5 315.8 149.5 310.9 150.8 305.5 153.3 299.8 154.7 293.5 158 286.6 159 278.8 159.1 269.9 164.2 259.6 172.6 247 174.9 231 215.2 208.7 226.8 171.1M61.2 453.3 66.1 442.8 73.7 435.6 77.1 429.8 78.3 424.9 82 420.4 89.3 416.4 89.6 412.6 89.6 409.1 90.5 405.7 92 402.4 92 399.2 92 396.1 92 393.1 92.3 390.1 92.3 387.2 92.8 384.2 95.4 381.3 100.3 378.4 100.3 375.5 101.8 372.5 101.8 369.6 103.4 366.6 108.2 363.6 128.1 360.5 129.4 357.4 130.3 354.2 140.9 351 141.1 347.6 141.6 344.2 147.4 340.6 149.4 336.9 149.4 333.1 150.4 329.1 150.4 324.9 151.2 320.5 161.8 315.8 161.8 310.9 162.1 305.5 165.7 299.8 167.1 293.5 168.6 286.6 170.7 278.8 183.5 269.9 188.2 259.6 202.4 247 215 231 233.6 208.7 281 171.1M83.1 453.3 90.6 442.8 94.1 435.6 98.6 429.8 100.5 424.9 102.7 420.4 105.6 416.4 107.1 412.6 109.9 409.1 110.7 405.7 111.1 402.4 115.1 399.2 115.5 396.1 117.6 393.1 117.6 390.1 118.1 387.2 119.9 384.2 120.1 381.3 121.9 378.4 122.4 375.5 122.6 372.5 122.6 369.6 124.5 366.6 126.8 363.6 127.1 360.5 127.1 357.4 130.4 354.2 133.6 351 140.4 347.6 142.8 344.2 144 340.6 147.7 336.9 147.7 333.1 147.7 329.1 149.5 324.9 150.6 320.5 151.8 315.8 156.7 310.9 158 305.5 160 299.8 161.8 293.5 165.1 286.6 167.1 278.8 169.5 269.9 169.5 259.6 174.5 247 179 231 185 208.7 197.9 171.1M58.8 453.3 63.8 442.8 69.1 435.6 74.2 429.8 78.1 424.9 89.4 420.4 93.5 416.4 94 412.6 95.7 409.1 96.6 405.7 106.2 402.4 108.9 399.2 108.9 396.1 112.3 393.1 118.2 390.1 122.1 387.2 123.4 384.2 124.9 381.3 127 378.4 128.3 375.5 129.6 372.5 130.6 369.6 132.6 366.6 134.3 363.6 136.2 360.5 137.5 357.4 140.2 354.2 145.7 351 148.2 347.6 150.1 344.2 151.4 340.6 155.8 336.9 155.8 333.1 157.1 329.1 158.4 324.9 162.4 320.5 165.6 315.8 167.7 310.9 170.4 305.5 176.7 299.8 181 293.5 184.2 286.6 190.8 278.8 194.1 269.9 198.4 259.6 208.7 247 224.4 231 243.4 208.7 259.5 171.1M66.1 453.3 69.9 442.8 71.7 435.6 73.9 429.8 75.3 424.9 80.8 420.4 83.2 416.4 84.8 412.6 89.4 409.1 91.9 405.7 92 402.4 92 399.2 92 396.1 92.3 393.1 92.5 390.1 92.5 387.2 98.8 384.2 99.4 381.3 103 378.4 103 375.5 103 372.5 121.4 369.6 124.4 366.6 133.1 363.6 133.7 360.5 133.7 357.4 137 354.2 141.8 351 144 347.6 144 344.2 149 340.6 154 336.9 154 333.1 155 329.1 155.7 324.9 158.1 320.5 158.6 315.8 160.2 310.9 160.8 305.5 162.3 299.8 169.7 293.5 172.7 286.6 179.1 278.8 182.3 269.9 182.6 259.6 195.3 247 219.4 231 254 208.7 254 171.1M72.8 453.3 77.4 442.8 79.4 435.6 81.1 429.8 82.4 424.9 84.5 420.4 85.5 416.4 87.4 412.6 90.9 409.1 91 405.7 91.9 402.4 100.9 399.2 100.9 396.1 102 393.1 107.6 390.1 108.2 387.2 108.2 384.2 108.2 381.3 109.4 378.4 110.3 375.5 113.3 372.5 113.3 369.6 113.3 366.6 119.4 363.6 119.4 360.5 121.5 357.4 121.5 354.2 126.5 351 126.5 347.6 126.5 344.2 126.5 340.6 135.3 336.9 144 333.1 144.8 329.1 146 324.9 146.4 320.5 146.4 315.8 151.7 310.9 151.7 305.5 159.6 299.8 161.2 293.5 164.4 286.6 166.8 278.8 172.9 269.9 172.9 259.6 182.8 247 200.1 231 228 208.7 245.5 171.1M73.2 453.3 75.4 442.8 82.7 435.6 82.8 429.8 84.9 424.9 85.3 420.4 86.1 416.4 89.1 412.6 89.5 409.1 89.8 405.7 90 402.4 90 399.2 90 396.1 90.7 393.1 93.3 390.1 93.3 387.2 100.5 384.2 100.7 381.3 102.8 378.4 103.2 375.5 103.5 372.5 103.5 369.6 106.7 366.6 106.9 363.6 113.8 360.5 113.8 357.4 116.1 354.2 125.3 351 125.3 347.6 125.3 344.2 125.3 340.6 125.3 336.9 125.9 333.1 135.1 329.1 140.3 324.9 142.8 320.5 143.4 315.8 148.1 310.9 148.1 305.5 154.7 299.8 158.1 293.5 166.1 286.6 175.5 278.8 176.3 269.9 184.9 259.6 191.5 247 194.4 231 215.4 208.7 232.6 171.1M64.9 453.3 68.1 442.8 81.2 435.6 82.6 429.8 83.5 424.9 84.3 420.4 84.8 416.4 90 412.6 91.4 409.1 92.5 405.7 98.6 402.4 107.8 399.2 107.8 396.1 113.5 393.1 119 390.1 121.8 387.2 123.6 384.2 125.1 381.3 127.5 378.4 128.4 375.5 130 372.5 130.8 369.6 133.5 366.6 135.5 363.6 137.6 360.5 138.8 357.4 140.7 354.2 146.4 351 148.4 347.6 150.6 344.2 151.9 340.6 155.9 336.9 155.9 333.1 157.5 329.1 158.8 324.9 163 320.5 166 315.8 168 310.9 171.2 305.5 177.8 299.8 185.4 293.5 188.4 286.6 194.9 278.8 202.5 269.9 202.5 259.6 210.4 247 234 231 254 208.7 254 171.1M76 453.3 82 442.8 82 435.6 88.1 429.8 91.5 424.9 92.5 420.4 93.3 416.4 93.3 412.6 93.3 409.1 93.3 405.7 94.9 402.4 94.9 399.2 97.4 396.1 97.7 393.1 97.7 390.1 99 387.2 100.3 384.2 100.3 381.3 101.7 378.4 101.7 375.5 101.7 372.5 101.7 369.6 103.1 366.6 104.4 363.6 106.4 360.5 106.4 357.4 111.8 354.2 122.1 351 123.2 347.6 123.2 344.2 126.3 340.6 126.3 336.9 126.3 333.1 129.3 329.1 129.3 324.9 129.3 320.5 131.5 315.8 132.5 310.9 132.5 305.5 142.9 299.8 144.9 293.5 157.9 286.6 159.4 278.8 161 269.9 167.1 259.6 185.6 247 190.1 231 198.6 208.7 224.3 171.1M66.5 453.3 70.8 442.8 86.6 435.6 89.7 429.8 90.8 424.9 91.9 420.4 99.4 416.4 100.6 412.6 100.9 409.1 103.8 405.7 105.2 402.4 107.5 399.2 108.4 396.1 110.2 393.1 110.2 390.1 111.7 387.2 113.8 384.2 113.8 381.3 115 378.4 115 375.5 115 372.5 115 369.6 115 366.6 115 363.6 115 360.5 115 357.4 123.7 354.2 128.9 351 129 347.6 131.1 344.2 141 340.6 142.3 336.9 142.6 333.1 143.3 329.1 144.3 324.9 144.3 320.5 147 315.8 148.7 310.9 148.7 305.5 152.1 299.8 152.1 293.5 156 286.6 165.1 278.8 167.9 269.9 171.4 259.6 180.8 247 192 231 224.8 208.7 264.5 171.1M66.2 453.3 71 442.8 82.4 435.6 86.3 429.8 89 424.9 91.3 420.4 92.6 416.4 93.3 412.6 93.3 409.1 95.6 405.7 97.8 402.4 98.2 399.2 100.7 396.1 105.5 393.1 105.5 390.1 105.8 387.2 107.7 384.2 107.7 381.3 107.7 378.4 107.7 375.5 107.7 372.5 107.7 369.6 107.7 366.6 107.7 363.6 107.7 360.5 111.6 357.4 118.4 354.2 128.8 351 138 347.6 142.6 344.2 147.8 340.6 151.1 336.9 152.7 333.1 154 329.1 154.1 324.9 156.4 320.5 158.5 315.8 158.7 310.9 159 305.5 163.9 299.8 166.5 293.5 169.7 286.6 173.8 278.8 183.3 269.9 183.3 259.6 188.6 247 199.3 231 221.5 208.7 241 171.1M80.5 453.3 81.5 442.8 87.8 435.6 88.6 429.8 90.1 424.9 91.1 420.4 91.1 416.4 96.9 412.6 98.9 409.1 99 405.7 103.7 402.4 106 399.2 106 396.1 107.8 393.1 107.8 390.1 108.5 387.2 109.3 384.2 112 381.3 112.5 378.4 112.5 375.5 112.5 372.5 112.5 369.6 112.5 366.6 114.2 363.6 114.2 360.5 114.2 357.4 118.9 354.2 121.8 351 121.8 347.6 122.7 344.2 123.1 340.6 123.5 336.9 123.5 333.1 127.7 329.1 127.7 324.9 127.7 320.5 127.7 315.8 133.2 310.9 133.2 305.5 139 299.8 141.1 293.5 143.6 286.6 143.6 278.8 143.9 269.9 144.5 259.6 160.3 247 166.6 231 178.6 208.7 200.5 171.1M65.9 453.3 77.2 442.8 79.9 435.6 79.9 429.8 80.9 424.9 86.9 420.4 88.7 416.4 89.8 412.6 90.1 409.1 90.4 405.7 106.5 402.4 112.8 399.2 113.5 396.1 115 393.1 116.4 390.1 117.2 387.2 117.8 384.2 117.9 381.3 120.9 378.4 120.9 375.5 121.7 372.5 121.7 369.6 121.7 366.6 121.7 363.6 121.7 360.5 121.7 357.4 121.7 354.2 124.8 351 125.9 347.6 126 344.2 128.1 340.6 133.4 336.9 133.4 333.1 133.6 329.1 133.6 324.9 133.6 320.5 134.3 315.8 134.3 310.9 136.2 305.5 140.8 299.8 141.9 293.5 145.3 286.6 164 278.8 167 269.9 167 259.6 176.6 247 179.3 231 200 208.7 208.8 171.1M82 453.3 82.4 442.8 90.3 435.6 93.5 429.8 94.7 424.9 95.7 420.4 97.8 416.4 98.5 412.6 99.5 409.1 100.1 405.7 100.2 402.4 100.2 399.2 100.2 396.1 102 393.1 102 390.1 108.3 387.2 110.5 384.2 110.8 381.3 112.7 378.4 121.7 375.5 121.8 372.5 121.8 369.6 124.4 366.6 124.4 363.6 124.4 360.5 124.4 357.4 124.7 354.2 128.3 351 128.9 347.6 128.9 344.2 128.9 340.6 128.9 336.9 129.3 333.1 131.2 329.1 135.8 324.9 136.5 320.5 137.7 315.8 138.6 310.9 149.7 305.5 151.9 299.8 157.6 293.5 159.7 286.6 160.6 278.8 160.6 269.9 160.6 259.6 164.9 247 183.6 231 209.6 208.7 222.4 171.1M79 453.3 79.5 442.8 83.7 435.6 83.7 429.8 83.8 424.9 86.2 420.4 86.6 416.4 87.8 412.6 89 409.1 90.8 405.7 91.1 402.4 91.1 399.2 91.1 396.1 97.9 393.1 104.2 390.1 104.2 387.2 105.3 384.2 110.4 381.3 112.1 378.4 114.5 375.5 114.5 372.5 117 369.6 119 366.6 121.3 363.6 126.9 360.5 126.9 357.4 127 354.2 129.8 351 129.8 347.6 129.8 344.2 133 340.6 137.4 336.9 137.4 333.1 137.7 329.1 137.7 324.9 139.3 320.5 139.3 315.8 141.5 310.9 141.9 305.5 146.5 299.8 165.2 293.5 171.9 286.6 175.6 278.8 186.3 269.9 186.3 259.6 192.3 247 195.3 231 201.6 208.7 238.3 171.1M89.3 453.3 92.7 442.8 95.5 435.6 98.7 429.8 100.4 424.9 103.5 420.4 105.8 416.4 107.3 412.6 108.1 409.1 109.2 405.7 110.6 402.4 113.7 399.2 113.7 396.1 117 393.1 117.9 390.1 120 387.2 123.1 384.2 124.4 381.3 126.5 378.4 127 375.5 128.4 372.5 130 369.6 131.4 366.6 132.9 363.6 134.5 360.5 134.5 357.4 137.7 354.2 141.7 351 142.4 347.6 147.9 344.2 148.8 340.6 152.6 336.9 152.6 333.1 153.4 329.1 155.1 324.9 158.6 320.5 163.7 315.8 165.2 310.9 167.2 305.5 169.1 299.8 172.4 293.5 175 286.6 179.4 278.8 180.6 269.9 183 259.6 189.2 247 199.2 231 228.5 208.7 244.4 171.1M74.8 453.3 92 442.8 93.4 435.6 94.8 429.8 95.9 424.9 96.5 420.4 97.6 416.4 98.1 412.6 98.8 409.1 98.8 405.7 100.9 402.4 103 399.2 113.2 396.1 114.9 393.1 114.9 390.1 118.4 387.2 119.2 384.2 120.5 381.3 122.2 378.4 122.9 375.5 125.4 372.5 125.4 369.6 125.4 366.6 125.4 363.6 125.4 360.5 131.6 357.4 134.4 354.2 139 351 139 347.6 139.7 344.2 139.7 340.6 142.4 336.9 142.4 333.1 142.4 329.1 142.4 324.9 142.4 320.5 142.4 315.8 142.4 310.9 143.1 305.5 147.2 299.8 147.6 293.5 151.4 286.6 151.4 278.8 152.6 269.9 152.6 259.6 166 247 167.9 231 189 208.7 210.6 171.1M69 453.3 76.3 442.8 78.9 435.6 80.4 429.8 84.7 424.9 88.6 420.4 91 416.4 91.4 412.6 98.3 409.1 98.9 405.7 101.7 402.4 102.6 399.2 102.6 396.1 106.5 393.1 106.5 390.1 106.7 387.2 109.4 384.2 109.4 381.3 109.4 378.4 113.2 375.5 122.7 372.5 122.7 369.6 127 366.6 127.3 363.6 130 360.5 130 357.4 130.2 354.2 137.7 351 138.6 347.6 140 344.2 141.6 340.6 143.2 336.9 143.2 333.1 148.9 329.1 151.2 324.9 155.8 320.5 158.6 315.8 159.5 310.9 162.3 305.5 173.7 299.8 177.2 293.5 179.6 286.6 183.8 278.8 190.9 269.9 198.1 259.6 237 247 239 231 265 208.7 268.5 171.1M77.7 453.3 89 442.8 89.8 435.6 89.8 429.8 90.5 424.9 96.6 420.4 97.3 416.4 97.6 412.6 98 409.1 98 405.7 99.2 402.4 102.3 399.2 108.1 396.1 109.4 393.1 109.4 390.1 109.4 387.2 109.4 384.2 110 381.3 113.6 378.4 113.6 375.5 114.3 372.5 114.3 369.6 114.6 366.6 114.6 363.6 118.4 360.5 121.8 357.4 121.8 354.2 125 351 125 347.6 125 344.2 125 340.6 125 336.9 127.1 333.1 128.8 329.1 134.2 324.9 134.2 320.5 134.8 315.8 137.3 310.9 140 305.5 151.1 299.8 151.9 293.5 154.8 286.6 157.3 278.8 165.1 269.9 165.1 259.6 172 247 178.8 231 195.9 208.7 209.5 171.1M59.3 453.3 68.3 442.8 70.5 435.6 72 429.8 75.1 424.9 77.4 420.4 79.1 416.4 82.7 412.6 83.8 409.1 88.8 405.7 89.4 402.4 89.4 399.2 89.4 396.1 89.4 393.1 90.4 390.1 90.4 387.2 92.5 384.2 93.3 381.3 95.9 378.4 96.1 375.5 96.2 372.5 99.8 369.6 103.9 366.6 111.8 363.6 112.6 360.5 116.1 357.4 132.7 354.2 134.9 351 143.6 347.6 146.2 344.2 147 340.6 148.9 336.9 149.4 333.1 156.2 329.1 157 324.9 161.2 320.5 164.7 315.8 166.7 310.9 169.3 305.5 172.4 299.8 179 293.5 184.7 286.6 191.3 278.8 194.9 269.9 200.9 259.6 210 247 221.8 231 236.5 208.7 259.5 171.1M80 453.3 83.1 442.8 83.2 435.6 84.5 429.8 88.1 424.9 89.4 420.4 89.6 416.4 92.6 412.6 92.9 409.1 94 405.7 95 402.4 95 399.2 95 396.1 96.3 393.1 97.4 390.1 97.4 387.2 97.9 384.2 101.1 381.3 102.3 378.4 102.3 375.5 102.7 372.5 102.7 369.6 103.6 366.6 104.3 363.6 105.6 360.5 106.5 357.4 109.9 354.2 119 351 119 347.6 119 344.2 120.3 340.6 120.3 336.9 125.2 333.1 127.3 329.1 127.3 324.9 127.6 320.5 128.8 315.8 133.6 310.9 133.6 305.5 138.8 299.8 140.9 293.5 142.9 286.6 144.4 278.8 150.3 269.9 150.3 259.6 157.2 247 167.1 231 174 208.7 195.7 171.1M60.9 453.3 64.8 442.8 70.5 435.6 72.2 429.8 74.9 424.9 77.4 420.4 83.8 416.4 85.2 412.6 85.6 409.1 86.5 405.7 87.6 402.4 88.4 399.2 89.7 396.1 92.5 393.1 92.9 390.1 92.9 387.2 94.7 384.2 96 381.3 98.4 378.4 101.9 375.5 109.9 372.5 121.2 369.6 123 366.6 125.4 363.6 125.7 360.5 126.8 357.4 126.8 354.2 132 351 132 347.6 133.1 344.2 137.1 340.6 145.4 336.9 145.4 333.1 145.4 329.1 148 324.9 150.3 320.5 151.4 315.8 152.2 310.9 152.2 305.5 153.1 299.8 153.4 293.5 155.3 286.6 159.9 278.8 167.5 269.9 167.5 259.6 176.1 247 177.9 231 184.8 208.7 205.6 171.1M89 453.3 93.2 442.8 94.4 435.6 95.5 429.8 98.4 424.9 101.5 420.4 103.8 416.4 104.2 412.6 105.9 409.1 106.8 405.7 108.9 402.4 110.9 399.2 111.1 396.1 113.2 393.1 113.2 390.1 115.9 387.2 116.5 384.2 116.5 381.3 119.3 378.4 120.6 375.5 123.2 372.5 123.2 369.6 128.9 366.6 131.2 363.6 132.3 360.5 132.3 357.4 132.5 354.2 135.4 351 135.4 347.6 135.4 344.2 138 340.6 138.4 336.9 140.3 333.1 142.8 329.1 142.8 324.9 142.8 320.5 150.5 315.8 151.9 310.9 151.9 305.5 152.8 299.8 155 293.5 157.1 286.6 162.3 278.8 170.4 269.9 177.5 259.6 191 247 196.6 231 208.3 208.7 218.2 171.1M72.9 453.3 75.2 442.8 81.6 435.6 81.6 429.8 82.4 424.9 83.4 420.4 94.8 416.4 94.8 412.6 96.4 409.1 97 405.7 99.4 402.4 99.8 399.2 103.1 396.1 104.4 393.1 111.6 390.1 112.7 387.2 113.1 384.2 114.9 381.3 116.5 378.4 119.2 375.5 119.2 372.5 121.5 369.6 121.5 366.6 123.9 363.6 125.6 360.5 125.6 357.4 125.6 354.2 131.4 351 132.5 347.6 133.5 344.2 133.5 340.6 133.5 336.9 135.4 333.1 136.7 329.1 144.1 324.9 144.1 320.5 144.1 315.8 144.1 310.9 146.9 305.5 150.4 299.8 153.8 293.5 156.5 286.6 164.1 278.8 164.6 269.9 165.5 259.6 192.1 247 207.5 231 217.5 208.7 225.4 171.1M64.5 453.3 72.7 442.8 74.9 435.6 77.4 429.8 78.8 424.9 80.4 420.4 82.1 416.4 85.5 412.6 87.2 409.1 88 405.7 91.5 402.4 91.5 399.2 91.5 396.1 91.9 393.1 93.8 390.1 95.5 387.2 98.4 384.2 100 381.3 102.9 378.4 102.9 375.5 102.9 372.5 102.9 369.6 104.7 366.6 105.9 363.6 106.3 360.5 106.3 357.4 106.7 354.2 112.4 351 112.5 347.6 116.1 344.2 116.3 340.6 118.3 336.9 120.3 333.1 120.6 329.1 122.1 324.9 125.7 320.5 127.9 315.8 131.4 310.9 133 305.5 143.6 299.8 149 293.5 154.6 286.6 165.7 278.8 173.8 269.9 173.8 259.6 183.6 247 184.6 231 196.2 208.7 247.3 171.1M83.8 453.3 88.5 442.8 88.9 435.6 89.5 429.8 92.5 424.9 95.2 420.4 96.9 416.4 98.2 412.6 99 409.1 103.9 405.7 104.5 402.4 108.8 399.2 109 396.1 112.2 393.1 112.2 390.1 112.2 387.2 112.2 384.2 112.2 381.3 113.3 378.4 113.3 375.5 113.3 372.5 113.3 369.6 113.3 366.6 113.3 363.6 113.3 360.5 113.3 357.4 113.3 354.2 118.4 351 118.4 347.6 118.4 344.2 118.4 340.6 119.8 336.9 122.3 333.1 122.3 329.1 123 324.9 123.8 320.5 125 315.8 126.6 310.9 129.9 305.5 136.3 299.8 137.9 293.5 141.9 286.6 146.3 278.8 149.5 269.9 154.8 259.6 163.1 247 170.7 231 179 208.7 235.5 171.1M73.4 453.3 80.7 442.8 88.8 435.6 90 429.8 91 424.9 92.8 420.4 95.4 416.4 97.4 412.6 99.3 409.1 99.3 405.7 99.3 402.4 99.3 399.2 99.9 396.1 101 393.1 102.3 390.1 102.3 387.2 102.5 384.2 102.5 381.3 105.2 378.4 105.2 375.5 105.5 372.5 105.5 369.6 105.5 366.6 107.7 363.6 109.6 360.5 109.6 357.4 110.8 354.2 116.5 351 124.9 347.6 127 344.2 131.6 340.6 131.6 336.9 141 333.1 141 329.1 141 324.9 144.6 320.5 144.9 315.8 144.9 310.9 144.9 305.5 153.6 299.8 154.8 293.5 157.2 286.6 174.3 278.8 176.2 269.9 176.2 259.6 185.3 247 192.2 231 210.3 208.7 217.6 171.1M80.3 453.3 80.9 442.8 80.9 435.6 81.6 429.8 87.2 424.9 91.2 420.4 91.2 416.4 93 412.6 93 409.1 97.9 405.7 98.2 402.4 98.2 399.2 98.2 396.1 103.5 393.1 103.5 390.1 103.5 387.2 108.3 384.2 110.7 381.3 114.2 378.4 114.2 375.5 116.9 372.5 116.9 369.6 117.7 366.6 117.7 363.6 117.7 360.5 117.7 357.4 117.7 354.2 117.8 351 117.8 347.6 117.8 344.2 117.8 340.6 117.8 336.9 119.4 333.1 119.6 329.1 120.4 324.9 120.5 320.5 122.8 315.8 124.7 310.9 129.5 305.5 140.2 299.8 141.6 293.5 147.2 286.6 149.1 278.8 149.9 269.9 149.9 259.6 161 247 168.1 231 196.9 208.7 217.3 171.1M68.6 453.3 82.8 442.8 89.7 435.6 89.7 429.8 92.3 424.9 93.8 420.4 95.5 416.4 97.1 412.6 98 409.1 98 405.7 98 402.4 98.1 399.2 98.1 396.1 101.6 393.1 101.6 390.1 101.9 387.2 107 384.2 107 381.3 107 378.4 107 375.5 109.4 372.5 109.7 369.6 110.6 366.6 110.8 363.6 110.8 360.5 113.8 357.4 114.3 354.2 117.7 351 123.6 347.6 126.3 344.2 126.3 340.6 126.3 336.9 138 333.1 140.1 329.1 140.1 324.9 140.1 320.5 140.1 315.8 140.4 310.9 148.2 305.5 150.9 299.8 154.6 293.5 159.4 286.6 160.9 278.8 163.9 269.9 167.4 259.6 177.1 247 191.2 231 219 208.7 233.4 171.1M75.1 453.3 79.3 442.8 79.6 435.6 81.5 429.8 82.6 424.9 84.5 420.4 86.4 416.4 86.7 412.6 87.3 409.1 87.7 405.7 88.6 402.4 88.6 399.2 88.6 396.1 88.6 393.1 90.7 390.1 90.7 387.2 92.1 384.2 92.1 381.3 94.7 378.4 94.7 375.5 94.7 372.5 95.5 369.6 98.7 366.6 100.2 363.6 101.7 360.5 101.7 357.4 103.6 354.2 109.2 351 109.9 347.6 111.3 344.2 113.1 340.6 113.7 336.9 116.2 333.1 117.3 329.1 118.5 324.9 119.2 320.5 121.3 315.8 123.2 310.9 123.8 305.5 126.2 299.8 129.2 293.5 135.5 286.6 140.6 278.8 145.8 269.9 151.5 259.6 160.6 247 163.1 231 192.2 208.7 216.1 171.1M85.6 453.3 87.8 442.8 90.6 435.6 93.7 429.8 95 424.9 97.2 420.4 99.2 416.4 99.7 412.6 100.3 409.1 101.4 405.7 102.9 402.4 105.2 399.2 105.3 396.1 106.2 393.1 106.2 390.1 106.2 387.2 107.3 384.2 107.3 381.3 107.3 378.4 111.4 375.5 111.4 372.5 111.4 369.6 111.4 366.6 111.4 363.6 112 360.5 112 357.4 115.4 354.2 120 351 120 347.6 120 344.2 120.6 340.6 121.1 336.9 126.8 333.1 127.2 329.1 127.2 324.9 127.2 320.5 128.7 315.8 129.8 310.9 130.7 305.5 137.6 299.8 138.1 293.5 140.4 286.6 141 278.8 141.7 269.9 142.4 259.6 156.4 247 175.2 231 190.9 208.7 204.2 171.1M83.2 453.3 83.4 442.8 86.8 435.6 89.4 429.8 90.4 424.9 93.9 420.4 96.1 416.4 97 412.6 98.7 409.1 98.7 405.7 102.7 402.4 102.7 399.2 102.7 396.1 105.1 393.1 109.3 390.1 112.2 387.2 112.5 384.2 112.5 381.3 112.5 378.4 112.5 375.5 112.5 372.5 112.5 369.6 112.5 366.6 112.5 363.6 112.5 360.5 115.3 357.4 115.3 354.2 118.1 351 118.1 347.6 118.2 344.2 121.6 340.6 121.6 336.9 124.9 333.1 127 329.1 129.5 324.9 129.5 320.5 134.7 315.8 136.8 310.9 136.8 305.5 141.1 299.8 146.6 293.5 149.6 286.6 149.8 278.8 153.7 269.9 153.7 259.6 168.6 247 186.3 231 199.2 208.7 208.5 171.1M72.2 453.3 72.6 442.8 73.2 435.6 78.1 429.8 79.1 424.9 82.1 420.4 84.4 416.4 85.8 412.6 87.1 409.1 88.5 405.7 92.2 402.4 92.2 399.2 92.2 396.1 92.2 393.1 92.6 390.1 93.1 387.2 96.8 384.2 96.8 381.3 98.8 378.4 98.8 375.5 98.8 372.5 99.6 369.6 101.1 366.6 104 363.6 105 360.5 105 357.4 108.2 354.2 113.6 351 113.9 347.6 114.4 344.2 115.2 340.6 116.7 336.9 119.2 333.1 121.2 329.1 121.4 324.9 122.1 320.5 125.5 315.8 128.2 310.9 128.3 305.5 136.1 299.8 140.5 293.5 144.9 286.6 144.9 278.8 147.7 269.9 147.7 259.6 159.6 247 162.7 231 184.5 208.7 196 171.1M85 453.3 86.6 442.8 91.6 435.6 93.7 429.8 94.5 424.9 96.8 420.4 98.6 416.4 99.5 412.6 101.8 409.1 104.8 405.7 105.1 402.4 110 399.2 112.6 396.1 115.4 393.1 115.4 390.1 116.6 387.2 118 384.2 118.6 381.3 119.5 378.4 119.5 375.5 119.5 372.5 119.5 369.6 122.1 366.6 123.6 363.6 123.6 360.5 123.6 357.4 123.6 354.2 124.1 351 124.1 347.6 124.1 344.2 127.4 340.6 127.4 336.9 128.3 333.1 128.4 329.1 128.4 324.9 133.4 320.5 137.9 315.8 139.2 310.9 139.2 305.5 143.4 299.8 145.8 293.5 147.9 286.6 147.9 278.8 150.2 269.9 164.7 259.6 171.5 247 174.5 231 189.6 208.7 223.4 171.1M82.4 453.3 88.7 442.8 95.3 435.6 97 429.8 98.3 424.9 101.3 420.4 103.8 416.4 104.8 412.6 105 409.1 105 405.7 105 402.4 108.4 399.2 108.4 396.1 108.4 393.1 111.2 390.1 115.5 387.2 117.7 384.2 117.7 381.3 119.1 378.4 120 375.5 120 372.5 120 369.6 120 366.6 120 363.6 120 360.5 120 357.4 120 354.2 121.3 351 121.3 347.6 125.5 344.2 125.5 340.6 129.3 336.9 132.4 333.1 135.6 329.1 139.5 324.9 139.5 320.5 139.5 315.8 139.5 310.9 139.8 305.5 144.8 299.8 152.3 293.5 160 286.6 162.6 278.8 181.9 269.9 181.9 259.6 196.6 247 201.2 231 212.5 208.7 233.3 171.1M60.2 453.3 69.2 442.8 72.1 435.6 73.7 429.8 75.2 424.9 78.6 420.4 80.2 416.4 83.4 412.6 84.8 409.1 85.2 405.7 86.5 402.4 86.5 399.2 86.5 396.1 89.4 393.1 91.2 390.1 91.2 387.2 92.4 384.2 92.4 381.3 95.3 378.4 96 375.5 97.3 372.5 97.5 369.6 99.5 366.6 100.8 363.6 102.3 360.5 105.5 357.4 106.6 354.2 118.6 351 118.6 347.6 121.1 344.2 122.7 340.6 128.1 336.9 129 333.1 139.5 329.1 141.6 324.9 147 320.5 148.6 315.8 150.8 310.9 150.8 305.5 152.8 299.8 157.4 293.5 158.5 286.6 163.6 278.8 166.1 269.9 171.9 259.6 184.2 247 196.5 231 219.7 208.7 239.1 171.1M86.7 453.3 88.6 442.8 88.6 435.6 90.7 429.8 93.2 424.9 93.8 420.4 100.2 416.4 104.3 412.6 107 409.1 109.5 405.7 110.7 402.4 114.1 399.2 114.4 396.1 118 393.1 118 390.1 120.3 387.2 121.5 384.2 122.2 381.3 124.2 378.4 126.8 375.5 130.1 372.5 131.2 369.6 132.9 366.6 135.2 363.6 137.2 360.5 138.1 357.4 140.4 354.2 146.2 351 148 347.6 150.3 344.2 151.5 340.6 155.4 336.9 155.4 333.1 157.2 329.1 158.5 324.9 162.8 320.5 165.4 315.8 167.3 310.9 169.8 305.5 172.8 299.8 175.7 293.5 179.3 286.6 182.9 278.8 184.8 269.9 184.8 259.6 191.8 247 203.9 231 225.4 208.7 232.5 171.1M65 453.3 69.6 442.8 74.1 435.6 75.5 429.8 77.3 424.9 79.2 420.4 80.9 416.4 82.4 412.6 83.7 409.1 87.4 405.7 88.4 402.4 88.4 399.2 88.4 396.1 88.9 393.1 90 390.1 90 387.2 92 384.2 92.1 381.3 95.2 378.4 99.4 375.5 101.6 372.5 101.6 369.6 101.8 366.6 102.8 363.6 103.6 360.5 103.6 357.4 105.4 354.2 111.3 351 111.7 347.6 113.4 344.2 115 340.6 116.9 336.9 121.6 333.1 123.5 329.1 126 324.9 126.5 320.5 127.7 315.8 129.2 310.9 129.2 305.5 141.4 299.8 164.1 293.5 164.8 286.6 170.8 278.8 173.9 269.9 174.1 259.6 179.4 247 203.1 231 223.3 208.7 234.4 171.1M76.5 453.3 77.7 442.8 81.7 435.6 82.2 429.8 83 424.9 92.4 420.4 93.4 416.4 94.9 412.6 95.2 409.1 95.2 405.7 95.4 402.4 95.4 399.2 95.4 396.1 95.5 393.1 98.7 390.1 98.7 387.2 100 384.2 100 381.3 100.4 378.4 100.4 375.5 100.4 372.5 102.7 369.6 106.5 366.6 107.4 363.6 110.8 360.5 110.8 357.4 111.5 354.2 116.5 351 117.2 347.6 117.3 344.2 117.3 340.6 117.3 336.9 120.9 333.1 121.8 329.1 125.3 324.9 126.2 320.5 129.4 315.8 137.9 310.9 138.3 305.5 148.5 299.8 148.5 293.5 150.9 286.6 152.9 278.8 160.8 269.9 160.8 259.6 169.2 247 181.5 231 211.1 208.7 226.4 171.1M73.4 453.3 74.1 442.8 78.6 435.6 81.8 429.8 84.8 424.9 88.8 420.4 90.1 416.4 90.9 412.6 92.2 409.1 92.3 405.7 93.4 402.4 93.4 399.2 93.4 396.1 93.4 393.1 93.4 390.1 93.4 387.2 94 384.2 96.7 381.3 98.1 378.4 102.9 375.5 104.2 372.5 106.3 369.6 108.2 366.6 108.4 363.6 109.5 360.5 109.5 357.4 112.6 354.2 118.3 351 118.3 347.6 118.8 344.2 120 340.6 120 336.9 120.4 333.1 123 329.1 123 324.9 130.7 320.5 131.6 315.8 135.1 310.9 135.1 305.5 139.5 299.8 144.4 293.5 151.2 286.6 158.2 278.8 158.2 269.9 162.1 259.6 174 247 187.7 231 204.2 208.7 228.5 171.1M74.4 453.3 75.3 442.8 79 435.6 79.7 429.8 80.8 424.9 82 420.4 85.9 416.4 87 412.6 90.8 409.1 99.2 405.7 99.6 402.4 99.6 399.2 99.6 396.1 99.6 393.1 100.9 390.1 105.3 387.2 105.4 384.2 105.4 381.3 105.4 378.4 105.4 375.5 105.4 372.5 105.4 369.6 105.9 366.6 107.4 363.6 107.4 360.5 112.2 357.4 112.2 354.2 115.8 351 117.7 347.6 118.5 344.2 120.4 340.6 131.4 336.9 133.9 333.1 134.5 329.1 134.5 324.9 134.5 320.5 136.9 315.8 138.9 310.9 142.9 305.5 146.6 299.8 150 293.5 155 286.6 165.1 278.8 165.6 269.9 176.9 259.6 185.8 247 196.3 231 207.7 208.7 222.6 171.1M82.3 453.3 92.8 442.8 95.6 435.6 96.5 429.8 98.7 424.9 101.6 420.4 103.2 416.4 106.6 412.6 108.6 409.1 110 405.7 110.3 402.4 113.5 399.2 113.5 396.1 114.8 393.1 116.5 390.1 117.5 387.2 118.4 384.2 121.5 381.3 124 378.4 124 375.5 124.9 372.5 127.3 369.6 128.8 366.6 130.6 363.6 132 360.5 132 357.4 132.6 354.2 143.7 351 144.9 347.6 146 344.2 146.4 340.6 149.3 336.9 149.3 333.1 149.3 329.1 149.3 324.9 149.3 320.5 150.9 315.8 150.9 310.9 152.8 305.5 153.8 299.8 156 293.5 163.2 286.6 185.1 278.8 189.8 269.9 189.8 259.6 195.7 247 200.8 231 211 208.7 238 171.1M64.3 453.3 70.2 442.8 71.4 435.6 76.5 429.8 81.8 424.9 87.7 420.4 89.2 416.4 94.7 412.6 94.9 409.1 96.5 405.7 98.9 402.4 98.9 399.2 98.9 396.1 98.9 393.1 100.2 390.1 101.9 387.2 102.3 384.2 102.3 381.3 102.4 378.4 103.7 375.5 106.2 372.5 106.7 369.6 113.4 366.6 118.1 363.6 118.1 360.5 118.6 357.4 131.3 354.2 135.2 351 137.8 347.6 143.2 344.2 143.2 340.6 143.2 336.9 144.1 333.1 144.2 329.1 144.2 324.9 148 320.5 149.4 315.8 153.1 310.9 157.3 305.5 159.3 299.8 165.1 293.5 166.7 286.6 169.6 278.8 172.9 269.9 178.2 259.6 193.3 247 200 231 223.9 208.7 242.7 171.1M63 453.3 69.8 442.8 74.7 435.6 75.3 429.8 76.9 424.9 78.7 420.4 84.6 416.4 85.3 412.6 86.4 409.1 86.8 405.7 87.9 402.4 87.9 399.2 87.9 396.1 90.4 393.1 91.1 390.1 91.1 387.2 92.7 384.2 92.7 381.3 94.9 378.4 94.9 375.5 94.9 372.5 95.3 369.6 97.6 366.6 99.2 363.6 100.8 360.5 100.8 357.4 104.6 354.2 110.8 351 112 347.6 113.6 344.2 114.9 340.6 115.6 336.9 117.8 333.1 118.9 329.1 121.3 324.9 122 320.5 124.9 315.8 127.2 310.9 127.7 305.5 132.6 299.8 136.7 293.5 139.7 286.6 152.3 278.8 153.1 269.9 154.7 259.6 162 247 172.2 231 188.1 208.7 207.8 171.1M64.9 453.3 73.9 442.8 85.6 435.6 90.4 429.8 91.4 424.9 96.3 420.4 99.1 416.4 100.5 412.6 100.5 409.1 103.4 405.7 105.7 402.4 108 399.2 108 396.1 110 393.1 110 390.1 110.9 387.2 114.9 384.2 116.6 381.3 118.4 378.4 121 375.5 123.6 372.5 123.9 369.6 124.9 366.6 126.3 363.6 126.5 360.5 126.5 357.4 126.5 354.2 127.9 351 132.8 347.6 132.9 344.2 132.9 340.6 132.9 336.9 132.9 333.1 132.9 329.1 132.9 324.9 134.5 320.5 143.7 315.8 143.7 310.9 146.3 305.5 149.8 299.8 154 293.5 161.9 286.6 168 278.8 169.8 269.9 169.8 259.6 174.4 247 181 231 201.2 208.7 212.9 171.1M61.3 453.3 69.3 442.8 70.7 435.6 72.4 429.8 74.4 424.9 78.3 420.4 81.8 416.4 85.1 412.6 86.6 409.1 89.5 405.7 89.5 402.4 89.5 399.2 89.5 396.1 91.8 393.1 92.4 390.1 92.4 387.2 93.7 384.2 93.7 381.3 96.4 378.4 96.4 375.5 96.4 372.5 97.9 369.6 101.7 366.6 103.5 363.6 104.7 360.5 104.7 357.4 106 354.2 111.6 351 111.8 347.6 113.2 344.2 114.3 340.6 115.6 336.9 117.7 333.1 119.3 329.1 128.8 324.9 128.8 320.5 130 315.8 130.2 310.9 130.2 305.5 142.9 299.8 147.7 293.5 155.3 286.6 164.1 278.8 170 269.9 183.6 259.6 191.9 247 202.6 231 219.6 208.7 228.1 171.1M69.4 453.3 72 442.8 73.8 435.6 76.4 429.8 79.6 424.9 81.9 420.4 85.9 416.4 88.3 412.6 93.4 409.1 93.5 405.7 93.8 402.4 93.8 399.2 93.8 396.1 93.8 393.1 96.3 390.1 96.3 387.2 97.1 384.2 97.1 381.3 97.2 378.4 97.2 375.5 97.2 372.5 99.4 369.6 101.9 366.6 104.5 363.6 107.8 360.5 117.9 357.4 123 354.2 126.6 351 126.6 347.6 126.6 344.2 126.6 340.6 126.6 336.9 126.6 333.1 126.6 329.1 129.4 324.9 129.4 320.5 129.9 315.8 131.5 310.9 133.1 305.5 144.7 299.8 146.1 293.5 147 286.6 147.3 278.8 149.2 269.9 150.3 259.6 167.5 247 170.4 231 176 208.7 213 171.1M64.6 453.3 73.2 442.8 77.9 435.6 78.6 429.8 84.2 424.9 86.3 420.4 86.3 416.4 88.8 412.6 92.7 409.1 93.9 405.7 95.6 402.4 95.6 399.2 95.6 396.1 96.2 393.1 97.3 390.1 97.9 387.2 106.2 384.2 106.2 381.3 110.9 378.4 112.6 375.5 112.6 372.5 117.8 369.6 118.3 366.6 128.8 363.6 130.2 360.5 130.2 357.4 130.2 354.2 132.3 351 132.3 347.6 137 344.2 137 340.6 137 336.9 137 333.1 137 329.1 137 324.9 142.2 320.5 145.1 315.8 145.5 310.9 145.5 305.5 153.7 299.8 163.7 293.5 174.4 286.6 179.6 278.8 181.4 269.9 181.4 259.6 193.9 247 205.7 231 226.5 208.7 239.5 171.1M62.8 453.3 68.5 442.8 75.5 435.6 76.2 429.8 77.9 424.9 82.3 420.4 87.5 416.4 89.8 412.6 90.3 409.1 91.4 405.7 92.1 402.4 92.3 399.2 92.3 396.1 93.6 393.1 94.1 390.1 95.6 387.2 101.3 384.2 107 381.3 110.4 378.4 110.4 375.5 110.4 372.5 110.4 369.6 110.4 366.6 116 363.6 116 360.5 116 357.4 116 354.2 116.8 351 120.2 347.6 120.2 344.2 121.4 340.6 121.4 336.9 130.7 333.1 131.4 329.1 131.4 324.9 131.4 320.5 132.6 315.8 133.1 310.9 133.1 305.5 138.7 299.8 141.3 293.5 146 286.6 146.2 278.8 146.5 269.9 151.3 259.6 164.8 247 180.3 231 200.7 208.7 245 171.1M81.3 453.3 81.7 442.8 82.2 435.6 83.5 429.8 83.9 424.9 85.6 420.4 86.1 416.4 87.9 412.6 88.8 409.1 93.1 405.7 96.9 402.4 96.9 399.2 96.9 396.1 96.9 393.1 108.1 390.1 108.1 387.2 108.1 384.2 108.1 381.3 116.1 378.4 117 375.5 119 372.5 119.1 369.6 120.6 366.6 123 363.6 128.3 360.5 130.3 357.4 131.8 354.2 134.4 351 135.2 347.6 135.2 344.2 135.2 340.6 135.2 336.9 135.2 333.1 135.2 329.1 138.1 324.9 150 320.5 159 315.8 160 310.9 161.1 305.5 166.1 299.8 171.8 293.5 173.6 286.6 178.1 278.8 179.1 269.9 179.1 259.6 184.8 247 201 231 210.4 208.7 240.8 171.1M87.1 453.3 90.4 442.8 91.3 435.6 96.1 429.8 100.9 424.9 102.9 420.4 105 416.4 106 412.6 107.8 409.1 109.7 405.7 110.1 402.4 113.6 399.2 113.6 396.1 115.2 393.1 115.2 390.1 115.2 387.2 115.2 384.2 117.2 381.3 120 378.4 120.8 375.5 121.3 372.5 121.3 369.6 121.3 366.6 121.3 363.6 127.1 360.5 127.1 357.4 129.6 354.2 133.3 351 133.3 347.6 133.3 344.2 133.3 340.6 133.3 336.9 133.3 333.1 133.9 329.1 133.9 324.9 133.9 320.5 133.9 315.8 133.9 310.9 133.9 305.5 139.6 299.8 141.7 293.5 153.8 286.6 153.8 278.8 153.8 269.9 153.8 259.6 165 247 172.4 231 186.6 208.7 197.4 171.1M81.8 453.3 84.1 442.8 86.5 435.6 87.5 429.8 88.5 424.9 88.9 420.4 92.7 416.4 97.2 412.6 97.9 409.1 98.6 405.7 98.6 402.4 101.5 399.2 103 396.1 106.7 393.1 107.9 390.1 113.7 387.2 113.9 384.2 117 381.3 119.2 378.4 122.6 375.5 124.2 372.5 124.2 369.6 127.7 366.6 130.9 363.6 133.2 360.5 133.2 357.4 135.3 354.2 139.6 351 139.6 347.6 140.9 344.2 145.2 340.6 150.3 336.9 150.3 333.1 150.9 329.1 150.9 324.9 154.2 320.5 157.2 315.8 158.8 310.9 159.2 305.5 159.2 299.8 160.7 293.5 168.7 286.6 169.2 278.8 170.2 269.9 171.6 259.6 184.5 247 187.5 231 199 208.7 208.9 171.1M62 453.3 86.3 442.8 89.1 435.6 91.2 429.8 96.9 424.9 98.4 420.4 98.9 416.4 101.2 412.6 108.4 409.1 109.5 405.7 110.4 402.4 113.9 399.2 114.6 396.1 116.3 393.1 118.3 390.1 120 387.2 122.1 384.2 124 381.3 126.6 378.4 127.3 375.5 127.7 372.5 128.5 369.6 129.4 366.6 130.1 363.6 132.9 360.5 132.9 357.4 135.2 354.2 141.2 351 141.2 347.6 141.2 344.2 143.3 340.6 151.1 336.9 151.1 333.1 151.6 329.1 156.7 324.9 161.1 320.5 164.1 315.8 165.5 310.9 166.6 305.5 167.3 299.8 172.1 293.5 179.9 286.6 184.4 278.8 187.9 269.9 187.9 259.6 199.2 247 204.6 231 248.3 208.7 248.3 171.1M77.6 453.3 82.6 442.8 83.7 435.6 86.1 429.8 89.4 424.9 90.4 420.4 94.4 416.4 94.4 412.6 98.1 409.1 98.2 405.7 98.3 402.4 98.3 399.2 98.3 396.1 98.7 393.1 102.7 390.1 103.7 387.2 103.9 384.2 103.9 381.3 104.3 378.4 106.1 375.5 106.5 372.5 107.4 369.6 108.8 366.6 112.4 363.6 112.4 360.5 114 357.4 114 354.2 117.6 351 117.6 347.6 117.6 344.2 118.2 340.6 118.7 336.9 120.3 333.1 121.7 329.1 121.9 324.9 123 320.5 125.6 315.8 131.3 310.9 132.8 305.5 141.3 299.8 143.6 293.5 144.8 286.6 146.1 278.8 147.2 269.9 147.2 259.6 156.2 247 165 231 182.4 208.7 194.5 171.1M78.9 453.3 78.9 442.8 78.9 435.6 83.5 429.8 85.2 424.9 85.5 420.4 93 416.4 93.1 412.6 94.2 409.1 94.2 405.7 95.4 402.4 101.4 399.2 102.1 396.1 106.1 393.1 106.1 390.1 107.1 387.2 108 384.2 108.3 381.3 110.7 378.4 110.7 375.5 112.5 372.5 112.9 369.6 113 366.6 113.6 363.6 114.3 360.5 115.1 357.4 115.1 354.2 118.7 351 118.7 347.6 118.9 344.2 121.9 340.6 121.9 336.9 122.1 333.1 122.1 329.1 125.7 324.9 130.4 320.5 132.9 315.8 134.1 310.9 135.9 305.5 159 299.8 162.5 293.5 166.9 286.6 175.3 278.8 178.1 269.9 178.1 259.6 185 247 186.5 231 199.4 208.7 210.3 171.1M75.3 453.3 76.8 442.8 76.8 435.6 78 429.8 79.6 424.9 83 420.4 83.3 416.4 86 412.6 92 409.1 93.4 405.7 95.1 402.4 101.1 399.2 102.4 396.1 107.4 393.1 107.4 390.1 107.4 387.2 107.4 384.2 109.7 381.3 110.7 378.4 110.7 375.5 110.7 372.5 110.7 369.6 116.2 366.6 116.2 363.6 116.2 360.5 116.2 357.4 116.6 354.2 123.4 351 123.9 347.6 126.5 344.2 126.5 340.6 128.9 336.9 130.3 333.1 131 329.1 134.8 324.9 136.3 320.5 138.9 315.8 138.9 310.9 138.9 305.5 143.9 299.8 147.7 293.5 150.2 286.6 161.1 278.8 162.6 269.9 173.5 259.6 180.2 247 181.3 231 195.1 208.7 213.1 171.1M60.1 453.3 64.5 442.8 70 435.6 74.6 429.8 77.1 424.9 78.4 420.4 80.4 416.4 82.7 412.6 85.2 409.1 86 405.7 88 402.4 88 399.2 88 396.1 88.7 393.1 92.7 390.1 97.8 387.2 99.9 384.2 99.9 381.3 102.1 378.4 102.1 375.5 103.4 372.5 103.4 369.6 105.8 366.6 110 363.6 119.3 360.5 124.6 357.4 133.4 354.2 138.6 351 138.6 347.6 138.6 344.2 147.3 340.6 151.5 336.9 151.5 333.1 151.5 329.1 156.2 324.9 161.3 320.5 162.8 315.8 163.5 310.9 165.7 305.5 171.2 299.8 173.5 293.5 175.6 286.6 181.1 278.8 183.2 269.9 197.3 259.6 205.5 247 222.2 231 240.9 208.7 240.9 171.1M61.7 453.3 66.6 442.8 69.2 435.6 71.6 429.8 74.8 424.9 77.2 420.4 79 416.4 81.2 412.6 89.9 409.1 92.2 405.7 99.3 402.4 99.3 399.2 99.3 396.1 99.4 393.1 101.1 390.1 103.4 387.2 109.7 384.2 109.7 381.3 110 378.4 110 375.5 110 372.5 113 369.6 115.2 366.6 122.2 363.6 122.3 360.5 125 357.4 127.3 354.2 138.4 351 143.9 347.6 144.7 344.2 148.7 340.6 152.5 336.9 152.6 333.1 153.6 329.1 155.4 324.9 157.6 320.5 158.4 315.8 160.1 310.9 160.2 305.5 169.5 299.8 171.9 293.5 182.5 286.6 189.3 278.8 191.7 269.9 191.7 259.6 200.8 247 226.6 231 260.5 208.7 260.5 171.1M79.5 453.3 84.9 442.8 86.8 435.6 86.8 429.8 91.8 424.9 92.7 420.4 94.7 416.4 96.2 412.6 96.8 409.1 97.8 405.7 98.7 402.4 103 399.2 112.1 396.1 115.2 393.1 115.2 390.1 115.2 387.2 119.8 384.2 120.6 381.3 124.5 378.4 126.1 375.5 128.7 372.5 130.9 369.6 133.4 366.6 135.5 363.6 137.4 360.5 138 357.4 139.7 354.2 145.6 351 147.3 347.6 149.4 344.2 150.1 340.6 153.3 336.9 153.3 333.1 153.3 329.1 153.3 324.9 155.1 320.5 157.5 315.8 157.7 310.9 157.7 305.5 159.1 299.8 161.8 293.5 163.1 286.6 166.5 278.8 168.9 269.9 168.9 259.6 197.5 247 208 231 222.3 208.7 235.7 171.1M85.3 453.3 85.8 442.8 92.4 435.6 94.5 429.8 96.5 424.9 97.4 420.4 98.8 416.4 101.1 412.6 103.4 409.1 104.6 405.7 111.6 402.4 114.4 399.2 114.6 396.1 116.5 393.1 116.6 390.1 118.5 387.2 120.6 384.2 121.8 381.3 123.2 378.4 125 375.5 126 372.5 127.2 369.6 128.2 366.6 131.8 363.6 133.2 360.5 133.2 357.4 134.2 354.2 142.7 351 146.1 347.6 147.1 344.2 147.2 340.6 149.6 336.9 149.6 333.1 150.5 329.1 150.5 324.9 151.9 320.5 153.2 315.8 156.5 310.9 159.9 305.5 159.9 299.8 163.1 293.5 164.5 286.6 166 278.8 173.6 269.9 185.8 259.6 197.9 247 206.7 231 216 208.7 247.5 171.1M62.3 453.3 69 442.8 73 435.6 75.2 429.8 79.4 424.9 82.9 420.4 86.7 416.4 87.7 412.6 91.9 409.1 97.2 405.7 102.9 402.4 104.2 399.2 105.7 396.1 108.1 393.1 113.7 390.1 113.7 387.2 116 384.2 116 381.3 117.3 378.4 117.3 375.5 117.3 372.5 117.3 369.6 118.9 366.6 120 363.6 120 360.5 120.1 357.4 121.6 354.2 127.1 351 127.1 347.6 132.1 344.2 132.1 340.6 132.1 336.9 132.1 333.1 132.1 329.1 132.1 324.9 136.4 320.5 144.4 315.8 145.2 310.9 145.2 305.5 151.8 299.8 156.2 293.5 159.1 286.6 162.1 278.8 163 269.9 164.8 259.6 177.9 247 180.1 231 190.8 208.7 224.6 171.1M65.3 453.3 69.9 442.8 76.6 435.6 77.1 429.8 78.2 424.9 81.9 420.4 87.4 416.4 88.2 412.6 89.1 409.1 90.1 405.7 90.7 402.4 90.7 399.2 91.3 396.1 97.7 393.1 97.7 390.1 97.7 387.2 99.3 384.2 100.1 381.3 101.2 378.4 101.2 375.5 101.2 372.5 101.2 369.6 101.2 366.6 103.1 363.6 103.7 360.5 103.7 357.4 106.9 354.2 114.6 351 129.7 347.6 136.7 344.2 136.7 340.6 140.9 336.9 146.5 333.1 146.5 329.1 148.7 324.9 153.7 320.5 164.4 315.8 166.8 310.9 168.8 305.5 172.1 299.8 174 293.5 177.1 286.6 187.2 278.8 194.3 269.9 194.3 259.6 200.5 247 218.8 231 238 208.7 241.5 171.1M84.4 453.3 86.9 442.8 88.6 435.6 92.9 429.8 93.7 424.9 98.5 420.4 100 416.4 100.9 412.6 101.5 409.1 102.1 405.7 103.2 402.4 103.3 399.2 103.8 396.1 104 393.1 104 390.1 104 387.2 106.6 384.2 106.6 381.3 110.9 378.4 115.5 375.5 115.7 372.5 124.8 369.6 125.6 366.6 127.8 363.6 127.8 360.5 127.8 357.4 128.4 354.2 132.3 351 139.2 347.6 140.4 344.2 140.4 340.6 141.7 336.9 141.7 333.1 143.8 329.1 145.2 324.9 146.9 320.5 148.9 315.8 150.6 310.9 156.2 305.5 158.9 299.8 162 293.5 164.1 286.6 173.9 278.8 175.8 269.9 175.8 259.6 186.1 247 191.9 231 204.7 208.7 231.7 171.1M58.3 453.3 65.3 442.8 70.2 435.6 71.9 429.8 74.3 424.9 76.6 420.4 79.8 416.4 81.1 412.6 83 409.1 84.3 405.7 85.8 402.4 87.2 399.2 87.2 396.1 90 393.1 91.9 390.1 91.9 387.2 93 384.2 98.6 381.3 101.6 378.4 102.7 375.5 113.1 372.5 113.1 369.6 113.1 366.6 113.1 363.6 113.2 360.5 113.2 357.4 113.2 354.2 118.1 351 118.2 347.6 121 344.2 122.2 340.6 124.9 336.9 130.2 333.1 130.3 329.1 130.3 324.9 130.3 320.5 131.9 315.8 131.9 310.9 131.9 305.5 143.7 299.8 144 293.5 146.2 286.6 153 278.8 158.7 269.9 170.8 259.6 179.3 247 192.9 231 201.4 208.7 242.2 171.1M73 453.3 78.8 442.8 82.1 435.6 84.1 429.8 86.3 424.9 87.4 420.4 89.9 416.4 90.8 412.6 90.8 409.1 92.8 405.7 92.9 402.4 92.9 399.2 92.9 396.1 93.1 393.1 93.6 390.1 93.6 387.2 95.2 384.2 103.2 381.3 106.3 378.4 120.1 375.5 120.3 372.5 120.3 369.6 131.6 366.6 132.2 363.6 133.3 360.5 133.3 357.4 135.9 354.2 139.9 351 139.9 347.6 140 344.2 141.8 340.6 149.2 336.9 149.2 333.1 149.2 329.1 149.2 324.9 149.7 320.5 149.9 315.8 149.9 310.9 149.9 305.5 152.7 299.8 169.2 293.5 173.3 286.6 178.9 278.8 179.8 269.9 186 259.6 192.8 247 194.6 231 206.9 208.7 230.1 171.1M68.3 453.3 68.9 442.8 72.7 435.6 77.2 429.8 79.9 424.9 83.9 420.4 85.4 416.4 87.5 412.6 88.8 409.1 92.2 405.7 92.6 402.4 93.1 399.2 93.1 396.1 93.4 393.1 94.6 390.1 94.6 387.2 95 384.2 95 381.3 96.5 378.4 97.3 375.5 97.4 372.5 97.4 369.6 100.4 366.6 101.4 363.6 102.5 360.5 102.5 357.4 104 354.2 109.5 351 110.1 347.6 112.2 344.2 113.4 340.6 113.8 336.9 116.8 333.1 118.4 329.1 119.3 324.9 119.9 320.5 122 315.8 123.8 310.9 124.7 305.5 130.7 299.8 134.5 293.5 138 286.6 147.9 278.8 148.2 269.9 151.7 259.6 169 247 189.3 231 205.3 208.7 219.1 171.1M86.1 453.3 87.3 442.8 87.7 435.6 97.2 429.8 99 424.9 100.4 420.4 102.2 416.4 106.6 412.6 108 409.1 108.7 405.7 109.3 402.4 112 399.2 114.9 396.1 117.8 393.1 119 390.1 121.1 387.2 122.5 384.2 124.9 381.3 127.2 378.4 128.1 375.5 129.5 372.5 130.3 369.6 132.7 366.6 133.6 363.6 137 360.5 137 357.4 138.9 354.2 143.6 351 144.3 347.6 145.1 344.2 145.4 340.6 151.2 336.9 151.2 333.1 151.2 329.1 156.4 324.9 159.2 320.5 161.9 315.8 165.7 310.9 167.5 305.5 170.6 299.8 176.3 293.5 180.2 286.6 186.9 278.8 190.6 269.9 190.8 259.6 198.1 247 212.6 231 225.1 208.7 231.8 171.1M82.4 453.3 85.6 442.8 86.4 435.6 90.9 429.8 95.1 424.9 98 420.4 98.9 416.4 104.7 412.6 104.7 409.1 107.4 405.7 108.4 402.4 110.6 399.2 111.1 396.1 116.6 393.1 116.8 390.1 117.9 387.2 120.5 384.2 120.5 381.3 122.7 378.4 124.1 375.5 124.6 372.5 127.7 369.6 130.2 366.6 130.6 363.6 132.5 360.5 132.5 357.4 137.8 354.2 142.8 351 144.2 347.6 146.4 344.2 147.1 340.6 153.5 336.9 153.5 333.1 154.1 329.1 155.1 324.9 157.6 320.5 159.2 315.8 162.9 310.9 165.1 305.5 168.2 299.8 173.6 293.5 178.9 286.6 184.1 278.8 188.6 269.9 188.6 259.6 193.1 247 204.3 231 235.2 208.7 245.1 171.1M79.1 453.3 84.8 442.8 84.8 435.6 86.9 429.8 90.9 424.9 91.5 420.4 93.6 416.4 96.5 412.6 96.5 409.1 99.1 405.7 107.1 402.4 109.4 399.2 109.4 396.1 111.7 393.1 115.2 390.1 115.6 387.2 116.2 384.2 116.2 381.3 116.9 378.4 118.1 375.5 127.3 372.5 127.3 369.6 129.3 366.6 129.9 363.6 131.1 360.5 131.1 357.4 131.1 354.2 136.9 351 136.9 347.6 136.9 344.2 137.6 340.6 139.8 336.9 142.1 333.1 147.8 329.1 147.8 324.9 148.8 320.5 149.2 315.8 150 310.9 150.3 305.5 157.8 299.8 158.7 293.5 160.1 286.6 161.9 278.8 165.7 269.9 168.7 259.6 178.3 247 184.3 231 203.2 208.7 211 171.1M85.2 453.3 90 442.8 93 435.6 94.6 429.8 95.8 424.9 98.9 420.4 99 416.4 99.7 412.6 100 409.1 100 405.7 100 402.4 100 399.2 100 396.1 100 393.1 100.3 390.1 100.3 387.2 100.7 384.2 100.8 381.3 101.6 378.4 102.1 375.5 104.5 372.5 104.5 369.6 106 366.6 107.8 363.6 110.1 360.5 110.1 357.4 110.1 354.2 113.3 351 114 347.6 115 344.2 115.8 340.6 115.8 336.9 118 333.1 126 329.1 126.5 324.9 136.4 320.5 138.6 315.8 138.6 310.9 140.3 305.5 144.9 299.8 148.3 293.5 150.8 286.6 150.9 278.8 159.3 269.9 159.3 259.6 168.5 247 173.7 231 186.2 208.7 200.7 171.1M66.3 453.3 68.4 442.8 71 435.6 74 429.8 75.5 424.9 77.6 420.4 80.7 416.4 81.9 412.6 83.1 409.1 85.3 405.7 86.8 402.4 86.8 399.2 86.8 396.1 87.6 393.1 89.3 390.1 89.3 387.2 91.1 384.2 91.4 381.3 94.1 378.4 94.1 375.5 94.2 372.5 94.7 369.6 97.2 366.6 99.3 363.6 101.1 360.5 101.1 357.4 103.1 354.2 109.1 351 109.8 347.6 111.8 344.2 113 340.6 117.8 336.9 121.1 333.1 124.9 329.1 124.9 324.9 125.8 320.5 130.6 315.8 133.7 310.9 134.5 305.5 143.9 299.8 146.7 293.5 148.6 286.6 155.7 278.8 157.4 269.9 161.5 259.6 178.1 247 192.7 231 211.4 208.7 223.6 171.1M85.9 453.3 88.7 442.8 89.3 435.6 89.8 429.8 90.7 424.9 91.8 420.4 93.1 416.4 95.9 412.6 96.1 409.1 98.4 405.7 100.8 402.4 102 399.2 102 396.1 104.1 393.1 108 390.1 108 387.2 108 384.2 108 381.3 108 378.4 108.6 375.5 110 372.5 110.4 369.6 110.9 366.6 113.2 363.6 117.1 360.5 117.7 357.4 128.8 354.2 139 351 139.7 347.6 147.7 344.2 148.2 340.6 150.6 336.9 151.8 333.1 153.1 329.1 153.7 324.9 157.9 320.5 159.7 315.8 165.1 310.9 166.4 305.5 168.6 299.8 171.4 293.5 173 286.6 176.3 278.8 179.5 269.9 182.4 259.6 189.1 247 198.1 231 202.9 208.7 210.9 171.1M86.5 453.3 88.6 442.8 92.1 435.6 99 429.8 101.3 424.9 103.7 420.4 106.5 416.4 108.4 412.6 109.7 409.1 110.3 405.7 110.9 402.4 116.1 399.2 116.3 396.1 119.3 393.1 119.7 390.1 122.2 387.2 123.9 384.2 125.3 381.3 127.7 378.4 128.9 375.5 130.7 372.5 131.3 369.6 133.2 366.6 134.8 363.6 135.9 360.5 135.9 357.4 136.5 354.2 141.2 351 145.2 347.6 146.1 344.2 147.4 340.6 149.9 336.9 150.6 333.1 151.3 329.1 153.6 324.9 159.7 320.5 160.9 315.8 163.1 310.9 164.4 305.5 168.7 299.8 172.2 293.5 173.9 286.6 177.9 278.8 182 269.9 182 259.6 188.9 247 203.8 231 213.2 208.7 247.9 171.1M84.1 453.3 88.2 442.8 88.2 435.6 88.7 429.8 90.5 424.9 96 420.4 101.6 416.4 102.5 412.6 103.5 409.1 103.7 405.7 103.8 402.4 106.3 399.2 106.3 396.1 109.3 393.1 109.9 390.1 109.9 387.2 109.9 384.2 109.9 381.3 109.9 378.4 109.9 375.5 109.9 372.5 110.6 369.6 112.3 366.6 113.3 363.6 113.3 360.5 113.3 357.4 113.3 354.2 122.3 351 123.8 347.6 123.8 344.2 124.8 340.6 124.8 336.9 124.8 333.1 125.1 329.1 125.9 324.9 125.9 320.5 126.7 315.8 127.4 310.9 129.2 305.5 136.2 299.8 137.3 293.5 139.4 286.6 141.8 278.8 144.7 269.9 147.1 259.6 158 247 179.9 231 191.7 208.7 221.5 171.1M59.1 453.3 65.2 442.8 69.6 435.6 72.6 429.8 76.4 424.9 77.9 420.4 80.7 416.4 82.3 412.6 84.9 409.1 86.1 405.7 99.1 402.4 99.1 399.2 99.5 396.1 103.2 393.1 103.4 390.1 108.7 387.2 113.3 384.2 113.7 381.3 117.1 378.4 117.6 375.5 117.6 372.5 121 369.6 125.7 366.6 129.4 363.6 131.8 360.5 132.5 357.4 134.7 354.2 139.3 351 139.3 347.6 143.5 344.2 145.7 340.6 153.9 336.9 154.3 333.1 157.2 329.1 158.7 324.9 162.9 320.5 165.5 315.8 167.6 310.9 170.3 305.5 175.2 299.8 179.7 293.5 183.1 286.6 189.7 278.8 191.9 269.9 197.1 259.6 206.9 247 223.4 231 254 208.7 254 171.1M65.7 453.3 74.1 442.8 82 435.6 87.1 429.8 89.6 424.9 91 420.4 91.9 416.4 91.9 412.6 92.5 409.1 95.9 405.7 96.2 402.4 100.2 399.2 101 396.1 101.3 393.1 102 390.1 103.5 387.2 104.5 384.2 107.9 381.3 115.4 378.4 119.1 375.5 123.2 372.5 124.4 369.6 124.8 366.6 125 363.6 125 360.5 125.9 357.4 125.9 354.2 128.1 351 128.1 347.6 139.6 344.2 140 340.6 140.5 336.9 140.5 333.1 144.5 329.1 145.6 324.9 145.8 320.5 149.3 315.8 152 310.9 158.8 305.5 160.5 299.8 165.5 293.5 167.5 286.6 173.2 278.8 175.7 269.9 179.3 259.6 189.6 247 199.8 231 226.8 208.7 243.8 171.1M60.8 453.3 69.4 442.8 72.3 435.6 74.4 429.8 78 424.9 79.6 420.4 81.3 416.4 83 412.6 84.2 409.1 85.6 405.7 86.9 402.4 86.9 399.2 86.9 396.1 87.7 393.1 89.4 390.1 89.4 387.2 92.3 384.2 92.7 381.3 95.2 378.4 95.9 375.5 97.5 372.5 99.2 369.6 99.9 366.6 101.6 363.6 103 360.5 103 357.4 104.3 354.2 109.9 351 110.4 347.6 112.3 344.2 113.6 340.6 113.9 336.9 116.7 333.1 117.8 329.1 119 324.9 119.5 320.5 121.5 315.8 124.1 310.9 124.6 305.5 128.5 299.8 130.6 293.5 133.8 286.6 136.7 278.8 137.6 269.9 137.6 259.6 150.9 247 160.5 231 171.2 208.7 205.4 171.1M68.7 453.3 75.1 442.8 80.2 435.6 80.2 429.8 81 424.9 85 420.4 93.2 416.4 95.8 412.6 99.1 409.1 99.4 405.7 101.3 402.4 103.1 399.2 103.1 396.1 103.1 393.1 103.1 390.1 103.1 387.2 107.4 384.2 113.1 381.3 113.7 378.4 113.7 375.5 113.7 372.5 113.7 369.6 113.7 366.6 116.4 363.6 117.4 360.5 117.4 357.4 117.4 354.2 120.6 351 121 347.6 121.9 344.2 122 340.6 122 336.9 128.1 333.1 128.6 329.1 133.9 324.9 138.1 320.5 141.9 315.8 143.1 310.9 146.2 305.5 151 299.8 156.6 293.5 160.3 286.6 162.5 278.8 163.7 269.9 163.7 259.6 169.9 247 171.5 231 183.2 208.7 196.3 171.1M86.6 453.3 93.5 442.8 94.9 435.6 96.6 429.8 97.7 424.9 99.5 420.4 100.7 416.4 102.9 412.6 106.1 409.1 109.9 405.7 111.4 402.4 114.2 399.2 115 396.1 116.8 393.1 117.7 390.1 120.6 387.2 121.8 384.2 122.5 381.3 123.9 378.4 124 375.5 124.6 372.5 124.6 369.6 124.7 366.6 125.5 363.6 125.5 360.5 125.5 357.4 125.5 354.2 130.2 351 133.4 347.6 133.4 344.2 133.4 340.6 133.4 336.9 133.4 333.1 133.4 329.1 133.4 324.9 133.4 320.5 133.4 315.8 139.3 310.9 139.3 305.5 149.3 299.8 152.5 293.5 155.9 286.6 160.2 278.8 162.7 269.9 162.7 259.6 171.8 247 195.8 231 212.7 208.7 236.2 171.1M72.1 453.3 75.8 442.8 79.6 435.6 86 429.8 90.3 424.9 98.6 420.4 100.1 416.4 101.3 412.6 106.5 409.1 108.2 405.7 110.3 402.4 113.4 399.2 113.4 396.1 116 393.1 116 390.1 117.1 387.2 117.9 384.2 122.2 381.3 123.6 378.4 123.6 375.5 124.1 372.5 126.8 369.6 130.4 366.6 131.2 363.6 133.5 360.5 136.6 357.4 138.8 354.2 143.4 351 143.8 347.6 143.8 344.2 144.5 340.6 147.8 336.9 147.8 333.1 148.5 329.1 149.3 324.9 151.5 320.5 151.5 315.8 153.4 310.9 158.5 305.5 166.6 299.8 169 293.5 170.8 286.6 181.8 278.8 186.5 269.9 186.5 259.6 189.4 247 191.6 231 231.5 208.7 234.5 171.1M75 453.3 86.5 442.8 87 435.6 87.5 429.8 88.6 424.9 94.4 420.4 95.5 416.4 96.2 412.6 101.4 409.1 101.5 405.7 101.5 402.4 104 399.2 104 396.1 104.1 393.1 104.1 390.1 104.1 387.2 106.5 384.2 109.8 381.3 113.2 378.4 113.2 375.5 113.2 372.5 113.2 369.6 113.2 366.6 113.2 363.6 113.2 360.5 113.2 357.4 113.2 354.2 114.6 351 114.6 347.6 115.3 344.2 116 340.6 116.5 336.9 118.8 333.1 119.5 329.1 120.3 324.9 120.4 320.5 123.7 315.8 125.9 310.9 125.9 305.5 133.5 299.8 147.5 293.5 152.9 286.6 156.3 278.8 156.3 269.9 159 259.6 178.2 247 185.9 231 218 208.7 222.5 171.1M76.3 453.3 84.8 442.8 87.3 435.6 90.3 429.8 97.9 424.9 99.7 420.4 101.1 416.4 105 412.6 106.4 409.1 109 405.7 110.2 402.4 115.3 399.2 115.3 396.1 118.2 393.1 119.2 390.1 121 387.2 122.7 384.2 123.9 381.3 126.2 378.4 127.6 375.5 128 372.5 128.4 369.6 130.1 366.6 130.5 363.6 131.7 360.5 131.7 357.4 131.9 354.2 136.7 351 136.8 347.6 138.9 344.2 145.5 340.6 147.1 336.9 147.1 333.1 147.1 329.1 147.1 324.9 147.1 320.5 147.1 315.8 147.1 310.9 147.1 305.5 151.6 299.8 156.6 293.5 159.3 286.6 162.7 278.8 167.4 269.9 172 259.6 178.8 247 199 231 215.9 208.7 237.9 171.1M64.2 453.3 71.1 442.8 76.8 435.6 78.4 429.8 82.2 424.9 83.7 420.4 85.8 416.4 87.1 412.6 89.3 409.1 92.6 405.7 93.6 402.4 95.2 399.2 95.2 396.1 95.2 393.1 95.2 390.1 95.2 387.2 95.6 384.2 95.6 381.3 98 378.4 101 375.5 101 372.5 101 369.6 107.8 366.6 114.7 363.6 114.7 360.5 114.7 357.4 116.5 354.2 123 351 123 347.6 123 344.2 123 340.6 123 336.9 127.8 333.1 132.6 329.1 132.6 324.9 132.6 320.5 139.6 315.8 145 310.9 145 305.5 148.1 299.8 149.1 293.5 151.3 286.6 156 278.8 162.8 269.9 162.8 259.6 179.7 247 187.8 231 198 208.7 215 171.1M60.4 453.3 68.4 442.8 71.9 435.6 73.6 429.8 75.5 424.9 81.4 420.4 88 416.4 95.9 412.6 97.3 409.1 100.6 405.7 101.2 402.4 101.9 399.2 101.9 396.1 102.9 393.1 102.9 390.1 102.9 387.2 103.5 384.2 103.7 381.3 104.6 378.4 107.1 375.5 113.9 372.5 113.9 369.6 120.1 366.6 123.4 363.6 123.4 360.5 123.4 357.4 123.4 354.2 126.3 351 128.3 347.6 128.3 344.2 128.3 340.6 128.3 336.9 128.3 333.1 135.5 329.1 140.5 324.9 140.5 320.5 152.8 315.8 152.8 310.9 158.1 305.5 158.8 299.8 165.4 293.5 166.2 286.6 179.3 278.8 185.6 269.9 185.6 259.6 193.5 247 208.5 231 232.3 208.7 238.6 171.1M70.8 453.3 84 442.8 90.2 435.6 92 429.8 96.2 424.9 99 420.4 102.1 416.4 105.3 412.6 107.6 409.1 108 405.7 108 402.4 113.7 399.2 113.7 396.1 116.1 393.1 116.2 390.1 121.4 387.2 122.6 384.2 123.7 381.3 125.3 378.4 125.9 375.5 127.5 372.5 128.1 369.6 129.8 366.6 131.4 363.6 133 360.5 134.8 357.4 139.3 354.2 144.4 351 145.5 347.6 145.9 344.2 145.9 340.6 147.5 336.9 147.5 333.1 150.3 329.1 150.3 324.9 157.7 320.5 158.7 315.8 158.7 310.9 158.7 305.5 161 299.8 163.3 293.5 170.1 286.6 174.9 278.8 177.8 269.9 177.8 259.6 182.7 247 209.3 231 225.2 208.7 237.2 171.1M76.1 453.3 79.5 442.8 79.5 435.6 83.3 429.8 87 424.9 89.6 420.4 89.7 416.4 90.3 412.6 92.2 409.1 93.2 405.7 93.9 402.4 93.9 399.2 93.9 396.1 93.9 393.1 95.1 390.1 95.1 387.2 97.2 384.2 97.2 381.3 97.6 378.4 97.6 375.5 98 372.5 98.1 369.6 99.4 366.6 101.1 363.6 103.1 360.5 103.1 357.4 103.9 354.2 110.3 351 110.9 347.6 112.7 344.2 113.7 340.6 114.4 336.9 116.5 333.1 118 329.1 119.5 324.9 120.3 320.5 122.8 315.8 124.5 310.9 126.4 305.5 133.4 299.8 138 293.5 142.3 286.6 158 278.8 158.2 269.9 158.2 259.6 162.9 247 165.4 231 173.4 208.7 190.3 171.1M84.6 453.3 90.1 442.8 92.6 435.6 94 429.8 98 424.9 100.4 420.4 105.4 416.4 108 412.6 109.2 409.1 110.3 405.7 111.9 402.4 114.8 399.2 115.2 396.1 117.7 393.1 117.7 390.1 118.8 387.2 119.1 384.2 119.7 381.3 122.1 378.4 123.9 375.5 124.9 372.5 126.6 369.6 127.6 366.6 127.7 363.6 129.7 360.5 129.7 357.4 129.7 354.2 133.2 351 133.2 347.6 134.5 344.2 134.5 340.6 134.5 336.9 134.5 333.1 134.5 329.1 134.5 324.9 134.5 320.5 134.5 315.8 134.5 310.9 134.5 305.5 136.9 299.8 143 293.5 146.1 286.6 147.6 278.8 147.6 269.9 156 259.6 165.6 247 169.8 231 178.8 208.7 191.1 171.1M76.9 453.3 77.1 442.8 80.1 435.6 80.2 429.8 86.6 424.9 87 420.4 90.4 416.4 92.8 412.6 96.7 409.1 97.6 405.7 98 402.4 100.8 399.2 100.8 396.1 101.4 393.1 103.4 390.1 103.4 387.2 104.8 384.2 105.8 381.3 105.8 378.4 105.8 375.5 106 372.5 106 369.6 108.7 366.6 108.9 363.6 110 360.5 110 357.4 110 354.2 114.9 351 115.1 347.6 116.4 344.2 116.6 340.6 118.2 336.9 125.4 333.1 126.4 329.1 127.2 324.9 130.5 320.5 131.1 315.8 131.1 310.9 131.8 305.5 139.3 299.8 140.8 293.5 158.1 286.6 161.2 278.8 161.6 269.9 163.6 259.6 170 247 171.8 231 220.4 208.7 224.9 171.1M57.6 453.3 63.6 442.8 67.4 435.6 70 429.8 73.5 424.9 76.1 420.4 78.2 416.4 80.7 412.6 82.2 409.1 84.2 405.7 85.5 402.4 85.5 399.2 85.5 396.1 87.2 393.1 89 390.1 89 387.2 90.9 384.2 91.2 381.3 94 378.4 94.5 375.5 95.3 372.5 96.1 369.6 98.9 366.6 102.6 363.6 104 360.5 104 357.4 105.3 354.2 113.3 351 114.3 347.6 116.2 344.2 117.4 340.6 120.7 336.9 121.1 333.1 124.2 329.1 133.3 324.9 137.8 320.5 138.5 315.8 139.1 310.9 139.1 305.5 144.1 299.8 149.5 293.5 152.3 286.6 157.4 278.8 160 269.9 161.4 259.6 168.1 247 174 231 179.8 208.7 195.4 171.1M70.2 453.3 75.1 442.8 82.5 435.6 85.3 429.8 86 424.9 88.5 420.4 91.1 416.4 92.7 412.6 93.1 409.1 94.8 405.7 95.1 402.4 95.1 399.2 95.1 396.1 95.1 393.1 102.1 390.1 102.1 387.2 105 384.2 107.5 381.3 110.1 378.4 110.1 375.5 110.1 372.5 110.1 369.6 110.1 366.6 110.1 363.6 110.1 360.5 110.1 357.4 110.1 354.2 114 351 114.5 347.6 116.5 344.2 121.7 340.6 121.7 336.9 122.9 333.1 125.5 329.1 125.5 324.9 131.1 320.5 139.5 315.8 143 310.9 143 305.5 146.7 299.8 146.7 293.5 148.3 286.6 160.5 278.8 165.4 269.9 165.4 259.6 170.3 247 179.8 231 203.8 208.7 226.2 171.1M71.7 453.3 72.1 442.8 75 435.6 77.6 429.8 80.6 424.9 81.2 420.4 86.8 416.4 88.2 412.6 88.4 409.1 89.5 405.7 90.4 402.4 90.4 399.2 90.4 396.1 90.4 393.1 91 390.1 91 387.2 92.9 384.2 93.4 381.3 97.1 378.4 97.1 375.5 97.1 372.5 97.1 369.6 101.6 366.6 102.7 363.6 105.5 360.5 105.5 357.4 108.4 354.2 114.3 351 114.6 347.6 115.7 344.2 119.7 340.6 125.7 336.9 126.2 333.1 129.5 329.1 130.6 324.9 134.3 320.5 134.4 315.8 135.3 310.9 139.9 305.5 144.2 299.8 144.2 293.5 151.7 286.6 152.8 278.8 154.2 269.9 161 259.6 169.3 247 183.7 231 196.7 208.7 238.1 171.1M87.3 453.3 89.5 442.8 90.3 435.6 91.2 429.8 95.6 424.9 97.6 420.4 99.4 416.4 101.1 412.6 101.9 409.1 102.3 405.7 102.6 402.4 102.7 399.2 108.7 396.1 111 393.1 111 390.1 111 387.2 111 384.2 111 381.3 111 378.4 113.8 375.5 113.8 372.5 123.4 369.6 124.6 366.6 126.4 363.6 126.7 360.5 129.8 357.4 131.4 354.2 135.2 351 136.1 347.6 138.1 344.2 138.6 340.6 138.6 336.9 138.6 333.1 138.6 329.1 138.6 324.9 138.6 320.5 138.6 315.8 138.6 310.9 138.6 305.5 142.1 299.8 145.1 293.5 147.7 286.6 152.5 278.8 157.8 269.9 157.8 259.6 163.7 247 175.5 231 187.8 208.7 196.8 171.1M78.6 453.3 84.3 442.8 85.7 435.6 91.5 429.8 93.2 424.9 93.6 420.4 96.8 416.4 98 412.6 100.4 409.1 101 405.7 101 402.4 101 399.2 101 396.1 101 393.1 101 390.1 101 387.2 101 384.2 101.3 381.3 102.7 378.4 102.7 375.5 102.7 372.5 102.7 369.6 102.7 366.6 102.7 363.6 103.5 360.5 103.5 357.4 104.9 354.2 110.5 351 110.7 347.6 112.1 344.2 113.3 340.6 113.6 336.9 116.4 333.1 117.5 329.1 118.7 324.9 120.2 320.5 122.2 315.8 124 310.9 124.4 305.5 129.7 299.8 132.5 293.5 136.5 286.6 137.1 278.8 139 269.9 140.3 259.6 151.9 247 155.3 231 162.2 208.7 172.3 171.1M82.2 453.3 90.9 442.8 94.2 435.6 95.2 429.8 100.7 424.9 103 420.4 104.7 416.4 106.9 412.6 108.7 409.1 110.8 405.7 111.5 402.4 115.4 399.2 115.9 396.1 118.5 393.1 118.5 390.1 119.5 387.2 120.7 384.2 120.8 381.3 122.7 378.4 122.7 375.5 125 372.5 126.3 369.6 126.8 366.6 128.9 363.6 131.4 360.5 131.5 357.4 134.7 354.2 138.5 351 138.5 347.6 138.5 344.2 141.2 340.6 144.7 336.9 148.5 333.1 149.6 329.1 149.8 324.9 154.7 320.5 155.4 315.8 159.6 310.9 160.6 305.5 162.5 299.8 163.2 293.5 169.1 286.6 170.5 278.8 173.2 269.9 193.7 259.6 203 247 211.5 231 230.5 208.7 237.8 171.1M66.7 453.3 72.2 442.8 74.2 435.6 76 429.8 80 424.9 81.1 420.4 82.7 416.4 84.5 412.6 86.2 409.1 87.6 405.7 90.2 402.4 90.2 399.2 90.2 396.1 90.2 393.1 95.5 390.1 95.5 387.2 96.6 384.2 96.6 381.3 97.8 378.4 99.1 375.5 100.5 372.5 101.5 369.6 103.7 366.6 107.9 363.6 108.3 360.5 108.3 357.4 109.5 354.2 116.9 351 116.9 347.6 119.1 344.2 119.8 340.6 119.8 336.9 122.2 333.1 122.2 329.1 123.4 324.9 129.5 320.5 130.4 315.8 130.5 310.9 153.2 305.5 155.7 299.8 161.1 293.5 165.5 286.6 178.2 278.8 180.1 269.9 181.8 259.6 194.7 247 198.9 231 207.9 208.7 255.5 171.1M80.5 453.3 84.4 442.8 87.9 435.6 89.6 429.8 91.9 424.9 94.2 420.4 94.9 416.4 96 412.6 98.7 409.1 105.7 405.7 106.1 402.4 108.2 399.2 108.2 396.1 109 393.1 109 390.1 109 387.2 109 384.2 109 381.3 109 378.4 109 375.5 111.1 372.5 111.1 369.6 111.1 366.6 111.1 363.6 111.1 360.5 111.1 357.4 114.6 354.2 121.2 351 121.3 347.6 122.5 344.2 123 340.6 123.7 336.9 125.2 333.1 132.1 329.1 132.1 324.9 132.1 320.5 132.3 315.8 132.7 310.9 132.7 305.5 140.4 299.8 149.3 293.5 151.9 286.6 151.9 278.8 152.4 269.9 152.4 259.6 160.4 247 167.4 231 180.9 208.7 203 171.1M74.3 453.3 77.2 442.8 77.4 435.6 78.8 429.8 80.4 424.9 81.6 420.4 82.5 416.4 93.1 412.6 96.5 409.1 97.4 405.7 99.1 402.4 99.3 399.2 101.9 396.1 104.9 393.1 107.5 390.1 112.8 387.2 117.6 384.2 117.8 381.3 121.5 378.4 123.8 375.5 125.6 372.5 125.6 369.6 125.6 366.6 126.6 363.6 126.6 360.5 128.7 357.4 128.7 354.2 134.1 351 141.8 347.6 141.8 344.2 141.8 340.6 148.1 336.9 148.1 333.1 148.1 329.1 148.1 324.9 148.4 320.5 156 315.8 156.1 310.9 156.1 305.5 156.5 299.8 160.7 293.5 170.5 286.6 177.5 278.8 177.6 269.9 177.6 259.6 183.5 247 189.2 231 213.7 208.7 233.6 171.1M68.7 453.3 71.1 442.8 72.2 435.6 75.7 429.8 79.7 424.9 83.5 420.4 85 416.4 85.8 412.6 87.7 409.1 89.6 405.7 90.5 402.4 90.5 399.2 92.2 396.1 96.3 393.1 96.4 390.1 96.4 387.2 97 384.2 97 381.3 97.1 378.4 97.1 375.5 97.1 372.5 98.7 369.6 101.3 366.6 105.8 363.6 106.2 360.5 106.4 357.4 109.2 354.2 114.8 351 114.9 347.6 115.7 344.2 117.2 340.6 117.2 336.9 119 333.1 124 329.1 124.5 324.9 124.5 320.5 125.7 315.8 127.7 310.9 127.7 305.5 134.8 299.8 138.9 293.5 143.3 286.6 143.3 278.8 151.4 269.9 151.4 259.6 161.2 247 165.6 231 188.9 208.7 199.8 171.1M89.4 453.3 92.2 442.8 93.5 435.6 97.1 429.8 99.7 424.9 101.2 420.4 103.7 416.4 104 412.6 104.3 409.1 104.6 405.7 104.7 402.4 107 399.2 107 396.1 113 393.1 113.2 390.1 114.6 387.2 114.9 384.2 114.9 381.3 119.5 378.4 119.6 375.5 121.6 372.5 121.6 369.6 121.6 366.6 123.4 363.6 123.4 360.5 123.4 357.4 123.4 354.2 126.2 351 133.6 347.6 133.6 344.2 133.6 340.6 133.6 336.9 133.6 333.1 133.6 329.1 133.6 324.9 133.6 320.5 133.6 315.8 137.7 310.9 140.7 305.5 146.3 299.8 146.3 293.5 147.8 286.6 149.7 278.8 149.7 269.9 149.7 259.6 162.2 247 166.7 231 199.3 208.7 212.4 171.1M71.5 453.3 72.9 442.8 76.9 435.6 78.6 429.8 80.2 424.9 85.1 420.4 89.8 416.4 91.6 412.6 91.9 409.1 91.9 405.7 93.2 402.4 93.6 399.2 93.6 396.1 95.8 393.1 95.8 390.1 95.8 387.2 97.8 384.2 97.8 381.3 100 378.4 100 375.5 100.8 372.5 101.6 369.6 102.9 366.6 103.7 363.6 104.8 360.5 104.8 357.4 105.8 354.2 111.4 351 111.6 347.6 113 344.2 114.2 340.6 115 336.9 118.2 333.1 120.7 329.1 121.8 324.9 122.3 320.5 124.1 315.8 126.5 310.9 132.1 305.5 137.9 299.8 140.7 293.5 142.7 286.6 145.2 278.8 151.8 269.9 151.8 259.6 161.3 247 163.6 231 171.8 208.7 185.8 171.1M69.2 453.3 82.6 442.8 82.9 435.6 84.9 429.8 86.5 424.9 88 420.4 89.6 416.4 90.4 412.6 91.3 409.1 91.3 405.7 91.8 402.4 91.8 399.2 91.8 396.1 92.6 393.1 93.3 390.1 93.3 387.2 96 384.2 99.8 381.3 101.8 378.4 101.8 375.5 101.8 372.5 101.8 369.6 103.2 366.6 104.8 363.6 108.5 360.5 109.2 357.4 113.3 354.2 120.3 351 127.2 347.6 133.2 344.2 133.2 340.6 133.2 336.9 133.2 333.1 141.8 329.1 141.8 324.9 147.6 320.5 155.3 315.8 156 310.9 156 305.5 157.6 299.8 160.1 293.5 162.1 286.6 168.3 278.8 180.8 269.9 192.5 259.6 201.2 247 207.2 231 216.1 208.7 232.3 171.1M63.9 453.3 70.9 442.8 73.1 435.6 77.5 429.8 79.3 424.9 82.5 420.4 85.1 416.4 85.7 412.6 87.5 409.1 89.6 405.7 94.1 402.4 94.1 399.2 94.1 396.1 105.3 393.1 105.3 390.1 108.9 387.2 110.5 384.2 110.7 381.3 111.2 378.4 111.2 375.5 114.7 372.5 114.7 369.6 115.2 366.6 115.2 363.6 115.2 360.5 115.2 357.4 117.5 354.2 120.6 351 120.6 347.6 121.2 344.2 125 340.6 131.8 336.9 131.8 333.1 135.8 329.1 142.9 324.9 143.6 320.5 143.6 315.8 143.6 310.9 143.6 305.5 150.1 299.8 158.1 293.5 160.9 286.6 175.4 278.8 181.1 269.9 181.1 259.6 199.4 247 206.8 231 217 208.7 231.9 171.1M78.7 453.3 86.1 442.8 90.7 435.6 90.7 429.8 92.9 424.9 96.6 420.4 101 416.4 101.5 412.6 104.3 409.1 105 405.7 106.6 402.4 109.6 399.2 110 396.1 112.7 393.1 114.3 390.1 116 387.2 116.3 384.2 118.9 381.3 120.1 378.4 120.9 375.5 121.2 372.5 121.2 369.6 121.2 366.6 121.2 363.6 121.2 360.5 121.2 357.4 122 354.2 125.7 351 129.8 347.6 142.7 344.2 142.7 340.6 142.9 336.9 143.3 333.1 143.3 329.1 143.3 324.9 149.4 320.5 152.2 315.8 152.2 310.9 155 305.5 161.3 299.8 163.3 293.5 165.3 286.6 167 278.8 170.7 269.9 175.3 259.6 186.6 247 196.2 231 206.5 208.7 221.7 171.1M69.2 453.3 72.8 442.8 74.1 435.6 78.2 429.8 84 424.9 90 420.4 100.8 416.4 102.4 412.6 106 409.1 107.2 405.7 108.7 402.4 114.3 399.2 114.7 396.1 118.4 393.1 118.8 390.1 121.5 387.2 123.7 384.2 125.1 381.3 127.8 378.4 129.1 375.5 130.7 372.5 131.8 369.6 133.9 366.6 135.4 363.6 137.4 360.5 138.3 357.4 140.9 354.2 146.3 351 148.1 347.6 149.9 344.2 150.9 340.6 154.8 336.9 154.8 333.1 156.9 329.1 158.6 324.9 162.5 320.5 164.9 315.8 166.2 310.9 168.7 305.5 173.4 299.8 181.3 293.5 185.3 286.6 196.3 278.8 200.5 269.9 200.5 259.6 208.2 247 219.9 231 245.6 208.7 245.6 171.1M73.6 453.3 76.9 442.8 76.9 435.6 85 429.8 87.6 424.9 87.9 420.4 87.9 416.4 89 412.6 99.3 409.1 99.5 405.7 99.5 402.4 101.9 399.2 101.9 396.1 103 393.1 103.7 390.1 103.7 387.2 107.5 384.2 107.5 381.3 107.5 378.4 107.5 375.5 107.5 372.5 107.5 369.6 107.5 366.6 107.5 363.6 111 360.5 111.4 357.4 116.4 354.2 128 351 134 347.6 136.1 344.2 136.1 340.6 136.1 336.9 140.8 333.1 141.9 329.1 143.1 324.9 150.9 320.5 150.9 315.8 150.9 310.9 153.1 305.5 156.5 299.8 157.8 293.5 159.8 286.6 169.5 278.8 175.4 269.9 180.3 259.6 192.5 247 196.1 231 203.6 208.7 220.3 171.1M75 453.3 75 442.8 76.9 435.6 79 429.8 81.3 424.9 83.2 420.4 85.7 416.4 88.7 412.6 89.1 409.1 90.3 405.7 90.8 402.4 90.8 399.2 90.8 396.1 96.5 393.1 96.5 390.1 98.5 387.2 99.5 384.2 100.5 381.3 102.6 378.4 102.6 375.5 112.3 372.5 116.4 369.6 121.8 366.6 122.2 363.6 128 360.5 132.7 357.4 133.5 354.2 144.2 351 146.7 347.6 148.1 344.2 148.1 340.6 151.6 336.9 151.6 333.1 153.7 329.1 154.4 324.9 156.8 320.5 160.3 315.8 161.8 310.9 166.5 305.5 170.9 299.8 173.4 293.5 179.4 286.6 183.2 278.8 185.1 269.9 185.1 259.6 191.4 247 198.7 231 212.8 208.7 221.8 171.1M74.1 453.3 77.9 442.8 85.1 435.6 87 429.8 87.9 424.9 89.3 420.4 89.3 416.4 90.2 412.6 91.1 409.1 92.8 405.7 94.5 402.4 94.5 399.2 94.5 396.1 95.1 393.1 95.1 390.1 95.1 387.2 95.5 384.2 95.5 381.3 96.9 378.4 96.9 375.5 96.9 372.5 97.6 369.6 100.2 366.6 104.2 363.6 104.4 360.5 104.4 357.4 105.1 354.2 110.2 351 110.7 347.6 112.9 344.2 114.1 340.6 114.7 336.9 117 333.1 118.3 329.1 119.8 324.9 120.1 320.5 123.1 315.8 125.8 310.9 126.2 305.5 134 299.8 135.6 293.5 142.2 286.6 144.6 278.8 146 269.9 151.1 259.6 166.7 247 171 231 185.6 208.7 219.5 171.1M73.8 453.3 82.9 442.8 87.3 435.6 87.3 429.8 89.1 424.9 93.5 420.4 95.1 416.4 95.3 412.6 96.9 409.1 96.9 405.7 96.9 402.4 96.9 399.2 96.9 396.1 96.9 393.1 96.9 390.1 96.9 387.2 96.9 384.2 96.9 381.3 98.5 378.4 99.6 375.5 102.4 372.5 103.9 369.6 121.6 366.6 122.8 363.6 123.2 360.5 123.2 357.4 123.2 354.2 124.4 351 126.1 347.6 128.6 344.2 129.6 340.6 135.8 336.9 137.7 333.1 137.7 329.1 137.7 324.9 138.2 320.5 146.7 315.8 146.7 310.9 146.7 305.5 152 299.8 152.1 293.5 167.7 286.6 176.2 278.8 177.9 269.9 180.5 259.6 190.2 247 206.1 231 232.1 208.7 245.8 171.1M66.8 453.3 70.1 442.8 72.8 435.6 74.3 429.8 79 424.9 80 420.4 83 416.4 85.6 412.6 86.1 409.1 88.7 405.7 91.8 402.4 91.8 399.2 91.8 396.1 93.3 393.1 94 390.1 94 387.2 94.8 384.2 94.8 381.3 100.5 378.4 100.5 375.5 103.1 372.5 106.6 369.6 111.2 366.6 113.2 363.6 113.2 360.5 113.2 357.4 113.2 354.2 115.9 351 115.9 347.6 119.4 344.2 120.8 340.6 135.5 336.9 137.5 333.1 137.5 329.1 140.9 324.9 147.8 320.5 147.8 315.8 154.6 310.9 157.5 305.5 164.4 299.8 167.3 293.5 173.7 286.6 180 278.8 186.2 269.9 189.4 259.6 197.7 247 205.2 231 218.5 208.7 223.7 171.1M67.6 453.3 79.4 442.8 83 435.6 85.6 429.8 90.8 424.9 93.2 420.4 94 416.4 94.2 412.6 94.2 409.1 94.3 405.7 95.5 402.4 95.5 399.2 95.5 396.1 100 393.1 100 390.1 107.6 387.2 107.9 384.2 107.9 381.3 107.9 378.4 107.9 375.5 111.4 372.5 117.9 369.6 118.4 366.6 123.3 363.6 130.9 360.5 135.4 357.4 138.7 354.2 143.5 351 143.7 347.6 144.8 344.2 144.8 340.6 147.9 336.9 147.9 333.1 150.1 329.1 151.8 324.9 154.3 320.5 154.7 315.8 162 310.9 167.1 305.5 170.1 299.8 171.5 293.5 180.5 286.6 186.6 278.8 189.5 269.9 189.5 259.6 196.9 247 200.9 231 210.6 208.7 221.2 171.1M84.4 453.3 84.9 442.8 85.3 435.6 85.4 429.8 87.1 424.9 87.9 420.4 92.8 416.4 97.8 412.6 102.7 409.1 103.4 405.7 103.6 402.4 105 399.2 105 396.1 105 393.1 111.5 390.1 111.6 387.2 112.7 384.2 113.3 381.3 114.1 378.4 118 375.5 120.6 372.5 120.6 369.6 120.6 366.6 120.9 363.6 121.4 360.5 123.2 357.4 125.7 354.2 132 351 136.3 347.6 136.3 344.2 137 340.6 138.3 336.9 142.3 333.1 146.6 329.1 147 324.9 150.4 320.5 151.6 315.8 151.6 310.9 151.6 305.5 156.4 299.8 158.3 293.5 159.9 286.6 162.8 278.8 166.7 269.9 173.6 259.6 179.5 247 182.3 231 195.4 208.7 210.4 171.1M71 453.3 77 442.8 86.2 435.6 87.7 429.8 88.8 424.9 89.9 420.4 94.4 416.4 94.5 412.6 96.1 409.1 99.6 405.7 101 402.4 103.8 399.2 103.8 396.1 106.4 393.1 106.4 390.1 109.1 387.2 113.5 384.2 113.5 381.3 114.5 378.4 121.2 375.5 124.4 372.5 126.2 369.6 126.9 366.6 131.7 363.6 132.6 360.5 132.6 357.4 132.9 354.2 138.7 351 143.2 347.6 144 344.2 144 340.6 144.3 336.9 144.3 333.1 146.9 329.1 147.9 324.9 149.3 320.5 151 315.8 154 310.9 154.1 305.5 154.3 299.8 155.3 293.5 159.1 286.6 161.7 278.8 172.7 269.9 177 259.6 188.4 247 192.8 231 212.6 208.7 219 171.1M73.2 453.3 83.2 442.8 83.2 435.6 83.2 429.8 83.9 424.9 85 420.4 91.3 416.4 91.9 412.6 97.2 409.1 99.5 405.7 100.8 402.4 108 399.2 108.6 396.1 113.6 393.1 113.6 390.1 113.6 387.2 113.6 384.2 113.9 381.3 117.3 378.4 117.3 375.5 120.7 372.5 123.6 369.6 125 366.6 126.2 363.6 126.4 360.5 130.7 357.4 133.2 354.2 137.4 351 138.1 347.6 139.7 344.2 139.7 340.6 139.7 336.9 139.7 333.1 139.7 329.1 139.7 324.9 139.7 320.5 139.7 315.8 139.7 310.9 141.1 305.5 151.2 299.8 153.5 293.5 155.2 286.6 165.4 278.8 166.3 269.9 171 259.6 179 247 184.2 231 202.2 208.7 210.1 171.1M82.7 453.3 88.4 442.8 91.7 435.6 92.9 429.8 93.5 424.9 94.3 420.4 96.6 416.4 97 412.6 98.3 409.1 104.7 405.7 105.5 402.4 107.2 399.2 108 396.1 109.2 393.1 109.2 390.1 112.1 387.2 115.7 384.2 119.8 381.3 122.3 378.4 122.3 375.5 122.3 372.5 122.7 369.6 123.1 366.6 123.1 363.6 123.1 360.5 123.1 357.4 123.6 354.2 126.9 351 130.1 347.6 130.1 344.2 130.1 340.6 130.1 336.9 132.4 333.1 134.2 329.1 134.5 324.9 134.5 320.5 137.6 315.8 140.3 310.9 140.3 305.5 150.8 299.8 151.8 293.5 155.7 286.6 157.3 278.8 159.9 269.9 160 259.6 175.9 247 179.2 231 195.6 208.7 229.1 171.1M88.9 453.3 91.7 442.8 93.2 435.6 97.8 429.8 100 424.9 102.3 420.4 104 416.4 104.6 412.6 106.9 409.1 106.9 405.7 106.9 402.4 109.1 399.2 109.1 396.1 109.1 393.1 109.1 390.1 109.1 387.2 109.1 384.2 109.1 381.3 109.1 378.4 109.1 375.5 109.1 372.5 109.1 369.6 109.1 366.6 109.1 363.6 109.1 360.5 109.1 357.4 109.1 354.2 112.8 351 113.1 347.6 115.4 344.2 116.7 340.6 116.7 336.9 118.5 333.1 119.3 329.1 120 324.9 121 320.5 122.6 315.8 124.3 310.9 124.9 305.5 130 299.8 134.3 293.5 142.6 286.6 143.5 278.8 145.1 269.9 150 259.6 163 247 168.4 231 175 208.7 187.5 171.1M59.7 453.3 64.1 442.8 69.8 435.6 71.7 429.8 82.3 424.9 84.4 420.4 88.5 416.4 90.5 412.6 91.6 409.1 91.8 405.7 92.4 402.4 92.4 399.2 92.4 396.1 92.9 393.1 95.1 390.1 95.1 387.2 100.2 384.2 100.3 381.3 104.1 378.4 104.8 375.5 105 372.5 107.7 369.6 115.8 366.6 126.5 363.6 128.8 360.5 131.7 357.4 136.7 354.2 145.3 351 147.3 347.6 149.7 344.2 151.6 340.6 155.6 336.9 155.6 333.1 157.6 329.1 159.3 324.9 163.3 320.5 165.9 315.8 168.1 310.9 170.9 305.5 177.1 299.8 183.1 293.5 186.3 286.6 193.2 278.8 198.8 269.9 200.1 259.6 211.6 247 222.5 231 241.3 208.7 244.3 171.1M64.8 453.3 76.5 442.8 81.3 435.6 84.4 429.8 93.6 424.9 95 420.4 96.7 416.4 100.3 412.6 103.1 409.1 106.2 405.7 106.4 402.4 112.1 399.2 113.9 396.1 115.9 393.1 115.9 390.1 116.2 387.2 117 384.2 118 381.3 119.6 378.4 120.1 375.5 120.1 372.5 120.1 369.6 120.1 366.6 120.1 363.6 120.1 360.5 120.1 357.4 120.1 354.2 120.2 351 121.7 347.6 121.9 344.2 121.9 340.6 127.3 336.9 134.8 333.1 134.8 329.1 134.8 324.9 141.8 320.5 147.9 315.8 154.1 310.9 159.5 305.5 165.1 299.8 168.3 293.5 176.7 286.6 181.9 278.8 186 269.9 188.5 259.6 196 247 211.3 231 229.2 208.7 237.5 171.1M77.4 453.3 77.6 442.8 81.7 435.6 87.9 429.8 89.6 424.9 90.6 420.4 95.1 416.4 96.1 412.6 96.8 409.1 96.8 405.7 103.6 402.4 105.2 399.2 105.2 396.1 108.9 393.1 108.9 390.1 111.2 387.2 111.5 384.2 112.9 381.3 114.5 378.4 118.2 375.5 119.2 372.5 119.2 369.6 120 366.6 120.4 363.6 125.9 360.5 125.9 357.4 130 354.2 134.6 351 134.7 347.6 135.5 344.2 136.5 340.6 138.1 336.9 138.6 333.1 141.4 329.1 149.4 324.9 151.4 320.5 152.5 315.8 152.5 310.9 152.5 305.5 162.1 299.8 164.3 293.5 169.9 286.6 182.2 278.8 190.1 269.9 190.1 259.6 202.2 247 209.6 231 223.6 208.7 227 171.1M88.4 453.3 90.9 442.8 91.9 435.6 94.4 429.8 97.4 424.9 98.8 420.4 100.6 416.4 102.1 412.6 102.2 409.1 102.6 405.7 104.4 402.4 105.5 399.2 105.5 396.1 106 393.1 106 390.1 106 387.2 106.1 384.2 106.4 381.3 112.6 378.4 112.6 375.5 116.8 372.5 116.8 369.6 116.8 366.6 116.8 363.6 116.8 360.5 116.8 357.4 116.8 354.2 119.6 351 119.6 347.6 120.3 344.2 122.4 340.6 124.4 336.9 127.8 333.1 130.4 329.1 130.4 324.9 130.4 320.5 130.4 315.8 130.4 310.9 130.4 305.5 138.3 299.8 146.4 293.5 154.6 286.6 156.6 278.8 156.7 269.9 157.7 259.6 170.1 247 174.8 231 183.9 208.7 194.8 171.1M81.6 453.3 89.6 442.8 91.2 435.6 94.3 429.8 95.6 424.9 96.1 420.4 98.7 416.4 100.1 412.6 100.1 409.1 102.7 405.7 104 402.4 105.3 399.2 105.3 396.1 106.6 393.1 106.6 390.1 107.6 387.2 110.7 384.2 114.6 381.3 119.1 378.4 119.1 375.5 119.1 372.5 119.1 369.6 119.1 366.6 119.1 363.6 119.1 360.5 119.1 357.4 119.1 354.2 119.1 351 119.1 347.6 119.1 344.2 119.4 340.6 119.4 336.9 121.2 333.1 124.6 329.1 124.9 324.9 124.9 320.5 125.2 315.8 126.4 310.9 126.8 305.5 133.2 299.8 135.2 293.5 139 286.6 140.8 278.8 141.1 269.9 141.8 259.6 153.4 247 158.1 231 175.8 208.7 213.7 171.1M67.1 453.3 70.4 442.8 78.6 435.6 78.6 429.8 80.5 424.9 81.3 420.4 84.5 416.4 86.9 412.6 88.6 409.1 96.4 405.7 96.4 402.4 96.4 399.2 98 396.1 98.8 393.1 98.8 390.1 98.8 387.2 99.8 384.2 105.3 381.3 106.9 378.4 106.9 375.5 106.9 372.5 106.9 369.6 108.9 366.6 109.3 363.6 111.8 360.5 111.8 357.4 115.3 354.2 122.2 351 123.5 347.6 124.6 344.2 124.6 340.6 125.1 336.9 126.7 333.1 137.1 329.1 137.1 324.9 137.1 320.5 137.1 315.8 142.5 310.9 158.9 305.5 163.2 299.8 169.3 293.5 176.8 286.6 184 278.8 188.8 269.9 188.8 259.6 198.6 247 214.1 231 232.7 208.7 235.3 171.1M76.5 453.3 80.1 442.8 82.4 435.6 86.5 429.8 87.3 424.9 90.2 420.4 93.9 416.4 94 412.6 98.6 409.1 98.6 405.7 98.6 402.4 98.6 399.2 98.6 396.1 98.6 393.1 98.6 390.1 99.4 387.2 102 384.2 102 381.3 102.3 378.4 102.3 375.5 102.3 372.5 102.3 369.6 103.8 366.6 104.3 363.6 105 360.5 105 357.4 106.2 354.2 111.8 351 112.9 347.6 113.8 344.2 114.7 340.6 115.4 336.9 117.3 333.1 118.4 329.1 119.4 324.9 120.8 320.5 123 315.8 124.4 310.9 125.2 305.5 134.3 299.8 137.6 293.5 141.8 286.6 142 278.8 143.2 269.9 143.5 259.6 154.7 247 158.8 231 169.6 208.7 180.2 171.1M77.9 453.3 85.1 442.8 88 435.6 88.8 429.8 93.7 424.9 98.1 420.4 100.1 416.4 100.8 412.6 103.1 409.1 103.3 405.7 105.3 402.4 113.2 399.2 113.2 396.1 113.4 393.1 113.4 390.1 114.3 387.2 115.5 384.2 116.8 381.3 122.4 378.4 123.5 375.5 124.1 372.5 124.1 369.6 124.3 366.6 125.2 363.6 128.5 360.5 128.5 357.4 131.7 354.2 134.6 351 137.2 347.6 139.3 344.2 140.7 340.6 143.6 336.9 143.7 333.1 143.7 329.1 145.7 324.9 146 320.5 146 315.8 146 310.9 146 305.5 146.4 299.8 148.7 293.5 151 286.6 156.1 278.8 163.6 269.9 163.6 259.6 172.8 247 174.2 231 191.5 208.7 224.4 171.1M62.1 453.3 69.8 442.8 73.9 435.6 76.1 429.8 78.8 424.9 80.7 420.4 83.1 416.4 88 412.6 88.2 409.1 89.3 405.7 89.8 402.4 89.8 399.2 89.8 396.1 91.4 393.1 92 390.1 92 387.2 94.4 384.2 95 381.3 100.2 378.4 102 375.5 102 372.5 102 369.6 106.3 366.6 111.7 363.6 111.7 360.5 111.7 357.4 115.1 354.2 121.6 351 126.8 347.6 126.8 344.2 131.5 340.6 137.1 336.9 137.1 333.1 137.1 329.1 137.1 324.9 137.1 320.5 139 315.8 150.9 310.9 150.9 305.5 154 299.8 154.8 293.5 159.6 286.6 162 278.8 166.6 269.9 166.6 259.6 184.3 247 193.8 231 199.7 208.7 237.4 171.1M67 453.3 73.1 442.8 76.2 435.6 82.5 429.8 83.3 424.9 84.1 420.4 84.9 416.4 85.4 412.6 86.5 409.1 89.7 405.7 91.7 402.4 91.7 399.2 91.7 396.1 92.4 393.1 96.7 390.1 96.7 387.2 96.7 384.2 96.7 381.3 97 378.4 97 375.5 97 372.5 99.5 369.6 101 366.6 101.5 363.6 105.9 360.5 105.9 357.4 112.5 354.2 116 351 116 347.6 117.7 344.2 119.6 340.6 119.6 336.9 120.1 333.1 122.9 329.1 124.6 324.9 129.3 320.5 133.5 315.8 136 310.9 137.4 305.5 144 299.8 150.9 293.5 152.6 286.6 155.6 278.8 155.6 269.9 155.6 259.6 166.3 247 170.5 231 188.8 208.7 202.2 171.1M65.2 453.3 68 442.8 74.3 435.6 77.7 429.8 78.9 424.9 80.6 420.4 84.7 416.4 91.9 412.6 92.1 409.1 93.4 405.7 93.7 402.4 93.7 399.2 93.7 396.1 97.2 393.1 99.6 390.1 99.6 387.2 99.6 384.2 103.9 381.3 108.6 378.4 113.7 375.5 115.2 372.5 119.8 369.6 123.8 366.6 124.3 363.6 125 360.5 125 357.4 125 354.2 128.2 351 128.2 347.6 128.2 344.2 128.2 340.6 128.2 336.9 128.2 333.1 128.2 329.1 130.9 324.9 130.9 320.5 130.9 315.8 130.9 310.9 132.5 305.5 145.4 299.8 145.4 293.5 147.5 286.6 158.8 278.8 170.5 269.9 183.4 259.6 192.6 247 202.9 231 224.3 208.7 227.4 171.1M75.3 453.3 80.8 442.8 81.9 435.6 88.4 429.8 91.5 424.9 92 420.4 92.1 416.4 92.4 412.6 95 409.1 96.8 405.7 98.8 402.4 99.4 399.2 99.4 396.1 99.8 393.1 106.2 390.1 106.2 387.2 106.9 384.2 109.3 381.3 109.3 378.4 109.3 375.5 110.6 372.5 111.3 369.6 116 366.6 117.3 363.6 118 360.5 120.2 357.4 130.6 354.2 134.5 351 138.5 347.6 138.5 344.2 138.5 340.6 141.1 336.9 141.1 333.1 141.1 329.1 141.9 324.9 143.4 320.5 148.5 315.8 148.5 310.9 148.5 305.5 152.6 299.8 155.5 293.5 156.9 286.6 160.4 278.8 161.1 269.9 161.8 259.6 171.1 247 188 231 200.9 208.7 242.8 171.1M62.3 453.3 65.7 442.8 68.7 435.6 72.9 429.8 76.7 424.9 78.2 420.4 83.1 416.4 84 412.6 88.5 409.1 91.6 405.7 95.2 402.4 95.9 399.2 95.9 396.1 99 393.1 99.4 390.1 103.9 387.2 104.2 384.2 110.5 381.3 118.7 378.4 118.7 375.5 122.6 372.5 123 369.6 127.5 366.6 129.7 363.6 130.3 360.5 130.3 357.4 130.3 354.2 136.3 351 142.5 347.6 146.6 344.2 146.6 340.6 148.5 336.9 148.5 333.1 148.5 329.1 155.2 324.9 158.3 320.5 162.7 315.8 164.9 310.9 167.6 305.5 168.5 299.8 170.8 293.5 173.4 286.6 176.1 278.8 179.7 269.9 179.7 259.6 209.3 247 236.5 231 291.4 208.7 293.5 171.1M79.7 453.3 86.8 442.8 89.6 435.6 92.3 429.8 95.7 424.9 96.7 420.4 98.5 416.4 101 412.6 104.7 409.1 108.1 405.7 108.8 402.4 111 399.2 111 396.1 112.1 393.1 112.5 390.1 116.9 387.2 120.9 384.2 121.4 381.3 123.8 378.4 124.2 375.5 124.7 372.5 125.7 369.6 128.5 366.6 128.5 363.6 128.5 360.5 128.5 357.4 128.5 354.2 129.6 351 130.8 347.6 135.4 344.2 135.4 340.6 139.4 336.9 141.1 333.1 144.1 329.1 144.4 324.9 144.7 320.5 145.7 315.8 149.8 310.9 154.4 305.5 156.9 299.8 158.5 293.5 161.7 286.6 163.5 278.8 166.7 269.9 169.5 259.6 178 247 182.2 231 193.3 208.7 205.1 171.1M84.8 453.3 90.2 442.8 95 435.6 97.6 429.8 99 424.9 100.6 420.4 103.9 416.4 104.9 412.6 106 409.1 108.3 405.7 110.5 402.4 113.3 399.2 113.3 396.1 114.6 393.1 116 390.1 118.6 387.2 120.8 384.2 121.7 381.3 123.1 378.4 123.1 375.5 123.3 372.5 123.7 369.6 123.7 366.6 124.2 363.6 125.2 360.5 125.2 357.4 125.2 354.2 129.1 351 129.1 347.6 130.6 344.2 130.6 340.6 130.6 336.9 130.6 333.1 130.6 329.1 138.1 324.9 140.7 320.5 141.6 315.8 146.7 310.9 146.7 305.5 149 299.8 150.2 293.5 151.8 286.6 151.8 278.8 153.9 269.9 156.3 259.6 162.7 247 168.9 231 183 208.7 206 171.1M60.5 453.3 65.4 442.8 70.1 435.6 72.5 429.8 75.8 424.9 80.2 420.4 81.6 416.4 83.1 412.6 85.1 409.1 85.9 405.7 87.3 402.4 87.3 399.2 87.3 396.1 89.2 393.1 90.8 390.1 90.8 387.2 92.6 384.2 97.2 381.3 98.2 378.4 98.3 375.5 98.3 372.5 98.3 369.6 101.2 366.6 103.4 363.6 103.8 360.5 104.2 357.4 107.1 354.2 115.1 351 115.2 347.6 116.1 344.2 119.9 340.6 123.2 336.9 126.4 333.1 128.1 329.1 132.8 324.9 132.8 320.5 134 315.8 134.2 310.9 134.2 305.5 140 299.8 149.2 293.5 151.5 286.6 152.1 278.8 162.3 269.9 169.2 259.6 181.2 247 187.1 231 200.5 208.7 216.6 171.1M64 453.3 71.6 442.8 72.2 435.6 75 429.8 77.4 424.9 79.2 420.4 80.4 416.4 81.8 412.6 83.6 409.1 84.7 405.7 87.5 402.4 87.5 399.2 87.5 396.1 89.6 393.1 92.8 390.1 94.4 387.2 99.7 384.2 99.7 381.3 101 378.4 101 375.5 101 372.5 104.6 369.6 108.6 366.6 111.4 363.6 113.1 360.5 113.1 357.4 113.1 354.2 122.5 351 128.2 347.6 132.8 344.2 132.8 340.6 136.1 336.9 137.1 333.1 137.3 329.1 137.3 324.9 144 320.5 149.8 315.8 153.6 310.9 153.6 305.5 159.4 299.8 167 293.5 169 286.6 171.5 278.8 184.3 269.9 184.3 259.6 201.5 247 214.4 231 238.7 208.7 285 171.1M68.5 453.3 74.5 442.8 92.7 435.6 93.2 429.8 94.9 424.9 97.9 420.4 99.6 416.4 101.4 412.6 102 409.1 105.3 405.7 106.2 402.4 109.5 399.2 110.1 396.1 112 393.1 112 390.1 114.8 387.2 118.2 384.2 118.2 381.3 121 378.4 121.9 375.5 123 372.5 123 369.6 123 366.6 123.1 363.6 125.3 360.5 125.3 357.4 125.6 354.2 130.1 351 130.1 347.6 130.1 344.2 136.2 340.6 138.7 336.9 139 333.1 139 329.1 139 324.9 140.2 320.5 145.8 315.8 155.8 310.9 155.8 305.5 159.7 299.8 162.3 293.5 166.4 286.6 176 278.8 179 269.9 179.5 259.6 190.7 247 193.5 231 201.8 208.7 222.8 171.1M72.4 453.3 80.5 442.8 80.5 435.6 80.6 429.8 81.4 424.9 83.1 420.4 83.6 416.4 84.7 412.6 89.2 409.1 97.8 405.7 97.9 402.4 97.9 399.2 106.6 396.1 112.8 393.1 114.2 390.1 114.9 387.2 116.4 384.2 116.4 381.3 117.5 378.4 117.5 375.5 117.7 372.5 117.7 369.6 118.1 366.6 119.7 363.6 119.9 360.5 119.9 357.4 132.3 354.2 136.6 351 136.6 347.6 139.8 344.2 140.6 340.6 145.3 336.9 145.3 333.1 145.6 329.1 150.7 324.9 156.6 320.5 159.6 315.8 160.6 310.9 170.2 305.5 176.4 299.8 180.4 293.5 185.6 286.6 192.8 278.8 198.4 269.9 198.7 259.6 209 247 218.3 231 234 208.7 238.4 171.1M79.9 453.3 91.6 442.8 94.9 435.6 95.6 429.8 97.2 424.9 100.8 420.4 102.6 416.4 105 412.6 107.7 409.1 109.9 405.7 111.1 402.4 115.2 399.2 115.2 396.1 117.1 393.1 118 390.1 119.7 387.2 121.1 384.2 121.2 381.3 123.3 378.4 123.7 375.5 125.2 372.5 125.4 369.6 125.6 366.6 128.3 363.6 129.9 360.5 129.9 357.4 129.9 354.2 138.9 351 141.5 347.6 141.6 344.2 142.2 340.6 143.1 336.9 143.1 333.1 145.7 329.1 151.5 324.9 152.9 320.5 156.4 315.8 162.3 310.9 162.9 305.5 164 299.8 167.4 293.5 169 286.6 170.4 278.8 177.1 269.9 177.1 259.6 190.9 247 197.6 231 218.9 208.7 225.8 171.1M77.8 453.3 78.6 442.8 89.8 435.6 90.2 429.8 93 424.9 94.1 420.4 98.8 416.4 101.6 412.6 102.1 409.1 104.4 405.7 105 402.4 107.7 399.2 107.7 396.1 108.8 393.1 109.4 390.1 109.9 387.2 110 384.2 110 381.3 110 378.4 110 375.5 110.8 372.5 110.8 369.6 110.8 366.6 111.3 363.6 111.3 360.5 111.3 357.4 111.3 354.2 117.5 351 117.5 347.6 120.6 344.2 127.3 340.6 129.9 336.9 130.8 333.1 134.3 329.1 135.8 324.9 135.8 320.5 135.8 315.8 135.8 310.9 135.8 305.5 141.7 299.8 146.5 293.5 153.2 286.6 154.3 278.8 155.5 269.9 155.5 259.6 167.7 247 201.6 231 208.5 208.7 235.1 171.1M62.8 453.3 74.8 442.8 75.3 435.6 75.6 429.8 79.7 424.9 81.6 420.4 83.4 416.4 84.4 412.6 86.7 409.1 87.3 405.7 88.7 402.4 88.7 399.2 88.7 396.1 90.8 393.1 97.5 390.1 97.5 387.2 98.5 384.2 98.5 381.3 99.4 378.4 100.8 375.5 101.3 372.5 108.4 369.6 111.2 366.6 111.2 363.6 115.6 360.5 117.1 357.4 118.5 354.2 121.7 351 131.8 347.6 131.8 344.2 139.4 340.6 146.1 336.9 146.1 333.1 146.1 329.1 146.9 324.9 150.5 320.5 153 315.8 153.2 310.9 161 305.5 161 299.8 162.4 293.5 171.5 286.6 176.6 278.8 180.5 269.9 180.7 259.6 190.1 247 193.3 231 237.7 208.7 255.5 171.1M78 453.3 91.1 442.8 93.3 435.6 96.4 429.8 100.2 424.9 103.4 420.4 105.5 416.4 107.4 412.6 109.1 409.1 110.1 405.7 112.2 402.4 115.3 399.2 116.7 396.1 119.3 393.1 119.6 390.1 121.8 387.2 122.9 384.2 124.8 381.3 127.3 378.4 128.8 375.5 130.5 372.5 131.4 369.6 133.3 366.6 135.2 363.6 137.3 360.5 137.6 357.4 139.8 354.2 145.2 351 147 347.6 149.3 344.2 150.4 340.6 153.7 336.9 153.7 333.1 153.7 329.1 153.7 324.9 154.9 320.5 154.9 315.8 154.9 310.9 157.4 305.5 157.9 299.8 159.6 293.5 160.7 286.6 164.2 278.8 171.2 269.9 176.6 259.6 189.9 247 196.4 231 209.9 208.7 227.9 171.1M60.6 453.3 64.9 442.8 68.2 435.6 70.7 429.8 73.6 424.9 77.1 420.4 79.4 416.4 80.9 412.6 82.7 409.1 85 405.7 87.8 402.4 87.8 399.2 87.8 396.1 88.2 393.1 89.8 390.1 89.8 387.2 91.7 384.2 94.3 381.3 96.3 378.4 96.3 375.5 97 372.5 101.6 369.6 108.4 366.6 112.1 363.6 118.1 360.5 118.1 357.4 122.8 354.2 127.3 351 131 347.6 137.3 344.2 138.5 340.6 140.6 336.9 143.5 333.1 150.5 329.1 154.8 324.9 158.5 320.5 159.6 315.8 163.6 310.9 164.7 305.5 164.7 299.8 166.9 293.5 177.7 286.6 184.9 278.8 187.7 269.9 187.7 259.6 194.9 247 214.6 231 271.7 208.7 302.4 171.1M71.4 453.3 76 442.8 77.7 435.6 77.8 429.8 80.7 424.9 84 420.4 85.8 416.4 88.5 412.6 91.5 409.1 95.5 405.7 96.8 402.4 96.8 399.2 96.8 396.1 98.2 393.1 98.2 390.1 98.7 387.2 101.6 384.2 101.6 381.3 105.6 378.4 106.2 375.5 107 372.5 107 369.6 110.6 366.6 115.2 363.6 115.2 360.5 115.2 357.4 115.2 354.2 117 351 117 347.6 120.7 344.2 122.1 340.6 122.1 336.9 123.6 333.1 124.4 329.1 124.4 324.9 127.8 320.5 129.8 315.8 130 310.9 133.9 305.5 139.4 299.8 145.7 293.5 150.3 286.6 150.3 278.8 158.3 269.9 158.3 259.6 167.3 247 193.7 231 205 208.7 233.1 171.1M77 453.3 78 442.8 82 435.6 83.8 429.8 84.9 424.9 85.3 420.4 96 416.4 99.1 412.6 100.4 409.1 100.4 405.7 101.1 402.4 104.9 399.2 104.9 396.1 106.5 393.1 108.6 390.1 108.6 387.2 111 384.2 111 381.3 111 378.4 111 375.5 112.6 372.5 112.6 369.6 112.6 366.6 117.6 363.6 121.7 360.5 121.7 357.4 122.3 354.2 128.2 351 128.2 347.6 128.3 344.2 128.8 340.6 132.9 336.9 132.9 333.1 132.9 329.1 132.9 324.9 132.9 320.5 133.1 315.8 133.4 310.9 134.9 305.5 146.1 299.8 146.2 293.5 148.7 286.6 158.4 278.8 161.7 269.9 161.7 259.6 167.8 247 184.9 231 204.4 208.7 220.7 171.1M86.4 453.3 89.9 442.8 90.9 435.6 92.5 429.8 96.1 424.9 101.1 420.4 104.8 416.4 105.7 412.6 109.3 409.1 111.4 405.7 112.5 402.4 115.7 399.2 115.9 396.1 118.5 393.1 118.6 390.1 121.9 387.2 123.5 384.2 124.3 381.3 126.7 378.4 127.8 375.5 129.2 372.5 129.7 369.6 130.9 366.6 133.7 363.6 135.4 360.5 135.4 357.4 135.7 354.2 140.2 351 140.3 347.6 140.3 344.2 141.5 340.6 145.5 336.9 145.5 333.1 145.5 329.1 146.3 324.9 146.6 320.5 146.6 315.8 148.9 310.9 148.9 305.5 150 299.8 152.6 293.5 155.8 286.6 156.8 278.8 160.5 269.9 160.5 259.6 181.5 247 187.4 231 220.8 208.7 226.9 171.1M66.2 453.3 75.2 442.8 78 435.6 79.2 429.8 82.4 424.9 84.2 420.4 85.1 416.4 89.4 412.6 89.7 409.1 90.7 405.7 96 402.4 97.3 399.2 103.7 396.1 108.5 393.1 110.7 390.1 110.7 387.2 110.7 384.2 112.2 381.3 113.4 378.4 113.4 375.5 113.4 372.5 113.4 369.6 115.1 366.6 116.8 363.6 117 360.5 117.7 357.4 118.2 354.2 121.2 351 121.2 347.6 127.1 344.2 134.6 340.6 136.9 336.9 136.9 333.1 136.9 329.1 137.2 324.9 139.9 320.5 140.6 315.8 146.5 310.9 146.5 305.5 153 299.8 154.1 293.5 158.7 286.6 161.4 278.8 166.2 269.9 166.2 259.6 171.9 247 176.9 231 187.1 208.7 209.8 171.1M64.1 453.3 70.3 442.8 79.5 435.6 84.6 429.8 85.3 424.9 92.7 420.4 94 416.4 95.2 412.6 99.9 409.1 100.9 405.7 100.9 402.4 100.9 399.2 100.9 396.1 101.1 393.1 102.2 390.1 102.2 387.2 104.9 384.2 105.4 381.3 110.6 378.4 111 375.5 111.1 372.5 112.3 369.6 112.4 366.6 112.4 363.6 118.3 360.5 120.6 357.4 120.6 354.2 124.7 351 127.8 347.6 127.8 344.2 127.8 340.6 128.7 336.9 133.5 333.1 136.5 329.1 136.9 324.9 136.9 320.5 136.9 315.8 137.5 310.9 141.7 305.5 147.1 299.8 149.7 293.5 159.4 286.6 166.6 278.8 191.4 269.9 191.4 259.6 198.4 247 202 231 219.2 208.7 228.7 171.1M74 453.3 80.3 442.8 86.4 435.6 93.4 429.8 94.6 424.9 95 420.4 96.8 416.4 98.7 412.6 99.6 409.1 101.6 405.7 101.6 402.4 102.9 399.2 108.1 396.1 112 393.1 112.3 390.1 116.1 387.2 119.5 384.2 119.8 381.3 121.6 378.4 122.3 375.5 122.8 372.5 124.2 369.6 127.6 366.6 128 363.6 130.8 360.5 131.2 357.4 133.1 354.2 140.8 351 141.3 347.6 148 344.2 148.4 340.6 153 336.9 153 333.1 153 329.1 153 324.9 156.8 320.5 157.9 315.8 157.9 310.9 158.7 305.5 162.8 299.8 166.8 293.5 169.3 286.6 174 278.8 180.9 269.9 181.9 259.6 187.6 247 195.9 231 213.8 208.7 309.5 171.1M77.3 453.3 77.3 442.8 80.6 435.6 80.9 429.8 84 424.9 86.8 420.4 89.4 416.4 92 412.6 92.8 409.1 92.8 405.7 93.5 402.4 93.5 399.2 93.5 396.1 93.5 393.1 93.5 390.1 93.5 387.2 94.9 384.2 95.1 381.3 97.5 378.4 97.5 375.5 97.5 372.5 98.4 369.6 99.7 366.6 103 363.6 104.4 360.5 104.4 357.4 106.4 354.2 111.9 351 111.9 347.6 113.4 344.2 114.7 340.6 115 336.9 117.9 333.1 119 329.1 120.8 324.9 121.2 320.5 125.7 315.8 127.5 310.9 127.5 305.5 136.5 299.8 140.1 293.5 143.9 286.6 145.3 278.8 145.7 269.9 145.7 259.6 156.6 247 160.8 231 180.4 208.7 192.6 171.1M79.4 453.3 83.9 442.8 83.9 435.6 86.4 429.8 86.8 424.9 87.3 420.4 87.9 416.4 88.7 412.6 91.3 409.1 91.3 405.7 92.5 402.4 92.5 399.2 92.5 396.1 92.5 393.1 92.5 390.1 92.5 387.2 93.4 384.2 94.5 381.3 99.9 378.4 99.9 375.5 99.9 372.5 99.9 369.6 99.9 366.6 101.4 363.6 102.9 360.5 102.9 357.4 104.2 354.2 109.7 351 110.3 347.6 114.2 344.2 115.1 340.6 116.2 336.9 118.6 333.1 120.2 329.1 122.8 324.9 123.7 320.5 125.9 315.8 127.8 310.9 127.8 305.5 132.9 299.8 135.7 293.5 148.2 286.6 158.2 278.8 158.2 269.9 158.2 259.6 168.2 247 169.5 231 193.8 208.7 240.5 171.1M74 453.3 75 442.8 90.5 435.6 92.4 429.8 95.4 424.9 98.2 420.4 98.6 416.4 98.8 412.6 99.6 409.1 101.1 405.7 101.1 402.4 107.3 399.2 107.3 396.1 107.3 393.1 107.3 390.1 107.3 387.2 107.3 384.2 107.3 381.3 107.3 378.4 107.3 375.5 107.3 372.5 107.3 369.6 107.3 366.6 112.3 363.6 113.2 360.5 113.6 357.4 116 354.2 120.7 351 123.5 347.6 129.9 344.2 129.9 340.6 131.8 336.9 135 333.1 135 329.1 135.9 324.9 138.3 320.5 138.4 315.8 140.5 310.9 140.5 305.5 143.2 299.8 147.1 293.5 148.8 286.6 153.8 278.8 159 269.9 159 259.6 176.5 247 183.2 231 190.3 208.7 213.4 171.1M67.9 453.3 70 442.8 77.2 435.6 77.9 429.8 85.8 424.9 89.2 420.4 89.2 416.4 89.3 412.6 90.6 409.1 91.1 405.7 92.8 402.4 92.8 399.2 92.8 396.1 94.1 393.1 96.1 390.1 96.1 387.2 97.2 384.2 98.7 381.3 103.1 378.4 104.5 375.5 105.6 372.5 105.6 369.6 105.6 366.6 105.6 363.6 107 360.5 107 357.4 107.3 354.2 113.1 351 113.3 347.6 114.3 344.2 116.1 340.6 116.9 336.9 119.9 333.1 121.3 329.1 121.6 324.9 121.9 320.5 123.8 315.8 126.3 310.9 128.2 305.5 135.7 299.8 138.8 293.5 141.3 286.6 144.1 278.8 159.6 269.9 164 259.6 173.9 247 190.4 231 209.1 208.7 233.7 171.1M64.4 453.3 73.8 442.8 74.8 435.6 81.9 429.8 82.8 424.9 86.1 420.4 89.2 416.4 91.3 412.6 91.8 409.1 92.4 405.7 93 402.4 93 399.2 94.1 396.1 97 393.1 100.9 390.1 100.9 387.2 104.8 384.2 104.8 381.3 105.9 378.4 107.3 375.5 107.3 372.5 107.3 369.6 108.5 366.6 110.3 363.6 112.5 360.5 112.5 357.4 112.5 354.2 124.4 351 124.4 347.6 124.4 344.2 124.4 340.6 124.4 336.9 124.4 333.1 124.6 329.1 125.9 324.9 126.2 320.5 132 315.8 140 310.9 148.3 305.5 152.5 299.8 160.1 293.5 166.9 286.6 168.2 278.8 170.8 269.9 170.8 259.6 191.2 247 203.3 231 221.2 208.7 236.1 171.1M78.6 453.3 93.1 442.8 95.9 435.6 98.4 429.8 101.2 424.9 104 420.4 105.9 416.4 107.8 412.6 110.4 409.1 111.6 405.7 112.6 402.4 115.8 399.2 116.1 396.1 118.7 393.1 118.7 390.1 120.1 387.2 122 384.2 123.2 381.3 125.1 378.4 125.8 375.5 126.6 372.5 126.7 369.6 127.9 366.6 128.6 363.6 128.6 360.5 128.6 357.4 132.1 354.2 136.1 351 138.4 347.6 140.1 344.2 141.4 340.6 147 336.9 147 333.1 148 329.1 148 324.9 150.1 320.5 152.6 315.8 154.5 310.9 154.5 305.5 154.5 299.8 156.7 293.5 157.8 286.6 162 278.8 169.1 269.9 169.1 259.6 188.2 247 197.3 231 222.7 208.7 228.8 171.1M81.8 453.3 82.7 442.8 85.8 435.6 93.5 429.8 95.7 424.9 97.1 420.4 98.5 416.4 99.9 412.6 101.8 409.1 101.9 405.7 101.9 402.4 112.2 399.2 112.5 396.1 115.1 393.1 116.9 390.1 117.7 387.2 121.2 384.2 121.8 381.3 123.8 378.4 125.5 375.5 126.4 372.5 126.4 369.6 127.4 366.6 128.4 363.6 129.3 360.5 130.6 357.4 132 354.2 138.7 351 143.4 347.6 145.4 344.2 147.6 340.6 151.3 336.9 151.3 333.1 151.3 329.1 152.6 324.9 156.9 320.5 159.4 315.8 160.7 310.9 162.7 305.5 163 299.8 166.4 293.5 173.1 286.6 178.4 278.8 179.6 269.9 188.7 259.6 198.3 247 205.8 231 216.6 208.7 232.4 171.1M69.3 453.3 85 442.8 87.9 435.6 88.2 429.8 94.3 424.9 96.2 420.4 99 416.4 99.3 412.6 100.3 409.1 101.1 405.7 102.4 402.4 102.4 399.2 104.6 396.1 108.9 393.1 108.9 390.1 110.3 387.2 110.7 384.2 113.5 381.3 115.5 378.4 115.8 375.5 126.6 372.5 126.9 369.6 129.2 366.6 130.9 363.6 132.1 360.5 132.6 357.4 134.4 354.2 137.9 351 137.9 347.6 141.2 344.2 142.9 340.6 146 336.9 148 333.1 148.1 329.1 148.2 324.9 151 320.5 151.8 315.8 155.7 310.9 155.7 305.5 155.7 299.8 159.4 293.5 163.7 286.6 167.9 278.8 171.8 269.9 171.8 259.6 177.2 247 194 231 219.3 208.7 225.3 171.1M75.2 453.3 80.6 442.8 81.3 435.6 84.7 429.8 86.1 424.9 90 420.4 92.8 416.4 94.5 412.6 94.6 409.1 94.6 405.7 95.3 402.4 95.3 399.2 95.3 396.1 99.1 393.1 99.5 390.1 100.8 387.2 103.1 384.2 103.1 381.3 107.2 378.4 112.8 375.5 112.9 372.5 112.9 369.6 113.8 366.6 115.4 363.6 116.2 360.5 117.6 357.4 120 354.2 124.5 351 124.5 347.6 129 344.2 132.6 340.6 132.6 336.9 136.5 333.1 138.1 329.1 144.7 324.9 146.2 320.5 146.2 315.8 146.2 310.9 147.3 305.5 157.2 299.8 159.5 293.5 161.4 286.6 175.2 278.8 181.7 269.9 185.5 259.6 196.1 247 206.2 231 234.7 208.7 268.5 171.1M77 453.3 77.3 442.8 80.9 435.6 80.9 429.8 89.5 424.9 91.2 420.4 91.4 416.4 91.7 412.6 93.4 409.1 94.4 405.7 94.4 402.4 94.4 399.2 99.9 396.1 102.2 393.1 105 390.1 105.2 387.2 105.6 384.2 110.6 381.3 111.3 378.4 111.3 375.5 111.3 372.5 111.3 369.6 111.7 366.6 112.6 363.6 112.9 360.5 112.9 357.4 122.9 354.2 125.6 351 125.6 347.6 125.8 344.2 127.5 340.6 134 336.9 134 333.1 134 329.1 134 324.9 134 320.5 134 315.8 134 310.9 134 305.5 137.8 299.8 141.5 293.5 144.1 286.6 146.6 278.8 147.5 269.9 149.1 259.6 173.4 247 175.3 231 181.3 208.7 203.8 171.1" stroke="#b06a30" stroke-opacity="0.14" stroke-width="0.55" fill="none"/><path d="M57.1 453.3H90.5M63.1 442.8H94.7M67.2 435.6H97.2M69.8 429.8H99.8M72.9 424.9H102.2M75.5 420.4H104.9M77.8 416.4H107.3M79.7 412.6H109.3M81.5 409.1H111.2M83.1 405.7H112.6M84.8 402.4H113.9M84.3 399.2H116.3M84.3 396.1H116.8M87.1 393.1H119.6M88.9 390.1H120M87.8 387.2H122.4M90.9 384.2H124M91.1 381.3H125.4M93.8 378.4H128M93.4 375.5H129.3M94 372.5H131.1M94.7 369.6H132.2M97.2 366.6H134.3M98.9 363.6H136.1M100.5 360.5H138.1M99.9 357.4H138.9M102.5 354.2H141M108.5 351H146.5M109.2 347.6H148.5M110.9 344.2H150.7M112.4 340.6H151.9M112.9 336.9H156M115.7 333.1H156M117 329.1H157.9M118.2 324.9H159.5M118.9 320.5H163.6M121 315.8H166.3M122.9 310.9H168.5M123.5 305.5H171.4M123.7 299.8H181.9M125.9 293.5H187M130.5 286.6H191M131.5 278.8H199.2M133 269.9H205.6M134.3 259.6H206.5M227.2 259.6H227.2M146.5 247H216.6M220 247H220M227.2 247H227.5M237 247H237M151 231H230M234 231H234M236.5 231H236.5M239 231H239M241.5 231H241.5M272.4 231H272.4M276 231H276M159.5 208.7H251M254 208.7H254M257 208.7H257M260.5 208.7H260.5M265 208.7H265M271.7 208.7H271.7M275.4 208.7H275.4M281.9 208.7H281.9M287.8 208.7H287.8M291.4 208.7H291.4M295.1 208.7H295.1M328.3 208.7H328.3M164.5 171.1H252M254 171.1H257M259.5 171.1H260.5M264.5 171.1H265M268.5 171.1H268.5M271.7 171.1H272M277 171.1H277M281 171.1H281M285 171.1H285M289.5 171.1H289.5M293.5 171.1H293.5M297.5 171.1H297.5M302.4 171.1H302.4M309.5 171.1H309.5M328.9 171.1H328.9M339 171.1H339M368.5 171.1H368.5M390.4 171.1H390.4" stroke="#ee7206" stroke-width="4.2" stroke-linecap="round" fill="none"/><path d="M59.1 453.3 65.1 442.8 69.2 435.6 71.8 429.8 74.9 424.9 77.5 420.4 79.8 416.4 81.7 412.6 83.5 409.1 85.1 405.7 86.8 402.4 88.2 399.2 89.6 396.1 91.1 393.1 92.6 390.1 94.1 387.2 95.5 384.2 96.6 381.3 97.7 378.4 98.9 375.5 100 372.5 101.1 369.6 102.3 366.6 103.5 363.6 104.7 360.5 106 357.4 107.4 354.2 108.6 351 109.9 347.6 111.2 344.2 112.7 340.6 114.3 336.9 115.8 333.1 117.3 329.1 118.9 324.9 120.2 320.5 121.5 315.8 122.9 310.9 125 305.5 127.1 299.8 129.7 293.5 132.2 286.6 134.6 278.8 137.3 269.9 140.6 259.6 143.8 247 148.4 231 154 208.7 161.7 171.1" stroke="#cc0011" stroke-width="1.3" fill="none"/><path d="M59.1 453.3h0M65.1 442.8h0M69.2 435.6h0M71.8 429.8h0M74.9 424.9h0M77.5 420.4h0M79.8 416.4h0M81.7 412.6h0M83.5 409.1h0M85.1 405.7h0M86.8 402.4h0M88.2 399.2h0M89.6 396.1h0M91.1 393.1h0M92.6 390.1h0M94.1 387.2h0M95.5 384.2h0M96.6 381.3h0M97.7 378.4h0M98.9 375.5h0M100 372.5h0M101.1 369.6h0M102.3 366.6h0M103.5 363.6h0M104.7 360.5h0M106 357.4h0M107.4 354.2h0M108.6 351h0M109.9 347.6h0M111.2 344.2h0M112.7 340.6h0M114.3 336.9h0M115.8 333.1h0M117.3 329.1h0M118.9 324.9h0M120.2 320.5h0M121.5 315.8h0M122.9 310.9h0M125 305.5h0M127.1 299.8h0M129.7 293.5h0M132.2 286.6h0M134.6 278.8h0M137.3 269.9h0M140.6 259.6h0M143.8 247h0M148.4 231h0M154 208.7h0M161.7 171.1h0" stroke="#cc0011" stroke-width="6.5" stroke-linecap="round" fill="none"/><path d="M91 453.3 95.2 442.8 97.7 435.6 100.3 429.8 102.7 424.9 105.4 420.4 107.8 416.4 109.8 412.6 111.7 409.1 113.1 405.7 114.4 402.4 115.6 399.2 116.8 396.1 118.2 393.1 119.8 390.1 121.5 387.2 123.3 384.2 125 381.3 126.8 378.4 128.5 375.5 130.3 372.5 131.9 369.6 133.6 366.6 135.2 363.6 136.9 360.5 138.7 357.4 140.6 354.2 142.5 351 144.5 347.6 146.7 344.2 149.4 340.6 152 336.9 154.2 333.1 156.4 329.1 158.5 324.9 161.1 320.5 163.8 315.8 167.5 310.9 170.9 305.5 176.4 299.8 180.9 293.5 186.9 286.6 193.2 278.8 200.9 269.9 210.9 259.6 224.2 247 243.2 231 278.7 208.7 394 171.1" stroke="#cc0011" stroke-width="1.3" fill="none"/><path d="M91 453.3h0M95.2 442.8h0M97.7 435.6h0M100.3 429.8h0M102.7 424.9h0M105.4 420.4h0M107.8 416.4h0M109.8 412.6h0M111.7 409.1h0M113.1 405.7h0M114.4 402.4h0M115.6 399.2h0M116.8 396.1h0M118.2 393.1h0M119.8 390.1h0M121.5 387.2h0M123.3 384.2h0M125 381.3h0M126.8 378.4h0M128.5 375.5h0M130.3 372.5h0M131.9 369.6h0M133.6 366.6h0M135.2 363.6h0M136.9 360.5h0M138.7 357.4h0M140.6 354.2h0M142.5 351h0M144.5 347.6h0M146.7 344.2h0M149.4 340.6h0M152 336.9h0M154.2 333.1h0M156.4 329.1h0M158.5 324.9h0M161.1 320.5h0M163.8 315.8h0M167.5 310.9h0M170.9 305.5h0M176.4 299.8h0M180.9 293.5h0M186.9 286.6h0M193.2 278.8h0M200.9 269.9h0M210.9 259.6h0M224.2 247h0M243.2 231h0M278.7 208.7h0M394 171.1h0" stroke="#cc0011" stroke-width="6.5" stroke-linecap="round" fill="none"/><path d="M71.4 463.2L243.3 96.6L259.9 60L266.3 46.2L271.3 34.2L274.6 26.5L278.5 18.8L282.6 11.6L283.8 9.5" stroke="#ff0000" stroke-width="3.3" fill="none" stroke-linejoin="round"/></g><rect x="149.7" y="162.4" width="260.7" height="17.8" fill="none" stroke="#555" stroke-width="1" stroke-dasharray="1.8 1.8"/><rect x="70.5" y="10.5" width="415" height="489" fill="none" stroke="#8c8c8c" stroke-width="1"/><g font-family="Liberation Sans, Arial, sans-serif" font-size="13.7" fill="#111" stroke="#111" stroke-width="0.25"><text x="66.2" y="14.9" text-anchor="end">0.999</text><text x="66.2" y="52.1" text-anchor="end">0.998</text><text x="66.2" y="101.3" text-anchor="end">0.995</text><text x="66.2" y="138.5" text-anchor="end">0.99</text><text x="66.2" y="176" text-anchor="end">0.98</text><text x="66.2" y="225.9" text-anchor="end">0.95</text><text x="66.2" y="264.5" text-anchor="end">0.9</text><text x="66.2" y="304.7" text-anchor="end">0.8</text><text x="66.2" y="329.8" text-anchor="end">0.7</text><text x="66.2" y="365.4" text-anchor="end">0.5</text><text x="66.2" y="466.9" text-anchor="end">0.01</text><text x="489.6" y="14.9">1000</text><text x="489.6" y="52.1">500</text><text x="489.6" y="101.3">200</text><text x="489.6" y="138.5">100</text><text x="489.6" y="176">50</text><text x="489.6" y="225.9">20</text><text x="489.6" y="264.5">10</text><text x="489.6" y="304.7">5</text><text x="489.6" y="329.8">3</text><text x="489.6" y="365.4">2</text><text x="489.6" y="466.9">1</text></g><g font-family="Liberation Sans, Arial, sans-serif" font-size="12" fill="#111" stroke="#111" stroke-width="0.2"><text x="70" y="513.3" text-anchor="middle">0</text><text x="104.6" y="513.3" text-anchor="middle">50</text><text x="139.2" y="513.3" text-anchor="middle">100</text><text x="173.9" y="513.3" text-anchor="middle">150</text><text x="208.5" y="513.3" text-anchor="middle">200</text><text x="243.1" y="513.3" text-anchor="middle">250</text><text x="277.8" y="513.3" text-anchor="middle">300</text><text x="312.4" y="513.3" text-anchor="middle">350</text><text x="347" y="513.3" text-anchor="middle">400</text><text x="381.6" y="513.3" text-anchor="middle">450</text><text x="416.2" y="513.3" text-anchor="middle">500</text><text x="450.9" y="513.3" text-anchor="middle">550</text><text x="485.5" y="513.3" text-anchor="middle">600</text></g><g font-family="Liberation Serif, Times New Roman, serif" font-size="21.35" fill="#111" stroke="#111" stroke-width="0.25"><text x="280.9" y="539.6" text-anchor="middle">Annual maximum 24-hour rainfall [mm]</text><text transform="translate(22.1 258) rotate(-90)" text-anchor="middle">Non-exceedance probability</text><text transform="translate(539 260.4) rotate(-90)" text-anchor="middle" font-size="21" xml:space="preserve">Return period   [years]</text></g><rect x="212" y="317.9" width="253.2" height="166.2" fill="#fff" stroke="#333" stroke-width="1.3"/><path d="M217.8 339.9H249.7" stroke="#ff0000" stroke-width="2.8"/><circle cx="233.9" cy="393.7" r="7.4" fill="#dd0011"/><circle cx="233.9" cy="453.8" r="7.4" fill="#ff9a0a"/><g font-family="Liberation Serif, Times New Roman, serif" font-size="12.95" fill="#000" stroke="#000" stroke-width="0.25"><text x="258" y="334.6">Gumbel distribution updated by</text><text x="258" y="350.2">MCMC</text><text x="258" y="374.3">Probability limit value of Gumbel</text><text x="258" y="389.6">distribution updated by MCMC</text><text x="258" y="405">corresponding to 5% two-sided</text><text x="258" y="420.3">probability</text><text x="258" y="444.3">Empirical distribution constructed</text><text x="258" y="459.6">from the future experiment</text></g><text x="256.6" y="473.2" font-family="Liberation Serif, Times New Roman, serif" font-size="11.15" fill="#000" stroke="#000" stroke-width="0.22">(500 empirical distributions are shown here)</text></svg>
</body></html>
